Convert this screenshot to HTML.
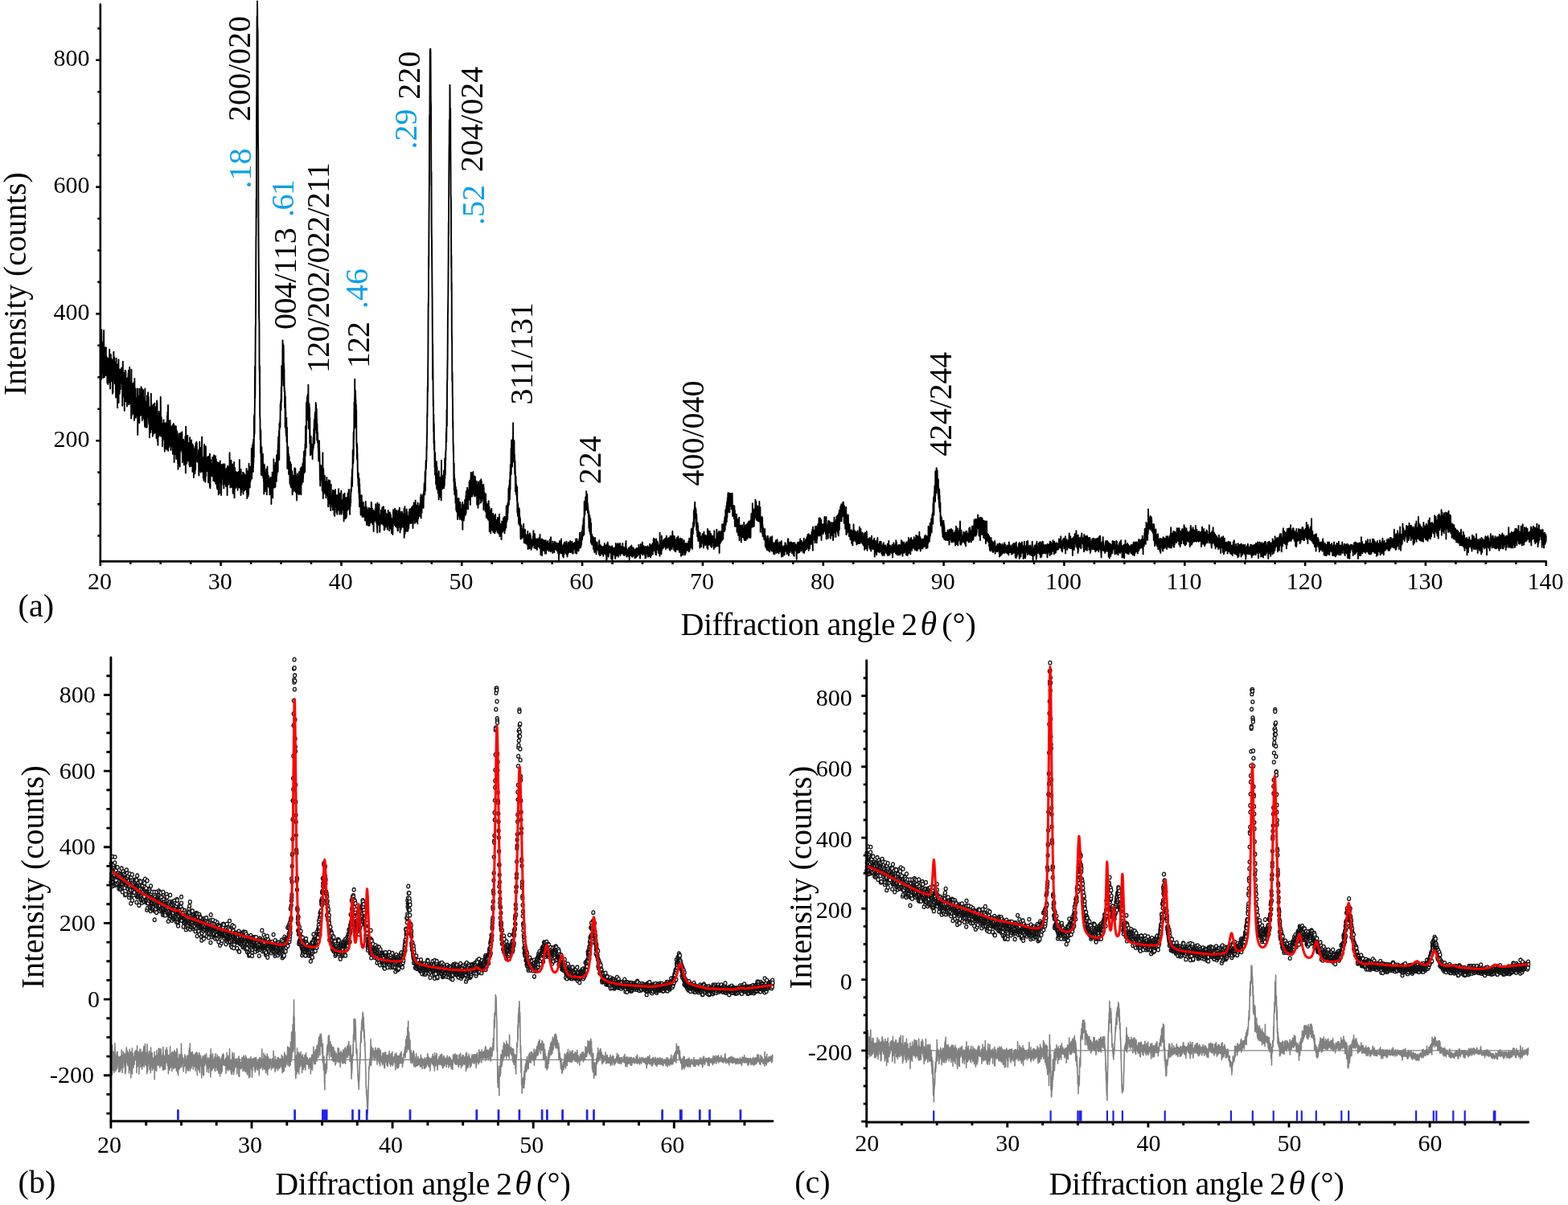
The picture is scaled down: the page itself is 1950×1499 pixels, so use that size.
<!DOCTYPE html><html><head><meta charset="utf-8"><title>XRD</title><style>html,body{margin:0;padding:0;background:#fff;overflow:hidden}svg{display:block}</style></head><body><svg xmlns="http://www.w3.org/2000/svg" width="1950" height="1499" viewBox="0 0 1950 1499" font-family="'Liberation Serif', 'Times New Roman', serif"><rect width="1950" height="1499" fill="#fff"/><defs><marker id="o" markerUnits="userSpaceOnUse" markerWidth="10" markerHeight="10" refX="5" refY="5" overflow="visible"><ellipse cx="5" cy="5" rx="1.95" ry="2.3" fill="#fff" stroke="#111" stroke-width="1.3"/></marker></defs><path transform="translate(124.80,0) scale(0.14983,0.1)" d="M0 4630l1-387 1 308 1-87 1-23 1 94 1 95 1-284 1 39 1 332 1-616 1 205 1 245 1-237 1 205 1-55 1-126 1 300 1-261 1-118 1 16 1 229 1-166 1 363 1-205 1-87 1 252 1-173 1-261 1-118 1 261 1-8 1 260 1 39 1 32 1-276 1-32 1 205 1 79 1-205 1-8 1 63 1-197 1 197 1 0 1 150 1-173 1-174 1 190 1 0 1-56 1 24 1-32 1 0 1-7 1 205 1-158 1 276 1-268 1 221 1-166 1-79 1 134 1-71 1 245 1-111 1-213 1 261 1-253 1 292 1-71 1 32 1-150 1-79 1 229 1-119 1-252 1 276 1 71 1-166 1 87 1 63 1 158 1-363 1 197 1-79 1 150 1-331 1 79 1-24 1 150 1-79 1-55 1-16 1 103 1 47 1 47 1 56 1 31 1-181 1 87 1 244 1-252 1-166 1 181 1 221 1-236 1-119 1 79 1 87 1-308 1-8 1 277 1-119 1 55 1-47 1-95 1 87 1 103 1 110 1 24 1-111 1-157 1 118 1 32 1-24 1 31 1-63 1 229 1 118 1-213 1 103 1-379 1 245 1 16 1 181 1-252 1 126 1-237 1 40 1 228 1-165 1 434 1-276 1-261 1 63 1 87 1 24 1 197 1-8 1-213 1-213 1 537 1-379 1 8 1-48 1 253 1-47 1-71 1 142 1 31 1-47 1-103 1-63 1 55 1-8 1 103 1 8 1-245 1 158 1 8 1-134 1-40 1-7 1 118 1 63 1-39 1 15 1-165 1 157 1-47 1 95 1-190 1 458 1-323 1-48 1 261 1-442 1 307 1 8 1 119 1-253 1 87 1 110 1-110 1-55 1-71 1 134 1 158 1-48 1 229 1-205 1-189 1 31 1 79 1 40 1-261 1 182 1-87 1 71 1 142 1-292 1 371 1 0 1-103 1 40 1-16 1 8 1-213 1 126 1-39 1 260 1-95 1-252 1 300 1-308 1 292 1-174 1 150 1-134 1 150 1-87 1-252 1 276 1-316 1 332 1 94 1-165 1 63 1-276 1 118 1-40 1 71 1-236 1 221 1 39 1 174 1 15 1-142 1-102 1-16 1 268 1-189 1 47 1 174 1-213 1 363 1-324 1-284 1 458 1-134 1 244 1-142 1-197 1 237 1-126 1 39 1 8 1-71 1-40 1-94 1 55 1 181 1-252 1 24 1 363 1-284 1-16 1-24 1 63 1 237 1-134 1 237 1-245 1-276 1 173 1-15 1 173 1 63 1 8 1-150 1 119 1-16 1-229 1 363 1-39 1-103 1-55 1 8 1 165 1-205 1 47 1-63 1 190 1-174 1 8 1 111 1-56 1 48 1-245 1 576 1-213 1 32 1-166 1 39 1-31 1-142 1 300 1-95 1-79 1 126 1-197 1 8 1 126 1 142 1-426 1 142 1 8 1 47 1 8 1-102 1 110 1 79 1-166 1 79 1 111 1 15 1-260 1 71 1-166 1 316 1 32 1-150 1-119 1 103 1 23 1-181 1 331 1 64 1-64 1-47 1-87 1-79 1 79 1-142 1 300 1-339 1 339 1-245 1 261 1-158 1 40 1-56 1-31 1 126 1-16 1-39 1 189 1-63 1 110 1-205 1-268 1 181 1 206 1-24 1-205 1 181 1 142 1-71 1 8 1-8 1-205 1 79 1 189 1-110 1 71 1 16 1 31 1-394 1 252 1-110 1-32 1 158 1-110 1 0 1 39 1-237 1 229 1 71 1-110 1-134 1 94 1 182 1 47 1 16 1-32 1-126 1-55 1 379 1-269 1 134 1-220 1-24 1 205 1-39 1 63 1-158 1 244 1-63 1-47 1-229 1-142 1 292 1 150 1-158 1 119 1-158 1 189 1-87 1-47 1-63 1 79 1-166 1 142 1 237 1-332 1 150 1 48 1-261 1 300 1-126 1 102 1-252 1 213 1-71 1 197 1-339 1 300 1-237 1-24 1-7 1-72 1 363 1-189 1 32 1-32 1-79 1 119 1 110 1-79 1-197 1 323 1-142 1 127 1-253 1 331 1-149 1-24 1-32 1-260 1 95 1 307 1-378 1 402 1 79 1-40 1-197 1-39 1 323 1-307 1 78 1-110 1 134 1-158 1 48 1 205 1-308 1 150 1-63 1-63 1 268 1-103 1 87 1 16 1-142 1-8 1-110 1-8 1 165 1 103 1-473 1 126 1 260 1 103 1-63 1-79 1-95 1 16 1 63 1 87 1-48 1 56 1-40 1 16 1-71 1 284 1-174 1-7 1 102 1-110 1 102 1-47 1-40 1 0 1 40 1-197 1 110 1-16 1 16 1 103 1 23 1-197 1 142 1 166 1 47 1-276 1 110 1-71 1 56 1-16 1-24 1 126 1-142 1-118 1 40 1 276 1-40 1 0 1-126 1-126 1 63 1 244 1-205 1-86 1 142 1-269 1 292 1-205 1-134 1 418 1-110 1-95 1-300 1 568 1-268 1 39 1 79 1 48 1-32 1-24 1 111 1-324 1 308 1-79 1 32 1-32 1-55 1 103 1-64 1-220 1 78 1 158 1-134 1 189 1-110 1 189 1-31 1-32 1-236 1 118 1-40 1 48 1-24 1 0 1-39 1 71 1 118 1-8 1-229 1-15 1 94 1 253 1-363 1 142 1 47 1-8 1 40 1-237 1 16 1 307 1-102 1-47 1-111 1 418 1-378 1-79 1 228 1-31 1-142 1 95 1 197 1-24 1-8 1 40 1-150 1 55 1-63 1-71 1-118 1 173 1 237 1-363 1 173 1-142 1 182 1-87 1 55 1-15 1-142 1 213 1-87 1-8 1 71 1 205 1-284 1 355 1-150 1-110 1-95 1-47 1 0 1 31 1 103 1-174 1 166 1-150 1 371 1-142 1-40 1-63 1 268 1-355 1-15 1 23 1 142 1-213 1 221 1-158 1 111 1-8 1 16 1-16 1-118 1-32 1 0 1 55 1 32 1 24 1-142 1 236 1 24 1-71 1 189 1-158 1-15 1 102 1-47 1-134 1 102 1-31 1-103 1 182 1 55 1-118 1-48 1 245 1-268 1 102 1 16 1 47 1-71 1-118 1 47 1-31 1 126 1-205 1 31 1 142 1 284 1-292 1-284 1 300 1 103 1-292 1 252 1-118 1-24 1 237 1-174 1-110 1 166 1-103 1 71 1-110 1-87 1 315 1-86 1-71 1 110 1 24 1-48 1-7 1 39 1-103 1-47 1 8 1 8 1-55 1 276 1-134 1-32 1-31 1 220 1-362 1 291 1-118 1-47 1-40 1 190 1-16 1-95 1-23 1-32 1 103 1 71 1 71 1-324 1 324 1-213 1 39 1-47 1-16 1-40 1 150 1-47 1 245 1-206 1 95 1-79 1-142 1 119 1-103 1 142 1-63 1 87 1 221 1-190 1-47 1-40 1 16 1 16 1-110 1 31 1 111 1-135 1 300 1-173 1-16 1-150 1 189 1 103 1-174 1-157 1 205 1-16 1 16 1-32 1-126 1-63 1 150 1 63 1-197 1 181 1 0 1 47 1 0 1-63 1 55 1-71 1 40 1-47 1 94 1-16 1-47 1 24 1-8 1-103 1 229 1 87 1-268 1 102 1-165 1 149 1 111 1-347 1 189 1 87 1 31 1-134 1 127 1-103 1-79 1 260 1-102 1-87 1-118 1 79 1 142 1-198 1 190 1-24 1-55 1 158 1-426 1 189 1 103 1 78 1 64 1-150 1-32 1 111 1-24 1-71 1 63 1 182 1-253 1 39 1-47 1 150 1 142 1-87 1-158 1-173 1-32 1 213 1 174 1-111 1-78 1 0 1 39 1-126 1 229 1 126 1-126 1 23 1-339 1 245 1 126 1-205 1-32 1 95 1-16 1-79 1 47 1 127 1-127 1-39 1 63 1-55 1 31 1 87 1-8 1-79 1 119 1-166 1-8 1 324 1-198 1 71 1-7 1-79 1 31 1-71 1 24 1 0 1 110 1-39 1-174 1 387 1-410 1 221 1-166 1 371 1-213 1-127 1 71 1-86 1 189 1-32 1 16 1-118 1 8 1 55 1 16 1 8 1-40 1 103 1-87 1 8 1 39 1 8 1-205 1 213 1-102 1-95 1 63 1 71 1-95 1 237 1-16 1-79 1-15 1-16 1-190 1 24 1 166 1-24 1 111 1-119 1 166 1-268 1 189 1-103 1 182 1-260 1 71 1-127 1 182 1 166 1-79 1 47 1-276 1 213 1 16 1-127 1 32 1-24 1 95 1 150 1-63 1 79 1-332 1 40 1 118 1-95 1 0 1 0 1 16 1-31 1 71 1 228 1 56 1-395 1 71 1 300 1-260 1 102 1-31 1 197 1-324 1 87 1-87 1-23 1-24 1-32 1 135 1 7 1 79 1-110 1 79 1 87 1-229 1 47 1 332 1-79 1-158 1 110 1-244 1 94 1-31 1-40 1-31 1 150 1-79 1 31 1-47 1 24 1-87 1 87 1 102 1-63 1 126 1-142 1-110 1 205 1 95 1-150 1 47 1-47 1 55 1-63 1 103 1-245 1 174 1-72 1-23 1 87 1-56 1 71 1 16 1-16 1-71 1 166 1-31 1-8 1-24 1-158 1 111 1 23 1-39 1-87 1 174 1-166 1 316 1-135 1-221 1-7 1 126 1 63 1-118 1 118 1-182 1 32 1 39 1 150 1-165 1 110 1 0 1 16 1-24 1-55 1-32 1 0 1-244 1 355 1-142 1 174 1-48 1 95 1-221 1 87 1 16 1 23 1-95 1 127 1-79 1-197 1 244 1 48 1 39 1-174 1 71 1 79 1 8 1-79 1 95 1-284 1 213 1 0 1-8 1 158 1-32 1-102 1-32 1 119 1-277 1 119 1-79 1 16 1 126 1-245 1 213 1 190 1 39 1-213 1-79 1 71 1-150 1 190 1-87 1-8 1 158 1-119 1-7 1-64 1-15 1 23 1 166 1-142 1-32 1 95 1-63 1 0 1-40 1 103 1-31 1 23 1 16 1 63 1-31 1 78 1-86 1-79 1 8 1-16 1 79 1-134 1 165 1-110 1 31 1 111 1-8 1-126 1 63 1-24 1-252 1 229 1 39 1-55 1 118 1-31 1-64 1 119 1-71 1 16 1-32 1 174 1-324 1 174 1-63 1 149 1 24 1-126 1 31 1-86 1 142 1 8 1-119 1-31 1-24 1 87 1-24 1 95 1-198 1 16 1 8 1 245 1-229 1 150 1-111 1 8 1-79 1 135 1 7 1 64 1 15 1-157 1 134 1-142 1 94 1 16 1-142 1 8 1 174 1-79 1-16 1-63 1 126 1-24 1-31 1-71 1-24 1 134 1-213 1 119 1 110 1 71 1-95 1 166 1-237 1-31 1-71 1 71 1 205 1-134 1-95 1 268 1-126 1-142 1 55 1 190 1-142 1-56 1-189 1 229 1 39 1-102 1-16 1-24 1-87 1 143 1 118 1-142 1 0 1-95 1 8 1 150 1-150 1-32 1 111 1-111 1 64 1-8 1 23 1-94 1-213 1 252 1 126 1-102 1 23 1-94 1 31 1-276 1 166 1-126 1 244 1-71 1-244 1 363 1-206 1 150 1-347 1 284 1-150 1-47 1 134 1-505 1 245 1-268 1 213 1 23 1-284 1-95 1-457 1 394 1-63 1-268 1-324 1-236 1-16 1-308 1-410 1-387 1-7 1-458 1 229 1-695 1-631 1-244 1-269 1-662 1 228 1 56 1-474 1 174 1 442 1-284 1 110 1 805 1 394 1 174 1 87 1 694 1 355 1 276 1 142 1 276 1 300 1 8 1 55 1 584 1-63 1 245 1-229 1 607 1 24 1 24 1 252 1-79 1-47 1 292 1-134 1-142 1 292 1 63 1 197 1-229 1 182 1-205 1-95 1 126 1 158 1-134 1 126 1 79 1-47 1-64 1 71 1-78 1-150 1 157 1 0 1 143 1-182 1 103 1-56 1 174 1-87 1 245 1-182 1 48 1 23 1-252 1 308 1-127 1 8 1-63 1-39 1 244 1-94 1 23 1-126 1-24 1 127 1 15 1 48 1-127 1-118 1 118 1 103 1 16 1-8 1 87 1-308 1 150 1 39 1-229 1 182 1-111 1 111 1-79 1 95 1 47 1-71 1-31 1-32 1 79 1 47 1 8 1-63 1 79 1-16 1-79 1-8 1 8 1 119 1 63 1-158 1 16 1 39 1-47 1-63 1 94 1-55 1 126 1-71 1 56 1 55 1-174 1 300 1-252 1-79 1 31 1 182 1-166 1 189 1-86 1-214 1 111 1-95 1 205 1 95 1-126 1-190 1 32 1-16 1 111 1-8 1 8 1-292 1 260 1-158 1 174 1-150 1 229 1-55 1-87 1 87 1-24 1-24 1 24 1-197 1 31 1 237 1-300 1 158 1-8 1 8 1-111 1 8 1 111 1-63 1 126 1-324 1 253 1-8 1-24 1-94 1-79 1 102 1-55 1 24 1-182 1 87 1 182 1-348 1 103 1-189 1 244 1-31 1-56 1 111 1-134 1-205 1 31 1 324 1-450 1 79 1-87 1 55 1-47 1-16 1-31 1 94 1-292 1 64 1-56 1-31 1 39 1-71 1 134 1-252 1-40 1 32 1 158 1-450 1 166 1-63 1 0 1 0 1-71 1 63 1-119 1-292 1 40 1 0 1 173 1 198 1-63 1 213 1-505 1 23 1 198 1 0 1 47 1 102 1-71 1 277 1-40 1 0 1 245 1-56 1-149 1 55 1 394 1-386 1 102 1-8 1 135 1-40 1 260 1-94 1 134 1-32 1-165 1-24 1 213 1 87 1-111 1 63 1-134 1 166 1 347 1-237 1 64 1 71 1-79 1 23 1 63 1-173 1 126 1 16 1 39 1-94 1 252 1-221 1 158 1-158 1 16 1 103 1 102 1-63 1 0 1 182 1-103 1 47 1-189 1-24 1 237 1-16 1 79 1-142 1-47 1-87 1 292 1-205 1 110 1 55 1-31 1 39 1-110 1 47 1-110 1 165 1 127 1-79 1-119 1 166 1-63 1-118 1 173 1-197 1 47 1 87 1-47 1 39 1-8 1 0 1-31 1 8 1 63 1 23 1-276 1 284 1-86 1-119 1 16 1 158 1-245 1 16 1 189 1 87 1-166 1 71 1 8 1 48 1-16 1-71 1-71 1 268 1 32 1-308 1 166 1-142 1 55 1-103 1 32 1 102 1-7 1-48 1-39 1 126 1 79 1-150 1 16 1 8 1 71 1-142 1 213 1-119 1-165 1 221 1-142 1-8 1 0 1 197 1-253 1 79 1-39 1 16 1 23 1-110 1-24 1 308 1-103 1-63 1 182 1-340 1 206 1-127 1 24 1 39 1 71 1-63 1-47 1-71 1 87 1 16 1-24 1-158 1 95 1 87 1 47 1-95 1 48 1-64 1-181 1 55 1 32 1-32 1-142 1 268 1-173 1 47 1-47 1-16 1 24 1-111 1 261 1-284 1-64 1 150 1-23 1-347 1 284 1-87 1 8 1-48 1-23 1 134 1-560 1 331 1-166 1 24 1-205 1 55 1-87 1-23 1 15 1 87 1-126 1 308 1-316 1 24 1 55 1 213 1-410 1 355 1-142 1 331 1-181 1 79 1 47 1 8 1-261 1 245 1-16 1-181 1 442 1-316 1 245 1 47 1 0 1 173 1-7 1-32 1-47 1-127 1-23 1 165 1-71 1 0 1 79 1-39 1 87 1-119 1 79 1-23 1-32 1 8 1 87 1 63 1-142 1 39 1-8 1-63 1 55 1-142 1-7 1 126 1-158 1 134 1-213 1 0 1 47 1-118 1-39 1 47 1 245 1-245 1-32 1-86 1 197 1-221 1 32 1-24 1 197 1-55 1-268 1 55 1 110 1-142 1 111 1 87 1 157 1-299 1 149 1-23 1 260 1-126 1-79 1 87 1 79 1 71 1-127 1 87 1 24 1 16 1 63 1-8 1 55 1-47 1 165 1-7 1-95 1 39 1-15 1-174 1 150 1-24 1 87 1 71 1 87 1 118 1-31 1 102 1-110 1 55 1-47 1-79 1 47 1-118 1 8 1 0 1 23 1 63 1 79 1-79 1 71 1 0 1-47 1 142 1 55 1-173 1-127 1 64 1-237 1 473 1-63 1 158 1-126 1-245 1 24 1 244 1-63 1 56 1 47 1-95 1 8 1-31 1-16 1-32 1-55 1 126 1 16 1-16 1-31 1 55 1 71 1-32 1-110 1 158 1-158 1 197 1-173 1 0 1 78 1-15 1 15 1-157 1 181 1 32 1-95 1-63 1 71 1 47 1-102 1 157 1 0 1 48 1-213 1 300 1-79 1-127 1-15 1-111 1 119 1 78 1-157 1 31 1-8 1 8 1 48 1 173 1-31 1-253 1 158 1 166 1-158 1-79 1 55 1 32 1 197 1-197 1 15 1-142 1 135 1 7 1 40 1-32 1-23 1 63 1 31 1 32 1-111 1 40 1 0 1 102 1-55 1 87 1-229 1-16 1 64 1 39 1-39 1 157 1-8 1-205 1 182 1-79 1 55 1 142 1-142 1-118 1-40 1 316 1-79 1-79 1-126 1-16 1-31 1 0 1 165 1 48 1-150 1 94 1-23 1 31 1 8 1-102 1 157 1 56 1-79 1-63 1 31 1-8 1 142 1-87 1-149 1 102 1 40 1-142 1 134 1-103 1 47 1-15 1-48 1-94 1 71 1 173 1 24 1-63 1-8 1-71 1 55 1-16 1 150 1-126 1-47 1-87 1 71 1 55 1 103 1-95 1 0 1 16 1-24 1-24 1 0 1-134 1 253 1 39 1-150 1 127 1-79 1-8 1 55 1-118 1 8 1 39 1-32 1-23 1 94 1-71 1 40 1 8 1 39 1-173 1 110 1 134 1-150 1 237 1-213 1-39 1-56 1 95 1 71 1-205 1 71 1-16 1 118 1-71 1 190 1-174 1 197 1-86 1 39 1-205 1 16 1 118 1-142 1 87 1 158 1-119 1 103 1-142 1-24 1 87 1-126 1-24 1 158 1-118 1 47 1 16 1-158 1 189 1-31 1-24 1-55 1-16 1 134 1-189 1-40 1-15 1 142 1 55 1 39 1-118 1 24 1 0 1 39 1 126 1-165 1-16 1 8 1 79 1-103 1-24 1 79 1-165 1 47 1-32 1-31 1 39 1-31 1-71 1-40 1-39 1 79 1-111 1-63 1 213 1-126 1-71 1-32 1-221 1 24 1 95 1-48 1 95 1-87 1-300 1 292 1-307 1 102 1-102 1-71 1-284 1 134 1-71 1-111 1 363 1-607 1 473 1-142 1-189 1 260 1 87 1-347 1 229 1-119 1 111 1 126 1-174 1 284 1-213 1 387 1 63 1 16 1-55 1 197 1-8 1-174 1 174 1-63 1 118 1 134 1 56 1-64 1 40 1 87 1 31 1-158 1 64 1 86 1 79 1 24 1-189 1 236 1-229 1 261 1 87 1-284 1 189 1-118 1 94 1 63 1-86 1 110 1-55 1 55 1 134 1-166 1 79 1-23 1-40 1 150 1-150 1 0 1-94 1 86 1 40 1 79 1-40 1 103 1-134 1 47 1 16 1-24 1-31 1 15 1 111 1-182 1 103 1-24 1 24 1 79 1-95 1 55 1 32 1-63 1-48 1 8 1 40 1 55 1-16 1-16 1 95 1-158 1 56 1 94 1-197 1-32 1 237 1-79 1 48 1-111 1 150 1-134 1 16 1-56 1 221 1-86 1-40 1-79 1 63 1-47 1 24 1 94 1-55 1 24 1-8 1 47 1-118 1 31 1 158 1-189 1 95 1 71 1-198 1 95 1-32 1 40 1-8 1 126 1-181 1 110 1-55 1 8 1 63 1 24 1-79 1-103 1 134 1 0 1-47 1 47 1-134 1 63 1-142 1 158 1-142 1 197 1-55 1 95 1-48 1-7 1-64 1-55 1 119 1 78 1-94 1 8 1 23 1-94 1-16 1 126 1 0 1 134 1-142 1-102 1 126 1-126 1 15 1 8 1-8 1 56 1-79 1 0 1 47 1 32 1-95 1-16 1 150 1-102 1 55 1-158 1 181 1 24 1 24 1-126 1 134 1-119 1 79 1-126 1-16 1 32 1 213 1-32 1 87 1-371 1 221 1-8 1-31 1-40 1 63 1-23 1 0 1 94 1-213 1 0 1 119 1 15 1-142 1-39 1 166 1-40 1 71 1-47 1 197 1-16 1-189 1 47 1-47 1 24 1-32 1 24 1 31 1-47 1 79 1-142 1 166 1-40 1-95 1 87 1-87 1-31 1 39 1 87 1-158 1 95 1 103 1-206 1 127 1-32 1-16 1 95 1-95 1 142 1-15 1-40 1-173 1 102 1-31 1 110 1-71 1 181 1-126 1-47 1 71 1 95 1-24 1-158 1-47 1 118 1-134 1 205 1-134 1 24 1-56 1 174 1-166 1 56 1 71 1-24 1-16 1-39 1 79 1 0 1-64 1 8 1-31 1-32 1 190 1-119 1-23 1 15 1 79 1-126 1-63 1 126 1 40 1-103 1 47 1 0 1-8 1 48 1-32 1 48 1 86 1-205 1 48 1 31 1-102 1 102 1-87 1 24 1 79 1 63 1-118 1 15 1-47 1 174 1-103 1-24 1-7 1 15 1-8 1 182 1-142 1 24 1 63 1-111 1 32 1 55 1 16 1-119 1 198 1-166 1 71 1-87 1-126 1 63 1 71 1-102 1-24 1 55 1-55 1 110 1-23 1 47 1 16 1-24 1 55 1-47 1-158 1 103 1 63 1-134 1 23 1 166 1-24 1-165 1 110 1 0 1 48 1 39 1-158 1 134 1-86 1-95 1 95 1 47 1-55 1 8 1 63 1-48 1 103 1 39 1-86 1 86 1-79 1-31 1-24 1-110 1 189 1-31 1 0 1 39 1-213 1 197 1-39 1-8 1-174 1 190 1 31 1-142 1 134 1 95 1-221 1 16 1 158 1-8 1-87 1 71 1 32 1-16 1-205 1 47 1 150 1-63 1-24 1 32 1-16 1-126 1 165 1 8 1-47 1 39 1-15 1 0 1 39 1-150 1 126 1-134 1 150 1 0 1-79 1 40 1-79 1 8 1-111 1 363 1-134 1-63 1 8 1-8 1-189 1 339 1-205 1 63 1-16 1-79 1 79 1-55 1-40 1 8 1 213 1-87 1 48 1-40 1-39 1-158 1 189 1-23 1-16 1-118 1 150 1-71 1-32 1 16 1 181 1-47 1-142 1 173 1-110 1 87 1-134 1 31 1 103 1-95 1 55 1-39 1-126 1 63 1-8 1-87 1 103 1-87 1 63 1 0 1 47 1 32 1 16 1-16 1-111 1 8 1 87 1-150 1 134 1-23 1 71 1-40 1-126 1 32 1 71 1-135 1 95 1-16 1-71 1 40 1 63 1 55 1-181 1 276 1-134 1 86 1-86 1-103 1 87 1 8 1-32 1-142 1 40 1 86 1 64 1-16 1-48 1 40 1-8 1 71 1 24 1-24 1-95 1 87 1-252 1 142 1-8 1-24 1 150 1 8 1-63 1-63 1 0 1-79 1 16 1 23 1-8 1 63 1-39 1 79 1 8 1-103 1 190 1-221 1-40 1 174 1-95 1 40 1 78 1-94 1-16 1-39 1 94 1-31 1 47 1-118 1 79 1-79 1 118 1-63 1 71 1-16 1-142 1 95 1-8 1-71 1 118 1-213 1 205 1-39 1-197 1 292 1-269 1 95 1-8 1 111 1-95 1 102 1-181 1 95 1 23 1-15 1-32 1-103 1 48 1 79 1 8 1 0 1-158 1 16 1 126 1 31 1-142 1 40 1-103 1 40 1-56 1-47 1-39 1 102 1-102 1 102 1 40 1-150 1-103 1-39 1 110 1 134 1-221 1 32 1-111 1-78 1 110 1-8 1-71 1-16 1-8 1-181 1 39 1-110 1-63 1-47 1-229 1 39 1-150 1-221 1 0 1 56 1-277 1-149 1-332 1-331 1 31 1-142 1-481 1 150 1-402 1-269 1-142 1-221 1-315 1-513 1-47 1 23 1-402 1-339 1-95 1 8 1 23 1-39 1 39 1 237 1 355 1 48 1 39 1 647 1 339 1-173 1 631 1 181 1 32 1 229 1 165 1 190 1 142 1 284 1 276 1 450 1-442 1 205 1 150 1 205 1 221 1-79 1 158 1 237 1-213 1 355 1-56 1-189 1 331 1-63 1-55 1 150 1 181 1-63 1-16 1 174 1-276 1 134 1-24 1 63 1 8 1 87 1 119 1-190 1 71 1-134 1 268 1-118 1-174 1 332 1-8 1-118 1-135 1 277 1-111 1 24 1 39 1-16 1-134 1 103 1 134 1-55 1-63 1 134 1-55 1-24 1 150 1-355 1 315 1-150 1 24 1 40 1-158 1 102 1 79 1-173 1 55 1 142 1 47 1-221 1 95 1 118 1-181 1 181 1-71 1 16 1 103 1-237 1-260 1 260 1 24 1 55 1-16 1-39 1-32 1 103 1-56 1 24 1-71 1-39 1-24 1 142 1 0 1-118 1 86 1-15 1-63 1 0 1-95 1 221 1-221 1 134 1-118 1 173 1-118 1 31 1-252 1 252 1-228 1 173 1 8 1-166 1-110 1 87 1-111 1 0 1-8 1-213 1 103 1-158 1 166 1-182 1-221 1 87 1 119 1-474 1-95 1-7 1-182 1-79 1-260 1-276 1-56 1-118 1-118 1-261 1-142 1-473 1 158 1-300 1-395 1-205 1-181 1-48 1-299 1 205 1-95 1-126 1-418 1 39 1 276 1 150 1 87 1-260 1 520 1 229 1 339 1 8 1 71 1 426 1 395 1-158 1 434 1-95 1 639 1 32 1 103 1 449 1-118 1 71 1 229 1 39 1 142 1 229 1-95 1 253 1 24 1 118 1-87 1 182 1 47 1 221 1-150 1-79 1 331 1-197 1 63 1 190 1-95 1-103 1 111 1-16 1-47 1 142 1-79 1 189 1-16 1-181 1 24 1 47 1 213 1-95 1 63 1-213 1 269 1 0 1-48 1-63 1 79 1-16 1-39 1 31 1 150 1-39 1-213 1 118 1-126 1 32 1 31 1 87 1-111 1 158 1-197 1 126 1 0 1 79 1 16 1-24 1 24 1 24 1 15 1-86 1-71 1-56 1 95 1 63 1-55 1-79 1 118 1-63 1 48 1 15 1 48 1-87 1 110 1 8 1-94 1-48 1 8 1 8 1 79 1-16 1-87 1-71 1 340 1-284 1 71 1 15 1 48 1-8 1 39 1-110 1 87 1-64 1 95 1-197 1 31 1 135 1-127 1 63 1 32 1-79 1-63 1-55 1 87 1-71 1 31 1-8 1-23 1 173 1-87 1-150 1 213 1-47 1-221 1 221 1-95 1-15 1 31 1-102 1 0 1 118 1-205 1 197 1-39 1-32 1-31 1 94 1-118 1 197 1-150 1 24 1-24 1-55 1-39 1 78 1-71 1 119 1-103 1-118 1 134 1-39 1-32 1-79 1 32 1 39 1 71 1-118 1 276 1-300 1 103 1-134 1 63 1-135 1 182 1 118 1-181 1 39 1-31 1-119 1 190 1-142 1-16 1-16 1 276 1-189 1 79 1-40 1 56 1-40 1-110 1-63 1 94 1 174 1-213 1 221 1-71 1-126 1 149 1-102 1 87 1 86 1-118 1 71 1-197 1 0 1 24 1 228 1-244 1 142 1-16 1 32 1 63 1-56 1-55 1-55 1 79 1 55 1 40 1-8 1-166 1 79 1 39 1 158 1 16 1-213 1 8 1-40 1 71 1 71 1 95 1-71 1 118 1-228 1-16 1-79 1 276 1-39 1-174 1 16 1 197 1-110 1-71 1 39 1-71 1 24 1 55 1-87 1 40 1-111 1 221 1-103 1 32 1-39 1-56 1-23 1 244 1-292 1 56 1 7 1 40 1-79 1 47 1 198 1-95 1-32 1 8 1 16 1-87 1 150 1-24 1 24 1-79 1-31 1 118 1-103 1 87 1-158 1 316 1-181 1-95 1 134 1 71 1-8 1-110 1 94 1-118 1 87 1 55 1 0 1-63 1-40 1 158 1 32 1 8 1-119 1-102 1 189 1-79 1 87 1-95 1 190 1-150 1 150 1-32 1-79 1 48 1-8 1-32 1 24 1-87 1 63 1 118 1-55 1 40 1 0 1-158 1 189 1-142 1-8 1-86 1 197 1-16 1 0 1 55 1-150 1-8 1 300 1-134 1-102 1 157 1-23 1-48 1 8 1 8 1 0 1-126 1 284 1-126 1 47 1-95 1 48 1-56 1 32 1-158 1 253 1-56 1-94 1 87 1-32 1 110 1-149 1 55 1-40 1 103 1-24 1 16 1-166 1 229 1-142 1 16 1-71 1 71 1 87 1-103 1 150 1-181 1 78 1 40 1-16 1-71 1 158 1-229 1 166 1-150 1 95 1-119 1 213 1-142 1 63 1 40 1-95 1 71 1 40 1-40 1 40 1-32 1-8 1-79 1 79 1 47 1-94 1 71 1 39 1 16 1-189 1 126 1-111 1 166 1 8 1-181 1 126 1 0 1 0 1 55 1-126 1 142 1-126 1 118 1-237 1 126 1-23 1 173 1-126 1 63 1 16 1 0 1-110 1 55 1 31 1 8 1 0 1-8 1-15 1 55 1-16 1 87 1-142 1-40 1 71 1-118 1 134 1-55 1-71 1 63 1 63 1-79 1 48 1-95 1 24 1 55 1-48 1-78 1 39 1 16 1 63 1 24 1 7 1-118 1 134 1-102 1-79 1 205 1-134 1 87 1-64 1-47 1 103 1 15 1-71 1-47 1 40 1 31 1-118 1 118 1 16 1-118 1-150 1 181 1-39 1 55 1-40 1 32 1-110 1 55 1 0 1-142 1 173 1-197 1 71 1 47 1-86 1 8 1-64 1 24 1-189 1 55 1-24 1 174 1-87 1-150 1 32 1 31 1-15 1-119 1 245 1-119 1 32 1-260 1 221 1-135 1-173 1 134 1-79 1 0 1-87 1-173 1 323 1-134 1-197 1-95 1 245 1-182 1 55 1-7 1 205 1 15 1-205 1 24 1-8 1 111 1-292 1 181 1-355 1 363 1-63 1-32 1 127 1 86 1-39 1-47 1 71 1-245 1 276 1-110 1 15 1 87 1 150 1-142 1-24 1 103 1 39 1 237 1-87 1-63 1-8 1-31 1 118 1-23 1 134 1-127 1 16 1 95 1-79 1 134 1 32 1 8 1-174 1 316 1-135 1 64 1-16 1 134 1-158 1 24 1 87 1 23 1-23 1-48 1 190 1-198 1 134 1-71 1 127 1-182 1 126 1-94 1 173 1 8 1-110 1 39 1 32 1-48 1 56 1 55 1 110 1 32 1-182 1 8 1 103 1-87 1 55 1-15 1-48 1 158 1-110 1-8 1 47 1-16 1 79 1-71 1-24 1-7 1 86 1-79 1 32 1-24 1 48 1-40 1 32 1-126 1 157 1-79 1 72 1 86 1-110 1-40 1 24 1 0 1 95 1-63 1 94 1-165 1 7 1 150 1-39 1 47 1-23 1-16 1 47 1-39 1-63 1 55 1-55 1 55 1-16 1 71 1-110 1 110 1-39 1 47 1-95 1 87 1-87 1-71 1 87 1 134 1-165 1 39 1-16 1 8 1-39 1 8 1 55 1 63 1-55 1-48 1 142 1-102 1 102 1-150 1-39 1 47 1 71 1-63 1-23 1-16 1 8 1 23 1 103 1-47 1-24 1 24 1 102 1-95 1 32 1-47 1-8 1 94 1-39 1-39 1 63 1-56 1 40 1 0 1-79 1 47 1 24 1-103 1 95 1-16 1 0 1-150 1 119 1-16 1 63 1-55 1-16 1 118 1-86 1-56 1-7 1 78 1-102 1 150 1-87 1 24 1 79 1-103 1 118 1-31 1-32 1 55 1-110 1 79 1 39 1-79 1 16 1 55 1-23 1-71 1 0 1 118 1-126 1 0 1-8 1 79 1 16 1-32 1 32 1-24 1 16 1-8 1 8 1-24 1-8 1 24 1 8 1-103 1 32 1 23 1 71 1-78 1 39 1-32 1 16 1-110 1 118 1 55 1-102 1 0 1-8 1 189 1-87 1 0 1 40 1-87 1-24 1-15 1 8 1 39 1-71 1 63 1 142 1-118 1 23 1-47 1 32 1 0 1-87 1 102 1 32 1-79 1-16 1 40 1-8 1 31 1 32 1-24 1 16 1-110 1 71 1-79 1 71 1 39 1-55 1 0 1-47 1 157 1-78 1-40 1 55 1-39 1 24 1-87 1 8 1 157 1-23 1-32 1-39 1 8 1 15 1-55 1-8 1 40 1 16 1-16 1 39 1-79 1 0 1 87 1-110 1 71 1-48 1 40 1 8 1-40 1 79 1-31 1 47 1-79 1 32 1 0 1 15 1-55 1 16 1 24 1 7 1-102 1 16 1 118 1-103 1 32 1 8 1-8 1 87 1-182 1 24 1 95 1 0 1-8 1 39 1-55 1 24 1 47 1-24 1 8 1 0 1-16 1-39 1 47 1 56 1-142 1 94 1-94 1 55 1-16 1 63 1-39 1 23 1-15 1-24 1 39 1-55 1 103 1-16 1-71 1 0 1-24 1-23 1 47 1-8 1 16 1 8 1 8 1-8 1 31 1-16 1-47 1 16 1-32 1 79 1-8 1-31 1 55 1 0 1-63 1 39 1-55 1 40 1 23 1 24 1-95 1 55 1 32 1 32 1-8 1-40 1-71 1 95 1-55 1 0 1 165 1-94 1-95 1 126 1-142 1 55 1 71 1-157 1 94 1-79 1 64 1 39 1-79 1-31 1 23 1 111 1-79 1 79 1-24 1-95 1 127 1-174 1 181 1-7 1-95 1 39 1 0 1 40 1-79 1 24 1 15 1 32 1 31 1-71 1 103 1-71 1-55 1-8 1 55 1 95 1-142 1-16 1 39 1-55 1 16 1 118 1-63 1 8 1-95 1 24 1 47 1-23 1-16 1 71 1-24 1 0 1 16 1-8 1-23 1 71 1-8 1-87 1-32 1-15 1 157 1-94 1 55 1-8 1-16 1-31 1-8 1 134 1-79 1-79 1 47 1 79 1-31 1-8 1-79 1-32 1 127 1-71 1 31 1-39 1 39 1 40 1-24 1 0 1-95 1 103 1-63 1 63 1-8 1-39 1 39 1-118 1 31 1 111 1-79 1-40 1 119 1-32 1-87 1 103 1-63 1 31 1-15 1 55 1-40 1 16 1-102 1 47 1 24 1 7 1-31 1 102 1-23 1-8 1 0 1 31 1-94 1 47 1-79 1 55 1 16 1-39 1 0 1 31 1-39 1-32 1 79 1-79 1 63 1-47 1 40 1 15 1-31 1 63 1 24 1-71 1 7 1 40 1-150 1 79 1 55 1-63 1 0 1 39 1-7 1 78 1-102 1-79 1 39 1 0 1 79 1 16 1-95 1 32 1 24 1 0 1-63 1 15 1 48 1-16 1 71 1-24 1-87 1 48 1 23 1-63 1-47 1 95 1-24 1-8 1-142 1 71 1 32 1 86 1-118 1 8 1 32 1 31 1-24 1 64 1-79 1 0 1 23 1-39 1 63 1-158 1 63 1 48 1-119 1 8 1 55 1 40 1-87 1-39 1-24 1-32 1 0 1 135 1-111 1 111 1-198 1 24 1-47 1 47 1-8 1 24 1 142 1-198 1-213 1 79 1 95 1-55 1-24 1 63 1-63 1-39 1 55 1-87 1-79 1 24 1 31 1 32 1-79 1 95 1 0 1-174 1 150 1 79 1-181 1 15 1-31 1 102 1-94 1 110 1 79 1-55 1-24 1 118 1-55 1-23 1 63 1-24 1 24 1 71 1-63 1-8 1 205 1-87 1-87 1 40 1 173 1-134 1-63 1 55 1 16 1 71 1 0 1 87 1-63 1-127 1 150 1 64 1-72 1 158 1-244 1 110 1 55 1 16 1 40 1-56 1 16 1 87 1-126 1 79 1 39 1-95 1 16 1 71 1 8 1-87 1 79 1-23 1-56 1 134 1 16 1-31 1-8 1-24 1-47 1 71 1-95 1 71 1 103 1-87 1-32 1-15 1 86 1-31 1-103 1 95 1 55 1 24 1-48 1-31 1 71 1-111 1 95 1 55 1-118 1 32 1 7 1-63 1 87 1-55 1 55 1-95 1 71 1 0 1-23 1 31 1-23 1 31 1-39 1 23 1 32 1-47 1 0 1 71 1-32 1 55 1-71 1-31 1-71 1 94 1-31 1-16 1 32 1 110 1-63 1-32 1 0 1 8 1 48 1 39 1-95 1-31 1 71 1-47 1 47 1-16 1 24 1-63 1 79 1-48 1-31 1 39 1 47 1-63 1 24 1 47 1-47 1 8 1-40 1 48 1-24 1-24 1 103 1-118 1 39 1 47 1-47 1-39 1 71 1 0 1-79 1-8 1-24 1 87 1 39 1 0 1-23 1 23 1-55 1-39 1 102 1-110 1 102 1-7 1 23 1-87 1 40 1-8 1 118 1-94 1-32 1 118 1-189 1 71 1-31 1 55 1-48 1-15 1-56 1 150 1-126 1 126 1-47 1 16 1-8 1 71 1-63 1 31 1-39 1-16 1 8 1 8 1-63 1 47 1-16 1-23 1 55 1-8 1-24 1 40 1-63 1 79 1-24 1 0 1 8 1-8 1 16 1 79 1-142 1 63 1-48 1 71 1-63 1 71 1-110 1 63 1 16 1 94 1-23 1-71 1 8 1 0 1 0 1-64 1 56 1 0 1 15 1 8 1-55 1 32 1 0 1-24 1 8 1-32 1 0 1 87 1-24 1-71 1 56 1-40 1 63 1 56 1-8 1-56 1-15 1-111 1 63 1 8 1-16 1 103 1-63 1 8 1-87 1 110 1 24 1-55 1 8 1-8 1-8 1 0 1 32 1-8 1-111 1 119 1-48 1 63 1 32 1-111 1 32 1-47 1 8 1 31 1 47 1-110 1 71 1-79 1 55 1-8 1 8 1 8 1 24 1-95 1 126 1 24 1-71 1 40 1-71 1 47 1-55 1 47 1 32 1-16 1-40 1 48 1 15 1-31 1-16 1-39 1 31 1-16 1 40 1-79 1-16 1 119 1-40 1 16 1-16 1 24 1 16 1 23 1-31 1-24 1-39 1 23 1 40 1 8 1 31 1-87 1 24 1-24 1 0 1 8 1 24 1 8 1 31 1-15 1-48 1-71 1 111 1-32 1-110 1 118 1 16 1-8 1 8 1 63 1-103 1 103 1-47 1-8 1-32 1 24 1 8 1 15 1-39 1 24 1 15 1 24 1-16 1-39 1 63 1-63 1 0 1-40 1 71 1 8 1-31 1 16 1 86 1-150 1 32 1 8 1 39 1-47 1 24 1-71 1 31 1-23 1 102 1-16 1-15 1 7 1-86 1 47 1 55 1-31 1-87 1 87 1-32 1 87 1-47 1-16 1 8 1-8 1-16 1-32 1 111 1-71 1-24 1 16 1-32 1 48 1 16 1 15 1-71 1 87 1-31 1-16 1-32 1 40 1 23 1-55 1 63 1-16 1 56 1-87 1 0 1 71 1-55 1-32 1 47 1 40 1-63 1-24 1 95 1-111 1 40 1-40 1 79 1-79 1 24 1-16 1 24 1-32 1 48 1 8 1 23 1 16 1-63 1 16 1-8 1 8 1-24 1 8 1 31 1-55 1-55 1 118 1-15 1-40 1 47 1-71 1 71 1 16 1-8 1-79 1 127 1-87 1 87 1-111 1 8 1-8 1-63 1 87 1-47 1 23 1-16 1 71 1-78 1 55 1-71 1 23 1 32 1-24 1 8 1 8 1-95 1 135 1 23 1 0 1-47 1-8 1-24 1-15 1 31 1 0 1 47 1-78 1-16 1 55 1-32 1 56 1-24 1-8 1-31 1 94 1-63 1-31 1 23 1-16 1 127 1-63 1-16 1 16 1 63 1-142 1 39 1 87 1-63 1-16 1-39 1 7 1 71 1-15 1-32 1-31 1 55 1 8 1-48 1 16 1-47 1 31 1-15 1 118 1-24 1 8 1-39 1-40 1 24 1-32 1 56 1-71 1 0 1 110 1-32 1-15 1-63 1 7 1-47 1 142 1-71 1 8 1 8 1-8 1 87 1-103 1 32 1 31 1-110 1 87 1-40 1 40 1 39 1-47 1-32 1 55 1-63 1-55 1 24 1 63 1 16 1-71 1 94 1-15 1-119 1 63 1-8 1 32 1-134 1-16 1 142 1-39 1 47 1-39 1-32 1 0 1 63 1-31 1-103 1 79 1-24 1 40 1 31 1 40 1-8 1 31 1-23 1-8 1-71 1 102 1-94 1 102 1-197 1 142 1-39 1-71 1 86 1-15 1 0 1-16 1 47 1-102 1 23 1 48 1-56 1 63 1 16 1-16 1-31 1 95 1-56 1-39 1 71 1-63 1 63 1-63 1 16 1-24 1 47 1 55 1 32 1-292 1 237 1-24 1 32 1-142 1 31 1-8 1 95 1-103 1 79 1-94 1 63 1 102 1-102 1 39 1-165 1 181 1-47 1 0 1 23 1-8 1-31 1-24 1 40 1-8 1-16 1 47 1-39 1-16 1-47 1 16 1 7 1-23 1 87 1-95 1 71 1-8 1 8 1-55 1 63 1-55 1 39 1 8 1-40 1 56 1-103 1 95 1-8 1-87 1 134 1-118 1 39 1 0 1-8 1 56 1-134 1 55 1 0 1-16 1-8 1 32 1 63 1 23 1 0 1-47 1-71 1 118 1-55 1-47 1 47 1 0 1 40 1-63 1 39 1 0 1-16 1-39 1-32 1 111 1-87 1 87 1 39 1-63 1-39 1 7 1-23 1 126 1-181 1 31 1 8 1 118 1-110 1 55 1 0 1-31 1 86 1-142 1 8 1 8 1-31 1 165 1-79 1 8 1 48 1-111 1-87 1 190 1-87 1 24 1 0 1 0 1-24 1 63 1-8 1-102 1 78 1 0 1 95 1-118 1 0 1 16 1-64 1 174 1-142 1 126 1-23 1 47 1-142 1 47 1 16 1-16 1 103 1-71 1-40 1 40 1-24 1 71 1-79 1 24 1-32 1-63 1 79 1 32 1-48 1 71 1-134 1 87 1 0 1-24 1 87 1-63 1 16 1-119 1 40 1-24 1 87 1 0 1-47 1 86 1 16 1-118 1 47 1 8 1 103 1-63 1 0 1 15 1-47 1 55 1 16 1-150 1 71 1 71 1-142 1 71 1 8 1 142 1-189 1 55 1-47 1-24 1 142 1-142 1 47 1 32 1 110 1-197 1 79 1-16 1 87 1-87 1 0 1-39 1 110 1 63 1-71 1 16 1-63 1 24 1-16 1-48 1-23 1 79 1 71 1-71 1 8 1 0 1 0 1 0 1 94 1-126 1 8 1 8 1 16 1-48 1 119 1-71 1-32 1 47 1-15 1-48 1 48 1 39 1-24 1-39 1 63 1-47 1 23 1-23 1-32 1 0 1 24 1-8 1-24 1 71 1-47 1 63 1-110 1 47 1 63 1-39 1-56 1 24 1 87 1-166 1 71 1-8 1 32 1 16 1 31 1-79 1 8 1 8 1-55 1 16 1 63 1-32 1-87 1 127 1-190 1 134 1-173 1 102 1 103 1-118 1 15 1 16 1-31 1-16 1 181 1-244 1 47 1-24 1-55 1 24 1 63 1-142 1 55 1-47 1 47 1-55 1 39 1-189 1 166 1-150 1 181 1-158 1 24 1-103 1 48 1-87 1-24 1 158 1-95 1 127 1 8 1-64 1-63 1 32 1 71 1-79 1 174 1-8 1-48 1 134 1-197 1 111 1 31 1-39 1 126 1-63 1 110 1-86 1-8 1-71 1 102 1-71 1 87 1 103 1-127 1 48 1 39 1-79 1 119 1-32 1-55 1 0 1 87 1-56 1 16 1-23 1 47 1 102 1-86 1-103 1 126 1-31 1-48 1 56 1 47 1-55 1 8 1 31 1-31 1 63 1 8 1-24 1-47 1-8 1 31 1-86 1 23 1 32 1-55 1-24 1 39 1 71 1-79 1-15 1 39 1 32 1-24 1 0 1 110 1-181 1 79 1-95 1 95 1 47 1-87 1 40 1-40 1 64 1 0 1 15 1 0 1-55 1 87 1-79 1-47 1 110 1-39 1 31 1-23 1-24 1-32 1-8 1 79 1-71 1 71 1 24 1-8 1 47 1-102 1 102 1-110 1-126 1 189 1 63 1-134 1 79 1-55 1 0 1-16 1-103 1 103 1 0 1 24 1 31 1-8 1 24 1-103 1 56 1-40 1 16 1-95 1 119 1-40 1 63 1-86 1 71 1-16 1 71 1-95 1-55 1 16 1 126 1-103 1 79 1 48 1-16 1-126 1 78 1 48 1-79 1 0 1 31 1-39 1 39 1-78 1 23 1 48 1-24 1-32 1 56 1-32 1 32 1 15 1 79 1-31 1-16 1-55 1-127 1 182 1-24 1 40 1-40 1-8 1-47 1 103 1-95 1 16 1 23 1 48 1-8 1-48 1-39 1 39 1 32 1-55 1 71 1-95 1-110 1 181 1-87 1 103 1-55 1-24 1-32 1 56 1-71 1 134 1-55 1-8 1-8 1 8 1-103 1 118 1-78 1 31 1-87 1 119 1-48 1 0 1 198 1-190 1-39 1-24 1 134 1-47 1-79 1 126 1-23 1-79 1-8 1-40 1 8 1 48 1 71 1-24 1-40 1-31 1 16 1-48 1 87 1-24 1 48 1-198 1 127 1-71 1-24 1 47 1 24 1 16 1-24 1 87 1-79 1-87 1 24 1-40 1-7 1 0 1 31 1-16 1-47 1 71 1 55 1-150 1 48 1-79 1 110 1 55 1-110 1 24 1 15 1-181 1 79 1 95 1 15 1-110 1-63 1 16 1-79 1 55 1-24 1 166 1-245 1 127 1-119 1 182 1-63 1-174 1 181 1-118 1 40 1-158 1 79 1-95 1 110 1 127 1-221 1 118 1-63 1 8 1 118 1-189 1 87 1 110 1-24 1 64 1-127 1-55 1 63 1-71 1 24 1-71 1 47 1 16 1 55 1 40 1-24 1-103 1 79 1-94 1 0 1 181 1-142 1-55 1 158 1-142 1 165 1-181 1 95 1 71 1 118 1-118 1 63 1-79 1 102 1-94 1 79 1-71 1-8 1 55 1-16 1-39 1 157 1-102 1 31 1-86 1 134 1-79 1 197 1-197 1 63 1 8 1-24 1 150 1-63 1-16 1 32 1 23 1-94 1 63 1 24 1-8 1-87 1-24 1 55 1 40 1 126 1-47 1 23 1 8 1-134 1 119 1-127 1 87 1 16 1 8 1 87 1-64 1-78 1 15 1 32 1-32 1 40 1-16 1-118 1 142 1 110 1 32 1-87 1-55 1-48 1 63 1-7 1-24 1 95 1-56 1-23 1 47 1 24 1-79 1-32 1 63 1 142 1-94 1-16 1-55 1 55 1 0 1-87 1-16 1 71 1 71 1 8 1-110 1 87 1-40 1 8 1-24 1-8 1 79 1-15 1-56 1 16 1 79 1-197 1 197 1-142 1 158 1-150 1 158 1-158 1 47 1-39 1 95 1-64 1 0 1 8 1 40 1-119 1 190 1-16 1 0 1-174 1 135 1-8 1 0 1-24 1-8 1 16 1 63 1-118 1 23 1-94 1 63 1 31 1 79 1-95 1-31 1-63 1 71 1-24 1 8 1-63 1 31 1 64 1 86 1-189 1 95 1 47 1 40 1 23 1-134 1 24 1-32 1-63 1 118 1-63 1 48 1 23 1 79 1-95 1-126 1 103 1-55 1 7 1-134 1 32 1 134 1-16 1-110 1 55 1 8 1-79 1 32 1 23 1-205 1 182 1 110 1-118 1 0 1-111 1 95 1 63 1-79 1 111 1-71 1-56 1 79 1 79 1-71 1-24 1-110 1 71 1-32 1 64 1-87 1 47 1-87 1 16 1-118 1 87 1 63 1 39 1-87 1-39 1-40 1 127 1 63 1 39 1-71 1-63 1 8 1 8 1-24 1-31 1 157 1-126 1 16 1 0 1 24 1 118 1-181 1 78 1-23 1-24 1 24 1-24 1 0 1 111 1 23 1-142 1 126 1-213 1 245 1-79 1 24 1-24 1 95 1-79 1-111 1 182 1 126 1-189 1 23 1-7 1 102 1-71 1-24 1 95 1-24 1-23 1-8 1 71 1-24 1-110 1 8 1 197 1-189 1 165 1-87 1 150 1-55 1 32 1-87 1 47 1-8 1 8 1 16 1-39 1 55 1 16 1 39 1 16 1-16 1-47 1-32 1 71 1-110 1 39 1 71 1-8 1 24 1 95 1-134 1 31 1 103 1-127 1 79 1-15 1 78 1-86 1-16 1 47 1-23 1 102 1-126 1 31 1 8 1-39 1-16 1 63 1-47 1-47 1 149 1-55 1 87 1-95 1-55 1 79 1 47 1-23 1-48 1 95 1 0 1-95 1 95 1-71 1 55 1 32 1-119 1-15 1 94 1-142 1 103 1-24 1 24 1 55 1-95 1 40 1-16 1 16 1 31 1-134 1 95 1 32 1-40 1 87 1-71 1-111 1 158 1-55 1 79 1-55 1-48 1 95 1 0 1-95 1 40 1-16 1 8 1 79 1 23 1 8 1-110 1 87 1 15 1-55 1-16 1-15 1 94 1-142 1 103 1-47 1 7 1 40 1-63 1 8 1-40 1-31 1-8 1 47 1 16 1 47 1 48 1-87 1 47 1-16 1 16 1-39 1 31 1-118 1 63 1 63 1-39 1-48 1 119 1-63 1 31 1-24 1 24 1-31 1-8 1-8 1 94 1-102 1 31 1 32 1-24 1-79 1 79 1 40 1-71 1 39 1-39 1 16 1-48 1 87 1-8 1-63 1-32 1 71 1-47 1 32 1 23 1 71 1-165 1 39 1 158 1-142 1 63 1 24 1-24 1-55 1 31 1 8 1 0 1 8 1-39 1 118 1-32 1-55 1 48 1-64 1 24 1-31 1 23 1-31 1 23 1-31 1 47 1 63 1-79 1 0 1 24 1-63 1 16 1-48 1 87 1 0 1-39 1-40 1 95 1-55 1 23 1 16 1-55 1 0 1 8 1 63 1-32 1 71 1-94 1 79 1-48 1-47 1 47 1-16 1 40 1-150 1 174 1-32 1-16 1-126 1 142 1-32 1-31 1 126 1-126 1 24 1-56 1 0 1 48 1-32 1 79 1 24 1-40 1-23 1 23 1-31 1-8 1-48 1 79 1 16 1-47 1 16 1-16 1-48 1 111 1-71 1-32 1 8 1 119 1-48 1-71 1 55 1-23 1 23 1-55 1 40 1 23 1-15 1-56 1 48 1 86 1 16 1-118 1 102 1-78 1 39 1-39 1 39 1 71 1-166 1 63 1 8 1-71 1 32 1-16 1 55 1-15 1-8 1 47 1-63 1 16 1 31 1 0 1-55 1 47 1-23 1 0 1 23 1 134 1-157 1-24 1 63 1 0 1-63 1 87 1-111 1 32 1-32 1 56 1 0 1-8 1 79 1-32 1-87 1 79 1 8 1-55 1-48 1 64 1 7 1-7 1-24 1 87 1-87 1 0 1-32 1 0 1 16 1-63 1 95 1 0 1-79 1 71 1 31 1-8 1-23 1 63 1-111 1 32 1-47 1 110 1-31 1 7 1-55 1 8 1-16 1 0 1 79 1-63 1 8 1 8 1-24 1 111 1-63 1-16 1 23 1 16 1-102 1 8 1-40 1 118 1 64 1-142 1 47 1 39 1-79 1 32 1 71 1-87 1 87 1-110 1 86 1 16 1-110 1-16 1 63 1 39 1-86 1 23 1-8 1 32 1 55 1-55 1-95 1 103 1-32 1 0 1-55 1 32 1 39 1-118 1 79 1-8 1 47 1 47 1-102 1 39 1-39 1 134 1-205 1 87 1-40 1 95 1-63 1-8 1-47 1 15 1 142 1-118 1 0 1 24 1-32 1-16 1-23 1 110 1-16 1-47 1-39 1 86 1-55 1 71 1-71 1 8 1-39 1-48 1 111 1-63 1 102 1-102 1-79 1 181 1-63 1 142 1-197 1-95 1 166 1-71 1-56 1 119 1-55 1 47 1-16 1-31 1-48 1 32 1 16 1 8 1-72 1 32 1 0 1 126 1-94 1 47 1-158 1 55 1-47 1 134 1 40 1-48 1-87 1 79 1-86 1-40 1 103 1-79 1 181 1-55 1-39 1-16 1 63 1-63 1-87 1 8 1 24 1 79 1-143 1 48 1 95 1-119 1 79 1-55 1 8 1-16 1-55 1-63 1 126 1 16 1 7 1-31 1-8 1 111 1-87 1-134 1 94 1-23 1 71 1-135 1 95 1 55 1 24 1-79 1-79 1 150 1 16 1 87 1-190 1 111 1-24 1 24 1-16 1-103 1 95 1-55 1 55 1-24 1-63 1 0 1 111 1-71 1 55 1-103 1 87 1 16 1-110 1 86 1-39 1-40 1 79 1-15 1-56 1-102 1 102 1-8 1 40 1 8 1-95 1 134 1 0 1-134 1 142 1 24 1-103 1-31 1-48 1-31 1 276 1-126 1 8 1-40 1 71 1-55 1-16 1 8 1 63 1-63 1 71 1-8 1-31 1-64 1 174 1-126 1-87 1 79 1 39 1-47 1-79 1 111 1 31 1-95 1 64 1 31 1-95 1 103 1-32 1-102 1 79 1-71 1 189 1-16 1-47 1-39 1 110 1-134 1 47 1 0 1-31 1 15 1 64 1-64 1 64 1-158 1 110 1-16 1 24 1-39 1-16 1 24 1 55 1-134 1 71 1 118 1 24 1-71 1 0 1 31 1-47 1-79 1-55 1 63 1-8 1-55 1-63 1 63 1 31 1 48 1 47 1-87 1-55 1 55 1 55 1-71 1 40 1 31 1 87 1-165 1 71 1-119 1 119 1-56 1 40 1-150 1 24 1 86 1-94 1 165 1-126 1 79 1-32 1 16 1-71 1 158 1-95 1-126 1 245 1-142 1 71 1 87 1-214 1 56 1-127 1 213 1-157 1-87 1 237 1-182 1-8 1 32 1-87 1 47 1 95 1 0 1-47 1-134 1 126 1-79 1 71 1-55 1 0 1-48 1-47 1 166 1 47 1-87 1 0 1-23 1-56 1 103 1-32 1 0 1-79 1 111 1-118 1-56 1 158 1-118 1 63 1 47 1-150 1 56 1 118 1-63 1 94 1 56 1-174 1 79 1-118 1 110 1 0 1 32 1-16 1 71 1-32 1 111 1 8 1-32 1-47 1-32 1 16 1-87 1-87 1 340 1-261 1 40 1 110 1-47 1 150 1-111 1-118 1 189 1-31 1-48 1-31 1 47 1 40 1-71 1 86 1-189 1 79 1 79 1 63 1-16 1 16 1-24 1-39 1 110 1-86 1 7 1 64 1-135 1 56 1 15 1 56 1 8 1-40 1 95 1-111 1 95 1-63 1-40 1 56 1 23 1 8 1-47 1 71 1-55 1-56 1 166 1-63 1-63 1 87 1-8 1 16 1-119 1 174 1-118 1 7 1-7 1 39 1-47 1 39 1 16 1-190 1 87 1 119 1-16 1-63 1-56 1 87 1-47 1 24 1-48 1 95 1 8 1-55 1 0 1 15 1-63 1 24 1 32 1 71 1-103 1-8 1 87 1-32 1 56 1-71 1 23 1 87 1-103 1 24 1 0 1-79 1 32 1-24 1 71 1-95 1 119 1-87 1 126 1-94 1 71 1 23 1-118 1 24 1-16 1 23 1-7 1 15 1 8 1-16 1-118 1 182 1 23 1-31 1-8 1-71 1-32 1 0 1 79 1-55 1-63 1 71 1-40 1 127 1-103 1 8 1 110 1-71 1-31 1 87 1-103 1 0 1 39 1 24 1 0 1-24 1-47 1 142 1-87 1 0 1 63 1 24 1-63 1 79 1-95 1 24 1 47 1-63 1 47 1 0 1-102 1 102 1 95 1-150 1 71 1 0 1-134 1 87 1-47 1 118 1-16 1-8 1-79 1 71 1 71 1-142 1 63 1-23 1-40 1-71 1 119 1-87 1 158 1-79 1-8 1 134 1-63 1-16 1-63 1 55 1 0 1 8 1-55 1 31 1 0 1 8 1-47 1 71 1-32 1 0 1-15 1-32 1 32 1 86 1-118 1-8 1 0 1 16 1 126 1-71 1-47 1 0 1 47 1-16 1 64 1-71 1 118 1-87 1-55 1 102 1-118 1-31 1 71 1 47 1 0 1 39 1-94 1 86 1-55 1 63 1-79 1 87 1-55 1 32 1-87 1 71 1-8 1-63 1 110 1 0 1-47 1 39 1-126 1 79 1-8 1 32 1 126 1-205 1 71 1 87 1-40 1-47 1-63 1 47 1 0 1 0 1 55 1-8 1-31 1 63 1-63 1-32 1 142 1-94 1 0 1-16 1-71 1 142 1-150 1 55 1-79 1 126 1-31 1 24 1-32 1 63 1 0 1-31 1-32 1 87 1-40 1 8 1-39 1-24 1 103 1-16 1-32 1 32 1-111 1-7 1 39 1 8 1 79 1-8 1-63 1-48 1 87 1-31 1-56 1-7 1 118 1-55 1-16 1 102 1-47 1-31 1 31 1-47 1 39 1 63 1-23 1 39 1-31 1-87 1 16 1-8 1-32 1 103 1-24 1-32 1-63 1 56 1 23 1-23 1 55 1 47 1-110 1 39 1-31 1 71 1-16 1-71 1 23 1-31 1 71 1-32 1-31 1-8 1 47 1-16 1 16 1 0 1 0 1-23 1 78 1-55 1 40 1-48 1 16 1-16 1 16 1 0 1 47 1-118 1 118 1 24 1-95 1-7 1 23 1 16 1 32 1-127 1 150 1-173 1 173 1-23 1-40 1 16 1-47 1 63 1-24 1 55 1-118 1 63 1 16 1-32 1-39 1 23 1 48 1-40 1-8 1 0 1 32 1-47 1 79 1-56 1 40 1-40 1 32 1-55 1 47 1-71 1 95 1-87 1 79 1 71 1-63 1-79 1 31 1-15 1 39 1-32 1 56 1-119 1 8 1 48 1 47 1 0 1-55 1 8 1 55 1-71 1 0 1 8 1 8 1 7 1 8 1 16 1 8 1-79 1 118 1-71 1-31 1-63 1 118 1-79 1 8 1 16 1-40 1 150 1-118 1 47 1-23 1 23 1 32 1 47 1-102 1 31 1 48 1-56 1 40 1-8 1-47 1-24 1 118 1-79 1-31 1 79 1-40 1-23 1-32 1 95 1 15 1-39 1-8 1-24 1 0 1 87 1-118 1 102 1-86 1-8 1 8 1 0 1 0 1 47 1 8 1-134 1 23 1 8 1 24 1 110 1-157 1 94 1-8 1-39 1 63 1-87 1 166 1-166 1 32 1 63 1-79 1-16 1 16 1 0 1 47 1-55 1 0 1-16 1 32 1 103 1-103 1 87 1-24 1-31 1-16 1 23 1-31 1-8 1 16 1 8 1-16 1-16 1 71 1 32 1-119 1 40 1 110 1-158 1 0 1 135 1-24 1-32 1 32 1-32 1-23 1-56 1 166 1-118 1-48 1 158 1-126 1 16 1 23 1-63 1-31 1 16 1-48 1 126 1 64 1-71 1-32 1-47 1 23 1 56 1-95 1 47 1 8 1 16 1-24 1-16 1 32 1 118 1-79 1-63 1-55 1 16 1 8 1-32 1 48 1-32 1 16 1 31 1 56 1 39 1-103 1 79 1-55 1-39 1 71 1-79 1 39 1 48 1-79 1-8 1 63 1-47 1 78 1-63 1-8 1 64 1-56 1-71 1 111 1 23 1 8 1-31 1 16 1 31 1-87 1-15 1 63 1-48 1-47 1 32 1 7 1-23 1 63 1-79 1-47 1 126 1 63 1-55 1 8 1-63 1-48 1 32 1-55 1 63 1 15 1 103 1-118 1 55 1-8 1-8 1-95 1 32 1 47 1 71 1-47 1-8 1-63 1 16 1 8 1 71 1-95 1-87 1 205 1-15 1-56 1-47 1 39 1 8 1-71 1 127 1 47 1-24 1-118 1-8 1 71 1 55 1-31 1-63 1-32 1 87 1 8 1 8 1-16 1-63 1 23 1-8 1 8 1 0 1 71 1-15 1-64 1-7 1-32 1 55 1 40 1-32 1 0 1-39 1 31 1-31 1 0 1 0 1-8 1 79 1-103 1-31 1 39 1-39 1 55 1 47 1-55 1 31 1 0 1-86 1 126 1-103 1 87 1 55 1-126 1 32 1-8 1-8 1-40 1 32 1 32 1-8 1-32 1 47 1-47 1 118 1-102 1-8 1-39 1 94 1-47 1-40 1-126 1 134 1-23 1 55 1-150 1 126 1 0 1-31 1 79 1-24 1-40 1 24 1-103 1 72 1-158 1 102 1 56 1-56 1-39 1 31 1-31 1 31 1 24 1-55 1-119 1 127 1-32 1 79 1-63 1-79 1 32 1-111 1 0 1 79 1-32 1-71 1 8 1 32 1 95 1-253 1 87 1-32 1 48 1-182 1 103 1-40 1 158 1-142 1-55 1-55 1-40 1 55 1-126 1 79 1-16 1-31 1 134 1 31 1-378 1 307 1-118 1-118 1 102 1-173 1 268 1-197 1-56 1-55 1 48 1 126 1-150 1 63 1 142 1-63 1-134 1 134 1 71 1-24 1 71 1 40 1-158 1 8 1-32 1 245 1-24 1-118 1 47 1 40 1 110 1-55 1 102 1-220 1 86 1 150 1-158 1 198 1-111 1 55 1 56 1-111 1 229 1-79 1 16 1 118 1-8 1-102 1 0 1 102 1-94 1 15 1-7 1 78 1 0 1-39 1 87 1 23 1 32 1-103 1-39 1 197 1-87 1-55 1-39 1 79 1 71 1-87 1-87 1 111 1-16 1-55 1 189 1-126 1-32 1 32 1 47 1 32 1 15 1 40 1-40 1 40 1-63 1 16 1 15 1-8 1-23 1 71 1-95 1 24 1-24 1 55 1-8 1-15 1 0 1 31 1-8 1 16 1-8 1 16 1 8 1 8 1-127 1 111 1-32 1 48 1-55 1-56 1 103 1-47 1 7 1-47 1 47 1 8 1 0 1 95 1-158 1-31 1 126 1-87 1 47 1-79 1 103 1-47 1-48 1 40 1 16 1 15 1 24 1-39 1 63 1-142 1 63 1 31 1 71 1-134 1-16 1 48 1-24 1 0 1 48 1 15 1-23 1-64 1 95 1 55 1-86 1 0 1 8 1-16 1 71 1-16 1-24 1-15 1-32 1-8 1 24 1 16 1 47 1-24 1 55 1-47 1-55 1-8 1 79 1-111 1 182 1-150 1 32 1 7 1-31 1 39 1-134 1 142 1-8 1-31 1 118 1-102 1 71 1-143 1 95 1-16 1 79 1-181 1 181 1-15 1-32 1 79 1-47 1-48 1-79 1 0 1 119 1-32 1-63 1-32 1 111 1-32 1-15 1-8 1 23 1-110 1 110 1-79 1 40 1-158 1 103 1 181 1-134 1 142 1-182 1 87 1 95 1-55 1-32 1-95 1 72 1-24 1 63 1-8 1 55 1-55 1-8 1-8 1 40 1-32 1 8 1-31 1 47 1 0 1 16 1-16 1-16 1 40 1-119 1 8 1 40 1-24 1 102 1-31 1-8 1-32 1-31 1 0 1 118 1-71 1-63 1 71 1-39 1 118 1-95 1 16 1 95 1-150 1-32 1 32 1 63 1-16 1 32 1-71 1 8 1-48 1 71 1-47 1 63 1 24 1-40 1 48 1 0 1-87 1 0 1 79 1 8 1-40 1 32 1-79 1 55 1 47 1-23 1-63 1-87 1 79 1 94 1-23 1-55 1 15 1-15 1-103 1 158 1 0 1-55 1 0 1-16 1-32 1 40 1-56 1 48 1-16 1 110 1-47 1-24 1-63 1 71 1 16 1-16 1-134 1 174 1-95 1 8 1-87 1 40 1 55 1-63 1-32 1 95 1 71 1-32 1-71 1 56 1-72 1-55 1 48 1-119 1 134 1 64 1-87 1-56 1 143 1-111 1-79 1 87 1-103 1 198 1-127 1 135 1 0 1-24 1-150 1 39 1-71 1 134 1 56 1-166 1 95 1 47 1-142 1-16 1 111 1-63 1-24 1 87 1-8 1-71 1-95 1 166 1-111 1 8 1 24 1 24 1 39 1-95 1 48 1 158 1-182 1 71 1-47 1-63 1 31 1 158 1-103 1 48 1-142 1 284 1-253 1 32 1 31 1-47 1-47 1 197 1-87 1-31 1 0 1 23 1-47 1 24 1 39 1 95 1-158 1-47 1 15 1 56 1-48 1 174 1-142 1 31 1 32 1-71 1 79 1 23 1 40 1 55 1-79 1-134 1 0 1 150 1-39 1-79 1 158 1-32 1 63 1-174 1 135 1-16 1-16 1 55 1-197 1 87 1-48 1 237 1-158 1 56 1 63 1-63 1-87 1 31 1 95 1-213 1 126 1 111 1 8 1-8 1-32 1 32 1 8 1-87 1 95 1-40 1 40 1-16 1-71 1 63 1-40 1 48 1-55 1 55 1-55 1 126 1-119 1 40 1 71 1-16 1 71 1-87 1-15 1 39 1-79 1 158 1-87 1 47 1-31 1-63 1 39 1-71 1 95 1 16 1-16 1 55 1-24 1-39 1-47 1 94 1 0 1 32 1-8 1-63 1 0 1-8 1 24 1-56 1 127 1-79 1-24 1 40 1-32 1 32 1 7 1-23 1 39 1-31 1-24 1 71 1-79 1-16 1-23 1 86 1-63 1 134 1-23 1-63 1 55 1-8 1 8 1-32 1 16 1 16 1-40 1 16 1-16 1-15 1-8 1 31 1 8 1 0 1 32 1-71 1 23 1-47 1 32 1 39 1-63 1 55 1-8 1-23 1 8 1 47 1-63 1 8 1 23 1 8 1-23 1 78 1-126 1 166 1-63 1 0 1-55 1 15 1-15 1 63 1-103 1 16 1 126 1-95 1 95 1-63 1-47 1 23 1 56 1-24 1-71 1 31 1-23 1 102 1-86 1 7 1 56 1-103 1 63 1-39 1 55 1-39 1 0 1 23 1-8 1-8 1 16 1 48 1-64 1 16 1-16 1 48 1-95 1 24 1-24 1-16 1 32 1 55 1 40 1-95 1 31 1-23 1-16 1 63 1 24 1-48 1 32 1 16 1-48 1 24 1-31 1 63 1-40 1 8 1-8 1 24 1-55 1 86 1-71 1-31 1 47 1-8 1 40 1-40 1-8 1 8 1-8 1-7 1 15 1 79 1-23 1-40 1-95 1 40 1 47 1 8 1 8 1-39 1 39 1-16 1 40 1-24 1 24 1-8 1-16 1-63 1 31 1-23 1 55 1-24 1 32 1-16 1 0 1 55 1-63 1 48 1-64 1 40 1 39 1-15 1-8 1-95 1 110 1-39 1-24 1 16 1 0 1-31 1 55 1-103 1 16 1 47 1-47 1 55 1 24 1 24 1-16 1-55 1 15 1-55 1 0 1 32 1 31 1-71 1 79 1 95 1-87 1-32 1 0 1 0 1-15 1 142 1-198 1 71 1 16 1 79 1-110 1 79 1 39 1-103 1 0 1 24 1 32 1-56 1 16 1-8 1 0 1 71 1-79 1 71 1-71 1 40 1 0 1-87 1 63 1 0 1-23 1-56 1 198 1-135 1 16 1-39 1 47 1 0 1-24 1 24 1 32 1-40 1-71 1 55 1 111 1-87 1 40 1-79 1 79 1-40 1-24 1-15 1 63 1-40 1-79 1 119 1-32 1 40 1-24 1-32 1 16 1-23 1 78 1-55 1 16 1 103 1-158 1 39 1 32 1-71 1 23 1 119 1-119 1-78 1 86 1-23 1 102 1 0 1-8 1-102 1 8 1 142 1-142 1 126 1-32 1-55 1 24 1-24 1-16 1-39 1 71 1 8 1 0 1-126 1 47 1 0 1 24 1 15 1-47 1 63 1 55 1 8 1-173 1 150 1-16 1-24 1-47 1 87 1-32 1-32 1 71 1-55 1-39 1 31 1 8 1-16 1 24 1 16 1 0 1-55 1 102 1-16 1-86 1-16 1 47 1 40 1 31 1-94 1 23 1-8 1-8 1 64 1-8 1-32 1 8 1 63 1-16 1-47 1-71 1-39 1 94 1 24 1-32 1 16 1 40 1 94 1-142 1 32 1-24 1 40 1-24 1-24 1 63 1-23 1-63 1 0 1 102 1-110 1-16 1 31 1 0 1 16 1-16 1 40 1-71 1 55 1 55 1-79 1-15 1 15 1 64 1-71 1 149 1-197 1 55 1 95 1 16 1-189 1 86 1 40 1-40 1 24 1 0 1-24 1 0 1 56 1-56 1 0 1 56 1-87 1 23 1 64 1-119 1 48 1-32 1 87 1-8 1-24 1 24 1-16 1 55 1-150 1 64 1-32 1-16 1 71 1-87 1 190 1-87 1 8 1-24 1 48 1-87 1-48 1 79 1-15 1 118 1-63 1-48 1 48 1-48 1 32 1-32 1 71 1-78 1-40 1 32 1-63 1 94 1-39 1 94 1-102 1 24 1 31 1-63 1 103 1-40 1-24 1 56 1 0 1-87 1 55 1 32 1-24 1 8 1 8 1-55 1 63 1 15 1-63 1 8 1-55 1 103 1-32 1-63 1 24 1 39 1 16 1-71 1 31 1 40 1-16 1-8 1-55 1 150 1-87 1-79 1 126 1-55 1-47 1 87 1-32 1 16 1-48 1 40 1 16 1-48 1-8 1-39 1 63 1-8 1 16 1-79 1 0 1 87 1 55 1-173 1 165 1-8 1-47 1-110 1 31 1 63 1-39 1 31 1-55 1 71 1-87 1 40 1 47 1 55 1-126 1 24 1 71 1-8 1-16 1-8 1-8 1-8 1 0 1 24 1-118 1 102 1 16 1-47 1 63 1-63 1 16 1-40 1 87 1 39 1-134 1 55 1-78 1 39 1 55 1-39 1 71 1-8 1-47 1-8 1 79 1-103 1 8 1-24 1 111 1-95 1 55 1-8 1-63 1 40 1-24 1-16 1-8 1 87 1 0 1-55 1-8 1 55 1-55 1 63 1-31 1-8 1-16 1-16 1 40 1-24 1 47 1-71 1 0 1 55 1-110 1 87 1 8 1 0 1-32 1 8 1 32 1-48 1-23 1-24 1 39 1 40 1 16 1-56 1-31 1-48 1 111 1 39 1-8 1-63 1-8 1 64 1 15 1 32 1-118 1 102 1-95 1 40 1 79 1-40 1-94 1 47 1 8 1-71 1 63 1-8 1 0 1 0 1-47 1 71 1-71 1-24 1 95 1-48 1 79 1-55 1-55 1 8 1 63 1-47 1 7 1 16 1 0 1-87 1 213 1-94 1-71 1 47 1-24 1 0 1 32 1-16 1 40 1-40 1-39 1-8 1 24 1 31 1 8 1 63 1-71 1 32 1-8 1-16 1-24 1 0 1 0 1 56 1-32 1-55 1 39 1-23 1 15 1-71 1-8 1-39 1 134 1-55 1 102 1-102 1 16 1 39 1-87 1 56 1 86 1-150 1 71 1-39 1 71 1 8 1 16 1 0 1-87 1 8 1 102 1-79 1 0 1 40 1-55 1 55 1-87 1 63 1-23 1 173 1-142 1-24 1 32 1-16 1 32 1-87 1 95 1-40 1-79 1 8 1 63 1 56 1 31 1-110 1 8 1 23 1 0 1-118 1 63 1 39 1 8 1 8 1-31 1 31 1-23 1 31 1-63 1 24 1 71 1-198 1 127 1 39 1 32 1-63 1 31 1-110 1 55 1 55 1 55 1-118 1 118 1-102 1 16 1 142 1-127 1-94 1 126 1 71 1-32 1-79 1-15 1-32 1 32 1 63 1-32 1-8 1 0 1 48 1-87 1-24 1 63 1-15 1 71 1-79 1 55 1 0 1-79 1 32 1 31 1 55 1-79 1-78 1 63 1 0 1-48 1-47 1 79 1-24 1 40 1-16 1 8 1-32 1 71 1-31 1 0 1 15 1 24 1-71 1 63 1 55 1-110 1 110 1-110 1 158 1-119 1-94 1 102 1-71 1 79 1 16 1-16 1-63 1-16 1-8 1 24 1 47 1 95 1-55 1-111 1 150 1-102 1 8 1 102 1-102 1 39 1-31 1 15 1 8 1 32 1 55 1-181 1 126 1-24 1 0 1 0 1 24 1-63 1 23 1 24 1 8 1-55 1 71 1-71 1-40 1 16 1 24 1 110 1-118 1 23 1-55 1 95 1-8 1-87 1 103 1-87 1 39 1 135 1-95 1 0 1 39 1 32 1-95 1 48 1-16 1 16 1-32 1-39 1-8 1 8 1 47 1-8 1-39 1-32 1 63 1 63 1-79 1-15 1 55 1-79 1 79 1-24 1-16 1-55 1 134 1-87 1-7 1 39 1-55 1 87 1 23 1 0 1-23 1 15 1-71 1 24 1 71 1-142 1 63 1 87 1 8 1-87 1-63 1 79 1-55 1-32 1 39 1 56 1 47 1-32 1-94 1 63 1 47 1-31 1-8 1-63 1 86 1-118 1 79 1-8 1 71 1-71 1 8 1-24 1 71 1-47 1 87 1-24 1-158 1 134 1 8 1-71 1 48 1-127 1 119 1-32 1 48 1-64 1 48 1-126 1 165 1-55 1-16 1 87 1-24 1 8 1 48 1-95 1 150 1-71 1-8 1-63 1 16 1-56 1-8 1 48 1 55 1-79 1 71 1-24 1-15 1-63 1-56 1 71 1 71 1-63 1-16 1 103 1-47 1 39 1-8 1-31 1 0 1 39 1-31 1 55 1-48 1-15 1 31 1 48 1-32 1-55 1-24 1 0 1 0 1-39 1 102 1-71 1 87 1-110 1 31 1 87 1-71 1-16 1 79 1-47 1-24 1-47 1 110 1-95 1 111 1 0 1-103 1 32 1 63 1-103 1 48 1 16 1 23 1 95 1-111 1-39 1 39 1-31 1 39 1-63 1 182 1-142 1 63 1-55 1-16 1-24 1 16 1-16 1 95 1-48 1 103 1-110 1 86 1-118 1 39 1 16 1 16 1-32 1 32 1 39 1-78 1 55 1-63 1 63 1 16 1-150 1 71 1-32 1 71 1-16 1 0 1-86 1 63 1 23 1 0 1 0 1-47 1 47 1 0 1-55 1 16 1 8 1-55 1 94 1 40 1 23 1-63 1-16 1-31 1 102 1 0 1-47 1 0 1 47 1-55 1-31 1 39 1-110 1 71 1 63 1-24 1 47 1-149 1 102 1 0 1-39 1 47 1 8 1-24 1-47 1 0 1 102 1 16 1-87 1 32 1 8 1-71 1 31 1 40 1-47 1 55 1-8 1-103 1 87 1-31 1 31 1 8 1 32 1 0 1-103 1-39 1 63 1 8 1 47 1-24 1-63 1-47 1 79 1 15 1-31 1 39 1 40 1 8 1-32 1 8 1 87 1-24 1-118 1 0 1 0 1 47 1 16 1-24 1-16 1 32 1-63 1 79 1 71 1-134 1-8 1 47 1-55 1-8 1 166 1-134 1 71 1-79 1 15 1-23 1 47 1 16 1-40 1-94 1 87 1 63 1-40 1 8 1-63 1 47 1 16 1-16 1 32 1-47 1 71 1-32 1-32 1 71 1 0 1-23 1-103 1 32 1 31 1-39 1 8 1 63 1 16 1-95 1 79 1-55 1 94 1-63 1 48 1-79 1-8 1 16 1-16 1 55 1-39 1-8 1 63 1-63 1 15 1-15 1 31 1-8 1-23 1 15 1-15 1 79 1-95 1 71 1-79 1 110 1-39 1-32 1-7 1 31 1 24 1-71 1-16 1 87 1 16 1-32 1-24 1 79 1-39 1-71 1 63 1 0 1-103 1 24 1-32 1 79 1 0 1 16 1 47 1 24 1-87 1 32 1-63 1-16 1 110 1-7 1-71 1-56 1-8 1 103 1-32 1-63 1 95 1 8 1-103 1 95 1 16 1-119 1 87 1 0 1-47 1-40 1 32 1 24 1-8 1-8 1 8 1 94 1-94 1 71 1-24 1-39 1 8 1-24 1 16 1-24 1-63 1 134 1-103 1-31 1 102 1 0 1-15 1-32 1 55 1-15 1-16 1-8 1-63 1 87 1-64 1 0 1 32 1 0 1 39 1-7 1-48 1 0 1 24 1-71 1 47 1 0 1 8 1-63 1 24 1 8 1 78 1-149 1 149 1-94 1 79 1 15 1 79 1-165 1-16 1 31 1 8 1 40 1-71 1 8 1 63 1-63 1-8 1 39 1-126 1 126 1-181 1 39 1 79 1-118 1 23 1-15 1 55 1 63 1 63 1-150 1 16 1 24 1-158 1 87 1 110 1-87 1-47 1 103 1-95 1 31 1 64 1-127 1-23 1 205 1-198 1 56 1-16 1 79 1-48 1-260 1 142 1 47 1-15 1 55 1-47 1 47 1-79 1 87 1-87 1-39 1 71 1-32 1-8 1 55 1 56 1-166 1 71 1 31 1-102 1 142 1-24 1 16 1 24 1-48 1 32 1-126 1 134 1-111 1 142 1-31 1-24 1 63 1-87 1 79 1 8 1-71 1 87 1-79 1-16 1 24 1-32 1 111 1-95 1 111 1 71 1-79 1-119 1 174 1-150 1 182 1-127 1 32 1 55 1 103 1-158 1 8 1 16 1-24 1 103 1-150 1 63 1 94 1-157 1 118 1-16 1-23 1 94 1 8 1-39 1 55 1-47 1-79 1 134 1-63 1 31 1-63 1 103 1 0 1-48 1-110 1 150 1 39 1-31 1-87 1-8 1 47 1-8 1 79 1-86 1 31 1 24 1-79 1-8 1 79 1-32 1 103 1-40 1-118 1 118 1-7 1-103 1 174 1-79 1-71 1 55 1 24 1 7 1-63 1 56 1-56 1 16 1-8 1-55 1 79 1 24 1-48 1-8 1 16 1 79 1-118 1 118 1 8 1-142 1-32 1 95 1 24 1-111 1 134 1-63 1 24 1-55 1 8 1 55 1-95 1 16 1 39 1 16 1-16 1 63 1-55 1 0 1-39 1 39 1 8 1-31 1-40 1 16 1 39 1 16 1-95 1 71 1 56 1-71 1 102 1-63 1-63 1 39 1 8 1-55 1-24 1 111 1 8 1-24 1 24 1-87 1-8 1 40 1 47 1 24 1-71 1 31 1-63 1 87 1-40 1-8 1-71 1 8 1 16 1 16 1-32 1 134 1-142 1 56 1-87 1 24 1-16 1 102 1-189 1 118 1 16 1 40 1-48 1 126 1-181 1 47 1 24 1-71 1 39 1 0 1 56 1-48 1 79 1 0 1-71 1 40 1 39 1-63 1 87 1-182 1 127 1 0 1-127 1 158 1 40 1-119 1 16 1-71 1 55 1 87 1-95 1 16 1-79 1 48 1 63 1-8 1-40 1 24 1-39 1 0 1 78 1-78 1-32 1 110 1 8 1-118 1 8 1-24 1-47 1 102 1 56 1-71 1 47 1-55 1-24 1 32 1-24 1 32 1-16 1 79 1-158 1 126 1-8 1 16 1-32 1 16 1 87 1-205 1 71 1 31 1-15 1-56 1 8 1 32 1-32 1 190 1-190 1 63 1 24 1 16 1-63 1 102 1-110 1 63 1-87 1 142 1-126 1 47 1 40 1-134 1 7 1 119 1-40 1-94 1 71 1 47 1 16 1-8 1-79 1-16 1 71 1 40 1-16 1 55 1-126 1 24 1-56 1-71 1 56 1 94 1 0 1 56 1 39 1-221 1 95 1 102 1-126 1 158 1-111 1-15 1 47 1-8 1-71 1 71 1-95 1 166 1-79 1-118 1 158 1 0 1-63 1 31 1-39 1-48 1 32 1 16 1 39 1-39 1-40 1 103 1-24 1 40 1-64 1-7 1 39 1 32 1-24 1-79 1 71 1-79 1 79 1 8 1-79 1 87 1-111 1 190 1-127 1 32 1-8 1-39 1 126 1-229 1 150 1-166 1 95 1 32 1 102 1-189 1 63 1-32 1 158 1 8 1-79 1-47 1-16 1-24 1 119 1 23 1-110 1 95 1-56 1-118 1 142 1-47 1 8 1 15 1-23 1-8 1 31 1-87 1 32 1 111 1-135 1 71 1 16 1 40 1-87 1 39 1 48 1 0 1-111 1 79 1 8 1-166 1 127 1-24 1 31 1 8 1 56 1-95 1 24 1 63 1-40 1-102 1 79 1 15 1 32 1 0 1-63 1-16 1 39 1-39 1 95 1-24 1-39 1-48 1 87 1-79 1 111 1-119 1-8 1 87 1-39 1-16 1 71 1-8 1 0 1-55 1-24 1 103 1-8 1-79 1 71 1-24 1-55 1 39 1-55 1 55 1 8 1 32 1 87 1-103 1 79 1-142 1 0 1 16 1-40 1-55 1 213 1-87 1-55 1 63 1-8 1-71 1 32 1 110 1-158 1 127 1-63 1-16 1 126 1-189 1 55 1 16 1-24 1 55 1-47 1 0 1 158 1-55 1-119 1 111 1-87 1 39 1-47 1 134 1-102 1 7 1-15 1 0 1 8 1-16 1-8 1 63 1-111 1 79 1 32 1-71 1 118 1-142 1 79 1-16 1 0 1-23 1 63 1-8 1-47 1 55 1-32 1 8 1 8 1 24 1 8 1-24 1 47 1-8 1-213 1 150 1-47 1 32 1-24 1 31 1-39 1 39 1 0 1 79 1-118 1 63 1-8 1-23 1 7 1 16 1-63 1 111 1 63 1-87 1 102 1-110 1-79 1-16 1 142 1-79 1 87 1-79 1-55 1 103 1-111 1 71 1-126 1 174 1 15 1-118 1 24 1 15 1 71 1-47 1 40 1-111 1 47 1 71 1 8 1 32 1-40 1-31 1-24 1-31 1 79 1-87 1 173 1-102 1-32 1 55 1-31 1-32 1 71 1-39 1-40 1 111 1-111 1 64 1 63 1-87 1-16 1 47 1-31 1 0 1 16 1 0 1-32 1 0 1 40 1 94 1-23 1-48 1-71 1 32 1-63 1 63 1 8 1 39 1-79 1 126 1-78 1 23 1 16 1-63 1 8 1 16 1 39 1 55 1-8 1 56 1-56 1-71 1-55 1 118 1-110 1-24 1 40 1-32 1 79 1 24 1-32 1-31 1 23 1 16 1-31 1 78 1-78 1 134 1-158 1 0 1-40 1 150 1-15 1 23 1 16 1 47 1-142 1 48 1-8 1 79 1-87 1-87 1 87 1-32 1 95 1-103 1 48 1 0 1-16 1 32 1-40 1 32 1 15 1 32 1 0 1-87 1-8 1 56 1 0 1 15 1-31 1-48 1 48 1 39 1-71 1 8 1 118 1-63 1-71 1 40 1 16 1-16 1 71 1 0 1-48 1-7 1-71 1 78 1-15 1-56 1 95 1-16 1-15 1-8 1 8 1-24 1 79 1 8 1-48 1 63 1-142 1 111 1-16 1-47 1 16 1-16 1 31 1 56 1-48 1 16 1 47 1-55 1-55 1 79 1-8 1 0 1-63 1 118 1-102 1 15 1 8 1 32 1-24 1-95 1 71 1 32 1-55 1 87 1-95 1 47 1-110 1 16 1 71 1 7 1 32 1-39 1-8 1 86 1 8 1-86 1 47 1-32 1 8 1-8 1 24 1-39 1-32 1-8 1 79 1-16 1 0 1 63 1 8 1-63 1-24 1-7 1 55 1-55 1 31 1 16 1-55 1 110 1 24 1-174 1 79 1-31 1 31 1 32 1 15 1 32 1-87 1 55 1-39 1-16 1 8 1 0 1-63 1 55 1 0 1 16 1-63 1 0 1 79 1-40 1 24 1 8 1 24 1-111 1 47 1 111 1-126 1-32 1 71 1 8 1-16 1-31 1 63 1-40 1 79 1-110 1 94 1-31 1-32 1-23 1 71 1 0 1-95 1 95 1 8 1-16 1-48 1 0 1-15 1 23 1 40 1-40 1-15 1 86 1-23 1-24 1-71 1 79 1-16 1 0 1-8 1-16 1 71 1 71 1-149 1 118 1-95 1-8 1-8 1 71 1-55 1-16 1 0 1-23 1 94 1-23 1-8 1-8 1-47 1 8 1 31 1-71 1 47 1 71 1-94 1 102 1 0 1-31 1 0 1-16 1-8 1 40 1-8 1-56 1 16 1 24 1 24 1-40 1 47 1 8 1-94 1 15 1 40 1-79 1 71 1-32 1 8 1 16 1 0 1-63 1 24 1 118 1-103 1 119 1-48 1-63 1 63 1-94 1 63 1-40 1 16 1-23 1-24 1 118 1-63 1-8 1-31 1 15 1 32 1 47 1 8 1-23 1-48 1 0 1-55 1 47 1-15 1 86 1-63 1 32 1 0 1-79 1 55 1 0 1 0 1 55 1 8 1-142 1 79 1 0 1-8 1 24 1-8 1 24 1-48 1 24 1-55 1-24 1 111 1-71 1 47 1-111 1 87 1-39 1 63 1-71 1 79 1 23 1 56 1-103 1 16 1-24 1 40 1-32 1 0 1 40 1-127 1-8 1 79 1-15 1 0 1-8 1 63 1-40 1-71 1 87 1 0 1 32 1-24 1 79 1-95 1-47 1 31 1 8 1 0 1 0 1 48 1 39 1-158 1 56 1 110 1-158 1 87 1-63 1 47 1 24 1-63 1 47 1 95 1-134 1 31 1-8 1 16 1-31 1-48 1 16 1 32 1 7 1 40 1-111 1 158 1-39 1-40 1-8 1-7 1 31 1-102 1 23 1 142 1-47 1 24 1-127 1 79 1 55 1-55 1 40 1-56 1-31 1 79 1-63 1 0 1 47 1-55 1 47 1-55 1 31 1 16 1-87 1 16 1 63 1 127 1-158 1 39 1-47 1 24 1 7 1 8 1-79 1-7 1 7 1 111 1-40 1-23 1 94 1-134 1 103 1-103 1 71 1-39 1 95 1 39 1-87 1 32 1 0 1-40 1-39 1-24 1 79 1 24 1-63 1 47 1 8 1-40 1-71 1 40 1 110 1-189 1 150 1-71 1 47 1-87 1 24 1-31 1 39 1 16 1-63 1 150 1-32 1 8 1-63 1 16 1 15 1-79 1 8 1 48 1 47 1-174 1 87 1 48 1-40 1-8 1 48 1-71 1 23 1 32 1-79 1 79 1-87 1 55 1 16 1-71 1 71 1-39 1-48 1 87 1 8 1-63 1-16 1 158 1-134 1-32 1 79 1-79 1 71 1 16 1-24 1-47 1 55 1 8 1-32 1-39 1 142 1-158 1-23 1 126 1-48 1-31 1 16 1-87 1 87 1 31 1-8 1-39 1 55 1-8 1 0 1-118 1 55 1 95 1-95 1 166 1-142 1-32 1 16 1-16 1 16 1 47 1-23 1 0 1 63 1-79 1 55 1-87 1-94 1 7 1-23 1 158 1 0 1-56 1 79 1-86 1 63 1-48 1 40 1-111 1 24 1 16 1 110 1-134 1 87 1 55 1-95 1-39 1 134 1-118 1 55 1-8 1-39 1 47 1 16 1-95 1 197 1-197 1 126 1-134 1 126 1-142 1 174 1-197 1 87 1 23 1 8 1-79 1 63 1-39 1 24 1 71 1-158 1 102 1-23 1 0 1 8 1-95 1 79 1 31 1-15 1 15 1 48 1-127 1 119 1-127 1 64 1-40 1 48 1 15 1-150 1 150 1 32 1-79 1-55 1 150 1-40 1-79 1-8 1 24 1 55 1-39 1 55 1-71 1 32 1-16 1 24 1-48 1 32 1 47 1-126 1 71 1 24 1 0 1-95 1 79 1-16 1 63 1-24 1 8 1 16 1 16 1-40 1 56 1-111 1-8 1 95 1-71 1 63 1-63 1-8 1 126 1 40 1-166 1 0 1 32 1 31 1 8 1 103 1-221 1 205 1-142 1 24 1-24 1 87 1-24 1-71 1 87 1-71 1 79 1-79 1-24 1 32 1-32 1 95 1-32 1-16 1-94 1 110 1-31 1-71 1 55 1-40 1 111 1-111 1 56 1-32 1-8 1 142 1-173 1 94 1-94 1 79 1-24 1 102 1-23 1-127 1 103 1-63 1 24 1 55 1-47 1-8 1-40 1 55 1 8 1-110 1-8 1 79 1 63 1-79 1 47 1-110 1 87 1 31 1-15 1 31 1-47 1 71 1-87 1-40 1 24 1 79 1-79 1 48 1 55 1-71 1-56 1 32 1 40 1 15 1-39 1-24 1 16 1-55 1 15 1-7 1 71 1-40 1 24 1-24 1 8 1-126 1 205 1-87 1 48 1-48 1 8 1-71 1 95 1 31 1-63 1 8 1 134 1-229 1 166 1-142 1 16 1-8 1 71 1 55 1 0 1-110 1 94 1-47 1 40 1 15 1-87 1 111 1-39 1 0 1-16 1 16 1 47 1-32 1 0 1-126 1 63 1 48 1-8 1 23 1-102 1 102 1 40 1-269 1 269 1-16 1 24 1-71 1 63 1 8 1-95 1-24 1 63 1 71 1-78 1 63 1-48 1 0 1 79 1-102 1 47 1 0 1 55 1-102 1 86 1-39 1 63 1 8 1 8 1 16 1-56 1-86 1 15 1 95 1 0 1-118 1 47 1 40 1 15 1 8 1 95 1-79 1-134 1 24 1 94 1-55 1 16 1 55 1 24 1-16 1-40 1-47 1 47 1 16 1 16 1-71 1-16 1 63 1 24 1-24 1-8 1-31 1 16 1 79 1-32 1 16 1-48 1 87 1 32 1-87 1 32 1-8 1-8 1 31 1-39 1 55 1 0 1-71 1 40 1-64 1 32 1 47 1-8 1 24 1-39 1-24 1 24 1-8 1 47 1-95 1 32 1-16 1 95 1-40 1 24 1-102 1 78 1-110 1 79 1 47 1-79 1-15 1 78 1 16 1-16 1 48 1-8 1 47 1-63 1 32 1-63 1-8 1-32 1 40 1 15 1-63 1 87 1 63 1-31 1-40 1-47 1-16 1 87 1-87 1 32 1-16 1 71 1-32 1 79 1-95 1 24 1-47 1-16 1 87 1-79 1-8 1 55 1-87 1 111 1 31 1-63 1-71 1 48 1 94 1-47 1-71 1 79 1-24 1 40 1-127 1 8 1 127 1 23 1-102 1 8 1 15 1 0 1 16 1-47 1 0 1-16 1 16 1 55 1 0 1-8 1-16 1 32 1 8 1-24 1 8 1-16 1-71 1 16 1 71 1-24 1 16 1 24 1-55 1 102 1-87 1 24 1 39 1-71 1-23 1 31 1-8 1 56 1-56 1-39 1 103 1-135 1 166 1-110 1 63 1-40 1 8 1 0 1-39 1 55 1-24 1-39 1 55 1 87 1-71 1 0 1 16 1-63 1 23 1 40 1-16 1 39 1-39 1-95 1 142 1-142 1 79 1 8 1 8 1 31 1-78 1 39 1 16 1-24 1-71 1 87 1-16 1-55 1 95 1-79 1-63 1 102 1 63 1-102 1 47 1-63 1 31 1 8 1 48 1-87 1 31 1 0 1 0 1 0 1 8 1 16 1 63 1-47 1-8 1-63 1 8 1 79 1-16 1 0 1-32 1 0 1-15 1 55 1-16 1-103 1 135 1-111 1 32 1-8 1 31 1 8 1-31 1 39 1-8 1 8 1-24 1 16 1 8 1-31 1 15 1 63 1-55 1-63 1 47 1-47 1 134 1-87 1 95 1-102 1 47 1-16 1-31 1 55 1-8 1-8 1-47 1-24 1 87 1 8 1-40 1 48 1 7 1-78 1 47 1-87 1 103 1-103 1 16 1 63 1-24 1 119 1-119 1 8 1 32 1-87 1 150 1-126 1 31 1-8 1 71 1-86 1 47 1-32 1-31 1 71 1 87 1-135 1 8 1 16 1 16 1 16 1-48 1-15 1 39 1-71 1 63 1-39 1 31 1-8 1-39 1 16 1-24 1 0 1 47 1-31 1 8 1 0 1-8 1 23 1 0 1-15 1 63 1-79 1 0 1 126 1-118 1 63 1 0 1-63 1 71 1-48 1 32 1 24 1-119 1 103 1 16 1-32 1-87 1 142 1-118 1 79 1-40 1 8 1-39 1 71 1-111 1 95 1 40 1-64 1-23 1 0 1-8 1 47 1-71 1 24 1 79 1-24 1 16 1-24 1-16 1 24 1-8 1-39 1-8 1-24 1 190 1-103 1 0 1-8 1 16 1 8 1-71 1-24 1 95 1-71 1 118 1-110 1-48 1 32 1 71 1 0 1-24 1-63 1 40 1 0 1-8 1 63 1 47 1-63 1-8 1-31 1 7 1-134 1 158 1 8 1-87 1 55 1-78 1 0 1 47 1 0 1 102 1-126 1 48 1-16 1-16 1 32 1 47 1-16 1 24 1-87 1 39 1 0 1 24 1-16 1 40 1-48 1 48 1-55 1 23 1-31 1-32 1 32 1 8 1-24 1 55 1-24 1-15 1 79 1-32 1-118 1 79 1 0 1-16 1 31 1 8 1-8 1-55 1-24 1 95 1-24 1-23 1 71 1-55 1-40 1 0 1-55 1 110 1-8 1-39 1 24 1-40 1 48 1 78 1-39 1 39 1-78 1-48 1 24 1 47 1 63 1-79 1 24 1 0 1-24 1-102 1 118 1 16 1 32 1-103 1 79 1 39 1-63 1-31 1 71 1-56 1 71 1-126 1 103 1-48 1 40 1-16 1-39 1 39 1-24 1-55 1-55 1 71 1 32 1-8 1 63 1 0 1 0 1-71 1 23 1 16 1-118 1 102 1-39 1 16 1 16 1-16 1 87 1-71 1-40 1-31 1 86 1-71 1 24 1 47 1 56 1-79 1 39 1-79 1 32 1 79 1-40 1-39 1-40 1 166 1-134 1 79 1-48 1 32 1-79 1 24 1-63 1 23 1 87 1 63 1-87 1 16 1-31 1 39 1-8 1-63 1 24 1 39 1-47 1 63 1-47 1-40 1 63 1 40 1-63 1 23 1-102 1 87 1 23 1 24 1 47 1-63 1-39 1 47 1-71 1-16 1 8 1 63 1 8 1-79 1 71 1 0 1-8 1-86 1 149 1-142 1 16 1-31 1 47 1-79 1 63 1 71 1 32 1-71 1-16 1 8 1-40 1 0 1 158 1-110 1 0 1-24 1 63 1-94 1 47 1-55 1 86 1-23 1 55 1-16 1-31 1 15 1-39 1-8 1 16 1 0 1 55 1-31 1-16 1 23 1-63 1 8 1 63 1-15 1-24 1-8 1-63 1 79 1 16 1-48 1-8 1-31 1 102 1-31 1-24 1 0 1 79 1-87 1-55 1 39 1 40 1 39 1 0 1-47 1 32 1 0 1 39 1-95 1-23 1 47 1-39 1 23 1-71 1 79 1 0 1 55 1-55 1 16 1 0 1-95 1 40 1-16 1 31 1 56 1-40 1-55 1 95 1-32 1-16 1-47 1 47 1-39 1 8 1 39 1-23 1 71 1-40 1-47 1 0 1 8 1 8 1-40 1 8 1 32 1 78 1-228 1 31 1 158 1-118 1 86 1-71 1 103 1-47 1 23 1-63 1-8 1 40 1 118 1-118 1 55 1-134 1 102 1 87 1-102 1 55 1-95 1 87 1-79 1 103 1-150 1 63 1-40 1 48 1-119 1 119 1-48 1 40 1-71 1 142 1 8 1-119 1 71 1 8 1-79 1 32 1 126 1-134 1 32 1 23 1-94 1 8 1-48 1 103 1 23 1-189 1 87 1 8 1 87 1-24 1-71 1 205 1-87 1-87 1 119 1-142 1 47 1 79 1-95 1 0 1 8 1-39 1 118 1-55 1-63 1 16 1 0 1-150 1 181 1 8 1-71 1 47 1-63 1 63 1-110 1 134 1-24 1-63 1 40 1-48 1 8 1-8 1 119 1-119 1 40 1-16 1 71 1-79 1-24 1 24 1-8 1 24 1 16 1-40 1 40 1-8 1-32 1-31 1-48 1 40 1 55 1 47 1-63 1 79 1 0 1 47 1-181 1 8 1 126 1-71 1-16 1-63 1 0 1 134 1-71 1 111 1-87 1-8 1 24 1 47 1-47 1-142 1 158 1-40 1-55 1 8 1 71 1-111 1 0 1 71 1 0 1 24 1-40 1 16 1-55 1 166 1-150 1 55 1-87 1 16 1 79 1-8 1 24 1 31 1-47 1-55 1 55 1 63 1-71 1 63 1-71 1-31 1-16 1-16 1 118 1 103 1-150 1 16 1-63 1 8 1 55 1-16 1-47 1 87 1 86 1-142 1 8 1 40 1-103 1 79 1 39 1-55 1-95 1 166 1-110 1 126 1-118 1 71 1 0 1-71 1-103 1 253 1-95 1 39 1-118 1 63 1 55 1-94 1 7 1 48 1-55 1 23 1-31 1 118 1-103 1-15 1 110 1-260 1 118 1 71 1 48 1-16 1-8 1-32 1 103 1-8 1-142 1 150 1-190 1 127 1 71 1-32 1-150 1 87 1 71 1-134 1 47 1 63 1 32 1 24 1-87 1-32 1-55 1 0 1 32 1 142 1-56 1-63 1 48 1-24 1 32 1-24 1-63 1 31 1 111 1-55 1 39 1 32 1-150 1 55 1-142 1 102 1 8 1 63 1 8 1-87 1 72 1-119 1 32 1 0 1 47 1 63 1-118 1 102 1-39 1-47 1 71 1 0 1 55 1-142 1-40 1 150 1-118 1-47 1 7 1 48 1 95 1 47 1-47 1-72 1-55 1 8 1 79 1-32 1 48 1 87 1-71 1-103 1 16 1 39 1 0 1-134 1 111 1 39 1 71 1-47 1-63 1 55 1-63 1 55 1-189 1 189 1-87 1 103 1-63 1-40 1 40 1 118 1-197 1 47 1 95 1-24 1-71 1 87 1-87 1 118 1-86 1-40 1 71 1-39 1-16 1-63 1 16 1 55 1 0 1 31 1 8 1 0 1 8 1-95 1 71 1 40 1-8 1-47 1-32 1 63 1 24 1-79 1-47 1 126 1-40 1 87 1-268 1 213 1 8 1-87 1 32 1-71 1 102 1-63 1-8 1-23 1-87 1 118 1 47 1-78 1 71 1-111 1 40 1 15 1 103 1 0 1-63 1-40 1 135 1-111 1-47 1 55 1-103 1 48 1-95 1 150 1-79 1 213 1-126 1-126 1 94 1 8 1 40 1-190 1 24 1 87 1-32 1 24 1 94 1-118 1 55 1 16 1-126 1 71 1 71 1-111 1 40 1-24 1 32 1-32 1 0 1 79 1-205 1 126 1 190 1-245 1 174 1-127 1-86 1 126 1-8 1-87 1 32 1 8 1 47 1-16 1 134 1-102 1-16 1-55 1 8 1 126 1-40 1 103 1-142 1-111 1 95 1 63 1-63 1 24 1 71 1-24 1-39 1-71 1 94 1 8 1 48 1-87 1 71 1-197 1 118 1 213 1-300 1 79 1 24 1-16 1 55 1 24 1-8 1-40 1-39 1-103 1 111 1-32 1-8 1 119 1 16 1-8 1-158 1 197 1-134 1 95 1-221 1 260 1-8 1-47 1 47 1-126 1-8 1 0 1-71 1 197 1-71 1 40 1 23 1-63 1-118 1 197 1-197 1 126 1 48 1 47 1-126 1 47 1 24 1 31 1-31 1 15 1-31 1 126 1-126 1-47 1 15 1 135 1-87 1-8 1-48 1 16 1-8 1 71 1-47 1 55 1 8 1 79 1-110 1 31 1 87 1-174 1 111 1-48 1 8 1 32 1-24 1-39 1 102 1 32 1-134 1 31 1 79 1-102 1 134 1-79 1-8 1 16 1-24 1 55 1 71 1-55 1-71 1 32 1 8 1 15 1-79 1 95 1-39 1 0 1 71 1-95 1 16 1 0 1 110 1-142 1 87 1-16 1-23 1-24 1 79 1-47 1 23 1 0 1 0 1 55 1-47 1-63 1 118 1 32 1-158 1 150 1-55 1 16 1-40 1 32 1-48 1 56 1 31 1-181 1 118 1-16 1 95 1-32 1-8 1-78 1 94 1-63 1 40 1 23 1-71 1 24 1 63 1-87 1 103 1-87 1 32 1-119 1 87 1-79 1 79 1 47 1-55 1 111 1-8 1-56 1-86 1 31 1 119 1 39 1-118 1 94 1-23 1-24 1 16 1 0 1-32 1-63 1 87 1-40 1-15 1 0 1 23 1 40 1-40 1 71 1-63 1-71 1 40 1 173 1-173 1 0 1 47 1-55 1 8 1 39 1 0 1 47 1-102 1 158 1-127 1 32 1-16 1 24 1-16 1 40 1 0 1-127 1 103 1-87 1 32 1 23 1 0 1 16 1-47 1 47 1 16 1-47 1 31 1-24 1 56 1-32 1-47 1 0 1 102 1-47 1 47 1-94 1 86 1 40 1-32 1 8 1-173 1 142 1-63 1 71 1-56 1-39 1 16 1-24 1 24 1 55 1-32 1 16 1 32 1-127 1 142 1 16 1-31 1-79 1 71 1-32 1 48 1-95 1 47 1 8 1-63 1 110 1-110 1 32 1 94 1-47 1-32 1 71 1-8 1-110 1-63 1 55 1 47 1 24 1 55 1-86 1 63 1-32 1 0 1-31 1 7 1 135 1-79 1-71 1-16 1 24 1-8 1 94 1-47 1-8 1-39 1 39 1 32 1-71 1 39 1-24 1 103 1-79 1-24 1-39 1 63 1 79 1-16 1-110 1 8 1 55 1 31 1-94 1 79 1-24 1 63 1 55 1-126 1-79 1 103 1 39 1-118 1 110 1 48 1-71 1-40 1 55 1-39 1 0 1 0 1-71 1 63 1-16 1-39 1 79 1-55 1 63 1-32 1 8 1-47 1 0 1 79 1 15 1 0 1-8 1-7 1-32 1 39 1-126 1 24 1-40 1 79 1-8 1 40 1-71 1 31 1 32 1-24 1-71 1 16 1 71 1 95 1 39 1-126 1 0 1 0 1-24 1-8 1 64 1-8 1-103 1-31 1 94 1 0 1-31 1 23 1 8 1 8 1-71 1 103 1-63 1 86 1-86 1 15 1 16 1-24 1 103 1-47 1-16 1-24 1 8 1 32 1-40 1-16 1-102 1 110 1-8 1 8 1 24 1 8 1-55 1 47 1 8 1-24 1-71 1 126 1-39 1-32 1-15 1-48 1-15 1 126 1-71 1-55 1 39 1 95 1-16 1-32 1-31 1 87 1-95 1 71 1-55 1-8 1 16 1-32 1 47 1-8 1-47 1 87 1 0 1 39 1-150 1 119 1-79 1 39 1-15 1 39 1-16 1-55 1 47 1 48 1-40 1 63 1-94 1-16 1 31 1-63 1 0 1 79 1-55 1 63 1-24 1 24 1-16 1 56 1-48 1 55 1-134 1 95 1-24 1 71 1-39 1-55 1 118 1-110 1 39 1-126 1 63 1-8 1 24 1-32 1 103 1-134 1 39 1 118 1-94 1 15 1-71 1 79 1-15 1-16 1 31 1-94 1 55 1 55 1-39 1 15 1-86 1 134 1 31 1-189 1 103 1-56 1 56 1 23 1-55 1 24 1 31 1 63 1-110 1-47 1 7 1 127 1-142 1 142 1-48 1-31 1 0 1 47 1-24 1-23 1 0 1-32 1-8 1 32 1 47 1-71 1 32 1 39 1 79 1-126 1-24 1-23 1 102 1-47 1 87 1-95 1-8 1 55 1-71 1-23 1 0 1 94 1-47 1-47 1 55 1 16 1-8 1-63 1 55 1 87 1-127 1-118 1 126 1-47 1 47 1 32 1 39 1-79 1 24 1-47 1 39 1-24 1 135 1-119 1-16 1 16 1-55 1 71 1-39 1 134 1-142 1 8 1 78 1 71 1-63 1-47 1-87 1 142 1-87 1-7 1 7 1 64 1-71 1 102 1 32 1-95 1 39 1 71 1-189 1 32 1 8 1 78 1-15 1 47 1-79 1 8 1-8 1-79 1 103 1-24 1 71 1-158 1 16 1 182 1 0 1-214 1-15 1 71 1-40 1 142 1-71 1-47 1 55 1 48 1-48 1 40 1-150 1 118 1 16 1 71 1-190 1 95 1-39 1 31 1-23 1 15 1 32 1-55 1 71 1-63 1-8 1-24 1 95 1-182 1 119 1 79 1 23 1-94 1 7 1-39 1 126 1-87 1-23 1-32 1 150 1-63 1 8 1-40 1 8 1-15 1 55 1-79 1 110 1-79 1-126 1 174 1-158 1 31 1 95 1-55 1 0 1 87 1 63 1-103 1 56 1-103 1 126 1-213 1-24 1 182 1 71 1-134 1 47 1-23 1 86 1-8 1-110 1 103 1 39 1-142 1-8 1 55 1 40 1-158 1 118 1-63 1 119 1 0 1-95 1-71 1 142 1-24 1-8 1-102 1 79 1-24 1-32 1 8 1-47 1 166 1-95 1 0 1 87 1-71 1-8 1 31 1 16 1-110 1 55 1 24 1-24 1 47 1-39 1-16 1 79 1-47 1 0 1-16 1 31 1-23 1 31 1 24 1-24 1 63 1-126 1 16 1 71 1 0 1 0 1 16 1 0 1-95 1 47 1-71 1 24 1 0 1 103 1-174 1 111 1 118 1-118 1 7 1-47 1 87 1-63 1 23 1-86 1 86 1-47 1-24 1 103 1-63 1 16 1-95 1 63 1 71 1-150 1 142 1-31 1-8 1-24 1 71 1-24 1 8 1-31 1 55 1-24 1 56 1-174 1 71 1-47 1 118 1 55 1-8 1-15 1-103 1 55 1 8 1 40 1-166 1 173 1-63 1 0 1-8 1 0 1-31 1-126 1 86 1 48 1 79 1-150 1 0 1 118 1-63 1 166 1-71 1-127 1 166 1-134 1-24 1 142 1-71 1-94 1-56 1 135 1-79 1 134 1-8 1-63 1-24 1 32 1-48 1 16 1-32 1 32 1 40 1-8 1 15 1-15 1-56 1 8 1-16 1 24 1 0 1 95 1-24 1 8 1 16 1 95 1-174 1 103 1-16 1 0 1-134 1 71 1-64 1 87 1-47 1 0 1 55 1-16 1 103 1-32 1-63 1 134 1-142 1 0 1 48 1-79 1 24 1-40 1 55 1-23 1 15 1 95 1-79 1 8 1-8 1 0 1-39 1 47 1 40 1-71" vector-effect="non-scaling-stroke" fill="none" stroke="#000" stroke-width="1.9" stroke-linejoin="round"/><path d="M124.8 5.5V698.4H1922.8" fill="none" stroke="#000" stroke-width="2.6" stroke-linecap="round" stroke-linejoin="miter"/><path d="M124.8 698.4v5.5M274.6 698.4v5.5M424.5 698.4v5.5M574.3 698.4v5.5M724.1 698.4v5.5M873.9 698.4v5.5M1023.8 698.4v5.5M1173.6 698.4v5.5M1323.4 698.4v5.5M1473.3 698.4v5.5M1623.1 698.4v5.5M1772.9 698.4v5.5M1922.8 698.4v5.5M162.3 698.4v3.5M199.7 698.4v3.5M237.2 698.4v3.5M312.1 698.4v3.5M349.5 698.4v3.5M387.0 698.4v3.5M461.9 698.4v3.5M499.4 698.4v3.5M536.8 698.4v3.5M611.7 698.4v3.5M649.2 698.4v3.5M686.7 698.4v3.5M761.6 698.4v3.5M799.0 698.4v3.5M836.5 698.4v3.5M911.4 698.4v3.5M948.9 698.4v3.5M986.3 698.4v3.5M1061.2 698.4v3.5M1098.7 698.4v3.5M1136.2 698.4v3.5M1211.1 698.4v3.5M1248.5 698.4v3.5M1286.0 698.4v3.5M1360.9 698.4v3.5M1398.4 698.4v3.5M1435.8 698.4v3.5M1510.7 698.4v3.5M1548.2 698.4v3.5M1585.6 698.4v3.5M1660.6 698.4v3.5M1698.0 698.4v3.5M1735.5 698.4v3.5M1810.4 698.4v3.5M1847.8 698.4v3.5M1885.3 698.4v3.5M124.8 548.2h-5.5M124.8 390.4h-5.5M124.8 232.6h-5.5M124.8 74.8h-5.5M124.8 666.5h-3.5M124.8 627.1h-3.5M124.8 587.6h-3.5M124.8 508.8h-3.5M124.8 469.3h-3.5M124.8 429.8h-3.5M124.8 350.9h-3.5M124.8 311.5h-3.5M124.8 272.0h-3.5M124.8 193.1h-3.5M124.8 153.7h-3.5M124.8 114.2h-3.5M124.8 35.4h-3.5" stroke="#000" stroke-width="2.6" fill="none"/><text x="124.0" y="733.3" font-size="30" text-anchor="middle">20</text><text x="273.8" y="733.3" font-size="30" text-anchor="middle">30</text><text x="423.7" y="733.3" font-size="30" text-anchor="middle">40</text><text x="573.5" y="733.3" font-size="30" text-anchor="middle">50</text><text x="723.3" y="733.3" font-size="30" text-anchor="middle">60</text><text x="873.1" y="733.3" font-size="30" text-anchor="middle">70</text><text x="1023.0" y="733.3" font-size="30" text-anchor="middle">80</text><text x="1172.8" y="733.3" font-size="30" text-anchor="middle">90</text><text x="1322.6" y="733.3" font-size="30" text-anchor="middle">100</text><text x="1472.5" y="733.3" font-size="30" text-anchor="middle">110</text><text x="1622.3" y="733.3" font-size="30" text-anchor="middle">120</text><text x="1772.1" y="733.3" font-size="30" text-anchor="middle">130</text><text x="1922.0" y="733.3" font-size="30" text-anchor="middle">140</text><text x="111.6" y="555.8" font-size="30" text-anchor="end">200</text><text x="111.6" y="398.0" font-size="30" text-anchor="end">400</text><text x="111.6" y="240.2" font-size="30" text-anchor="end">600</text><text x="111.6" y="82.4" font-size="30" text-anchor="end">800</text><text x="22.6" y="766.5" font-size="40">(a)</text><text x="846.4" y="790.4" font-size="40" letter-spacing="-0.4">Diffraction angle</text><text x="1121.0" y="790.4" font-size="40">2</text><text x="1144.4" y="790.4" font-size="42" font-style="italic">θ</text><text x="1171.2" y="790.4" font-size="40">(°)</text><text transform="translate(31.7,492) rotate(-90)" font-size="39.5">Intensity (counts)</text><text transform="translate(311.4,151.1) rotate(-90)" font-size="40" fill="#000">200/020</text><text transform="translate(312.2,234.6) rotate(-90)" font-size="40" fill="#0aa0e6">.18</text><text transform="translate(368.0,410.0) rotate(-90)" font-size="40" fill="#000" letter-spacing="-0.5">004/113</text><text transform="translate(365.4,270.0) rotate(-90)" font-size="40" fill="#0aa0e6" letter-spacing="-1.5">.61</text><text transform="translate(409.0,464.0) rotate(-90)" font-size="40" fill="#000" letter-spacing="-0.71">120/202/022/211</text><text transform="translate(457.0,384.0) rotate(-90)" font-size="40" fill="#0aa0e6">.46</text><text transform="translate(459.0,458.0) rotate(-90)" font-size="40" fill="#000" letter-spacing="-1.0">122</text><text transform="translate(522.3,123.7) rotate(-90)" font-size="40" fill="#000">220</text><text transform="translate(518.3,185.4) rotate(-90)" font-size="40" fill="#0aa0e6">.29</text><text transform="translate(599.5,213.9) rotate(-90)" font-size="40" fill="#000">204/024</text><text transform="translate(601.6,280.0) rotate(-90)" font-size="40" fill="#0aa0e6">.52</text><text transform="translate(661.8,503.6) rotate(-90)" font-size="40" fill="#000" letter-spacing="-0.4">311/131</text><text transform="translate(747.3,602.2) rotate(-90)" font-size="40" fill="#000">224</text><text transform="translate(875.4,604.6) rotate(-90)" font-size="40" fill="#000">400/040</text><text transform="translate(1182.5,567.6) rotate(-90)" font-size="40" fill="#000" letter-spacing="-0.2">424/244</text><polyline points="137.9,1097.3 138.1,1074.1 138.3,1092.6 138.4,1087.4 138.6,1086.0 138.8,1091.6 139.0,1097.3 139.1,1080.3 139.3,1082.7 139.5,1102.5 139.7,1065.6 139.8,1077.9 140.0,1092.6 140.2,1078.4 140.4,1090.7 140.5,1087.4 140.7,1079.8 140.9,1097.8 141.1,1082.2 141.2,1075.1 141.4,1076.0 141.6,1089.8 141.8,1079.8 141.9,1101.6 142.1,1089.3 142.3,1084.1 142.5,1099.2 142.6,1088.8 142.8,1073.2 143.0,1066.1 143.2,1081.7 143.3,1081.2 143.5,1096.9 143.7,1099.2 143.9,1101.1 144.0,1084.5 144.2,1082.7 144.4,1095.0 144.6,1099.7 144.7,1087.4 144.9,1086.9 145.1,1090.7 145.3,1078.9 145.4,1090.7 145.6,1090.7 145.8,1099.7 146.0,1089.3 146.1,1078.9 146.3,1090.2 146.5,1090.2 146.7,1086.9 146.8,1088.3 147.0,1086.4 147.2,1086.4 147.4,1086.0 147.5,1098.3 147.7,1088.8 147.9,1105.4 148.1,1089.3 148.2,1102.5 148.4,1092.6 148.6,1087.9 148.8,1095.9 148.9,1091.6 149.1,1106.3 149.3,1099.7 149.5,1086.9 149.6,1102.5 149.8,1087.4 150.0,1104.9 150.2,1100.6 150.3,1102.5 150.5,1093.5 150.7,1088.8 150.9,1102.5 151.0,1095.4 151.2,1080.3 151.4,1096.9 151.6,1101.1 151.7,1091.2 151.9,1096.4 152.1,1100.2 152.3,1109.6 152.4,1087.9 152.6,1099.7 152.8,1095.0 153.0,1103.9 153.1,1084.1 153.3,1088.8 153.5,1087.4 153.7,1096.4 153.8,1091.6 154.0,1088.3 154.2,1087.4 154.4,1093.5 154.5,1096.4 154.7,1099.2 154.9,1102.5 155.1,1104.4 155.2,1093.5 155.4,1098.7 155.6,1113.4 155.8,1098.3 155.9,1088.3 156.1,1099.2 156.3,1112.5 156.5,1098.3 156.6,1091.2 156.8,1095.9 157.0,1101.1 157.2,1082.7 157.3,1082.2 157.5,1098.7 157.7,1091.6 157.9,1095.0 158.0,1092.1 158.2,1086.4 158.4,1091.6 158.6,1097.8 158.7,1104.4 158.9,1105.8 159.1,1099.2 159.3,1089.8 159.4,1096.9 159.6,1098.7 159.8,1097.3 160.0,1099.2 160.1,1095.4 160.3,1109.2 160.5,1116.3 160.7,1103.5 160.8,1109.6 161.0,1086.9 161.2,1101.6 161.4,1102.5 161.5,1113.4 161.7,1098.3 161.9,1105.8 162.1,1091.6 162.2,1094.0 162.4,1107.7 162.6,1097.8 162.8,1123.8 162.9,1107.3 163.1,1091.6 163.3,1095.4 163.5,1100.6 163.6,1102.1 163.8,1113.9 164.0,1113.4 164.2,1100.6 164.3,1087.9 164.5,1120.0 164.7,1097.3 164.9,1097.8 165.0,1095.0 165.2,1110.1 165.4,1107.3 165.6,1103.0 165.7,1111.5 165.9,1113.4 166.1,1110.6 166.3,1104.4 166.4,1100.6 166.6,1103.9 166.8,1103.5 167.0,1109.6 167.1,1110.1 167.3,1095.4 167.5,1104.9 167.7,1105.4 167.8,1097.3 168.0,1095.0 168.2,1094.5 168.4,1101.6 168.5,1105.4 168.7,1103.0 168.9,1103.9 169.1,1094.0 169.2,1103.5 169.4,1100.6 169.6,1106.3 169.8,1095.0 169.9,1122.4 170.1,1103.0 170.3,1100.2 170.5,1115.8 170.6,1089.3 170.8,1107.7 171.0,1108.2 171.2,1115.3 171.3,1100.2 171.5,1105.4 171.7,1112.0 171.9,1105.4 172.0,1102.1 172.2,1097.8 172.4,1105.8 172.6,1115.3 172.7,1112.5 172.9,1126.2 173.1,1113.9 173.3,1102.5 173.4,1104.4 173.6,1109.2 173.8,1111.5 174.0,1095.9 174.1,1106.8 174.3,1101.6 174.5,1105.8 174.7,1114.4 174.8,1096.9 175.0,1119.1 175.2,1119.1 175.4,1112.9 175.5,1115.3 175.7,1114.4 175.9,1114.8 176.1,1102.1 176.2,1109.6 176.4,1107.3 176.6,1122.9 176.8,1117.2 176.9,1102.1 177.1,1120.0 177.3,1101.6 177.5,1119.1 177.6,1108.7 177.8,1117.7 178.0,1109.6 178.2,1118.6 178.3,1113.4 178.5,1098.3 178.7,1114.8 178.9,1095.9 179.0,1115.8 179.2,1121.5 179.4,1111.5 179.6,1115.3 179.7,1098.7 179.9,1105.8 180.1,1103.5 180.3,1107.7 180.4,1093.5 180.6,1106.8 180.8,1109.2 181.0,1119.6 181.1,1120.5 181.3,1112.0 181.5,1105.8 181.7,1104.9 181.9,1121.0 182.0,1109.6 182.2,1112.5 182.4,1122.9 182.6,1110.1 182.7,1131.9 182.9,1112.5 183.1,1095.4 183.3,1122.9 183.4,1114.8 183.6,1129.5 183.8,1121.0 184.0,1109.2 184.1,1123.4 184.3,1115.8 184.5,1118.1 184.7,1118.6 184.8,1114.4 185.0,1112.0 185.2,1106.3 185.4,1109.6 185.5,1120.5 185.7,1105.4 185.9,1106.8 186.1,1128.6 186.2,1111.5 186.4,1110.6 186.6,1109.2 186.8,1112.9 186.9,1127.1 187.1,1119.1 187.3,1133.3 187.5,1118.6 187.6,1102.1 187.8,1112.5 188.0,1111.5 188.2,1121.9 188.3,1125.7 188.5,1126.2 188.7,1117.2 188.9,1124.3 189.0,1123.4 189.2,1109.6 189.4,1131.4 189.6,1129.0 189.7,1122.9 189.9,1119.6 190.1,1120.0 190.3,1130.0 190.4,1117.7 190.6,1120.5 190.8,1116.7 191.0,1128.1 191.1,1117.7 191.3,1118.1 191.5,1124.8 191.7,1121.5 191.8,1124.3 192.0,1109.6 192.2,1144.2 192.4,1131.4 192.5,1133.3 192.7,1123.4 192.9,1125.7 193.1,1123.8 193.2,1115.3 193.4,1133.3 193.6,1127.6 193.8,1122.9 193.9,1130.5 194.1,1118.6 194.3,1119.1 194.5,1126.7 194.6,1135.2 194.8,1109.6 195.0,1118.1 195.2,1118.6 195.3,1121.5 195.5,1121.9 195.7,1115.8 195.9,1122.4 196.0,1127.1 196.2,1117.2 196.4,1121.9 196.6,1128.6 196.7,1129.5 196.9,1113.9 197.1,1118.1 197.3,1108.2 197.4,1127.1 197.6,1129.0 197.8,1120.0 198.0,1112.9 198.1,1119.1 198.3,1120.5 198.5,1109.6 198.7,1129.5 198.8,1133.3 199.0,1129.5 199.2,1126.7 199.4,1121.5 199.5,1116.7 199.7,1121.5 199.9,1112.9 200.1,1130.9 200.2,1110.6 200.4,1130.9 200.6,1116.3 200.8,1131.9 200.9,1122.4 201.1,1124.8 201.3,1121.5 201.5,1119.6 201.6,1127.1 201.8,1126.2 202.0,1123.8 202.2,1135.2 202.3,1131.4 202.5,1138.0 202.7,1125.7 202.9,1109.6 203.0,1120.5 203.2,1132.8 203.4,1131.4 203.6,1119.1 203.7,1130.0 203.9,1138.5 204.1,1134.2 204.3,1134.7 204.4,1134.2 204.6,1121.9 204.8,1126.7 205.0,1138.0 205.1,1131.4 205.3,1135.7 205.5,1136.6 205.7,1138.5 205.8,1114.8 206.0,1130.0 206.2,1123.4 206.4,1121.5 206.5,1130.9 206.7,1124.3 206.9,1124.3 207.1,1126.7 207.2,1112.5 207.4,1126.2 207.6,1130.5 207.8,1123.8 207.9,1115.8 208.1,1121.5 208.3,1132.3 208.5,1135.2 208.6,1136.1 208.8,1134.2 209.0,1126.7 209.2,1123.4 209.3,1146.1 209.5,1130.0 209.7,1138.0 209.9,1124.8 210.0,1123.4 210.2,1135.7 210.4,1133.3 210.6,1137.1 210.7,1127.6 210.9,1142.3 211.1,1138.5 211.3,1135.7 211.4,1121.9 211.6,1113.4 211.8,1130.9 212.0,1139.9 212.1,1130.5 212.3,1137.6 212.5,1128.1 212.7,1139.4 212.8,1134.2 213.0,1131.4 213.2,1127.6 213.4,1132.3 213.5,1122.4 213.7,1130.9 213.9,1145.1 214.1,1125.2 214.2,1134.2 214.4,1137.1 214.6,1121.5 214.8,1139.4 214.9,1131.9 215.1,1138.0 215.3,1122.9 215.5,1135.7 215.6,1131.4 215.8,1143.2 216.0,1122.9 216.2,1140.9 216.3,1126.7 216.5,1125.2 216.7,1124.8 216.9,1120.5 217.0,1142.3 217.2,1130.9 217.4,1132.8 217.6,1130.9 217.7,1126.2 217.9,1133.3 218.1,1139.9 218.3,1135.2 218.4,1123.4 218.6,1142.8 218.8,1134.2 219.0,1141.8 219.1,1126.7 219.3,1146.5 219.5,1137.6 219.7,1136.1 219.8,1134.2 220.0,1118.6 220.2,1124.3 220.4,1142.8 220.5,1120.0 220.7,1144.2 220.9,1148.9 221.1,1146.5 221.2,1134.7 221.4,1132.3 221.6,1151.8 221.8,1133.3 221.9,1138.0 222.1,1131.4 222.3,1139.4 222.5,1130.0 222.6,1132.8 222.8,1145.1 223.0,1126.7 223.2,1135.7 223.3,1131.9 223.5,1128.1 223.7,1144.2 223.9,1138.0 224.0,1143.2 224.2,1144.2 224.4,1135.7 224.6,1135.2 224.7,1128.6 224.9,1128.1 225.1,1138.0 225.3,1144.2 225.5,1115.8 225.6,1123.4 225.8,1139.0 226.0,1145.1 226.2,1141.3 226.3,1136.6 226.5,1130.9 226.7,1131.9 226.9,1135.7 227.0,1140.9 227.2,1138.0 227.4,1141.3 227.6,1139.0 227.7,1139.9 227.9,1135.7 228.1,1152.7 228.3,1142.3 228.4,1141.8 228.6,1148.0 228.8,1141.3 229.0,1147.5 229.1,1144.7 229.3,1142.3 229.5,1142.3 229.7,1144.7 229.8,1132.8 230.0,1139.4 230.2,1138.5 230.4,1139.4 230.5,1145.6 230.7,1147.0 230.9,1135.2 231.1,1143.7 231.2,1153.6 231.4,1156.5 231.6,1139.9 231.8,1146.5 231.9,1142.3 232.1,1145.6 232.3,1144.7 232.5,1143.2 232.6,1150.8 232.8,1142.3 233.0,1135.2 233.2,1137.6 233.3,1154.1 233.5,1151.8 233.7,1151.8 233.9,1144.2 234.0,1136.6 234.2,1140.4 234.4,1155.1 234.6,1142.8 234.7,1137.6 234.9,1146.1 235.1,1130.0 235.3,1147.5 235.4,1135.2 235.6,1127.1 235.8,1152.2 236.0,1145.6 236.1,1139.9 236.3,1121.9 236.5,1156.0 236.7,1139.9 236.8,1142.3 237.0,1147.0 237.2,1149.9 237.4,1148.0 237.5,1146.5 237.7,1153.2 237.9,1133.8 238.1,1152.2 238.2,1147.5 238.4,1149.4 238.6,1147.5 238.8,1144.2 238.9,1150.3 239.1,1146.5 239.3,1133.3 239.5,1138.0 239.6,1147.5 239.8,1139.4 240.0,1150.8 240.2,1144.2 240.3,1155.5 240.5,1153.6 240.7,1151.8 240.9,1137.6 241.0,1144.7 241.2,1142.3 241.4,1145.1 241.6,1143.7 241.7,1143.7 241.9,1141.3 242.1,1145.6 242.3,1152.7 242.4,1152.2 242.6,1138.5 242.8,1137.6 243.0,1143.2 243.1,1158.4 243.3,1136.6 243.5,1145.1 243.7,1148.0 243.8,1147.5 244.0,1149.9 244.2,1135.7 244.4,1136.6 244.5,1155.1 244.7,1148.9 244.9,1146.1 245.1,1139.4 245.2,1164.5 245.4,1141.8 245.6,1137.1 245.8,1150.8 245.9,1148.9 246.1,1140.4 246.3,1146.1 246.5,1157.9 246.6,1156.5 246.8,1156.0 247.0,1158.4 247.2,1149.4 247.3,1152.7 247.5,1148.9 247.7,1144.7 247.9,1137.6 248.0,1148.0 248.2,1162.2 248.4,1140.4 248.6,1150.8 248.7,1142.3 248.9,1153.2 249.1,1148.0 249.3,1151.3 249.4,1150.3 249.6,1141.8 249.8,1154.6 250.0,1149.4 250.1,1148.9 250.3,1153.2 250.5,1165.5 250.7,1148.4 250.8,1169.7 251.0,1160.7 251.2,1154.1 251.4,1148.4 251.5,1145.6 251.7,1145.6 251.9,1147.5 252.1,1153.6 252.2,1143.2 252.4,1153.2 252.6,1144.2 252.8,1166.4 252.9,1157.9 253.1,1155.5 253.3,1151.8 253.5,1167.8 253.6,1146.5 253.8,1145.6 254.0,1147.0 254.2,1155.5 254.3,1142.8 254.5,1156.0 254.7,1146.5 254.9,1153.2 255.0,1152.7 255.2,1153.6 255.4,1152.7 255.6,1145.6 255.7,1143.7 255.9,1143.7 256.1,1147.0 256.3,1148.9 256.4,1150.3 256.6,1141.8 256.8,1156.0 257.0,1157.4 257.1,1153.2 257.3,1164.5 257.5,1155.1 257.7,1154.1 257.8,1160.3 258.0,1157.4 258.2,1149.4 258.4,1155.5 258.5,1153.6 258.7,1147.5 258.9,1158.4 259.1,1161.7 259.2,1154.6 259.4,1151.8 259.6,1166.4 259.8,1150.3 259.9,1156.5 260.1,1157.4 260.3,1160.3 260.5,1156.0 260.6,1148.9 260.8,1151.8 261.0,1149.9 261.2,1157.4 261.3,1145.1 261.5,1147.0 261.7,1155.5 261.9,1172.6 262.0,1155.1 262.2,1138.0 262.4,1156.0 262.6,1162.2 262.7,1144.7 262.9,1159.8 263.1,1152.7 263.3,1151.3 263.4,1165.5 263.6,1155.1 263.8,1148.4 264.0,1158.4 264.1,1152.2 264.3,1156.5 264.5,1149.9 264.7,1144.7 264.8,1163.6 265.0,1158.4 265.2,1154.1 265.4,1160.7 265.5,1162.2 265.7,1159.3 265.9,1158.9 266.1,1161.2 266.2,1155.1 266.4,1152.2 266.6,1152.7 266.8,1153.2 266.9,1149.9 267.1,1166.4 267.3,1158.4 267.5,1156.5 267.6,1154.6 267.8,1167.8 268.0,1146.1 268.2,1163.6 268.3,1156.5 268.5,1153.6 268.7,1151.3 268.9,1162.6 269.0,1161.7 269.2,1156.0 269.4,1154.6 269.6,1152.7 269.8,1158.9 269.9,1163.1 270.1,1167.4 270.3,1148.0 270.5,1167.4 270.6,1154.6 270.8,1157.0 271.0,1154.1 271.2,1153.2 271.3,1150.8 271.5,1159.8 271.7,1157.0 271.9,1171.6 272.0,1159.3 272.2,1165.0 272.4,1160.3 272.6,1151.8 272.7,1158.9 272.9,1152.7 273.1,1161.2 273.3,1157.4 273.4,1162.6 273.6,1175.9 273.8,1164.5 274.0,1161.7 274.1,1159.3 274.3,1160.3 274.5,1161.2 274.7,1154.6 274.8,1156.5 275.0,1163.1 275.2,1155.1 275.4,1173.1 275.5,1162.6 275.7,1161.7 275.9,1152.7 276.1,1164.1 276.2,1170.2 276.4,1159.8 276.6,1150.3 276.8,1162.6 276.9,1161.7 277.1,1162.6 277.3,1160.7 277.5,1153.2 277.6,1149.4 277.8,1158.4 278.0,1162.2 278.2,1150.3 278.3,1161.2 278.5,1161.2 278.7,1164.1 278.9,1164.1 279.0,1160.3 279.2,1163.6 279.4,1159.3 279.6,1161.7 279.7,1158.9 279.9,1164.5 280.1,1163.6 280.3,1160.7 280.4,1162.2 280.6,1161.7 280.8,1155.5 281.0,1169.3 281.1,1174.5 281.3,1158.4 281.5,1164.5 281.7,1154.6 281.8,1163.6 282.0,1170.2 282.2,1149.4 282.4,1160.7 282.5,1166.0 282.7,1167.8 282.9,1159.8 283.1,1167.4 283.2,1161.2 283.4,1156.5 283.6,1172.1 283.8,1166.0 283.9,1160.7 284.1,1153.6 284.3,1158.4 284.5,1166.9 284.6,1155.1 284.8,1166.4 285.0,1165.0 285.2,1161.7 285.3,1171.2 285.5,1145.6 285.7,1157.0 285.9,1163.1 286.0,1167.8 286.2,1171.6 286.4,1162.6 286.6,1160.7 286.7,1167.4 286.9,1166.0 287.1,1161.7 287.3,1165.5 287.4,1176.4 287.6,1161.2 287.8,1163.6 288.0,1160.7 288.1,1169.7 288.3,1178.3 288.5,1173.1 288.7,1163.6 288.8,1153.2 289.0,1151.3 289.2,1164.1 289.4,1174.5 289.5,1167.8 289.7,1163.1 289.9,1163.1 290.1,1165.5 290.2,1157.9 290.4,1171.6 290.6,1179.2 290.8,1171.6 290.9,1173.1 291.1,1152.7 291.3,1167.4 291.5,1174.9 291.6,1162.6 291.8,1160.7 292.0,1166.4 292.2,1165.5 292.3,1160.7 292.5,1163.6 292.7,1171.2 292.9,1163.6 293.0,1161.2 293.2,1165.0 293.4,1161.7 293.6,1163.6 293.7,1168.8 293.9,1168.3 294.1,1163.6 294.3,1170.7 294.4,1160.7 294.6,1160.3 294.8,1179.7 295.0,1167.8 295.1,1172.1 295.3,1171.6 295.5,1166.9 295.7,1168.8 295.8,1164.5 296.0,1166.0 296.2,1166.0 296.4,1172.6 296.5,1170.2 296.7,1159.8 296.9,1183.0 297.1,1158.4 297.2,1171.6 297.4,1161.7 297.6,1183.9 297.8,1171.2 297.9,1163.6 298.1,1167.8 298.3,1162.6 298.5,1174.0 298.6,1172.1 298.8,1173.1 299.0,1166.0 299.2,1166.4 299.3,1169.7 299.5,1170.7 299.7,1171.2 299.9,1168.8 300.0,1174.9 300.2,1169.7 300.4,1170.2 300.6,1172.6 300.7,1173.1 300.9,1160.7 301.1,1173.5 301.3,1167.4 301.4,1161.7 301.6,1165.5 301.8,1169.7 302.0,1164.1 302.1,1178.3 302.3,1177.3 302.5,1172.6 302.7,1171.6 302.8,1170.7 303.0,1159.3 303.2,1160.7 303.4,1170.7 303.5,1169.3 303.7,1175.9 303.9,1168.8 304.1,1178.7 304.2,1162.6 304.4,1174.0 304.6,1167.8 304.8,1178.7 304.9,1163.1 305.1,1167.4 305.3,1159.8 305.5,1170.7 305.6,1180.6 305.8,1175.9 306.0,1178.7 306.2,1162.2 306.3,1174.9 306.5,1175.9 306.7,1168.3 306.9,1170.2 307.0,1168.8 307.2,1174.5 307.4,1183.5 307.6,1179.7 307.7,1184.4 307.9,1164.5 308.1,1166.9 308.3,1174.0 308.4,1168.3 308.6,1168.3 308.8,1168.3 309.0,1169.3 309.1,1167.4 309.3,1171.6 309.5,1185.4 309.7,1188.7 309.8,1165.0 310.0,1169.3 310.2,1187.3 310.4,1171.6 310.5,1177.8 310.7,1175.9 310.9,1187.7 311.1,1168.3 311.2,1173.5 311.4,1168.3 311.6,1166.9 311.8,1165.5 311.9,1163.6 312.1,1171.6 312.3,1172.1 312.5,1176.8 312.6,1170.2 312.8,1174.9 313.0,1180.2 313.2,1166.4 313.4,1169.3 313.5,1189.1 313.7,1184.4 313.9,1174.9 314.1,1181.6 314.2,1166.9 314.4,1172.6 314.6,1170.7 314.8,1168.3 314.9,1166.4 315.1,1175.4 315.3,1170.7 315.5,1172.6 315.6,1169.7 315.8,1171.2 316.0,1166.0 316.2,1171.2 316.3,1177.3 316.5,1173.5 316.7,1181.1 316.9,1172.6 317.0,1166.0 317.2,1178.3 317.4,1183.9 317.6,1174.9 317.7,1177.8 317.9,1174.9 318.1,1178.3 318.3,1174.5 318.4,1180.6 318.6,1166.0 318.8,1176.4 319.0,1172.1 319.1,1170.7 319.3,1175.9 319.5,1172.6 319.7,1176.8 319.8,1177.8 320.0,1176.8 320.2,1172.6 320.4,1182.5 320.5,1180.6 320.7,1180.2 320.9,1178.7 321.1,1169.3 321.2,1175.9 321.4,1177.3 321.6,1174.9 321.8,1169.7 321.9,1180.2 322.1,1170.2 322.3,1189.1 322.5,1181.1 322.6,1167.8 322.8,1167.4 323.0,1174.9 323.2,1178.7 323.3,1171.6 323.5,1178.7 323.7,1167.8 323.9,1169.7 324.0,1172.1 324.2,1181.1 324.4,1171.2 324.6,1177.8 324.7,1177.8 324.9,1178.7 325.1,1177.3 325.3,1174.0 325.4,1172.1 325.6,1172.1 325.8,1157.4 326.0,1178.7 326.1,1170.2 326.3,1180.6 326.5,1177.8 326.7,1183.5 326.8,1170.2 327.0,1175.4 327.2,1176.4 327.4,1177.8 327.5,1172.1 327.7,1179.7 327.9,1174.9 328.1,1163.1 328.2,1177.8 328.4,1180.6 328.6,1183.0 328.8,1172.6 328.9,1176.8 329.1,1181.6 329.3,1182.0 329.5,1177.3 329.6,1183.0 329.8,1166.0 330.0,1178.7 330.2,1178.7 330.3,1178.3 330.5,1187.7 330.7,1185.8 330.9,1179.7 331.0,1177.8 331.2,1184.9 331.4,1168.3 331.6,1175.4 331.7,1170.7 331.9,1171.6 332.1,1179.2 332.3,1164.5 332.4,1177.3 332.6,1188.7 332.8,1191.0 333.0,1178.3 333.1,1173.5 333.3,1177.8 333.5,1168.8 333.7,1180.2 333.8,1174.9 334.0,1174.5 334.2,1183.9 334.4,1176.8 334.5,1176.4 334.7,1172.6 334.9,1171.6 335.1,1173.1 335.2,1183.0 335.4,1174.5 335.6,1172.6 335.8,1178.3 335.9,1174.5 336.1,1174.5 336.3,1172.1 336.5,1178.3 336.6,1176.4 336.8,1177.8 337.0,1178.7 337.2,1182.5 337.3,1180.6 337.5,1185.4 337.7,1180.2 337.9,1175.4 338.0,1175.9 338.2,1174.9 338.4,1179.7 338.6,1171.6 338.7,1181.6 338.9,1174.9 339.1,1176.8 339.3,1183.5 339.4,1183.0 339.6,1175.4 339.8,1179.2 340.0,1177.8 340.1,1162.6 340.3,1176.4 340.5,1178.7 340.7,1175.4 340.8,1182.5 341.0,1180.6 341.2,1176.8 341.4,1183.9 341.5,1179.7 341.7,1180.6 341.9,1178.7 342.1,1189.1 342.2,1169.7 342.4,1180.2 342.6,1176.4 342.8,1185.4 342.9,1186.8 343.1,1179.2 343.3,1181.1 343.5,1175.9 343.6,1184.4 343.8,1184.9 344.0,1177.8 344.2,1175.9 344.3,1174.5 344.5,1179.7 344.7,1178.3 344.9,1183.9 345.0,1172.1 345.2,1173.1 345.4,1173.5 345.6,1188.2 345.7,1174.5 345.9,1183.5 346.1,1176.8 346.3,1177.3 346.4,1172.6 346.6,1180.6 346.8,1181.1 347.0,1184.9 347.1,1185.8 347.3,1176.4 347.5,1184.4 347.7,1175.9 347.8,1181.6 348.0,1182.5 348.2,1174.0 348.4,1174.5 348.5,1184.9 348.7,1180.2 348.9,1179.2 349.1,1175.4 349.2,1183.0 349.4,1181.6 349.6,1179.7 349.8,1175.4 349.9,1174.0 350.1,1182.0 350.3,1169.3 350.5,1176.4 350.6,1183.0 350.8,1187.3 351.0,1181.6 351.2,1191.5 351.3,1177.3 351.5,1175.4 351.7,1171.2 351.9,1175.4 352.0,1187.7 352.2,1179.7 352.4,1174.0 352.6,1190.1 352.7,1182.5 352.9,1174.0 353.1,1177.3 353.3,1188.7 353.4,1180.2 353.6,1176.8 353.8,1165.5 354.0,1179.2 354.1,1181.6 354.3,1175.4 354.5,1174.5 354.7,1173.1 354.8,1167.8 355.0,1176.4 355.2,1183.5 355.4,1174.9 355.5,1174.9 355.7,1169.3 355.9,1169.7 356.1,1178.7 356.2,1169.7 356.4,1167.8 356.6,1174.5 356.8,1167.8 357.0,1171.6 357.1,1171.2 357.3,1172.6 357.5,1166.9 357.7,1154.1 357.8,1169.3 358.0,1176.8 358.2,1170.7 358.4,1172.1 358.5,1166.4 358.7,1168.3 358.9,1151.8 359.1,1161.7 359.2,1154.1 359.4,1168.8 359.6,1164.5 359.8,1149.9 359.9,1171.6 360.1,1159.3 360.3,1168.3 360.5,1147.5 360.6,1164.5 360.8,1155.5 361.0,1152.7 361.2,1160.7 361.3,1130.5 361.5,1145.1 361.7,1129.0 361.9,1141.8 362.0,1143.2 362.2,1126.2 362.4,1120.5 362.6,1093.1 362.7,1116.7 362.9,1112.9 363.1,1096.9 363.3,1077.4 363.4,1063.2 363.6,1062.3 363.8,1043.8 364.0,1019.2 364.1,996.0 364.3,995.6 364.5,968.1 364.7,981.8 364.8,940.2 365.0,902.3 365.2,887.7 365.4,871.6 365.5,831.8 365.7,845.5 365.9,848.8 366.1,820.4 366.2,830.9 366.4,857.4 366.6,840.3 366.8,846.9 366.9,895.2 367.1,918.9 367.3,929.3 367.5,934.5 367.6,976.2 367.8,997.5 368.0,1014.0 368.2,1022.5 368.3,1039.1 368.5,1057.1 368.7,1057.6 368.9,1060.9 369.0,1095.9 369.2,1092.1 369.4,1106.8 369.6,1093.1 369.7,1129.5 369.9,1130.9 370.1,1132.3 370.3,1147.5 370.4,1142.8 370.6,1139.9 370.8,1157.4 371.0,1149.4 371.1,1140.9 371.3,1158.4 371.5,1162.2 371.7,1174.0 371.8,1160.3 372.0,1171.2 372.2,1158.9 372.4,1153.2 372.5,1160.7 372.7,1170.2 372.9,1162.2 373.1,1169.7 373.2,1174.5 373.4,1171.6 373.6,1167.8 373.8,1172.1 373.9,1167.4 374.1,1158.4 374.3,1167.8 374.5,1167.8 374.6,1176.4 374.8,1165.5 375.0,1171.6 375.2,1168.3 375.3,1178.7 375.5,1173.5 375.7,1188.2 375.9,1177.3 376.0,1180.2 376.2,1181.6 376.4,1166.4 376.6,1184.9 376.7,1177.3 376.9,1177.8 377.1,1174.0 377.3,1171.6 377.4,1186.3 377.6,1180.6 377.8,1182.0 378.0,1174.5 378.1,1173.1 378.3,1180.6 378.5,1181.6 378.7,1184.4 378.8,1176.8 379.0,1169.7 379.2,1176.8 379.4,1183.0 379.5,1183.9 379.7,1183.5 379.9,1188.7 380.1,1170.2 380.2,1179.2 380.4,1181.6 380.6,1167.8 380.8,1178.7 380.9,1172.1 381.1,1178.7 381.3,1174.0 381.5,1179.7 381.6,1182.5 381.8,1178.3 382.0,1176.4 382.2,1174.5 382.3,1179.2 382.5,1182.0 382.7,1182.5 382.9,1178.7 383.0,1183.5 383.2,1182.5 383.4,1177.8 383.6,1177.3 383.7,1177.8 383.9,1184.9 384.1,1188.7 384.3,1179.2 384.4,1180.2 384.6,1182.5 384.8,1179.7 385.0,1175.9 385.1,1181.6 385.3,1178.3 385.5,1185.8 385.7,1181.6 385.8,1184.9 386.0,1188.2 386.2,1177.8 386.4,1195.8 386.5,1180.6 386.7,1175.9 386.9,1177.8 387.1,1188.7 387.2,1178.7 387.4,1190.1 387.6,1184.9 387.8,1172.1 387.9,1178.7 388.1,1173.1 388.3,1185.4 388.5,1191.0 388.6,1183.5 388.8,1172.1 389.0,1174.0 389.2,1173.1 389.3,1179.7 389.5,1179.2 389.7,1179.7 389.9,1162.2 390.0,1177.8 390.2,1168.3 390.4,1178.7 390.6,1169.7 390.7,1183.5 390.9,1180.2 391.1,1174.9 391.3,1180.2 391.4,1178.7 391.6,1177.3 391.8,1178.7 392.0,1166.9 392.1,1168.8 392.3,1183.0 392.5,1165.0 392.7,1174.5 392.8,1174.0 393.0,1174.5 393.2,1167.8 393.4,1168.3 393.5,1174.9 393.7,1171.2 393.9,1178.7 394.1,1159.3 394.2,1174.5 394.4,1174.0 394.6,1172.6 394.8,1166.9 394.9,1162.2 395.1,1168.3 395.3,1165.0 395.5,1166.4 395.6,1155.5 395.8,1160.7 396.0,1171.6 396.2,1150.8 396.3,1157.0 396.5,1145.6 396.7,1160.3 396.9,1158.4 397.0,1155.1 397.2,1161.7 397.4,1153.6 397.6,1141.3 397.7,1143.2 397.9,1162.6 398.1,1135.7 398.3,1140.4 398.4,1135.2 398.6,1138.5 398.8,1135.7 399.0,1134.7 399.1,1132.8 399.3,1138.5 399.5,1121.0 399.7,1124.8 399.8,1121.5 400.0,1119.6 400.2,1121.9 400.4,1117.7 400.6,1125.7 400.7,1110.6 400.9,1108.2 401.1,1110.1 401.3,1119.6 401.4,1092.6 401.6,1102.5 401.8,1098.7 402.0,1098.7 402.1,1098.7 402.3,1094.5 402.5,1098.3 402.7,1091.2 402.8,1073.7 403.0,1076.0 403.2,1076.0 403.4,1086.4 403.5,1098.3 403.7,1094.5 403.9,1107.3 404.1,1077.0 404.2,1078.4 404.4,1090.2 404.6,1090.2 404.8,1093.1 404.9,1099.2 405.1,1095.0 405.3,1111.5 405.5,1109.2 405.6,1109.2 405.8,1123.8 406.0,1120.5 406.2,1111.5 406.3,1114.8 406.5,1138.5 406.7,1115.3 406.9,1121.5 407.0,1121.0 407.2,1129.0 407.4,1126.7 407.6,1142.3 407.7,1136.6 407.9,1144.7 408.1,1142.8 408.3,1132.8 408.4,1131.4 408.6,1144.2 408.8,1149.4 409.0,1142.8 409.1,1146.5 409.3,1138.5 409.5,1148.4 409.7,1169.3 409.8,1155.1 410.0,1158.9 410.2,1163.1 410.4,1158.4 410.5,1159.8 410.7,1163.6 410.9,1153.2 411.1,1160.7 411.2,1161.7 411.4,1164.1 411.6,1158.4 411.8,1173.5 411.9,1160.3 412.1,1169.7 412.3,1160.3 412.5,1161.2 412.6,1167.4 412.8,1173.5 413.0,1169.7 413.2,1169.7 413.3,1180.6 413.5,1174.5 413.7,1177.3 413.9,1166.0 414.0,1164.5 414.2,1178.7 414.4,1177.8 414.6,1182.5 414.7,1174.0 414.9,1171.2 415.1,1166.0 415.3,1183.5 415.4,1171.2 415.6,1177.8 415.8,1181.1 416.0,1179.2 416.1,1181.6 416.3,1174.9 416.5,1177.8 416.7,1171.2 416.8,1181.1 417.0,1188.7 417.2,1183.9 417.4,1176.8 417.5,1186.8 417.7,1183.0 417.9,1175.9 418.1,1186.3 418.2,1174.5 418.4,1177.3 418.6,1182.5 418.8,1179.7 418.9,1182.0 419.1,1181.6 419.3,1181.6 419.5,1179.7 419.6,1180.2 419.8,1183.9 420.0,1185.4 420.2,1168.8 420.3,1185.8 420.5,1180.6 420.7,1173.5 420.9,1174.5 421.0,1183.9 421.2,1169.3 421.4,1170.2 421.6,1181.6 421.7,1186.8 421.9,1176.8 422.1,1181.1 422.3,1181.6 422.4,1184.4 422.6,1183.5 422.8,1179.2 423.0,1174.9 423.1,1191.0 423.3,1192.9 423.5,1174.5 423.7,1184.4 423.8,1175.9 424.0,1179.2 424.2,1173.1 424.4,1174.9 424.5,1181.1 424.7,1180.6 424.9,1177.8 425.1,1175.4 425.2,1183.0 425.4,1187.7 425.6,1178.7 425.8,1179.7 425.9,1180.2 426.1,1184.4 426.3,1175.9 426.5,1188.7 426.6,1181.6 426.8,1171.6 427.0,1184.9 427.2,1176.4 427.3,1175.9 427.5,1175.9 427.7,1187.7 427.9,1172.6 428.0,1177.3 428.2,1174.9 428.4,1175.9 428.6,1177.3 428.7,1170.7 428.9,1169.3 429.1,1187.7 429.3,1181.6 429.4,1177.8 429.6,1188.7 429.8,1168.3 430.0,1180.6 430.1,1173.1 430.3,1174.5 430.5,1176.8 430.7,1181.1 430.8,1177.3 431.0,1174.5 431.2,1170.2 431.4,1175.4 431.5,1176.4 431.7,1174.9 431.9,1165.5 432.1,1171.2 432.2,1176.4 432.4,1179.2 432.6,1173.5 432.8,1176.4 432.9,1172.6 433.1,1161.7 433.3,1165.0 433.5,1166.9 433.6,1165.0 433.8,1156.5 434.0,1172.6 434.2,1162.2 434.3,1165.0 434.5,1162.2 434.7,1161.2 434.9,1162.6 435.0,1156.0 435.2,1171.6 435.4,1154.6 435.6,1150.8 435.7,1159.8 435.9,1158.4 436.1,1137.6 436.3,1154.6 436.4,1149.4 436.6,1149.9 436.8,1147.0 437.0,1145.6 437.1,1153.6 437.3,1120.0 437.5,1139.9 437.7,1130.0 437.8,1131.4 438.0,1119.1 438.2,1122.4 438.4,1117.2 438.5,1115.8 438.7,1116.7 438.9,1121.9 439.1,1114.4 439.2,1132.8 439.4,1113.9 439.6,1115.3 439.8,1118.6 439.9,1131.4 440.1,1106.8 440.3,1128.1 440.5,1119.6 440.6,1139.4 440.8,1128.6 441.0,1133.3 441.2,1136.1 441.3,1136.6 441.5,1121.0 441.7,1135.7 441.9,1134.7 442.0,1123.8 442.2,1150.3 442.4,1131.4 442.6,1146.1 442.7,1148.9 442.9,1148.9 443.1,1159.3 443.3,1158.9 443.4,1157.0 443.6,1154.1 443.8,1146.5 444.0,1145.1 444.1,1155.1 444.3,1150.8 444.5,1150.8 444.7,1155.5 444.9,1153.2 445.0,1158.4 445.2,1151.3 445.4,1156.0 445.6,1154.6 445.7,1152.7 445.9,1153.2 446.1,1158.4 446.3,1162.2 446.4,1153.6 446.6,1156.0 446.8,1155.5 447.0,1151.8 447.1,1155.1 447.3,1146.5 447.5,1146.1 447.7,1153.6 447.8,1144.2 448.0,1152.2 448.2,1139.4 448.4,1139.4 448.5,1142.3 448.7,1135.2 448.9,1132.8 449.1,1135.7 449.2,1150.3 449.4,1135.7 449.6,1133.8 449.8,1128.6 449.9,1140.4 450.1,1127.1 450.3,1129.0 450.5,1127.6 450.6,1139.4 450.8,1136.1 451.0,1120.0 451.2,1123.4 451.3,1130.0 451.5,1121.5 451.7,1128.1 451.9,1133.3 452.0,1142.8 452.2,1124.8 452.4,1133.8 452.6,1132.3 452.7,1148.0 452.9,1140.4 453.1,1135.7 453.3,1140.9 453.4,1145.6 453.6,1149.9 453.8,1142.3 454.0,1147.5 454.1,1148.9 454.3,1149.9 454.5,1153.6 454.7,1153.2 454.8,1156.5 455.0,1153.6 455.2,1163.6 455.4,1163.1 455.5,1157.4 455.7,1159.8 455.9,1158.9 456.1,1148.4 456.2,1157.4 456.4,1156.0 456.6,1161.2 456.8,1165.5 456.9,1170.7 457.1,1177.8 457.3,1175.9 457.5,1182.0 457.6,1175.4 457.8,1178.7 458.0,1175.9 458.2,1171.2 458.3,1174.0 458.5,1166.9 458.7,1167.4 458.9,1167.4 459.0,1168.8 459.2,1172.6 459.4,1177.3 459.6,1172.6 459.7,1176.8 459.9,1176.8 460.1,1174.0 460.3,1182.5 460.4,1185.8 460.6,1175.4 460.8,1167.8 461.0,1171.6 461.1,1157.4 461.3,1185.8 461.5,1182.0 461.7,1191.5 461.8,1183.9 462.0,1169.3 462.2,1170.7 462.4,1185.4 462.5,1181.6 462.7,1184.9 462.9,1187.7 463.1,1182.0 463.2,1182.5 463.4,1180.6 463.6,1179.7 463.8,1177.8 463.9,1174.5 464.1,1182.0 464.3,1183.0 464.5,1182.0 464.6,1180.2 464.8,1183.5 465.0,1187.7 465.2,1185.8 465.3,1179.2 465.5,1188.7 465.7,1179.2 465.9,1191.0 466.0,1180.6 466.2,1180.6 466.4,1185.4 466.6,1184.4 466.7,1185.4 466.9,1175.9 467.1,1186.8 467.3,1188.7 467.4,1183.0 467.6,1179.2 467.8,1183.5 468.0,1186.3 468.1,1180.2 468.3,1189.6 468.5,1189.6 468.7,1192.5 468.8,1179.7 469.0,1197.7 469.2,1192.9 469.4,1185.4 469.5,1184.4 469.7,1177.8 469.9,1184.9 470.1,1189.6 470.2,1180.2 470.4,1182.0 470.6,1181.6 470.8,1182.0 470.9,1184.9 471.1,1195.3 471.3,1193.4 471.5,1178.3 471.6,1187.7 471.8,1197.7 472.0,1188.2 472.2,1183.5 472.3,1186.8 472.5,1188.7 472.7,1200.5 472.9,1188.7 473.0,1189.6 473.2,1181.1 473.4,1189.1 473.6,1189.6 473.7,1192.0 473.9,1190.1 474.1,1188.7 474.3,1192.5 474.4,1194.4 474.6,1196.2 474.8,1189.6 475.0,1192.0 475.1,1192.0 475.3,1198.1 475.5,1194.8 475.7,1200.0 475.8,1186.3 476.0,1185.4 476.2,1189.1 476.4,1191.5 476.5,1189.1 476.7,1198.6 476.9,1198.1 477.1,1185.8 477.2,1196.7 477.4,1192.0 477.6,1195.3 477.8,1203.8 477.9,1195.3 478.1,1188.2 478.3,1185.8 478.5,1204.8 478.6,1200.0 478.8,1195.3 479.0,1187.7 479.2,1186.8 479.3,1184.9 479.5,1184.9 479.7,1194.8 479.9,1197.7 480.0,1188.7 480.2,1194.4 480.4,1192.9 480.6,1194.8 480.7,1195.3 480.9,1189.1 481.1,1198.6 481.3,1201.9 481.4,1197.2 481.6,1193.4 481.8,1195.3 482.0,1194.8 482.1,1203.3 482.3,1198.1 482.5,1189.1 482.7,1195.3 482.8,1197.7 483.0,1189.1 483.2,1197.2 483.4,1191.0 483.5,1193.9 483.7,1192.9 483.9,1190.1 484.1,1184.4 484.2,1188.7 484.4,1199.1 484.6,1200.5 484.8,1196.7 484.9,1196.2 485.1,1192.0 485.3,1195.3 485.5,1194.4 485.6,1203.3 485.8,1195.8 486.0,1192.9 486.2,1187.7 486.3,1192.0 486.5,1195.3 486.7,1201.4 486.9,1195.8 487.0,1195.8 487.2,1196.7 487.4,1195.3 487.6,1193.9 487.7,1193.9 487.9,1185.8 488.1,1201.0 488.3,1203.3 488.5,1194.4 488.6,1201.9 488.8,1197.2 489.0,1196.7 489.2,1200.0 489.3,1192.9 489.5,1193.4 489.7,1195.8 489.9,1193.9 490.0,1192.5 490.2,1198.1 490.4,1193.9 490.6,1196.2 490.7,1196.7 490.9,1199.1 491.1,1188.7 491.3,1195.3 491.4,1203.3 491.6,1194.4 491.8,1208.5 492.0,1195.8 492.1,1193.4 492.3,1190.1 492.5,1195.8 492.7,1200.0 492.8,1187.7 493.0,1192.0 493.2,1191.0 493.4,1198.1 493.5,1193.9 493.7,1205.2 493.9,1194.8 494.1,1206.7 494.2,1201.4 494.4,1203.8 494.6,1191.5 494.8,1192.5 494.9,1199.6 495.1,1191.0 495.3,1196.2 495.5,1205.7 495.6,1198.6 495.8,1204.8 496.0,1196.2 496.2,1194.8 496.3,1200.0 496.5,1192.5 496.7,1191.0 496.9,1200.5 497.0,1193.4 497.2,1196.2 497.4,1197.2 497.6,1187.7 497.7,1199.1 497.9,1197.2 498.1,1195.8 498.3,1192.5 498.4,1191.5 498.6,1199.6 498.8,1188.2 499.0,1185.8 499.1,1184.9 499.3,1193.4 499.5,1196.7 499.7,1199.1 499.8,1192.0 500.0,1193.4 500.2,1193.4 500.4,1195.8 500.5,1203.3 500.7,1193.4 500.9,1192.5 501.1,1192.9 501.2,1197.7 501.4,1191.5 501.6,1190.1 501.8,1194.8 501.9,1184.9 502.1,1187.7 502.3,1185.8 502.5,1183.9 502.6,1186.3 502.8,1184.4 503.0,1180.2 503.2,1177.8 503.3,1175.4 503.5,1180.2 503.7,1173.5 503.9,1169.7 504.0,1182.5 504.2,1174.9 504.4,1170.7 504.6,1168.8 504.7,1155.5 504.9,1157.0 505.1,1162.6 505.3,1159.8 505.4,1165.5 505.6,1160.3 505.8,1142.3 506.0,1159.8 506.1,1141.3 506.3,1147.5 506.5,1141.3 506.7,1137.1 506.8,1120.0 507.0,1128.1 507.2,1123.8 507.4,1117.2 507.5,1139.0 507.7,1102.5 507.9,1130.9 508.1,1122.4 508.2,1111.0 508.4,1126.7 508.6,1131.9 508.8,1111.0 508.9,1124.8 509.1,1117.7 509.3,1124.3 509.5,1131.9 509.6,1121.5 509.8,1138.5 510.0,1125.7 510.2,1148.9 510.3,1152.7 510.5,1153.6 510.7,1150.3 510.9,1162.2 511.0,1161.7 511.2,1151.3 511.4,1161.7 511.6,1157.9 511.7,1165.0 511.9,1173.1 512.1,1176.4 512.3,1172.6 512.4,1174.9 512.6,1180.2 512.8,1182.0 513.0,1172.6 513.1,1176.4 513.3,1181.6 513.5,1186.3 513.7,1187.7 513.8,1176.4 514.0,1190.6 514.2,1176.8 514.4,1192.5 514.5,1197.7 514.7,1180.6 514.9,1192.0 515.1,1184.9 515.2,1190.6 515.4,1194.4 515.6,1189.1 515.8,1195.8 515.9,1192.5 516.1,1195.8 516.3,1203.8 516.5,1193.9 516.6,1198.6 516.8,1197.2 517.0,1194.8 517.2,1203.8 517.3,1194.8 517.5,1194.8 517.7,1189.1 517.9,1194.4 518.0,1196.7 518.2,1201.4 518.4,1199.1 518.6,1205.2 518.7,1197.2 518.9,1200.0 519.1,1201.0 519.3,1199.6 519.4,1197.7 519.6,1198.6 519.8,1205.2 520.0,1194.4 520.1,1200.5 520.3,1199.1 520.5,1200.5 520.7,1205.2 520.8,1199.6 521.0,1202.9 521.2,1204.8 521.4,1201.0 521.5,1198.1 521.7,1198.6 521.9,1201.0 522.1,1204.3 522.2,1203.3 522.4,1202.4 522.6,1208.1 522.8,1198.6 522.9,1201.9 523.1,1207.6 523.3,1195.8 523.5,1193.9 523.6,1208.1 523.8,1203.3 524.0,1206.2 524.2,1199.6 524.3,1208.5 524.5,1200.5 524.7,1201.4 524.9,1198.1 525.0,1211.4 525.2,1206.2 525.4,1203.8 525.6,1199.1 525.7,1202.9 525.9,1200.0 526.1,1201.4 526.3,1207.1 526.4,1203.8 526.6,1205.2 526.8,1204.8 527.0,1207.6 527.1,1200.5 527.3,1202.4 527.5,1211.9 527.7,1200.5 527.8,1206.2 528.0,1210.4 528.2,1198.6 528.4,1204.3 528.5,1202.4 528.7,1204.8 528.9,1204.3 529.1,1211.9 529.2,1201.0 529.4,1207.6 529.6,1204.3 529.8,1204.8 529.9,1208.5 530.1,1210.0 530.3,1205.2 530.5,1199.1 530.6,1207.1 530.8,1207.1 531.0,1204.3 531.2,1207.1 531.3,1199.1 531.5,1202.9 531.7,1194.4 531.9,1203.8 532.1,1195.3 532.2,1207.1 532.4,1203.8 532.6,1209.5 532.8,1206.7 532.9,1206.2 533.1,1202.4 533.3,1199.1 533.5,1206.2 533.6,1210.9 533.8,1205.2 534.0,1205.7 534.2,1207.1 534.3,1201.4 534.5,1200.5 534.7,1208.1 534.9,1208.1 535.0,1216.1 535.2,1207.6 535.4,1201.4 535.6,1209.0 535.7,1201.4 535.9,1202.4 536.1,1202.9 536.3,1202.4 536.4,1205.7 536.6,1201.0 536.8,1201.0 537.0,1203.8 537.1,1205.7 537.3,1200.0 537.5,1199.1 537.7,1208.1 537.8,1201.9 538.0,1205.2 538.2,1195.8 538.4,1206.7 538.5,1208.1 538.7,1209.5 538.9,1201.9 539.1,1210.0 539.2,1202.9 539.4,1207.6 539.6,1200.0 539.8,1199.1 539.9,1201.0 540.1,1213.8 540.3,1211.9 540.5,1217.1 540.6,1194.8 540.8,1208.1 541.0,1207.6 541.2,1205.7 541.3,1203.3 541.5,1207.1 541.7,1205.7 541.9,1205.7 542.0,1211.4 542.2,1198.6 542.4,1198.6 542.6,1205.7 542.7,1206.7 542.9,1198.1 543.1,1195.8 543.3,1205.7 543.4,1203.3 543.6,1207.6 543.8,1204.8 544.0,1216.6 544.1,1215.6 544.3,1204.3 544.5,1207.1 544.7,1204.3 544.8,1205.7 545.0,1203.8 545.2,1205.2 545.4,1207.1 545.5,1204.3 545.7,1209.0 545.9,1200.5 546.1,1210.4 546.2,1208.1 546.4,1202.4 546.6,1207.6 546.8,1202.4 546.9,1200.5 547.1,1202.9 547.3,1208.1 547.5,1198.6 547.6,1204.3 547.8,1210.4 548.0,1198.1 548.2,1205.7 548.3,1203.8 548.5,1202.9 548.7,1208.5 548.9,1202.9 549.0,1211.4 549.2,1210.4 549.4,1208.1 549.6,1197.7 549.7,1203.8 549.9,1201.9 550.1,1208.5 550.3,1204.3 550.4,1215.2 550.6,1207.6 550.8,1204.8 551.0,1209.0 551.1,1214.7 551.3,1213.3 551.5,1203.8 551.7,1201.0 551.8,1208.1 552.0,1200.0 552.2,1212.3 552.4,1204.3 552.5,1205.7 552.7,1202.4 552.9,1212.8 553.1,1202.9 553.2,1206.2 553.4,1210.4 553.6,1209.0 553.8,1208.1 553.9,1205.7 554.1,1210.4 554.3,1210.4 554.5,1206.7 554.6,1207.1 554.8,1205.2 555.0,1203.3 555.2,1214.7 555.3,1207.6 555.5,1206.2 555.7,1207.1 555.9,1211.9 556.0,1204.3 556.2,1200.5 556.4,1208.1 556.6,1210.4 556.7,1204.3 556.9,1207.1 557.1,1207.1 557.3,1206.7 557.4,1209.5 557.6,1207.6 557.8,1210.4 558.0,1215.6 558.1,1203.3 558.3,1206.2 558.5,1208.1 558.7,1201.9 558.8,1208.1 559.0,1202.9 559.2,1204.3 559.4,1209.0 559.5,1212.8 559.7,1205.7 559.9,1206.7 560.1,1203.8 560.2,1214.2 560.4,1208.1 560.6,1206.7 560.8,1206.2 560.9,1207.1 561.1,1206.7 561.3,1217.5 561.5,1209.0 561.6,1210.4 561.8,1214.2 562.0,1207.6 562.2,1209.5 562.3,1212.8 562.5,1213.8 562.7,1206.7 562.9,1218.5 563.0,1208.5 563.2,1212.8 563.4,1207.6 563.6,1200.0 563.7,1203.8 563.9,1208.1 564.1,1201.9 564.3,1200.5 564.4,1203.8 564.6,1200.5 564.8,1207.1 565.0,1205.7 565.1,1208.5 565.3,1209.5 565.5,1208.1 565.7,1211.4 565.8,1208.5 566.0,1199.1 566.2,1205.2 566.4,1209.0 566.5,1201.0 566.7,1202.4 566.9,1212.3 567.1,1210.9 567.2,1201.0 567.4,1207.6 567.6,1207.6 567.8,1210.4 567.9,1212.8 568.1,1203.3 568.3,1211.4 568.5,1206.2 568.6,1200.5 568.8,1206.2 569.0,1209.0 569.2,1205.7 569.3,1206.2 569.5,1210.0 569.7,1207.1 569.9,1213.3 570.0,1215.6 570.2,1210.4 570.4,1215.6 570.6,1210.9 570.7,1209.0 570.9,1207.6 571.1,1201.0 571.3,1212.3 571.4,1210.4 571.6,1210.4 571.8,1212.8 572.0,1200.0 572.1,1211.9 572.3,1209.5 572.5,1209.0 572.7,1198.6 572.8,1210.0 573.0,1211.9 573.2,1203.3 573.4,1211.4 573.5,1217.1 573.7,1203.8 573.9,1204.8 574.1,1214.2 574.2,1213.8 574.4,1208.5 574.6,1212.8 574.8,1214.7 574.9,1213.8 575.1,1201.4 575.3,1204.3 575.5,1213.3 575.7,1209.5 575.8,1208.1 576.0,1210.0 576.2,1209.0 576.4,1201.4 576.5,1211.4 576.7,1211.9 576.9,1209.0 577.1,1211.4 577.2,1210.4 577.4,1210.4 577.6,1212.8 577.8,1203.8 577.9,1211.4 578.1,1203.3 578.3,1212.3 578.5,1212.3 578.6,1207.6 578.8,1210.0 579.0,1205.2 579.2,1205.7 579.3,1199.1 579.5,1220.9 579.7,1212.8 579.9,1209.0 580.0,1209.5 580.2,1209.0 580.4,1197.7 580.6,1218.0 580.7,1205.7 580.9,1209.5 581.1,1208.5 581.3,1203.8 581.4,1208.5 581.6,1205.2 581.8,1202.9 582.0,1203.3 582.1,1216.1 582.3,1210.9 582.5,1213.8 582.7,1211.4 582.8,1209.0 583.0,1199.6 583.2,1210.9 583.4,1209.5 583.5,1208.5 583.7,1201.4 583.9,1210.4 584.1,1206.2 584.2,1204.3 584.4,1205.2 584.6,1216.1 584.8,1213.3 584.9,1204.8 585.1,1215.2 585.3,1208.5 585.5,1213.8 585.6,1205.7 585.8,1207.6 586.0,1213.8 586.2,1208.1 586.3,1211.4 586.5,1209.0 586.7,1201.4 586.9,1205.2 587.0,1204.8 587.2,1199.6 587.4,1205.7 587.6,1200.5 587.7,1204.3 587.9,1204.3 588.1,1207.1 588.3,1209.0 588.4,1210.0 588.6,1209.0 588.8,1202.4 589.0,1202.9 589.1,1208.1 589.3,1199.1 589.5,1207.1 589.7,1205.7 589.8,1210.0 590.0,1207.6 590.2,1200.0 590.4,1201.9 590.5,1206.2 590.7,1198.1 590.9,1203.8 591.1,1202.9 591.2,1198.6 591.4,1201.0 591.6,1204.8 591.8,1208.1 591.9,1197.2 592.1,1213.8 592.3,1205.7 592.5,1210.9 592.6,1205.7 592.8,1199.6 593.0,1204.8 593.2,1205.2 593.3,1203.3 593.5,1194.8 593.7,1197.2 593.9,1202.4 594.0,1206.2 594.2,1205.2 594.4,1202.4 594.6,1204.8 594.7,1204.3 594.9,1208.5 595.1,1210.0 595.3,1208.5 595.4,1202.9 595.6,1208.1 595.8,1192.9 596.0,1201.4 596.1,1201.0 596.3,1199.6 596.5,1208.5 596.7,1209.0 596.8,1205.2 597.0,1201.4 597.2,1201.4 597.4,1196.7 597.5,1197.7 597.7,1199.1 597.9,1198.6 598.1,1202.4 598.2,1200.0 598.4,1204.8 598.6,1205.2 598.8,1199.1 598.9,1210.4 599.1,1197.2 599.3,1194.8 599.5,1205.2 599.6,1199.6 599.8,1201.9 600.0,1206.7 600.2,1201.0 600.3,1200.0 600.5,1197.7 600.7,1203.3 600.9,1201.4 601.0,1204.3 601.2,1197.2 601.4,1201.9 601.6,1197.2 601.7,1204.3 601.9,1200.5 602.1,1204.8 602.3,1203.8 602.4,1195.3 602.6,1201.0 602.8,1200.5 603.0,1196.2 603.1,1203.3 603.3,1190.6 603.5,1202.9 603.7,1200.5 603.8,1188.7 604.0,1206.2 604.2,1190.1 604.4,1195.8 604.5,1195.3 604.7,1201.9 604.9,1196.2 605.1,1202.4 605.2,1191.5 605.4,1197.2 605.6,1198.6 605.8,1197.7 605.9,1195.8 606.1,1189.6 606.3,1192.5 606.5,1197.2 606.6,1197.7 606.8,1197.7 607.0,1188.2 607.2,1189.1 607.3,1196.7 607.5,1198.6 607.7,1190.1 607.9,1192.5 608.0,1186.3 608.2,1188.7 608.4,1185.4 608.6,1182.5 608.7,1180.2 608.9,1186.3 609.1,1180.2 609.3,1186.3 609.4,1188.7 609.6,1179.7 609.8,1173.5 610.0,1171.2 610.1,1177.8 610.3,1185.8 610.5,1172.6 610.7,1174.5 610.8,1167.8 611.0,1163.1 611.2,1169.7 611.4,1169.3 611.5,1165.0 611.7,1164.1 611.9,1163.6 612.1,1152.7 612.2,1155.1 612.4,1148.4 612.6,1144.7 612.8,1141.8 612.9,1128.1 613.1,1130.5 613.3,1121.5 613.5,1108.2 613.6,1108.2 613.8,1111.5 614.0,1095.0 614.2,1086.0 614.3,1066.1 614.5,1046.2 614.7,1048.1 614.9,1039.6 615.0,1010.7 615.2,1019.7 615.4,995.6 615.6,979.5 615.7,971.0 615.9,957.7 616.1,938.8 616.3,908.0 616.4,905.2 616.6,906.6 616.8,882.4 617.0,862.1 617.1,856.4 617.3,856.9 617.5,858.3 617.7,855.9 617.8,858.3 618.0,872.5 618.2,893.8 618.4,896.6 618.5,899.0 618.7,937.8 618.9,958.2 619.1,947.8 619.2,985.6 619.4,996.5 619.6,998.4 619.8,1012.1 620.0,1022.1 620.1,1033.4 620.3,1041.9 620.5,1059.0 620.7,1075.6 620.8,1102.5 621.0,1076.0 621.2,1088.3 621.4,1097.3 621.5,1109.6 621.7,1122.9 621.9,1118.1 622.1,1127.6 622.2,1141.8 622.4,1129.0 622.6,1150.3 622.8,1147.0 622.9,1135.7 623.1,1155.5 623.3,1151.8 623.5,1148.4 623.6,1157.4 623.8,1168.3 624.0,1164.5 624.2,1163.6 624.3,1174.0 624.5,1157.4 624.7,1165.5 624.9,1164.1 625.0,1167.8 625.2,1168.3 625.4,1173.5 625.6,1180.6 625.7,1169.3 625.9,1173.5 626.1,1165.5 626.3,1181.6 626.4,1174.5 626.6,1164.1 626.8,1183.9 627.0,1183.5 627.1,1176.4 627.3,1168.3 627.5,1184.9 627.7,1178.3 627.8,1179.7 628.0,1182.0 628.2,1181.1 628.4,1173.1 628.5,1179.2 628.7,1187.3 628.9,1183.9 629.1,1180.2 629.2,1188.2 629.4,1184.9 629.6,1183.5 629.8,1192.5 629.9,1171.2 630.1,1190.1 630.3,1181.1 630.5,1182.5 630.6,1184.9 630.8,1175.4 631.0,1181.6 631.2,1186.3 631.3,1175.9 631.5,1179.2 631.7,1187.7 631.9,1190.6 632.0,1177.3 632.2,1183.0 632.4,1190.1 632.6,1179.2 632.7,1190.1 632.9,1185.8 633.1,1186.8 633.3,1192.9 633.4,1178.7 633.6,1163.1 633.8,1178.7 634.0,1180.2 634.1,1183.5 634.3,1182.5 634.5,1180.2 634.7,1178.3 634.8,1184.4 635.0,1181.1 635.2,1182.5 635.4,1178.3 635.5,1175.9 635.7,1174.5 635.9,1183.0 636.1,1183.0 636.2,1175.9 636.4,1181.1 636.6,1180.2 636.8,1176.4 636.9,1176.4 637.1,1170.7 637.3,1183.9 637.5,1170.7 637.6,1178.7 637.8,1171.6 638.0,1182.0 638.2,1174.9 638.3,1176.8 638.5,1161.7 638.7,1176.8 638.9,1163.1 639.0,1173.5 639.2,1174.0 639.4,1164.1 639.6,1157.4 639.7,1162.6 639.9,1156.0 640.1,1156.0 640.3,1155.5 640.4,1142.8 640.6,1148.9 640.8,1139.4 641.0,1149.4 641.1,1138.5 641.3,1125.2 641.5,1130.5 641.7,1137.6 641.8,1109.2 642.0,1103.5 642.2,1103.0 642.4,1092.1 642.5,1087.4 642.7,1071.8 642.9,1055.2 643.1,1051.9 643.2,1044.8 643.4,1037.7 643.6,1022.1 643.8,1013.5 643.9,985.2 644.1,994.6 644.3,976.6 644.5,953.0 644.6,940.7 644.8,929.8 645.0,926.9 645.2,909.0 645.3,921.3 645.5,915.6 645.7,908.0 645.9,882.9 646.0,885.3 646.2,901.9 646.4,910.8 646.6,916.0 646.7,900.4 646.9,931.7 647.1,945.4 647.3,965.7 647.4,966.2 647.6,970.5 647.8,996.0 648.0,1019.7 648.1,1010.2 648.3,1036.3 648.5,1030.6 648.7,1068.9 648.8,1070.8 649.0,1077.0 649.2,1103.9 649.4,1096.9 649.5,1101.1 649.7,1114.8 649.9,1117.2 650.1,1125.7 650.2,1139.4 650.4,1133.8 650.6,1148.9 650.8,1150.3 650.9,1157.4 651.1,1152.2 651.3,1163.1 651.5,1166.0 651.6,1179.2 651.8,1170.2 652.0,1165.5 652.2,1185.4 652.3,1173.5 652.5,1177.3 652.7,1188.7 652.9,1183.0 653.0,1176.8 653.2,1183.5 653.4,1182.5 653.6,1179.7 653.7,1188.2 653.9,1183.5 654.1,1194.8 654.3,1193.9 654.4,1183.0 654.6,1184.4 654.8,1187.3 655.0,1200.0 655.1,1194.4 655.3,1198.1 655.5,1185.4 655.7,1201.4 655.8,1201.4 656.0,1198.6 656.2,1194.8 656.4,1199.6 656.5,1198.6 656.7,1196.2 656.9,1198.1 657.1,1207.1 657.2,1204.8 657.4,1192.0 657.6,1199.1 657.8,1191.5 657.9,1193.4 658.1,1195.3 658.3,1200.5 658.5,1193.9 658.6,1203.3 658.8,1191.5 659.0,1199.1 659.2,1199.1 659.3,1203.8 659.5,1204.8 659.7,1203.3 659.9,1204.8 660.0,1206.2 660.2,1207.1 660.4,1201.9 660.6,1197.7 660.7,1194.4 660.9,1200.0 661.1,1203.8 661.3,1200.5 661.4,1195.8 661.6,1202.9 661.8,1199.1 662.0,1201.9 662.1,1202.9 662.3,1205.7 662.5,1200.5 662.7,1207.1 662.8,1207.6 663.0,1201.9 663.2,1199.1 663.4,1199.6 663.6,1200.0 663.7,1204.8 663.9,1203.8 664.1,1198.6 664.3,1194.4 664.4,1214.7 664.6,1197.7 664.8,1201.9 665.0,1202.9 665.1,1205.7 665.3,1205.2 665.5,1207.6 665.7,1201.0 665.8,1206.2 666.0,1202.4 666.2,1208.1 666.4,1196.2 666.5,1198.1 666.7,1206.2 666.9,1198.6 667.1,1202.4 667.2,1204.3 667.4,1199.6 667.6,1195.8 667.8,1192.5 667.9,1197.7 668.1,1193.4 668.3,1195.3 668.5,1194.8 668.6,1193.4 668.8,1203.8 669.0,1198.6 669.2,1189.6 669.3,1202.4 669.5,1199.6 669.7,1186.3 669.9,1199.6 670.0,1193.9 670.2,1192.9 670.4,1194.8 670.6,1188.7 670.7,1188.7 670.9,1195.8 671.1,1183.5 671.3,1195.3 671.4,1192.9 671.6,1191.0 671.8,1189.1 672.0,1194.8 672.1,1187.7 672.3,1199.6 672.5,1190.6 672.7,1192.0 672.8,1190.6 673.0,1187.3 673.2,1184.9 673.4,1189.6 673.5,1185.4 673.7,1192.5 673.9,1186.3 674.1,1179.2 674.2,1187.3 674.4,1184.9 674.6,1183.0 674.8,1178.3 674.9,1180.2 675.1,1182.5 675.3,1186.8 675.5,1179.7 675.6,1196.2 675.8,1178.3 676.0,1184.4 676.2,1176.4 676.3,1180.2 676.5,1172.1 676.7,1183.0 676.9,1190.1 677.0,1179.2 677.2,1181.6 677.4,1179.7 677.6,1172.6 677.7,1183.9 677.9,1175.4 678.1,1174.5 678.3,1173.5 678.4,1190.1 678.6,1178.7 678.8,1183.5 679.0,1181.1 679.1,1184.4 679.3,1182.0 679.5,1175.4 679.7,1171.6 679.8,1177.3 680.0,1187.7 680.2,1174.9 680.4,1188.2 680.5,1183.9 680.7,1176.4 680.9,1185.4 681.1,1179.2 681.2,1184.4 681.4,1189.6 681.6,1182.5 681.8,1186.8 681.9,1174.9 682.1,1174.9 682.3,1176.4 682.5,1190.1 682.6,1175.4 682.8,1183.9 683.0,1183.0 683.2,1184.9 683.3,1188.7 683.5,1185.4 683.7,1182.0 683.9,1178.7 684.0,1183.5 684.2,1186.8 684.4,1189.1 684.6,1188.7 684.7,1178.7 684.9,1183.5 685.1,1185.8 685.3,1195.3 685.4,1196.2 685.6,1183.5 685.8,1183.9 686.0,1181.6 686.1,1185.8 686.3,1190.1 686.5,1195.8 686.7,1191.5 686.8,1198.6 687.0,1184.9 687.2,1183.9 687.4,1179.2 687.5,1195.8 687.7,1193.4 687.9,1183.0 688.1,1183.9 688.2,1195.8 688.4,1189.1 688.6,1184.9 688.8,1187.3 688.9,1183.0 689.1,1184.4 689.3,1187.7 689.5,1182.5 689.6,1184.9 689.8,1178.3 690.0,1191.5 690.2,1185.4 690.3,1187.3 690.5,1184.9 690.7,1181.6 690.9,1180.2 691.0,1194.8 691.2,1177.3 691.4,1180.6 691.6,1181.1 691.7,1183.5 691.9,1178.7 692.1,1181.6 692.3,1193.4 692.4,1187.7 692.6,1185.8 692.8,1186.3 693.0,1187.3 693.1,1182.0 693.3,1191.0 693.5,1189.6 693.7,1191.0 693.8,1186.3 694.0,1184.4 694.2,1191.5 694.4,1185.4 694.5,1190.6 694.7,1181.1 694.9,1200.0 695.1,1189.1 695.2,1183.5 695.4,1191.5 695.6,1195.8 695.8,1195.3 695.9,1188.7 696.1,1194.4 696.3,1187.3 696.5,1192.5 696.6,1195.8 696.8,1195.8 697.0,1192.0 697.2,1189.6 697.3,1199.1 697.5,1201.0 697.7,1201.4 697.9,1194.4 698.0,1188.2 698.2,1199.6 698.4,1194.8 698.6,1200.0 698.7,1194.4 698.9,1205.7 699.1,1196.7 699.3,1205.7 699.4,1203.8 699.6,1199.1 699.8,1201.9 700.0,1201.4 700.1,1199.6 700.3,1201.0 700.5,1195.8 700.7,1199.6 700.8,1206.7 701.0,1203.3 701.2,1205.7 701.4,1205.7 701.5,1196.2 701.7,1207.6 701.9,1199.1 702.1,1198.6 702.2,1193.4 702.4,1205.2 702.6,1204.3 702.8,1204.3 702.9,1207.6 703.1,1198.6 703.3,1198.1 703.5,1216.1 703.6,1208.1 703.8,1201.9 704.0,1211.4 704.2,1210.0 704.3,1207.1 704.5,1207.6 704.7,1208.1 704.9,1208.1 705.0,1200.5 705.2,1217.5 705.4,1210.0 705.6,1212.8 705.7,1207.1 705.9,1210.0 706.1,1206.7 706.3,1208.5 706.4,1199.1 706.6,1214.2 706.8,1210.9 707.0,1205.2 707.2,1210.4 707.3,1208.5 707.5,1215.2 707.7,1206.2 707.9,1209.5 708.0,1207.1 708.2,1213.3 708.4,1211.9 708.6,1212.8 708.7,1202.9 708.9,1216.6 709.1,1208.1 709.3,1209.0 709.4,1204.8 709.6,1209.0 709.8,1214.2 710.0,1208.1 710.1,1217.1 710.3,1206.2 710.5,1210.9 710.7,1213.3 710.8,1212.3 711.0,1208.1 711.2,1217.5 711.4,1203.8 711.5,1213.8 711.7,1204.8 711.9,1210.4 712.1,1203.3 712.2,1216.1 712.4,1207.6 712.6,1211.4 712.8,1213.8 712.9,1208.1 713.1,1212.3 713.3,1214.7 713.5,1212.3 713.6,1214.7 713.8,1212.8 714.0,1212.3 714.2,1207.6 714.3,1212.3 714.5,1215.2 714.7,1209.5 714.9,1213.8 715.0,1216.1 715.2,1217.1 715.4,1205.7 715.6,1213.3 715.7,1206.7 715.9,1216.6 716.1,1217.1 716.3,1206.2 716.4,1213.8 716.6,1213.8 716.8,1213.8 717.0,1217.1 717.1,1209.5 717.3,1218.0 717.5,1210.4 717.7,1217.5 717.8,1203.3 718.0,1210.9 718.2,1209.5 718.4,1219.9 718.5,1212.3 718.7,1216.1 718.9,1217.1 719.1,1217.1 719.2,1210.4 719.4,1213.8 719.6,1215.6 719.8,1216.1 719.9,1216.1 720.1,1215.6 720.3,1214.7 720.5,1218.0 720.6,1217.1 720.8,1222.3 721.0,1213.8 721.2,1211.4 721.3,1215.6 721.5,1208.5 721.7,1216.6 721.9,1213.3 722.0,1209.0 722.2,1212.8 722.4,1216.6 722.6,1211.9 722.7,1214.7 722.9,1209.0 723.1,1210.4 723.3,1213.8 723.4,1210.9 723.6,1206.2 723.8,1208.5 724.0,1209.5 724.1,1213.3 724.3,1214.7 724.5,1215.2 724.7,1208.1 724.8,1216.1 725.0,1210.0 725.2,1205.2 725.4,1217.5 725.5,1209.5 725.7,1214.7 725.9,1210.9 726.1,1208.1 726.2,1214.2 726.4,1215.2 726.6,1210.9 726.8,1208.1 726.9,1210.4 727.1,1212.3 727.3,1205.2 727.5,1212.3 727.6,1213.3 727.8,1206.2 728.0,1197.2 728.2,1208.1 728.3,1205.7 728.5,1209.0 728.7,1206.7 728.9,1208.5 729.0,1201.9 729.2,1205.2 729.4,1205.2 729.6,1196.7 729.7,1207.1 729.9,1195.3 730.1,1199.6 730.3,1202.4 730.4,1197.2 730.6,1197.7 730.8,1193.9 731.0,1195.3 731.1,1183.9 731.3,1187.3 731.5,1185.8 731.7,1196.2 731.8,1191.0 732.0,1182.0 732.2,1183.9 732.4,1185.8 732.5,1184.9 732.7,1177.8 732.9,1192.5 733.1,1185.4 733.2,1187.3 733.4,1171.6 733.6,1184.9 733.8,1176.8 733.9,1166.4 734.1,1174.5 734.3,1169.7 734.5,1169.7 734.6,1164.5 734.8,1154.1 735.0,1173.5 735.2,1165.5 735.3,1153.6 735.5,1148.0 735.7,1162.6 735.9,1151.8 736.0,1155.1 736.2,1154.6 736.4,1166.9 736.6,1167.8 736.7,1155.5 736.9,1157.0 737.1,1156.5 737.3,1163.1 737.4,1145.6 737.6,1156.5 737.8,1135.2 738.0,1157.0 738.1,1153.2 738.3,1151.3 738.5,1158.9 738.7,1164.1 738.8,1161.7 739.0,1158.9 739.2,1163.1 739.4,1148.4 739.5,1165.0 739.7,1158.4 739.9,1159.3 740.1,1164.5 740.2,1173.5 740.4,1165.0 740.6,1163.6 740.8,1169.7 740.9,1172.1 741.1,1186.3 741.3,1181.1 741.5,1177.3 741.6,1176.8 741.8,1174.9 742.0,1182.0 742.2,1180.6 742.3,1188.7 742.5,1181.1 742.7,1182.0 742.9,1187.7 743.0,1183.0 743.2,1191.0 743.4,1192.9 743.6,1193.4 743.7,1183.0 743.9,1201.9 744.1,1193.9 744.3,1197.7 744.4,1196.7 744.6,1204.8 744.8,1195.3 745.0,1196.7 745.1,1201.9 745.3,1203.3 745.5,1201.9 745.7,1199.1 745.8,1210.4 746.0,1198.6 746.2,1206.7 746.4,1202.4 746.5,1210.0 746.7,1199.1 746.9,1206.7 747.1,1201.0 747.2,1211.4 747.4,1211.9 747.6,1205.2 747.8,1207.6 747.9,1209.5 748.1,1206.7 748.3,1210.0 748.5,1213.3 748.6,1219.9 748.8,1221.8 749.0,1210.9 749.2,1211.4 749.3,1217.5 749.5,1212.3 749.7,1215.6 749.9,1214.7 750.0,1211.9 750.2,1221.3 750.4,1214.7 750.6,1214.2 750.8,1217.1 750.9,1216.1 751.1,1220.9 751.3,1216.6 751.5,1215.2 751.6,1214.7 751.8,1219.9 752.0,1215.2 752.2,1217.1 752.3,1215.6 752.5,1218.5 752.7,1216.1 752.9,1218.0 753.0,1210.4 753.2,1219.9 753.4,1215.2 753.6,1219.4 753.7,1224.6 753.9,1218.0 754.1,1215.6 754.3,1217.1 754.4,1217.1 754.6,1222.7 754.8,1219.0 755.0,1224.6 755.1,1214.7 755.3,1215.2 755.5,1224.2 755.7,1221.8 755.8,1224.6 756.0,1223.2 756.2,1222.3 756.4,1225.1 756.5,1222.7 756.7,1219.0 756.9,1222.3 757.1,1219.0 757.2,1222.3 757.4,1221.3 757.6,1225.6 757.8,1219.0 757.9,1225.6 758.1,1223.2 758.3,1226.1 758.5,1220.4 758.6,1225.6 758.8,1220.4 759.0,1216.1 759.2,1221.3 759.3,1229.4 759.5,1219.4 759.7,1221.8 759.9,1220.9 760.0,1221.3 760.2,1219.0 760.4,1219.4 760.6,1222.7 760.7,1226.5 760.9,1223.2 761.1,1220.4 761.3,1228.9 761.4,1222.7 761.6,1228.9 761.8,1219.9 762.0,1217.5 762.1,1220.4 762.3,1224.6 762.5,1220.9 762.7,1219.4 762.8,1218.5 763.0,1219.0 763.2,1220.4 763.4,1226.5 763.5,1223.7 763.7,1222.3 763.9,1223.7 764.1,1229.8 764.2,1224.2 764.4,1226.1 764.6,1223.2 764.8,1222.7 764.9,1228.4 765.1,1226.1 765.3,1223.7 765.5,1227.5 765.6,1224.2 765.8,1226.5 766.0,1226.5 766.2,1221.8 766.3,1224.6 766.5,1226.1 766.7,1219.9 766.9,1225.6 767.0,1224.6 767.2,1224.6 767.4,1215.6 767.6,1222.7 767.7,1221.8 767.9,1225.6 768.1,1222.3 768.3,1221.3 768.4,1228.4 768.6,1223.2 768.8,1219.9 769.0,1219.4 769.1,1224.2 769.3,1218.0 769.5,1227.0 769.7,1221.8 769.8,1223.2 770.0,1228.0 770.2,1221.8 770.4,1228.9 770.5,1227.0 770.7,1225.1 770.9,1228.4 771.1,1221.8 771.2,1226.5 771.4,1228.9 771.6,1224.2 771.8,1225.1 771.9,1228.4 772.1,1227.0 772.3,1222.7 772.5,1222.7 772.6,1229.8 772.8,1222.3 773.0,1222.3 773.2,1221.8 773.3,1226.5 773.5,1227.5 773.7,1225.6 773.9,1227.5 774.0,1226.1 774.2,1227.0 774.4,1226.5 774.6,1227.0 774.7,1225.6 774.9,1225.1 775.1,1226.5 775.3,1227.0 775.4,1220.9 775.6,1222.7 775.8,1224.2 776.0,1228.4 776.1,1223.7 776.3,1226.1 776.5,1224.2 776.7,1225.1 776.8,1218.5 777.0,1225.6 777.2,1228.9 777.4,1222.7 777.5,1222.7 777.7,1222.3 777.9,1233.6 778.1,1228.4 778.2,1228.4 778.4,1230.8 778.6,1225.6 778.8,1224.2 778.9,1223.2 779.1,1223.7 779.3,1226.1 779.5,1221.8 779.6,1225.6 779.8,1234.1 780.0,1227.0 780.2,1228.4 780.3,1225.6 780.5,1227.5 780.7,1227.5 780.9,1222.3 781.0,1228.4 781.2,1230.3 781.4,1225.6 781.6,1224.6 781.7,1227.0 781.9,1226.5 782.1,1228.4 782.3,1230.3 782.4,1228.9 782.6,1229.8 782.8,1223.2 783.0,1227.5 783.1,1222.7 783.3,1227.0 783.5,1229.4 783.7,1226.1 783.8,1226.1 784.0,1223.2 784.2,1232.7 784.4,1228.0 784.5,1225.6 784.7,1228.9 784.9,1226.5 785.1,1228.0 785.2,1222.7 785.4,1223.2 785.6,1232.7 785.8,1231.3 785.9,1229.4 786.1,1227.0 786.3,1227.5 786.5,1228.4 786.6,1225.1 786.8,1224.6 787.0,1227.0 787.2,1228.0 787.3,1227.0 787.5,1229.4 787.7,1224.6 787.9,1224.6 788.0,1229.8 788.2,1223.2 788.4,1227.5 788.6,1224.6 788.7,1227.0 788.9,1227.5 789.1,1225.1 789.3,1229.8 789.4,1228.0 789.6,1230.8 789.8,1226.1 790.0,1228.0 790.1,1228.0 790.3,1228.9 790.5,1225.6 790.7,1226.5 790.8,1228.0 791.0,1228.4 791.2,1222.3 791.4,1223.2 791.5,1230.3 791.7,1224.2 791.9,1226.1 792.1,1226.5 792.2,1226.1 792.4,1231.3 792.6,1220.4 792.8,1221.8 792.9,1227.5 793.1,1227.5 793.3,1227.0 793.5,1229.4 793.6,1226.1 793.8,1227.5 794.0,1230.3 794.2,1228.9 794.3,1229.4 794.5,1229.4 794.7,1228.4 794.9,1226.1 795.1,1228.9 795.2,1232.2 795.4,1223.7 795.6,1229.4 795.8,1223.7 795.9,1227.0 796.1,1226.1 796.3,1229.8 796.5,1227.5 796.6,1228.9 796.8,1228.0 797.0,1226.5 797.2,1228.9 797.3,1225.6 797.5,1231.7 797.7,1230.8 797.9,1226.5 798.0,1226.5 798.2,1225.1 798.4,1223.7 798.6,1226.5 798.7,1226.1 798.9,1227.0 799.1,1227.5 799.3,1228.0 799.4,1227.5 799.6,1229.4 799.8,1228.4 800.0,1225.6 800.1,1226.5 800.3,1224.6 800.5,1229.4 800.7,1228.9 800.8,1227.0 801.0,1230.3 801.2,1230.3 801.4,1226.5 801.5,1228.9 801.7,1225.6 801.9,1228.0 802.1,1229.4 802.2,1230.8 802.4,1225.1 802.6,1228.4 802.8,1230.3 802.9,1232.2 803.1,1231.7 803.3,1229.4 803.5,1225.1 803.6,1230.8 803.8,1227.5 804.0,1227.5 804.2,1237.4 804.3,1231.7 804.5,1226.1 804.7,1233.6 804.9,1225.1 805.0,1228.4 805.2,1232.7 805.4,1223.2 805.6,1228.9 805.7,1224.2 805.9,1228.0 806.1,1230.3 806.3,1225.6 806.4,1223.7 806.6,1225.1 806.8,1231.7 807.0,1227.0 807.1,1231.7 807.3,1230.3 807.5,1224.6 807.7,1232.2 807.8,1221.8 808.0,1232.7 808.2,1232.2 808.4,1226.5 808.5,1228.9 808.7,1228.9 808.9,1231.3 809.1,1226.5 809.2,1228.0 809.4,1228.9 809.6,1230.8 809.8,1232.7 809.9,1228.4 810.1,1234.6 810.3,1230.3 810.5,1227.0 810.6,1226.5 810.8,1229.8 811.0,1235.5 811.2,1227.0 811.3,1226.1 811.5,1228.4 811.7,1225.1 811.9,1226.1 812.0,1233.2 812.2,1229.4 812.4,1229.8 812.6,1224.2 812.7,1225.6 812.9,1228.4 813.1,1227.0 813.3,1226.1 813.4,1230.3 813.6,1228.9 813.8,1228.9 814.0,1229.8 814.1,1229.4 814.3,1228.0 814.5,1232.2 814.7,1231.7 814.8,1226.5 815.0,1224.6 815.2,1223.7 815.4,1233.2 815.5,1227.5 815.7,1230.8 815.9,1230.3 816.1,1229.4 816.2,1227.5 816.4,1227.0 816.6,1235.1 816.8,1230.3 816.9,1225.6 817.1,1228.4 817.3,1233.2 817.5,1231.3 817.6,1230.8 817.8,1226.1 818.0,1224.2 818.2,1231.7 818.3,1227.5 818.5,1229.4 818.7,1227.0 818.9,1229.4 819.0,1231.7 819.2,1230.3 819.4,1230.3 819.6,1224.6 819.7,1230.8 819.9,1227.0 820.1,1230.8 820.3,1230.3 820.4,1228.0 820.6,1230.3 820.8,1223.2 821.0,1225.1 821.1,1231.7 821.3,1227.0 821.5,1224.6 821.7,1231.7 821.8,1229.8 822.0,1224.6 822.2,1230.8 822.4,1227.0 822.5,1228.9 822.7,1228.0 822.9,1231.3 823.1,1228.9 823.2,1229.8 823.4,1223.7 823.6,1226.5 823.8,1228.0 823.9,1228.4 824.1,1226.5 824.3,1232.7 824.5,1231.3 824.6,1230.8 824.8,1230.8 825.0,1232.7 825.2,1227.0 825.3,1229.8 825.5,1225.1 825.7,1228.4 825.9,1229.4 826.0,1227.0 826.2,1227.0 826.4,1228.9 826.6,1226.5 826.7,1224.6 826.9,1229.4 827.1,1224.6 827.3,1228.4 827.4,1225.6 827.6,1228.0 827.8,1228.9 828.0,1227.0 828.1,1230.8 828.3,1232.2 828.5,1228.0 828.7,1228.4 828.8,1230.8 829.0,1221.8 829.2,1226.5 829.4,1229.8 829.5,1226.1 829.7,1226.1 829.9,1228.4 830.1,1228.0 830.2,1232.7 830.4,1226.5 830.6,1221.8 830.8,1224.2 830.9,1224.2 831.1,1228.9 831.3,1229.8 831.5,1224.2 831.6,1226.1 831.8,1227.5 832.0,1227.5 832.2,1223.7 832.3,1224.6 832.5,1227.5 832.7,1226.5 832.9,1230.8 833.0,1229.4 833.2,1224.2 833.4,1227.0 833.6,1228.4 833.7,1224.6 833.9,1221.8 834.1,1227.5 834.3,1226.1 834.4,1225.6 834.6,1217.1 834.8,1221.3 835.0,1223.2 835.1,1228.4 835.3,1221.3 835.5,1221.8 835.7,1223.7 835.8,1225.6 836.0,1224.2 836.2,1228.0 836.4,1223.2 836.5,1223.2 836.7,1224.6 836.9,1222.3 837.1,1226.1 837.2,1216.6 837.4,1220.4 837.6,1223.2 837.8,1216.1 837.9,1216.6 838.1,1219.9 838.3,1222.3 838.5,1217.1 838.7,1214.7 838.8,1213.3 839.0,1211.4 839.2,1211.4 839.4,1219.4 839.5,1212.8 839.7,1219.4 839.9,1207.6 840.1,1209.0 840.2,1206.2 840.4,1209.0 840.6,1208.5 840.8,1210.0 840.9,1218.5 841.1,1206.7 841.3,1193.9 841.5,1198.6 841.6,1204.3 841.8,1201.0 842.0,1199.6 842.2,1203.3 842.3,1199.6 842.5,1197.2 842.7,1200.5 842.9,1195.3 843.0,1190.6 843.2,1192.0 843.4,1193.9 843.6,1195.8 843.7,1191.0 843.9,1196.7 844.1,1196.7 844.3,1186.3 844.4,1195.3 844.6,1200.0 844.8,1189.1 845.0,1190.1 845.1,1188.2 845.3,1194.4 845.5,1188.7 845.7,1195.3 845.8,1200.0 846.0,1196.7 846.2,1195.3 846.4,1202.4 846.5,1199.1 846.7,1197.7 846.9,1201.4 847.1,1200.0 847.2,1201.4 847.4,1205.7 847.6,1201.9 847.8,1201.4 847.9,1213.8 848.1,1208.5 848.3,1203.3 848.5,1205.7 848.6,1216.1 848.8,1208.1 849.0,1204.3 849.2,1207.6 849.3,1208.5 849.5,1212.8 849.7,1212.8 849.9,1218.0 850.0,1214.2 850.2,1206.7 850.4,1215.6 850.6,1219.4 850.7,1215.2 850.9,1224.6 851.1,1210.0 851.3,1216.6 851.4,1219.9 851.6,1220.9 851.8,1223.2 852.0,1219.9 852.1,1220.9 852.3,1226.1 852.5,1218.5 852.7,1223.2 852.8,1225.6 853.0,1219.9 853.2,1220.9 853.4,1225.1 853.5,1225.6 853.7,1220.4 853.9,1225.1 854.1,1223.7 854.2,1220.4 854.4,1228.4 854.6,1229.4 854.8,1227.5 854.9,1227.0 855.1,1225.6 855.3,1222.7 855.5,1227.0 855.6,1221.3 855.8,1225.6 856.0,1231.7 856.2,1226.5 856.3,1224.6 856.5,1223.7 856.7,1228.9 856.9,1227.0 857.0,1220.9 857.2,1226.5 857.4,1229.8 857.6,1231.3 857.7,1228.4 857.9,1226.5 858.1,1230.8 858.3,1224.2 858.4,1229.8 858.6,1233.2 858.8,1226.1 859.0,1228.0 859.1,1228.4 859.3,1224.6 859.5,1229.8 859.7,1226.5 859.8,1229.8 860.0,1224.2 860.2,1228.4 860.4,1228.4 860.5,1227.0 860.7,1228.9 860.9,1227.5 861.1,1229.4 861.2,1227.0 861.4,1228.4 861.6,1230.3 861.8,1227.5 861.9,1227.5 862.1,1231.7 862.3,1229.8 862.5,1233.2 862.6,1228.9 862.8,1227.0 863.0,1222.7 863.2,1228.4 863.3,1226.5 863.5,1225.6 863.7,1227.5 863.9,1234.1 864.0,1230.3 864.2,1228.4 864.4,1228.4 864.6,1228.9 864.7,1231.7 864.9,1234.1 865.1,1228.4 865.3,1226.5 865.4,1230.8 865.6,1228.0 865.8,1230.8 866.0,1229.8 866.1,1231.3 866.3,1227.5 866.5,1232.2 866.7,1229.4 866.8,1227.5 867.0,1229.8 867.2,1232.7 867.4,1228.9 867.5,1230.3 867.7,1233.2 867.9,1230.3 868.1,1230.8 868.2,1228.4 868.4,1231.3 868.6,1229.8 868.8,1228.4 868.9,1234.6 869.1,1227.5 869.3,1229.8 869.5,1232.7 869.6,1229.8 869.8,1227.5 870.0,1231.7 870.2,1231.7 870.3,1227.0 870.5,1226.5 870.7,1225.1 870.9,1230.3 871.0,1232.7 871.2,1232.7 871.4,1231.3 871.6,1232.7 871.7,1229.4 871.9,1227.0 872.1,1233.2 872.3,1226.5 872.4,1232.7 872.6,1232.2 872.8,1233.6 873.0,1228.4 873.1,1230.8 873.3,1230.3 873.5,1237.4 873.7,1231.7 873.8,1229.8 874.0,1236.9 874.2,1225.6 874.4,1229.8 874.5,1228.0 874.7,1231.3 874.9,1228.4 875.1,1227.5 875.2,1224.2 875.4,1233.2 875.6,1225.6 875.8,1233.2 875.9,1230.3 876.1,1231.3 876.3,1230.8 876.5,1235.1 876.6,1231.3 876.8,1233.2 877.0,1230.8 877.2,1229.8 877.3,1230.3 877.5,1230.8 877.7,1227.0 877.9,1229.8 878.0,1228.9 878.2,1227.5 878.4,1230.8 878.6,1230.3 878.7,1228.9 878.9,1231.3 879.1,1227.5 879.3,1232.2 879.4,1230.8 879.6,1230.8 879.8,1231.3 880.0,1230.8 880.1,1231.7 880.3,1236.5 880.5,1228.0 880.7,1231.7 880.8,1228.9 881.0,1233.2 881.2,1229.4 881.4,1233.6 881.5,1227.0 881.7,1230.8 881.9,1231.7 882.1,1237.4 882.3,1236.0 882.4,1231.7 882.6,1232.2 882.8,1232.2 883.0,1232.2 883.1,1228.4 883.3,1231.7 883.5,1231.7 883.7,1232.7 883.8,1233.2 884.0,1229.8 884.2,1231.7 884.4,1231.7 884.5,1230.3 884.7,1230.8 884.9,1228.9 885.1,1228.9 885.2,1234.1 885.4,1232.7 885.6,1228.4 885.8,1231.7 885.9,1229.4 886.1,1233.2 886.3,1236.5 886.5,1236.0 886.6,1232.7 886.8,1231.7 887.0,1225.1 887.2,1228.9 887.3,1229.4 887.5,1228.4 887.7,1234.6 887.9,1230.8 888.0,1231.3 888.2,1226.1 888.4,1232.7 888.6,1234.1 888.7,1230.8 888.9,1231.3 889.1,1230.8 889.3,1230.3 889.4,1230.3 889.6,1232.2 889.8,1231.7 890.0,1225.1 890.1,1232.2 890.3,1229.4 890.5,1233.2 890.7,1235.1 890.8,1228.4 891.0,1230.3 891.2,1227.5 891.4,1228.0 891.5,1229.8 891.7,1232.7 891.9,1226.1 892.1,1230.3 892.2,1225.6 892.4,1228.9 892.6,1228.4 892.8,1228.9 892.9,1229.4 893.1,1230.8 893.3,1225.1 893.5,1232.7 893.6,1234.1 893.8,1229.8 894.0,1232.2 894.2,1228.0 894.3,1230.8 894.5,1227.5 894.7,1230.3 894.9,1232.2 895.0,1231.3 895.2,1228.9 895.4,1231.7 895.6,1232.7 895.7,1230.8 895.9,1229.8 896.1,1227.5 896.3,1229.4 896.4,1228.4 896.6,1230.8 896.8,1226.1 897.0,1225.1 897.1,1232.2 897.3,1229.8 897.5,1230.8 897.7,1229.8 897.8,1231.3 898.0,1232.2 898.2,1233.6 898.4,1231.7 898.5,1230.3 898.7,1228.0 898.9,1229.4 899.1,1231.7 899.2,1232.2 899.4,1234.1 899.6,1228.9 899.8,1230.3 899.9,1228.9 900.1,1228.9 900.3,1229.4 900.5,1230.8 900.6,1231.3 900.8,1233.2 901.0,1232.2 901.2,1229.4 901.3,1225.1 901.5,1231.7 901.7,1229.8 901.9,1223.2 902.0,1230.3 902.2,1231.3 902.4,1230.8 902.6,1231.3 902.7,1235.1 902.9,1228.9 903.1,1235.1 903.3,1232.2 903.4,1231.7 903.6,1229.8 903.8,1231.3 904.0,1231.7 904.1,1232.7 904.3,1230.3 904.5,1231.7 904.7,1232.7 904.8,1234.1 905.0,1233.2 905.2,1230.8 905.4,1234.6 905.5,1230.8 905.7,1230.8 905.9,1228.4 906.1,1232.7 906.2,1233.2 906.4,1231.3 906.6,1232.2 906.8,1237.4 906.9,1228.4 907.1,1230.3 907.3,1230.8 907.5,1233.2 907.6,1230.3 907.8,1231.7 908.0,1227.5 908.2,1229.4 908.3,1228.0 908.5,1234.1 908.7,1233.2 908.9,1232.2 909.0,1232.7 909.2,1227.5 909.4,1230.3 909.6,1233.6 909.7,1231.7 909.9,1226.5 910.1,1231.7 910.3,1229.8 910.4,1235.1 910.6,1232.2 910.8,1231.3 911.0,1231.7 911.1,1231.3 911.3,1230.3 911.5,1228.4 911.7,1235.1 911.8,1230.8 912.0,1229.4 912.2,1230.3 912.4,1228.4 912.5,1231.3 912.7,1232.2 912.9,1233.2 913.1,1228.9 913.2,1234.1 913.4,1232.2 913.6,1231.3 913.8,1229.4 913.9,1231.7 914.1,1233.2 914.3,1229.8 914.5,1233.6 914.6,1232.7 914.8,1236.0 915.0,1230.8 915.2,1230.8 915.3,1235.1 915.5,1231.7 915.7,1229.8 915.9,1232.7 916.0,1235.1 916.2,1231.3 916.4,1229.8 916.6,1235.5 916.7,1228.9 916.9,1231.3 917.1,1228.9 917.3,1233.6 917.4,1228.9 917.6,1230.3 917.8,1229.4 918.0,1230.8 918.1,1228.9 918.3,1231.7 918.5,1232.2 918.7,1233.6 918.8,1234.6 919.0,1230.8 919.2,1231.7 919.4,1231.3 919.5,1231.7 919.7,1230.3 919.9,1230.8 920.1,1232.7 920.2,1229.4 920.4,1226.1 920.6,1233.2 920.8,1232.2 920.9,1229.8 921.1,1232.7 921.3,1228.4 921.5,1232.7 921.6,1233.6 921.8,1233.2 922.0,1228.4 922.2,1236.0 922.3,1230.8 922.5,1236.0 922.7,1229.4 922.9,1229.8 923.0,1229.4 923.2,1225.6 923.4,1230.8 923.6,1228.0 923.7,1229.4 923.9,1228.4 924.1,1232.7 924.3,1228.0 924.4,1231.3 924.6,1227.0 924.8,1228.4 925.0,1230.3 925.1,1228.9 925.3,1229.4 925.5,1229.8 925.7,1224.2 925.9,1232.2 926.0,1233.6 926.2,1233.6 926.4,1230.8 926.6,1230.3 926.7,1228.9 926.9,1228.0 927.1,1229.8 927.3,1229.8 927.4,1232.7 927.6,1228.0 927.8,1227.0 928.0,1230.3 928.1,1228.4 928.3,1231.7 928.5,1230.3 928.7,1229.8 928.8,1228.0 929.0,1233.6 929.2,1229.8 929.4,1228.0 929.5,1229.4 929.7,1228.4 929.9,1236.0 930.1,1232.2 930.2,1231.3 930.4,1232.2 930.6,1236.0 930.8,1227.5 930.9,1229.8 931.1,1235.1 931.3,1231.3 931.5,1230.3 931.6,1228.0 931.8,1228.4 932.0,1232.7 932.2,1231.7 932.3,1229.8 932.5,1228.0 932.7,1231.3 932.9,1231.7 933.0,1228.9 933.2,1229.8 933.4,1227.0 933.6,1228.9 933.7,1228.0 933.9,1235.1 934.1,1233.6 934.3,1234.1 934.4,1231.7 934.6,1229.4 934.8,1230.8 935.0,1228.9 935.1,1232.2 935.3,1228.0 935.5,1228.0 935.7,1234.6 935.8,1232.7 936.0,1231.7 936.2,1228.0 936.4,1228.4 936.5,1225.6 936.7,1234.1 936.9,1229.8 937.1,1230.3 937.2,1230.8 937.4,1230.3 937.6,1235.5 937.8,1229.4 937.9,1231.3 938.1,1233.2 938.3,1226.5 938.5,1231.7 938.6,1229.4 938.8,1231.7 939.0,1234.1 939.2,1231.3 939.3,1229.4 939.5,1232.7 939.7,1228.9 939.9,1225.6 940.0,1227.0 940.2,1230.8 940.4,1231.7 940.6,1227.5 940.7,1233.2 940.9,1232.2 941.1,1225.1 941.3,1228.9 941.4,1228.4 941.6,1230.3 941.8,1222.3 942.0,1221.3 942.1,1229.8 942.3,1227.5 942.5,1230.3 942.7,1228.0 942.8,1226.1 943.0,1226.1 943.2,1229.8 943.4,1228.0 943.5,1221.8 943.7,1226.5 943.9,1225.1 944.1,1227.5 944.2,1229.4 944.4,1231.7 944.6,1231.3 944.8,1233.2 944.9,1231.7 945.1,1231.3 945.3,1227.0 945.5,1233.2 945.6,1227.5 945.8,1233.6 946.0,1221.8 946.2,1230.3 946.3,1228.0 946.5,1223.7 946.7,1228.9 946.9,1228.0 947.0,1228.0 947.2,1227.0 947.4,1229.8 947.6,1223.7 947.7,1225.1 947.9,1228.0 948.1,1224.6 948.3,1228.4 948.4,1229.4 948.6,1228.4 948.8,1226.5 949.0,1232.2 949.1,1228.9 949.3,1226.5 949.5,1230.8 949.7,1227.0 949.8,1230.8 950.0,1227.0 950.2,1228.0 950.4,1226.5 950.5,1229.4 950.7,1232.7 950.9,1234.6 951.1,1217.1 951.2,1231.3 951.4,1229.8 951.6,1231.7 951.8,1223.2 951.9,1225.1 952.1,1224.6 952.3,1230.3 952.5,1224.2 952.6,1228.9 952.8,1223.2 953.0,1227.0 953.2,1233.2 953.3,1227.0 953.5,1229.4 953.7,1219.4 953.9,1230.3 954.0,1227.5 954.2,1227.5 954.4,1228.9 954.6,1228.4 954.7,1226.5 954.9,1225.1 955.1,1227.5 955.3,1227.0 955.4,1226.1 955.6,1228.9 955.8,1226.5 956.0,1225.6 956.1,1222.7 956.3,1223.7 956.5,1224.2 956.7,1222.7 956.8,1228.0 957.0,1222.3 957.2,1226.5 957.4,1226.1 957.5,1226.5 957.7,1223.2 957.9,1227.0 958.1,1223.7 958.2,1226.1 958.4,1226.5 958.6,1224.2 958.8,1227.5 958.9,1221.3 959.1,1227.0 959.3,1226.5 959.5,1221.3 959.6,1229.4 959.8,1222.3 960.0,1224.6 960.2,1224.6 960.3,1224.2 960.5,1227.5 960.7,1219.4 960.9,1222.7" fill="none" stroke="none" marker-start="url(#o)" marker-mid="url(#o)" marker-end="url(#o)"/><path d="M137.9 1318.4H960.9" stroke="#808080" stroke-width="1.2"/><path transform="translate(137.90,0) scale(0.17510,0.1)" d="M0 13330l1-233 1 183 1-53 1-16 1 56 1 55 1-171 1 22 1 197 1-370 1 122 1 145 1-143 1 121 1-34 1-77 1 178 1-157 1-73 1 9 1 136 1-101 1 216 1-124 1-54 1 151 1-106 1-157 1-73 1 155 1-6 1 155 1 22 1 18 1-167 1-20 1 121 1 46 1-124 1-6 1 36 1-119 1 117 1-2 1 89 1-106 1-105 1 112 1-1 1-35 1 13 1-20 1-1 1-6 1 121 1-96 1 165 1-163 1 132 1-101 1-49 1 79 1-44 1 146 1-68 1-129 1 155 1-153 1 174 1-44 1 18 1-92 1-48 1 136 1-73 1-152 1 164 1 41 1-101 1 51 1 37 1 93 1-219 1 117 1-49 1 89 1-200 1 46 1-16 1 89 1-49 1-34 1-11 1 60 1 27 1 27 1 32 1 18 1-111 1 51 1 146 1-153 1-101 1 108 1 131 1-144 1-72 1 46 1 51 1-186 1-6 1 164 1-72 1 32 1-30 1-58 1 51 1 60 1 65 1 13 1-68 1-95 1 69 1 18 1-15 1 17 1-39 1 136 1 70 1-129 1 60 1-228 1 145 1 9 1 107 1-152 1 74 1-143 1 22 1 136 1-100 1 259 1-167 1-158 1 37 1 51 1 13 1 117 1-6 1-129 1-129 1 321 1-229 1 4 1-30 1 150 1-29 1-44 1 84 1 18 1-30 1-63 1-39 1 32 1-6 1 60 1 4 1-148 1 93 1 4 1-82 1-25 1-6 1 70 1 37 1-25 1 8 1-101 1 94 1-30 1 56 1-115 1 273 1-195 1-30 1 155 1-266 1 183 1 4 1 70 1-153 1 51 1 65 1-68 1-34 1-44 1 79 1 94 1-30 1 136 1-124 1-115 1 18 1 46 1 22 1-157 1 108 1-54 1 42 1 84 1-177 1 221 1-1 1-63 1 23 1-11 1 4 1-129 1 74 1-25 1 155 1-58 1-152 1 178 1-186 1 174 1-105 1 89 1-82 1 89 1-53 1-153 1 165 1-190 1 198 1 56 1-101 1 37 1-167 1 71 1-25 1 42 1-143 1 131 1 23 1 103 1 9 1-87 1-62 1-11 1 160 1-114 1 27 1 104 1-129 1 217 1-195 1-172 1 274 1-82 1 146 1-86 1-119 1 141 1-77 1 23 1 3 1-43 1-25 1-57 1 32 1 108 1-153 1 13 1 217 1-171 1-11 1-15 1 37 1 141 1-81 1 141 1-148 1-166 1 103 1-11 1 104 1 36 1 4 1-91 1 70 1-10 1-138 1 216 1-24 1-63 1-34 1 4 1 99 1-124 1 27 1-39 1 113 1-105 1 3 1 66 1-34 1 27 1-148 1 345 1-129 1 18 1-100 1 23 1-20 1-86 1 178 1-57 1-49 1 75 1-119 1 4 1 74 1 85 1-257 1 84 1 4 1 28 1 3 1-62 1 65 1 47 1-101 1 47 1 65 1 8 1-157 1 42 1-100 1 188 1 18 1-91 1-72 1 61 1 13 1-110 1 198 1 37 1-39 1-29 1-53 1-48 1 46 1-86 1 179 1-204 1 202 1-147 1 155 1-96 1 23 1-34 1-20 1 75 1-10 1-25 1 113 1-39 1 65 1-124 1-161 1 107 1 123 1-15 1-124 1 108 1 84 1-44 1 4 1-6 1-123 1 46 1 113 1-68 1 42 1 9 1 18 1-238 1 151 1-67 1-20 1 93 1-67 1-1 1 23 1-143 1 137 1 41 1-67 1-81 1 56 1 108 1 27 1 9 1-20 1-77 1-34 1 227 1-162 1 79 1-133 1-15 1 122 1-25 1 37 1-95 1 146 1-39 1-29 1-139 1-86 1 175 1 89 1-96 1 70 1-95 1 112 1-53 1-29 1-39 1 47 1-100 1 84 1 141 1-199 1 89 1 27 1-157 1 179 1-76 1 60 1-152 1 127 1-43 1 117 1-204 1 179 1-142 1-15 1-6 1-43 1 217 1-114 1 19 1-20 1-47 1 70 1 66 1-48 1-118 1 194 1-85 1 75 1-151 1 199 1-90 1-14 1-19 1-156 1 57 1 185 1-227 1 242 1 48 1-24 1-118 1-23 1 194 1-185 1 47 1-67 1 80 1-96 1 27 1 122 1-186 1 88 1-40 1-39 1 158 1-63 1 50 1 7 1-87 1-7 1-68 1-7 1 97 1 60 1-286 1 74 1 155 1 60 1-40 1-49 1-58 1 8 1 37 1 50 1-29 1 31 1-24 1 8 1-44 1 169 1-105 1-6 1 61 1-67 1 60 1-29 1-25 1-1 1 23 1-120 1 66 1-11 1 9 1 60 1 14 1-120 1 85 1 98 1 28 1-167 1 65 1-43 1 32 1-10 1-15 1 74 1-86 1-72 1 23 1 165 1-25 1-1 1-76 1-77 1 37 1 146 1-124 1-52 1 84 1-161 1 174 1-124 1-81 1 251 1-67 1-58 1-180 1 340 1-162 1 23 1 47 1 28 1-20 1-15 1 66 1-195 1 184 1-48 1 19 1-20 1-34 1 61 1-38 1-134 1 47 1 94 1-81 1 113 1-67 1 113 1-19 1-20 1-143 1 71 1-25 1 28 1-15 1 0 1-25 1 42 1 71 1-6 1-138 1-10 1 57 1 150 1-218 1 85 1 27 1-5 1 23 1-143 1 9 1 184 1-62 1-29 1-67 1 250 1-227 1-48 1 136 1-19 1-86 1 56 1 118 1-15 1-6 1 23 1-90 1 32 1-38 1-43 1-72 1 104 1 141 1-218 1 103 1-86 1 108 1-52 1 32 1-10 1-86 1 128 1-53 1-6 1 42 1 123 1-171 1 212 1-90 1-67 1-58 1-29 1 0 1 18 1 61 1-105 1 99 1-91 1 222 1-86 1-24 1-38 1 160 1-214 1-10 1 14 1 84 1-128 1 132 1-96 1 66 1-5 1 9 1-11 1-71 1-20 1 0 1 32 1 18 1 14 1-86 1 142 1 13 1-43 1 113 1-95 1-10 1 60 1-29 1-81 1 61 1-19 1-63 1 109 1 32 1-71 1-29 1 146 1-162 1 61 1 9 1 28 1-44 1-71 1 28 1-20 1 75 1-124 1 19 1 84 1 170 1-176 1-171 1 179 1 61 1-175 1 150 1-71 1-15 1 141 1-104 1-67 1 99 1-63 1 42 1-67 1-52 1 188 1-52 1-43 1 65 1 14 1-29 1-6 1 23 1-62 1-29 1 4 1 4 1-33 1 165 1-81 1-20 1-20 1 132 1-218 1 175 1-72 1-29 1-24 1 113 1-11 1-57 1-15 1-19 1 61 1 42 1 42 1-195 1 193 1-128 1 23 1-29 1-10 1-24 1 89 1-29 1 147 1-124 1 56 1-48 1-85 1 70 1-62 1 85 1-39 1 52 1 132 1-115 1-28 1-25 1 9 1 9 1-67 1 19 1 65 1-81 1 180 1-105 1-10 1-90 1 113 1 61 1-105 1-95 1 122 1-10 1 9 1-19 1-77 1-38 1 89 1 38 1-119 1 108 1-1 1 28 1 0 1-39 1 33 1-43 1 23 1-29 1 56 1-10 1-29 1 14 1-6 1-62 1 137 1 52 1-162 1 61 1-100 1 89 1 66 1-209 1 113 1 52 1 18 1-81 1 75 1-62 1-47 1 155 1-62 1-53 1-71 1 47 1 84 1-119 1 113 1-14 1-34 1 94 1-256 1 113 1 61 1 47 1 37 1-90 1-20 1 66 1-15 1-43 1 37 1 109 1-152 1 23 1-29 1 89 1 85 1-53 1-95 1-105 1-19 1 127 1 104 1-67 1-48 1-1 1 23 1-76 1 137 1 75 1-76 1 13 1-204 1 146 1 76 1-124 1-19 1 56 1-10 1-48 1 28 1 75 1-76 1-25 1 38 1-34 1 18 1 52 1-5 1-48 1 70 1-100 1-5 1 194 1-119 1 42 1-6 1-47 1 18 1-43 1 13 1 0 1 66 1-25 1-104 1 231 1-247 1 132 1-99 1 222 1-129 1-76 1 42 1-52 1 113 1-20 1 9 1-71 1 4 1 33 1 9 1 4 1-24 1 61 1-53 1 4 1 23 1 5 1-124 1 127 1-62 1-57 1 37 1 43 1-58 1 142 1-10 1-48 1-10 1-10 1-114 1 14 1 99 1-15 1 66 1-72 1 99 1-161 1 113 1-62 1 108 1-157 1 42 1-76 1 109 1 98 1-47 1 28 1-167 1 128 1 9 1-77 1 19 1-15 1 56 1 90 1-38 1 46 1-199 1 23 1 71 1-58 1 0 1-1 1 9 1-19 1 42 1 137 1 33 1-238 1 42 1 180 1-157 1 61 1-19 1 118 1-195 1 52 1-53 1-15 1-14 1-20 1 80 1 4 1 47 1-66 1 46 1 52 1-138 1 28 1 198 1-47 1-96 1 66 1-147 1 56 1-19 1-24 1-20 1 90 1-48 1 18 1-29 1 14 1-52 1 51 1 61 1-38 1 75 1-86 1-66 1 122 1 57 1-91 1 28 1-29 1 33 1-38 1 61 1-148 1 104 1-43 1-15 1 52 1-34 1 42 1 9 1-10 1-43 1 99 1-19 1-5 1-15 1-95 1 66 1 13 1-24 1-52 1 103 1-100 1 189 1-81 1-133 1-5 1 75 1 38 1-72 1 71 1-110 1 19 1 23 1 90 1-100 1 66 1 0 1 9 1-15 1-33 1-20 1 0 1-147 1 212 1-85 1 104 1-29 1 56 1-133 1 52 1 9 1 14 1-57 1 75 1-48 1-118 1 146 1 28 1 23 1-104 1 42 1 47 1 4 1-47 1 56 1-171 1 128 1-1 1-5 1 95 1-20 1-61 1-20 1 71 1-166 1 70 1-47 1 9 1 75 1-147 1 128 1 113 1 23 1-128 1-48 1 43 1-91 1 114 1-53 1-5 1 94 1-71 1-5 1-38 1-10 1 14 1 99 1-86 1-19 1 57 1-38 1-1 1-24 1 61 1-19 1 14 1 9 1 38 1-19 1 47 1-53 1-47 1 4 1-10 1 47 1-81 1 100 1-67 1 19 1 66 1-5 1-77 1 38 1-15 1-152 1 137 1 23 1-33 1 70 1-19 1-39 1 71 1-43 1 9 1-19 1 103 1-194 1 103 1-38 1 90 1 13 1-76 1 19 1-53 1 85 1 5 1-72 1-19 1-15 1 52 1-15 1 57 1-119 1 9 1 5 1 146 1-137 1 89 1-66 1 4 1-48 1 81 1 4 1 38 1 9 1-95 1 80 1-85 1 56 1 10 1-86 1 5 1 104 1-48 1-9 1-38 1 75 1-14 1-19 1-43 1-14 1 81 1-128 1 71 1 66 1 43 1-57 1 100 1-142 1-19 1-42 1 42 1 124 1-81 1-56 1 161 1-75 1-85 1 34 1 114 1-85 1-32 1-113 1 138 1 24 1-61 1-8 1-13 1-52 1 87 1 72 1-84 1 2 1-55 1 7 1 92 1-88 1-16 1 69 1-64 1 41 1-2 1 17 1-53 1-124 1 155 1 80 1-58 1 19 1-52 1 24 1-160 1 105 1-70 1 154 1-36 1-139 1 226 1-113 1 100 1-198 1 183 1-76 1-13 1 98 1-283 1 169 1-135 1 157 1 48 1-132 1-12 1-223 1 295 1 29 1-85 1-108 1-46 1 98 1-67 1-117 1-91 1 146 1-113 1 305 1-242 1-201 1 28 1 9 1-241 1 274 1 145 1-206 1 145 1 265 1-211 1-12 1 371 1 99 1-52 1-117 1 241 1 36 1-9 1-84 1 5 1 29 1-136 1-96 1 232 1-145 1 51 1-223 1 288 1-52 1-45 1 100 1-92 1-67 1 141 1-110 1-111 1 153 1 18 1 101 1-153 1 95 1-135 1-68 1 65 1 86 1-89 1 68 1 40 1-35 1-44 1 36 1-52 1-95 1 90 1-5 1 81 1-113 1 58 1-37 1 101 1-55 1 144 1-112 1 26 1 11 1-154 1 183 1-78 1 2 1-40 1-25 1 145 1-59 1 13 1-78 1-15 1 74 1 8 1 27 1-77 1-72 1 70 1 60 1 9 1-6 1 51 1-185 1 89 1 22 1-138 1 108 1-67 1 66 1-48 1 56 1 28 1-43 1-20 1-19 1 46 1 28 1 5 1-39 1 47 1-10 1-48 1-5 1 4 1 71 1 37 1-95 1 9 1 23 1-29 1-38 1 56 1-33 1 75 1-43 1 33 1 33 1-104 1 179 1-152 1-47 1 19 1 108 1-99 1 113 1-52 1-128 1 66 1-57 1 123 1 57 1-76 1-113 1 19 1-10 1 67 1-5 1 5 1-175 1 156 1-94 1 104 1-90 1 138 1-33 1-52 1 52 1-13 1-14 1 14 1-117 1 19 1 143 1-180 1 96 1-4 1 5 1-65 1 5 1 67 1-36 1 76 1-192 1 152 1-3 1-13 1-55 1-46 1 64 1-32 1 17 1-107 1 55 1 112 1-205 1 65 1-110 1 152 1-14 1-28 1 72 1-73 1-115 1 27 1 204 1-259 1 60 1-39 1 49 1-12 1 9 1 1 1 79 1-151 1 65 1-5 1 12 1 56 1-7 1 118 1-112 1 17 1 62 1 139 1-224 1 145 1 9 1 46 1 46 1 2 1 79 1-32 1-140 1 53 1 25 1 122 1 129 1-35 1 124 1-314 1-4 1 93 1-30 1-7 1 22 1-85 1 121 1-69 1-47 1 99 1-80 1-136 1-11 1 193 1-274 1 22 1-42 1 44 1-57 1 125 1-86 1 54 1-44 1-122 1-35 1 109 1 35 1-82 1 24 1-93 1 88 1 197 1-151 1 30 1 35 1-54 1 8 1 32 1-109 1 72 1 5 1 20 1-60 1 148 1-136 1 92 1-97 1 7 1 60 1 59 1-40 1-2 1 107 1-63 1 27 1-115 1-16 1 141 1-11 1 46 1-86 1-30 1-53 1 174 1-124 1 65 1 32 1-20 1 23 1-67 1 27 1-67 1 99 1 75 1-48 1-72 1 99 1-39 1-72 1 104 1-119 1 28 1 51 1-29 1 23 1-5 1-1 1-19 1 4 1 38 1 13 1-166 1 170 1-52 1-72 1 9 1 95 1-148 1 10 1 113 1 51 1-99 1 42 1 4 1 29 1-10 1-43 1-43 1 161 1 18 1-184 1 99 1-86 1 33 1-61 1 18 1 62 1-5 1-29 1-24 1 76 1 47 1-90 1 10 1 4 1 43 1-85 1 127 1-71 1-99 1 133 1-85 1-5 1 0 1 118 1-151 1 48 1-24 1 10 1 14 1-66 1-14 1 185 1-61 1-38 1 110 1-203 1 123 1-75 1 15 1 24 1 43 1-37 1-27 1-42 1 53 1 11 1-13 1-93 1 58 1 54 1 30 1-54 1 31 1-36 1-105 1 36 1 23 1-14 1-80 1 168 1-97 1 37 1-18 1 3 1 29 1-50 1 175 1-148 1-12 1 118 1 17 1-173 1 209 1-11 1 47 1 17 1 30 1 124 1-295 1 234 1-72 1 32 1-117 1 28 1-68 1-41 1-25 1 13 1-118 1 141 1-232 1-28 1-6 1 91 1-279 1 183 1-111 1 176 1-128 1 31 1 15 1-5 1-164 1 142 1-12 1-109 1 267 1-185 1 153 1 37 1 11 1 118 1 12 1 0 1-7 1-51 1 12 1 129 1-11 1 33 1 82 1 12 1 87 1-38 1 77 1 12 1 1 1 17 1 56 1 33 1-99 1 3 1-32 1-69 1-1 1-122 1-41 1 40 1-129 1 47 1-158 1-29 1 3 1-95 1-44 1 9 1 131 1-161 1-31 1-62 1 109 1-139 1 13 1-19 1 115 1-36 1-162 1 32 1 67 1-84 1 68 1 55 1 99 1-175 1 97 1-6 1 166 1-64 1-34 1 69 1 66 1 65 1-51 1 80 1 46 1 44 1 76 1 37 1 78 1 18 1 148 1 44 1-9 1 70 1 33 1-69 1 117 1 3 1 57 1 36 1 34 1 42 1-56 1 18 1-114 1-17 1-79 1-97 1-20 1-117 1-38 1-40 1-23 1 5 1 17 1-74 1 19 1-21 1-47 1 69 1 19 1-117 1-86 1 29 1-150 1 277 1-44 1 89 1-81 1-151 1 10 1 143 1-41 1 30 1 26 1-59 1 2 1-21 1-12 1-21 1-35 1 74 1 8 1-11 1-21 1 32 1 41 1-20 1-68 1 94 1-96 1 117 1-105 1-1 1 46 1-10 1 8 1-96 1 108 1 18 1-57 1-39 1 42 1 28 1-63 1 94 1-1 1 28 1-128 1 179 1-48 1-76 1-11 1-66 1 70 1 47 1-96 1 19 1-6 1 5 1 28 1 103 1-19 1-152 1 94 1 99 1-95 1-48 1 32 1 19 1 118 1-119 1 9 1-86 1 80 1 5 1 23 1-20 1-14 1 37 1 19 1 18 1-66 1 23 1 0 1 61 1-34 1 52 1-138 1-10 1 38 1 23 1-24 1 94 1-5 1-123 1 108 1-47 1 32 1 85 1-85 1-72 1-24 1 189 1-47 1-48 1-76 1-10 1-19 1-1 1 100 1 28 1-91 1 57 1-15 1 19 1 4 1-61 1 94 1 33 1-48 1-38 1 19 1-5 1 84 1-52 1-90 1 61 1 23 1-85 1 80 1-62 1 28 1-9 1-29 1-57 1 42 1 104 1 14 1-38 1-5 1-43 1 33 1-10 1 90 1-76 1-29 1-52 1 42 1 33 1 62 1-57 1-1 1 10 1-15 1-14 1 0 1-81 1 151 1 24 1-91 1 76 1-48 1-4 1 32 1-71 1 5 1 23 1-19 1-14 1 57 1-43 1 24 1 4 1 24 1-104 1 66 1 80 1-90 1 142 1-128 1-23 1-33 1 56 1 43 1-123 1 43 1-10 1 71 1-42 1 113 1-104 1 119 1-52 1 23 1-123 1 10 1 71 1-85 1 52 1 95 1-71 1 62 1-85 1-14 1 52 1-75 1-14 1 95 1-71 1 29 1 10 1-94 1 114 1-19 1-13 1-33 1-9 1 81 1-112 1-23 1-9 1 86 1 34 1 25 1-70 1 15 1 1 1 26 1 77 1-98 1-8 1 7 1 50 1-60 1-11 1 50 1-96 1 32 1-15 1-15 1 28 1-14 1-37 1-17 1-17 1 54 1-58 1-29 1 137 1-66 1-32 1-7 1-120 1 27 1 71 1-14 1 73 1-36 1-163 1 193 1-166 1 81 1-42 1-23 1-151 1 100 1-23 1-47 1 236 1-347 1 300 1-71 1-102 1 166 1 59 1-204 1 138 1-72 1 61 1 69 1-115 1 158 1-142 1 216 1 20 1-9 1-53 1 98 1-25 1-124 1 84 1-58 1 51 1 62 1 15 1-56 1 7 1 36 1 4 1-109 1 24 1 39 1 35 1 3 1-124 1 133 1-147 1 148 1 45 1-178 1 107 1-77 1 51 1 33 1-57 1 62 1-37 1 30 1 77 1-103 1 45 1-17 1-26 1 88 1-92 1-2 1-59 1 50 1 22 1 46 1-25 1 60 1-82 1 27 1 9 1-16 1-20 1 9 1 65 1-110 1 61 1-15 1 13 1 46 1-57 1 32 1 18 1-38 1-30 1 4 1 23 1 33 1-10 1-10 1 56 1-96 1 33 1 56 1-119 1-19 1 141 1-48 1 28 1-67 1 90 1-81 1 9 1-34 1 132 1-52 1-24 1-48 1 37 1-29 1 14 1 57 1-34 1 14 1-5 1 28 1-72 1 19 1 94 1-114 1 56 1 43 1-119 1 56 1-19 1 23 1-5 1 76 1-109 1 65 1-33 1 4 1 38 1 14 1-48 1-62 1 80 1 0 1-29 1 28 1-81 1 38 1-86 1 95 1-86 1 118 1-33 1 56 1-29 1-5 1-38 1-33 1 70 1 47 1-57 1 4 1 14 1-57 1-10 1 76 1 0 1 80 1-86 1-62 1 76 1-76 1 9 1 4 1-5 1 33 1-48 1 0 1 28 1 19 1-57 1-10 1 90 1-62 1 33 1-95 1 108 1 14 1 14 1-76 1 80 1-71 1 47 1-76 1-10 1 19 1 127 1-19 1 52 1-223 1 132 1-5 1-19 1-24 1 38 1-15 1 0 1 56 1-128 1 0 1 71 1 9 1-85 1-24 1 99 1-24 1 42 1-29 1 118 1-9 1-114 1 28 1-29 1 14 1-19 1 14 1 19 1-29 1 47 1-85 1 99 1-24 1-57 1 51 1-52 1-19 1 23 1 52 1-95 1 57 1 61 1-123 1 75 1-19 1-10 1 57 1-57 1 85 1-10 1-24 1-104 1 61 1-19 1 66 1-43 1 109 1-76 1-29 1 42 1 57 1-15 1-95 1-28 1 70 1-80 1 123 1-81 1 14 1-34 1 104 1-99 1 33 1 42 1-15 1-9 1-24 1 47 1 0 1-38 1 4 1-19 1-19 1 113 1-71 1-15 1 10 1 47 1-76 1-38 1 75 1 24 1-62 1 28 1 0 1-5 1 28 1-19 1 28 1 52 1-124 1 29 1 18 1-61 1 61 1-52 1 14 1 47 1 37 1-71 1 9 1-28 1 104 1-62 1-14 1-5 1 9 1-4 1 108 1-85 1 14 1 38 1-67 1 19 1 33 1 10 1-71 1 118 1-100 1 43 1-52 1-76 1 38 1 42 1-62 1-14 1 33 1-33 1 66 1-14 1 28 1 9 1-14 1 33 1-28 1-95 1 61 1 38 1-80 1 14 1 99 1-14 1-100 1 66 1 0 1 29 1 23 1-94 1 80 1-52 1-57 1 57 1 28 1-33 1 4 1 38 1-28 1 61 1 24 1-52 1 52 1-48 1-19 1-14 1-66 1 113 1-19 1 0 1 24 1-128 1 118 1-24 1-4 1-104 1 113 1 19 1-85 1 80 1 57 1-133 1 10 1 94 1-4 1-52 1 42 1 19 1-10 1-123 1 29 1 90 1-38 1-14 1 18 1-9 1-76 1 100 1 4 1-28 1 24 1-10 1 0 1 24 1-90 1 76 1-81 1 90 1 0 1-47 1 24 1-48 1 5 1-66 1 218 1-81 1-38 1 5 1-5 1-113 1 203 1-123 1 38 1-9 1-47 1 47 1-33 1-23 1 4 1 128 1-52 1 29 1-24 1-23 1-95 1 114 1-14 1-9 1-71 1 90 1-42 1-19 1 10 1 109 1-28 1-85 1 104 1-66 1 53 1-81 1 20 1 62 1-57 1 34 1-24 1-76 1 38 1-5 1-51 1 61 1-51 1 38 1 0 1 29 1 19 1 10 1-8 1-66 1 5 1 53 1-89 1 82 1-14 1 44 1-23 1-74 1 20 1 44 1-80 1 58 1-8 1-41 1 25 1 39 1 34 1-108 1 167 1-80 1 53 1-52 1-61 1 52 1 5 1-20 1-85 1 23 1 51 1 37 1-11 1-30 1 23 1-7 1 42 1 12 1-16 1-58 1 50 1-153 1 84 1-6 1-16 1 89 1 3 1-39 1-39 1-1 1-48 1 8 1 13 1-5 1 37 1-24 1 46 1 5 1-62 1 113 1-133 1-24 1 104 1-57 1 24 1 48 1-57 1-9 1-24 1 58 1-19 1 29 1-71 1 48 1-46 1 71 1-37 1 44 1-9 1-84 1 58 1-4 1-41 1 72 1-126 1 125 1-23 1-116 1 177 1-160 1 59 1-3 1 69 1-55 1 64 1-106 1 59 1 18 1-6 1-15 1-58 1 32 1 52 1 9 1 5 1-90 1 14 1 81 1 24 1-79 1 30 1-56 1 31 1-27 1-21 1-16 1 70 1-53 1 70 1 33 1-80 1-50 1-13 1 78 1 94 1-119 1 33 1-51 1-30 1 84 1 14 1-22 1 13 1 19 1-82 1 51 1-35 1-5 1 7 1-98 1 65 1-44 1-83 1 53 1 91 1-104 1-22 1-127 1-121 1 102 1 3 1-194 1 190 1-135 1-50 1 31 1-12 1-65 1-182 1 98 1 139 1-121 1-90 1 47 1 96 1 89 1 32 1 58 1 154 1 202 1-6 1-31 1 314 1 114 1-207 1 265 1-11 1-105 1 12 1-26 1-9 1-35 1 55 1 55 1 165 1-364 1 29 1 2 1 41 1 55 1-118 1 28 1 81 1-185 1 161 1-82 1-158 1 158 1-76 1-68 1 58 1 79 1-65 1-34 1 81 1-187 1 60 1-32 1 21 1-11 1 38 1 58 1-126 1 31 1-92 1 151 1-80 1-113 1 191 1-13 1-78 1-87 1 159 1-72 1 9 1 18 1-14 1-85 1 58 1 76 1-36 1-41 1 77 1-36 1-17 1 88 1-215 1 187 1-91 1 13 1 22 1-96 1 61 1 47 1-105 1 33 1 85 1 29 1-133 1 58 1 71 1-108 1 110 1-41 1 10 1 64 1-141 1-154 1 159 1 16 1 36 1-7 1-20 1-16 1 65 1-29 1 18 1-38 1-19 1-9 1 91 1 5 1-64 1 58 1-2 1-30 1 8 1-49 1 142 1-122 1 91 1-60 1 116 1-58 1 33 1-137 1 168 1-120 1 122 1 25 1-78 1-44 1 77 1-40 1 28 1 26 1-96 1 96 1-58 1 139 1-67 1-88 1 99 1 121 1-230 1-1 1 54 1-46 1 18 1-88 1-94 1 41 1 6 1 8 1-75 1-2 1-200 1 179 1-95 1-154 1-43 1-32 1 44 1-114 1 182 1-7 1-35 1-221 1 41 1 172 1 83 1 34 1-186 1 271 1 87 1 144 1-62 1-30 1 178 1 155 1-178 1 176 1-142 1 299 1-65 1-20 1 190 1-149 1-32 1 65 1-45 1 19 1 74 1-117 1 95 1-40 1 21 1-100 1 63 1-14 1 93 1-128 1-82 1 165 1-149 1 9 1 87 1-82 1-86 1 45 1-31 1-47 1 67 1-64 1 97 1-24 1-123 1 1 1 17 1 116 1-68 1 28 1-138 1 152 1-9 1-36 1-46 1 40 1-16 1-31 1 13 1 84 1-30 1-133 1 66 1-81 1 14 1 14 1 48 1-70 1 90 1-122 1 72 1-4 1 44 1 6 1-17 1 11 1 11 1 7 1-55 1-46 1-35 1 54 1 35 1-35 1-50 1 69 1-40 1 27 1 7 1 27 1-54 1 65 1 3 1-59 1-30 1 4 1 3 1 46 1-11 1-53 1-44 1 202 1-171 1 41 1 9 1 27 1-5 1 22 1-67 1 51 1-38 1 56 1-119 1 18 1 80 1-76 1 37 1 19 1-48 1-38 1-34 1 52 1-43 1 19 1-5 1-14 1 104 1-52 1-90 1 128 1-28 1-132 1 133 1-56 1-9 1 20 1-61 1 1 1 72 1-122 1 120 1-22 1-17 1-17 1 58 1-68 1 120 1-87 1 17 1-11 1-29 1-20 1 51 1-38 1 76 1-57 1-66 1 86 1-17 1-13 1-40 1 26 1 31 1 51 1-63 1 174 1-171 1 71 1-70 1 48 1-71 1 120 1 82 1-98 1 34 1-7 1-60 1 124 1-74 1 1 1 1 1 175 1-104 1 55 1-16 1 40 1-18 1-62 1-35 1 59 1 105 1-129 1 130 1-46 1-80 1 84 1-68 1 44 1 43 1-80 1 33 1-129 1-11 1 3 1 126 1-158 1 74 1-21 1 8 1 27 1-44 1-44 1-43 1 37 1 23 1 15 1-14 1-108 1 39 1 16 1 88 1 2 1-134 1-2 1-29 1 37 1 37 1 52 1-47 1 67 1-141 1-13 1-51 1 163 1-27 1-106 1 7 1 116 1-68 1-44 1 22 1-44 1 14 1 32 1-53 1 24 1-67 1 133 1-62 1 19 1-23 1-32 1-14 1 148 1-174 1 35 1 6 1 26 1-45 1 30 1 121 1-54 1-16 1 8 1 13 1-48 1 94 1-10 1 19 1-42 1-14 1 77 1-56 1 58 1-89 1 196 1-102 1-50 1 88 1 49 1 3 1-59 1 64 1-63 1 59 1 41 1 7 1-31 1-17 1 101 1 24 1 10 1-67 1-57 1 116 1-45 1 53 1-57 1 113 1-91 1 87 1-22 1-52 1 24 1-10 1-25 1 7 1-59 1 31 1 63 1-41 1 16 1-8 1-103 1 106 1-93 1-12 1-60 1 111 1-17 1-7 1 27 1-97 1-11 1 174 1-86 1-68 1 90 1-19 1-33 1 0 1 0 1-4 1-79 1 166 1-79 1 26 1-60 1 25 1-35 1 16 1-97 1 150 1-35 1-59 1 50 1-20 1 65 1-92 1 32 1-25 1 61 1-15 1 8 1-100 1 136 1-86 1 9 1-43 1 41 1 52 1-62 1 89 1-109 1 47 1 23 1-10 1-43 1 94 1-137 1 99 1-91 1 57 1-71 1 127 1-85 1 37 1 24 1-57 1 42 1 23 1-23 1 23 1-19 1-5 1-47 1 47 1 28 1-57 1 43 1 23 1 10 1-114 1 76 1-67 1 99 1 5 1-109 1 75 1 0 1 0 1 33 1-76 1 85 1-76 1 71 1-142 1 75 1-14 1 104 1-76 1 38 1 9 1 0 1-66 1 33 1 19 1 4 1 0 1-5 1-9 1 33 1-9 1 52 1-85 1-24 1 43 1-71 1 80 1-33 1-42 1 38 1 38 1-48 1 29 1-57 1 15 1 33 1-28 1-47 1 24 1 10 1 38 1 15 1 5 1-71 1 81 1-61 1-47 1 124 1-80 1 53 1-38 1-27 1 62 1 10 1-42 1-27 1 24 1 20 1-70 1 73 1 10 1-69 1-89 1 110 1-22 1 35 1-21 1 20 1-64 1 36 1 2 1-82 1 107 1-115 1 46 1 33 1-48 1 9 1-33 1 19 1-107 1 39 1-8 1 112 1-44 1-82 1 28 1 29 1 1 1-60 1 159 1-58 1 32 1-141 1 148 1-65 1-87 1 99 1-29 1 20 1-32 1-83 1 216 1-57 1-95 1-33 1 170 1-84 1 58 1 20 1 147 1 33 1-100 1 37 1 16 1 85 1-157 1 124 1-200 1 228 1-30 1-15 1 77 1 51 1-29 1-36 1 31 1-160 1 150 1-85 1-10 1 31 1 67 1-109 1-39 1 37 1-1 1 117 1-78 1-62 1-29 1-43 1 48 1-37 1 59 1-97 1-11 1 38 1-66 1 63 1 2 1-11 1-119 1 175 1-94 1 25 1-21 1 70 1-105 1 4 1 43 1 6 1-22 1-36 1 107 1-125 1 75 1-48 1 71 1-114 1 72 1-61 1 100 1 1 1-69 1 20 1 16 1-31 1 31 1 30 1 64 1 17 1-111 1 3 1 59 1-53 1 31 1-11 1-30 1 93 1-68 1-6 1 27 1-10 1 46 1-44 1-15 1-6 1 51 1-49 1 18 1-15 1 27 1-24 1 18 1-77 1 94 1-48 1 41 1 52 1-67 1-25 1 14 1-1 1 56 1-39 1 56 1-100 1 4 1 90 1-25 1 28 1-15 1-10 1 28 1-24 1-39 1 33 1-34 1 33 1-10 1 42 1-67 1 66 1-24 1 27 1-57 1 52 1-53 1-43 1 52 1 80 1-100 1 23 1-10 1 4 1-24 1 5 1 32 1 38 1-34 1-29 1 85 1-62 1 61 1-90 1-24 1 28 1 42 1-38 1-15 1-10 1 5 1 14 1 61 1-29 1-15 1 14 1 61 1-57 1 19 1-29 1-5 1 56 1-24 1-24 1 38 1-34 1 24 1-1 1-47 1 28 1 14 1-62 1 56 1-9 1-1 1-90 1 71 1-10 1 37 1-33 1-10 1 71 1-52 1-34 1-5 1 47 1-62 1 90 1-53 1 14 1 47 1-61 1 70 1-19 1-19 1 33 1-67 1 47 1 24 1-48 1 9 1 33 1-15 1-42 1-1 1 71 1-76 1 0 1-5 1 47 1 9 1-19 1 18 1-14 1 9 1-5 1 5 1-15 1-5 1 14 1 4 1-61 1 19 1 14 1 42 1-47 1 23 1-19 1 9 1-66 1 71 1 33 1-62 1 0 1-5 1 114 1-53 1 0 1 24 1-53 1-14 1-9 1 4 1 24 1-43 1 38 1 85 1-71 1 14 1-29 1 19 1 0 1-52 1 61 1 19 1-48 1-9 1 23 1-5 1 19 1 19 1-14 1 9 1-66 1 42 1-47 1 42 1 24 1-34 1 0 1-28 1 94 1-47 1-24 1 33 1-24 1 14 1-52 1 5 1 94 1-14 1-19 1-24 1 5 1 9 1-33 1-5 1 23 1 10 1-10 1 24 1-48 1 0 1 52 1-66 1 42 1-28 1 23 1 5 1-24 1 47 1-19 1 28 1-47 1 19 1 0 1 9 1-33 1 9 1 14 1 5 1-62 1 9 1 71 1-61 1 19 1 4 1-5 1 52 1-109 1 14 1 57 1 0 1-5 1 24 1-34 1 14 1 29 1-15 1 5 1 0 1-10 1-23 1 28 1 33 1-85 1 56 1-57 1 33 1-9 1 38 1-24 1 14 1-10 1-14 1 24 1-34 1 62 1-10 1-43 1 0 1-14 1-14 1 28 1-5 1 10 1 4 1 5 1-5 1 19 1-10 1-28 1 9 1-19 1 47 1-5 1-19 1 33 1 0 1-38 1 24 1-33 1 23 1 14 1 14 1-56 1 33 1 18 1 19 1-5 1-23 1-43 1 57 1-34 1 0 1 100 1-57 1-57 1 75 1-85 1 33 1 43 1-95 1 57 1-48 1 38 1 23 1-47 1-19 1 14 1 66 1-47 1 47 1-14 1-57 1 76 1-105 1 109 1-5 1-57 1 24 1 0 1 23 1-47 1 14 1 9 1 19 1 19 1-43 1 62 1-43 1-33 1-5 1 33 1 57 1-85 1-9 1 24 1-33 1 10 1 71 1-38 1 5 1-56 1 14 1 29 1-14 1-9 1 43 1-14 1 0 1 10 1-5 1-14 1 43 1-5 1-51 1-19 1-9 1 95 1-57 1 34 1-5 1-9 1-19 1-4 1 80 1-47 1-47 1 29 1 47 1-18 1-5 1-47 1-18 1 76 1-43 1 19 1-23 1 24 1 24 1-14 1 0 1-56 1 62 1-38 1 38 1-4 1-24 1 24 1-71 1 20 1 66 1-47 1-23 1 71 1-19 1-51 1 61 1-37 1 19 1-9 1 33 1-23 1 10 1-61 1 28 1 15 1 5 1-19 1 62 1-14 1-4 1 0 1 19 1-56 1 29 1-47 1 33 1 10 1-24 1 1 1 19 1-23 1-19 1 48 1-47 1 38 1-28 1 24 1 10 1-19 1 39 1 14 1-42 1 5 1 24 1-89 1 47 1 34 1-37 1 0 1 24 1-4 1 48 1-62 1-46 1 24 1 0 1 48 1 10 1-56 1 19 1 15 1 0 1-37 1 10 1 28 1-9 1 43 1-14 1-51 1 28 1 15 1-37 1-28 1 57 1-14 1-4 1-84 1 43 1 20 1 52 1-70 1 6 1 19 1 20 1-13 1 39 1-46 1 1 1 15 1-22 1 40 1-94 1 40 1 30 1-69 1 7 1 35 1 26 1-49 1-22 1-11 1-16 1 3 1 84 1-63 1 70 1-114 1 18 1-24 1 33 1 0 1 19 1 90 1-113 1-122 1 53 1 62 1-27 1-8 1 44 1-31 1-17 1 40 1-45 1-41 1 22 1 26 1 25 1-40 1 64 1 6 1-98 1 96 1 53 1-103 1 14 1-14 1 65 1-54 1 69 1 49 1-32 1-14 1 71 1-34 1-16 1 35 1-18 1 11 1 38 1-43 1-10 1 117 1-58 1-59 1 17 1 98 1-88 1-45 1 27 1 2 1 36 1-7 1 45 1-45 1-82 1 83 1 32 1-49 1 89 1-153 1 61 1 28 1 4 1 19 1-38 1 5 1 48 1-80 1 43 1 20 1-60 1 6 1 39 1 2 1-55 1 45 1-17 1-36 1 79 1 7 1-21 1-7 1-16 1-30 1 41 1-58 1 41 1 61 1-54 1-20 1-10 1 51 1-20 1-62 1 56 1 32 1 13 1-29 1-19 1 42 1-68 1 56 1 33 1-72 1 18 1 4 1-39 1 52 1-34 1 32 1-57 1 42 1-1 1-15 1 18 1-15 1 19 1-24 1 13 1 18 1-29 1 0 1 42 1-20 1 33 1-43 1-20 1-43 1 57 1-20 1-10 1 19 1 65 1-38 1-20 1 0 1 4 1 28 1 23 1-57 1-19 1 42 1-29 1 28 1-10 1 14 1-39 1 47 1-29 1-19 1 23 1 28 1-38 1 14 1 28 1-29 1 4 1-24 1 28 1-15 1-14 1 61 1-72 1 24 1 28 1-29 1-24 1 42 1 0 1-48 1-5 1-15 1 52 1 23 1 0 1-15 1 14 1-34 1-24 1 61 1-66 1 61 1-5 1 14 1-53 1 24 1-6 1 71 1-57 1-19 1 70 1-114 1 42 1-19 1 33 1-29 1-10 1-33 1 89 1-76 1 76 1-29 1 9 1-5 1 42 1-38 1 18 1-24 1-10 1 5 1 4 1-38 1 28 1-10 1-14 1 32 1-5 1-14 1 23 1-38 1 47 1-15 1 0 1 4 1-5 1 9 1 47 1-85 1 37 1-29 1 43 1-38 1 42 1-67 1 38 1 9 1 57 1-14 1-43 1 5 1 0 1 0 1-38 1 33 1 0 1 9 1 5 1-34 1 19 1 0 1-14 1 5 1-19 1-1 1 52 1-14 1-42 1 33 1-24 1 38 1 33 1-5 1-33 1-10 1-66 1 38 1 4 1-9 1 61 1-38 1 5 1-52 1 66 1 14 1-33 1 4 1-4 1-5 1 0 1 19 1-5 1-66 1 70 1-28 1 38 1 19 1-67 1 19 1-28 1 4 1 19 1 29 1-67 1 43 1-48 1 33 1-4 1 4 1 5 1 14 1-57 1 76 1 14 1-43 1 24 1-43 1 29 1-34 1 29 1 19 1-10 1-24 1 29 1 9 1-19 1-9 1-24 1 19 1-10 1 24 1-48 1-9 1 71 1-24 1 9 1-9 1 14 1 9 1 15 1-19 1-15 1-23 1 14 1 23 1 5 1 19 1-52 1 14 1-14 1-1 1 5 1 14 1 5 1 19 1-10 1-28 1-43 1 66 1-19 1-66 1 71 1 9 1-4 1 4 1 38 1-61 1 61 1-28 1-5 1-19 1 14 1 5 1 9 1-24 1 14 1 10 1 14 1-10 1-23 1 38 1-38 1 0 1-24 1 42 1 5 1-19 1 10 1 52 1-90 1 18 1 5 1 24 1-29 1 14 1-42 1 19 1-15 1 62 1-10 1-9 1 5 1-52 1 28 1 33 1-19 1-52 1 52 1-19 1 52 1-28 1-10 1 5 1-5 1-9 1-19 1 66 1-43 1-14 1 10 1-19 1 28 1 10 1 9 1-42 1 52 1-19 1-9 1-19 1 24 1 14 1-33 1 38 1-9 1 33 1-52 1 0 1 43 1-33 1-18 1 28 1 24 1-37 1-14 1 57 1-66 1 25 1-24 1 48 1-46 1 15 1-9 1 15 1-18 1 29 1 6 1 15 1 10 1-37 1 11 1-4 1 5 1-14 1 6 1 19 1-33 1-32 1 71 1-9 1-24 1 28 1-42 1 42 1 10 1-5 1-48 1 75 1-52 1 52 1-67 1 4 1-5 1-38 1 52 1-29 1 14 1-10 1 42 1-47 1 32 1-42 1 14 1 18 1-14 1 4 1 5 1-57 1 80 1 14 1 0 1-28 1-5 1-14 1-9 1 18 1 1 1 28 1-47 1-10 1 34 1-19 1 33 1-14 1-5 1-19 1 57 1-37 1-19 1 14 1-9 1 76 1-38 1-9 1 9 1 39 1-85 1 23 1 53 1-38 1-9 1-24 1 5 1 43 1-9 1-19 1-19 1 34 1 4 1-28 1 10 1-28 1 19 1-9 1 71 1-14 1 5 1-24 1-23 1 14 1-18 1 33 1-42 1 0 1 66 1-18 1-10 1-37 1 5 1-29 1 86 1-43 1 5 1 5 1-4 1 52 1-61 1 19 1 19 1-66 1 52 1-23 1 24 1 24 1-29 1-18 1 33 1-38 1-32 1 14 1 38 1 10 1-43 1 57 1-9 1-71 1 38 1-4 1 19 1-80 1-9 1 85 1-23 1 28 1-23 1-19 1 0 1 38 1-18 1-62 1 48 1-14 1 24 1 19 1 24 1-5 1 19 1-13 1-5 1-42 1 61 1-56 1 62 1-119 1 86 1-24 1-42 1 52 1-9 1 0 1-9 1 29 1-62 1 15 1 28 1-32 1 38 1 9 1-9 1-19 1 57 1-32 1-24 1 43 1-38 1 38 1-37 1 9 1-14 1 29 1 33 1 20 1-175 1 142 1-14 1 19 1-85 1 19 1-4 1 57 1-62 1 48 1-57 1 39 1 61 1-61 1 24 1-99 1 109 1-28 1 0 1 14 1-4 1-19 1-14 1 24 1-5 1-9 1 29 1-24 1-9 1-28 1 10 1 5 1-14 1 52 1-57 1 43 1-4 1 5 1-33 1 38 1-33 1 24 1 5 1-24 1 34 1-62 1 57 1-4 1-52 1 81 1-71 1 24 1 0 1-4 1 33 1-80 1 33" vector-effect="non-scaling-stroke" fill="none" stroke="#808080" stroke-width="1.6" stroke-linejoin="round"/><path transform="translate(137.90,0) scale(0.17510,0.1)" d="M0 10827l2 2 2 3 2 3 2 2 2 3 2 3 2 2 2 3 2 3 2 2 2 3 2 3 2 2 2 3 2 3 2 2 2 3 2 3 2 2 2 3 2 3 2 2 2 3 2 3 2 2 2 3 2 3 2 2 2 3 2 3 2 2 2 3 2 3 2 2 2 3 2 3 2 2 2 3 2 3 2 2 2 3 2 3 2 2 2 3 2 3 2 2 2 3 2 3 2 2 2 3 2 3 2 2 2 3 2 3 2 2 2 3 2 3 2 2 2 3 2 2 2 2 2 3 2 2 2 3 2 2 2 3 2 2 2 3 2 2 2 3 2 2 2 3 2 2 2 2 2 3 2 2 2 3 2 2 2 3 2 2 2 3 2 2 2 3 2 2 2 2 2 3 2 2 2 3 2 2 2 3 2 2 2 3 2 2 2 3 2 2 2 2 2 3 2 2 2 3 2 2 2 3 2 2 2 3 2 2 2 3 2 2 2 3 2 2 2 2 2 3 2 2 2 3 2 2 2 3 2 2 2 2 2 2 2 2 2 2 2 1 2 2 2 2 2 2 2 2 2 2 2 2 2 2 2 2 2 2 2 2 2 1 2 2 2 2 2 2 2 2 2 2 2 2 2 2 2 2 2 2 2 2 2 2 2 1 2 2 2 2 2 2 2 2 2 2 2 2 2 2 2 2 2 2 2 2 2 1 2 2 2 2 2 2 2 2 2 2 2 2 2 2 2 2 2 2 2 2 2 1 2 2 2 2 2 2 2 2 2 2 2 2 2 2 2 2 2 1 2 2 2 2 2 2 2 2 2 1 2 2 2 2 2 2 2 2 2 2 2 1 2 2 2 2 2 2 2 2 2 1 2 2 2 2 2 2 2 2 2 2 2 1 2 2 2 2 2 2 2 2 2 1 2 2 2 2 2 2 2 2 2 1 2 2 2 2 2 2 2 1 2 2 2 2 2 2 2 1 2 2 2 2 2 2 2 1 2 2 2 2 2 1 2 2 2 1 2 2 2 1 2 1 2 1 2 1 2 1 2 0 2 0 2 0 2 0 2 0 2-1 2 0 2-1 2-1 2 0 2 1 2 1 2 2 2 3 2 4 2 4 2 4 2 4 2 4 2 4 2 4 2 4 2 3 2 3 2 3 2 2 2 3 2 2 2 2 2 2 2 2 2 2 2 2 2 2 2 2 2 2 2 2 2 2 2 2 2 2 2 1 2 2 2 2 2 2 2 2 2 1 2 2 2 1 2 1 2 2 2 1 2 1 2 1 2 2 2 1 2 1 2 2 2 1 2 1 2 1 2 2 2 1 2 1 2 1 2 2 2 1 2 1 2 2 2 1 2 1 2 1 2 2 2 1 2 1 2 1 2 2 2 1 2 1 2 1 2 2 2 1 2 1 2 1 2 2 2 1 2 1 2 2 2 1 2 1 2 1 2 2 2 1 2 1 2 1 2 2 2 1 2 1 2 1 2 2 2 1 2 1 2 1 2 2 2 1 2 1 2 1 2 2 2 1 2 1 2 1 2 2 2 1 2 1 2 1 2 2 2 1 2 1 2 2 2 1 2 1 2 1 2 2 2 1 2 1 2 1 2 2 2 1 2 1 2 1 2 2 2 1 2 1 2 1 2 2 2 1 2 1 2 1 2 2 2 1 2 1 2 1 2 2 2 1 2 1 2 1 2 2 2 1 2 1 2 1 2 1 2 1 2 2 2 1 2 1 2 1 2 1 2 1 2 1 2 1 2 1 2 2 2 1 2 1 2 1 2 1 2 1 2 1 2 1 2 1 2 2 2 1 2 1 2 1 2 1 2 1 2 1 2 1 2 1 2 2 2 1 2 1 2 1 2 1 2 1 2 1 2 1 2 1 2 2 2 1 2 1 2 1 2 1 2 1 2 1 2 1 2 1 2 2 2 1 2 1 2 1 2 1 2 1 2 1 2 1 2 1 2 1 2 2 2 1 2 1 2 1 2 1 2 1 2 1 2 1 2 1 2 2 2 1 2 1 2 1 2 1 2 1 2 1 2 1 2 1 2 1 2 1 2 1 2 1 2 1 2 1 2 1 2 1 2 1 2 1 2 1 2 1 2 1 2 1 2 1 2 1 2 1 2 1 2 1 2 1 2 1 2 1 2 1 2 1 2 1 2 1 2 1 2 1 2 1 2 1 2 1 2 1 2 1 2 1 2 1 2 1 2 1 2 1 2 1 2 1 2 1 2 1 2 1 2 1 2 1 2 1 2 1 2 1 2 1 2 1 2 1 2 1 2 1 2 1 2 1 2 1 2 1 2 1 2 1 2 1 2 1 2 1 2 1 2 1 2 1 2 1 2 1 2 1 2 0 2 1 2 1 2 1 2 1 2 1 2 1 2 1 2 1 2 1 2 1 2 0 2 1 2 1 2 1 2 0 2 1 2 1 2 1 2 0 2 1 2 1 2 1 2 0 2 1 2 1 2 1 2 0 2 1 2 1 2 1 2 0 2 1 2 1 2 0 2 1 2 1 2 0 2 1 2 1 2 0 2 1 2 1 2 0 2 1 2 1 2 0 2 1 2 1 2 0 2 1 2 0 2 1 2 1 2 0 2 1 2 1 2 1 2 1 2 1 2 1 2 1 2 1 2 0 2 1 2 1 2 1 2 1 2 0 2 1 2 1 2 0 2 1 2 1 2 0 2 1 2 0 2 1 2 0 2 0 2 1 2 0 2 0 2 0 2 0 2 0 2 0 2 0 2 0 2-1 2 0 2-1 2-1 2-1 2-1 2-1 2-2 2-1 2-3 2-2 2-4 2-4 2-5 2-5 2-6 2-6 2-8 2-8 2-9 2-11 2-12 2-13 2-17 2-19 2-23 2-29 2-38 2-48 2-63 2-84 2-110 2-142 2-182 2-225 2-270 2-312 2-343 2-352 2-326 2-249 2-119 2 41 2 190 2 294 2 345 2 351 2 329 2 292 2 248 2 203 2 161 2 126 2 96 2 73 2 55 2 42 2 33 2 26 2 22 2 17 2 15 2 13 2 12 2 9 2 9 2 8 2 7 2 6 2 6 2 5 2 4 2 4 2 4 2 3 2 3 2 3 2 3 2 2 2 2 2 2 2 2 2 2 2 1 2 2 2 1 2 1 2 1 2 1 2 1 2 1 2 1 2 1 2 1 2 1 2 1 2 1 2 0 2 1 2 0 2 1 2 0 2 0 2 1 2 0 2 0 2 0 2 0 2 0 2-1 2 0 2 0 2-1 2-1 2-1 2-1 2-1 2-1 2-2 2-1 2-3 2-2 2-3 2-3 2-4 2-4 2-6 2-7 2-8 2-11 2-13 2-16 2-21 2-26 2-32 2-38 2-47 2-55 2-64 2-72 2-80 2-88 2-91 2-93 2-90 2-81 2-65 2-42 2-14 2 15 2 43 2 66 2 82 2 91 2 94 2 92 2 89 2 81 2 74 2 64 2 56 2 48 2 39 2 33 2 27 2 22 2 17 2 14 2 12 2 9 2 8 2 7 2 6 2 4 2 5 2 4 2 3 2 3 2 3 2 3 2 2 2 2 2 2 2 2 2 2 2 2 2 2 2 1 2 1 2 2 2 1 2 1 2 1 2 1 2 1 2 1 2 1 2 1 2 1 2 0 2 1 2 1 2 0 2 1 2 0 2 1 2 0 2 1 2 0 2 0 2 1 2 0 2 0 2 0 2 0 2 0 2 0 2-1 2 0 2-1 2 0 2-1 2 0 2-1 2-2 2-1 2-2 2-2 2-2 2-3 2-4 2-4 2-6 2-8 2-10 2-14 2-19 2-27 2-36 2-47 2-60 2-73 2-84 2-90 2-84 2-63 2-24 2 22 2 60 2 82 2 87 2 81 2 69 2 56 2 42 2 29 2 18 2 8 2-2 2-11 2-20 2-30 2-40 2-51 2-61 2-68 2-70 2-64 2-45 2-16 2 18 2 48 2 66 2 72 2 71 2 63 2 55 2 44 2 35 2 26 2 19 2 13 2 8 2 4 2 0 2-3 2-7 2-12 2-17 2-26 2-36 2-46 2-60 2-73 2-86 2-95 2-98 2-88 2-62 2-23 2 26 2 65 2 92 2 100 2 98 2 89 2 77 2 64 2 50 2 40 2 30 2 23 2 17 2 13 2 11 2 8 2 7 2 6 2 5 2 4 2 4 2 4 2 3 2 3 2 2 2 3 2 2 2 2 2 2 2 2 2 2 2 1 2 2 2 1 2 2 2 1 2 1 2 1 2 2 2 1 2 1 2 1 2 1 2 1 2 1 2 1 2 1 2 1 2 1 2 0 2 1 2 1 2 1 2 1 2 0 2 1 2 1 2 1 2 0 2 1 2 1 2 1 2 0 2 1 2 1 2 0 2 1 2 1 2 0 2 1 2 0 2 1 2 1 2 0 2 1 2 0 2 1 2 0 2 1 2 0 2 1 2 0 2 1 2 0 2 1 2 0 2 1 2 0 2 1 2 0 2 1 2 0 2 0 2 1 2 0 2 0 2 0 2 1 2 0 2 0 2 0 2 0 2 0 2 0 2 0 2 0 2 0 2-1 2 0 2 0 2 0 2-1 2 0 2-1 2 0 2-1 2-1 2-1 2-1 2-1 2-2 2-1 2-2 2-3 2-2 2-3 2-4 2-5 2-5 2-7 2-8 2-10 2-11 2-14 2-17 2-19 2-22 2-26 2-29 2-32 2-35 2-37 2-39 2-40 2-39 2-35 2-30 2-22 2-11 2 1 2 12 2 22 2 31 2 36 2 40 2 41 2 40 2 38 2 36 2 33 2 30 2 26 2 23 2 21 2 17 2 15 2 12 2 11 2 9 2 7 2 7 2 5 2 5 2 4 2 4 2 3 2 3 2 2 2 3 2 2 2 2 2 2 2 2 2 1 2 2 2 1 2 2 2 1 2 1 2 1 2 2 2 1 2 1 2 1 2 1 2 1 2 1 2 0 2 1 2 1 2 1 2 1 2 1 2 0 2 1 2 1 2 0 2 1 2 1 2 0 2 1 2 1 2 1 2 0 2 1 2 1 2 0 2 1 2 1 2 1 2 0 2 1 2 0 2 1 2 1 2 0 2 1 2 1 2 0 2 1 2 0 2 1 2 1 2 0 2 1 2 0 2 1 2 1 2 0 2 1 2 0 2 1 2 0 2 1 2 1 2 0 2 1 2 0 2 1 2 0 2 1 2 0 2 1 2 0 2 1 2 1 2 0 2 1 2 0 2 1 2 0 2 1 2 0 2 1 2 0 2 1 2 0 2 1 2 0 2 1 2 0 2 1 2 0 2 1 2 0 2 1 2 0 2 1 2 0 2 1 2 0 2 1 2 0 2 1 2 0 2 1 2 0 2 1 2 0 2 1 2 0 2 0 2 1 2 0 2 1 2 0 2 0 2 0 2 1 2 0 2 0 2 0 2 1 2 0 2 0 2 0 2 0 2 1 2 0 2 0 2 0 2 0 2 0 2 1 2 0 2 0 2 0 2 0 2 0 2 1 2 0 2 0 2 0 2 0 2 0 2 0 2 1 2 0 2 0 2 0 2 0 2 0 2 0 2 0 2 0 2 0 2 1 2 0 2 0 2 0 2 0 2 0 2 0 2 0 2 0 2 0 2 0 2 0 2 0 2 0 2 0 2-1 2 0 2 0 2 0 2 0 2 0 2 0 2-1 2 0 2 0 2 0 2-1 2 0 2-1 2 0 2-1 2 0 2-1 2-1 2 0 2 0 2 0 2-1 2-1 2-1 2-1 2-1 2-2 2-2 2-2 2-2 2-3 2-2 2-2 2-3 2-2 2-1 2-1 2 0 2 1 2 2 2 2 2 3 2 3 2 3 2 3 2 3 2 3 2 3 2 2 2 2 2 2 2 2 2 1 2 1 2 0 2 1 2 0 2-1 2 0 2-1 2-1 2-1 2-2 2-2 2-2 2-2 2-3 2-3 2-3 2-4 2-4 2-5 2-5 2-7 2-7 2-8 2-9 2-10 2-11 2-11 2-13 2-15 2-15 2-18 2-19 2-22 2-25 2-28 2-32 2-37 2-43 2-50 2-59 2-68 2-81 2-95 2-111 2-129 2-150 2-172 2-195 2-217 2-237 2-249 2-251 2-235 2-195 2-130 2-46 2 45 2 128 2 194 2 232 2 250 2 248 2 235 2 216 2 193 2 170 2 148 2 128 2 109 2 93 2 79 2 67 2 57 2 48 2 41 2 35 2 30 2 26 2 22 2 19 2 17 2 15 2 13 2 11 2 10 2 9 2 7 2 6 2 6 2 4 2 4 2 2 2 2 2 1 2 1 2-1 2-1 2-2 2-2 2-3 2-5 2-5 2-6 2-7 2-8 2-9 2-10 2-12 2-14 2-15 2-18 2-21 2-23 2-27 2-31 2-36 2-41 2-47 2-54 2-63 2-71 2-81 2-92 2-103 2-116 2-128 2-139 2-152 2-160 2-167 2-169 2-163 2-149 2-125 2-90 2-48 2 1 2 48 2 92 2 126 2 150 2 165 2 169 2 169 2 161 2 153 2 141 2 129 2 117 2 104 2 93 2 83 2 73 2 64 2 56 2 49 2 42 2 38 2 32 2 29 2 25 2 23 2 20 2 18 2 16 2 14 2 13 2 12 2 11 2 9 2 10 2 8 2 8 2 7 2 6 2 6 2 6 2 5 2 5 2 5 2 4 2 4 2 4 2 3 2 3 2 3 2 3 2 2 2 2 2 2 2 2 2 2 2 2 2 1 2 1 2 1 2 1 2 1 2 0 2 1 2 0 2-1 2 0 2-1 2-1 2-2 2-2 2-2 2-4 2-4 2-4 2-6 2-7 2-7 2-9 2-11 2-11 2-14 2-14 2-17 2-17 2-19 2-21 2-21 2-22 2-22 2-22 2-21 2-19 2-16 2-12 2-7 2-3 2 3 2 8 2 13 2 16 2 20 2 21 2 22 2 23 2 23 2 21 2 21 2 20 2 18 2 17 2 15 2 13 2 13 2 10 2 10 2 8 2 6 2 6 2 5 2 4 2 3 2 2 2 1 2 1 2 0 2-1 2-1 2-3 2-3 2-4 2-5 2-5 2-7 2-8 2-9 2-10 2-12 2-12 2-13 2-14 2-15 2-14 2-15 2-15 2-13 2-12 2-9 2-7 2-3 2 0 2 4 2 8 2 10 2 13 2 14 2 16 2 16 2 15 2 16 2 15 2 14 2 14 2 12 2 11 2 11 2 9 2 8 2 8 2 6 2 6 2 5 2 4 2 4 2 3 2 3 2 2 2 3 2 2 2 1 2 2 2 1 2 1 2 1 2 1 2 1 2 0 2 1 2 1 2 0 2 1 2 0 2 0 2 1 2 0 2 0 2 0 2 1 2 0 2 0 2 1 2 0 2 1 2 0 2 0 2 1 2 0 2 0 2 0 2 0 2 1 2 0 2 0 2 0 2-1 2 0 2 0 2 0 2 0 2-1 2 0 2-1 2-1 2 0 2-1 2-1 2-1 2-2 2-1 2-2 2-1 2-3 2-2 2-3 2-3 2-3 2-5 2-5 2-5 2-7 2-8 2-10 2-11 2-13 2-15 2-17 2-21 2-23 2-26 2-30 2-34 2-36 2-40 2-44 2-46 2-47 2-50 2-48 2-47 2-43 2-37 2-29 2-18 2-5 2 6 2 19 2 30 2 38 2 44 2 48 2 50 2 50 2 49 2 47 2 44 2 42 2 37 2 35 2 31 2 27 2 25 2 21 2 19 2 16 2 14 2 12 2 10 2 10 2 7 2 7 2 6 2 6 2 4 2 5 2 4 2 3 2 3 2 3 2 3 2 2 2 3 2 2 2 2 2 2 2 2 2 2 2 1 2 2 2 2 2 1 2 2 2 1 2 1 2 1 2 2 2 1 2 1 2 1 2 1 2 1 2 1 2 1 2 1 2 1 2 1 2 1 2 1 2 1 2 0 2 1 2 1 2 1 2 1 2 0 2 1 2 1 2 1 2 0 2 1 2 1 2 0 2 1 2 1 2 0 2 1 2 1 2 0 2 1 2 1 2 0 2 1 2 0 2 1 2 1 2 0 2 1 2 0 2 1 2 1 2 0 2 1 2 0 2 1 2 0 2 1 2 1 2 0 2 1 2 0 2 0 2 1 2 0 2 0 2 1 2 0 2 0 2 1 2 0 2 0 2 0 2 1 2 0 2 0 2 0 2 1 2 0 2 0 2 1 2 0 2 0 2 0 2 1 2 0 2 0 2 0 2 1 2 0 2 0 2 0 2 1 2 0 2 0 2 0 2 1 2 0 2 0 2 0 2 1 2 0 2 0 2 0 2 1 2 0 2 0 2 0 2 0 2 1 2 0 2 0 2 0 2 1 2 0 2 0 2 0 2 1 2 0 2 0 2 0 2 0 2 1 2 0 2 0 2 0 2 1 2 0 2 0 2 0 2 0 2 1 2 0 2 0 2 0 2 0 2 1 2 0 2 0 2 0 2 0 2 1 2 0 2 0 2 0 2 1 2 0 2 0 2 0 2 0 2 0 2 1 2 0 2 0 2 0 2 0 2 1 2 0 2 0 2 0 2 0 2 1 2 0 2 0 2-1 2 0 2-1 2 0 2-1 2 0 2-1 2 0 2-1 2 0 2-1 2 0 2-1 2 0 2-1 2 0 2-1 2 0 2-1 2 0 2-1 2 0 2-1 2 0 2-1 2-1 2 0 2-1 2 0 2-1 2 0 2-1 2-1 2 0 2-1 2 0 2-1 2-1 2 0 2-1 2 0 2-1 2-1 2-1 2 0 2-1 2-1 2 0 2-1 2-1 2-1 2-1 2 0 2-1 2-1 2-1 2-1 2-1 2-1 2-1 2-1 2 0 2-1 2-1 2-1 2-1 2-1 2-1 2-1 2-2 2-2 2-2 2-2 2-3 2-3 2-3 2-4 2-5 2-5 2-6 2-6 2-7 2-8 2-9 2-9 2-11 2-11 2-12 2-12 2-14 2-13 2-14 2-14 2-14 2-13 2-12 2-10 2-8 2-6 2-3 2 1 2 3 2 5 2 9 2 10 2 12 2 13 2 14 2 14 2 14 2 14 2 13 2 13 2 12 2 12 2 10 2 10 2 9 2 8 2 7 2 7 2 5 2 6 2 4 2 4 2 4 2 3 2 3 2 2 2 3 2 2 2 1 2 2 2 1 2 2 2 2 2 1 2 2 2 1 2 2 2 1 2 1 2 2 2 1 2 1 2 1 2 1 2 1 2 1 2 1 2 1 2 1 2 1 2 1 2 1 2 1 2 1 2 1 2 1 2 1 2 1 2 1 2 0 2 1 2 1 2 1 2 1 2 1 2 0 2 1 2 1 2 1 2 0 2 1 2 1 2 1 2 1 2 0 2 1 2 1 2 1 2 0 2 1 2 1 2 1 2 0 2 1 2 1 2 1 2 0 2 1 2 1 2 0 2 1 2 1 2 1 2 0 2 1 2 1 2 0 2 1 2 1 2 0 2 0 2 0 2 0 2 0 2 1 2 0 2 0 2 0 2 0 2 0 2 0 2 1 2 0 2 0 2 0 2 0 2 0 2 1 2 0 2 0 2 0 2 0 2 0 2 0 2 1 2 0 2 0 2 0 2 0 2 0 2 0 2 1 2 0 2 0 2 0 2 0 2 0 2 0 2 0 2 1 2 0 2 0 2 0 2 0 2 0 2 0 2 0 2 1 2 0 2 0 2 0 2 0 2 0 2 0 2 0 2 1 2 0 2 0 2 0 2 0 2 0 2 0 2 0 2 1 2 0 2 0 2 0 2 0 2 0 2 0 2 0 2 0 2 0 2 1 2 0 2 0 2 0 2 0 2 0 2 0 2 0 2 0 2 0 2 0 2 0 2 0 2 0 2 0 2 0 2 0 2-1 2 0 2 0 2-1 2 0 2-1 2 0 2-1 2-1 2-1 2-1 2-2 2-2 2-1 2-2 2-2 2-1 2-1 2-1 2-1 2 0 2 0 2 0 2 1 2 0 2 1 2 1 2 1 2 1 2 0 2 1 2 0 2 1 2 0 2 0 2 0 2 1 2 0 2 0 2-1 2 0 2 0 2 0 2 0 2-1 2 0 2 0 2-1 2 0 2-1 2 0 2 0 2-1 2 0 2-1 2 0 2 0 2-1 2 0 2-1 2 0 2 0 2-1 2 0 2-1 2 0 2-1 2 0 2 0 2-1 2 0 2-1 2 0 2-1 2 0 2-1 2 0 2 0 2-1 2 0 2-1 2 0 2-1 2 0 2-1 2 0 2 0 2-1 2 0 2-1 2 0 2-1 2 0 2-1 2 0 2 0 2-1 2 0 2-1 2 0 2-1 2 0 2-1 2 0 2-1 2 0 2 0 2-1 2 0 2-1 2 0 2-1 2 0 2-1 2 0 2-1 2 0 2 0 2-1 2 0 2-1 2 0 2-1 2 0 2-1 2 0 2 0 2-1 2 0 2-1 2 0 2-1 2 0 2-1 2 0" vector-effect="non-scaling-stroke" fill="none" stroke="#ff0000" stroke-width="3" stroke-linejoin="round"/><path d="M221.4 1393.3V1380.3M366.6 1393.3V1380.3M401.4 1393.3V1380.3M403.7 1393.3V1380.3M406.2 1393.3V1380.3M438.5 1393.3V1380.3M446.6 1393.3V1380.3M456.2 1393.3V1380.3M510.0 1393.3V1380.3M592.8 1393.3V1380.3M620.0 1393.3V1380.3M645.9 1393.3V1380.3M674.1 1393.3V1380.3M680.4 1393.3V1380.3M699.6 1393.3V1380.3M730.1 1393.3V1380.3M738.5 1393.3V1380.3M823.6 1393.3V1380.3M846.2 1393.3V1380.3M847.4 1393.3V1380.3M870.3 1393.3V1380.3M882.6 1393.3V1380.3M920.9 1393.3V1380.3" stroke="#2020f4" stroke-width="2.7"/><path d="M137.9 818.0V1394.8H960.9" fill="none" stroke="#000" stroke-width="2.9" stroke-linecap="round" stroke-linejoin="miter"/><path d="M137.9 1394.8v9.0M313.0 1394.8v9.0M488.1 1394.8v9.0M663.2 1394.8v9.0M838.3 1394.8v9.0M181.7 1394.8v5.5M225.5 1394.8v5.5M269.2 1394.8v5.5M356.8 1394.8v5.5M400.6 1394.8v5.5M444.3 1394.8v5.5M531.9 1394.8v5.5M575.7 1394.8v5.5M619.4 1394.8v5.5M707.0 1394.8v5.5M750.8 1394.8v5.5M794.5 1394.8v5.5M882.1 1394.8v5.5M925.9 1394.8v5.5M137.9 1337.8h-9.0M137.9 1243.1h-9.0M137.9 1148.4h-9.0M137.9 1053.8h-9.0M137.9 959.1h-9.0M137.9 864.5h-9.0M137.9 1385.1h-5.5M137.9 1361.4h-5.5M137.9 1314.1h-5.5M137.9 1290.4h-5.5M137.9 1266.8h-5.5M137.9 1219.4h-5.5M137.9 1195.8h-5.5M137.9 1172.1h-5.5M137.9 1124.8h-5.5M137.9 1101.1h-5.5M137.9 1077.4h-5.5M137.9 1030.1h-5.5M137.9 1006.4h-5.5M137.9 982.8h-5.5M137.9 935.5h-5.5M137.9 911.8h-5.5M137.9 888.1h-5.5M137.9 840.8h-5.5" stroke="#000" stroke-width="2.9" fill="none"/><text x="135.9" y="1434.2" font-size="30" text-anchor="middle">20</text><text x="311.0" y="1434.2" font-size="30" text-anchor="middle">30</text><text x="486.1" y="1434.2" font-size="30" text-anchor="middle">40</text><text x="661.2" y="1434.2" font-size="30" text-anchor="middle">50</text><text x="836.3" y="1434.2" font-size="30" text-anchor="middle">60</text><text x="118.8" y="874.0" font-size="30" text-anchor="end">800</text><text x="118.8" y="968.6" font-size="30" text-anchor="end">600</text><text x="118.8" y="1063.3" font-size="30" text-anchor="end">400</text><text x="118.8" y="1157.9" font-size="30" text-anchor="end">200</text><text x="124.0" y="1252.6" font-size="30" text-anchor="end">0</text><text x="116.9" y="1347.3" font-size="30" text-anchor="end">-200</text><text x="22.6" y="1484" font-size="40">(b)</text><text x="342.3" y="1486.4" font-size="40" letter-spacing="-0.4">Diffraction angle</text><text x="616.9" y="1486.4" font-size="40">2</text><text x="640.3" y="1486.4" font-size="42" font-style="italic">θ</text><text x="667.1" y="1486.4" font-size="40">(°)</text><text transform="translate(53.5,1230) rotate(-90)" font-size="39.5">Intensity (counts)</text><polyline points="1077.7,1082.7 1077.9,1061.1 1078.1,1078.3 1078.2,1073.4 1078.4,1072.1 1078.6,1077.4 1078.8,1082.7 1078.9,1066.8 1079.1,1069.0 1079.3,1087.5 1079.5,1053.1 1079.6,1064.6 1079.8,1078.3 1080.0,1065.0 1080.2,1076.5 1080.3,1073.4 1080.5,1066.4 1080.7,1083.1 1080.9,1068.6 1081.0,1061.9 1081.2,1062.8 1081.4,1075.6 1081.6,1066.4 1081.7,1086.7 1081.9,1075.2 1082.1,1070.3 1082.3,1084.4 1082.4,1074.7 1082.6,1060.2 1082.8,1053.6 1083.0,1068.1 1083.1,1067.7 1083.3,1082.2 1083.5,1084.4 1083.7,1086.2 1083.8,1070.8 1084.0,1069.0 1084.2,1080.5 1084.4,1084.9 1084.5,1073.4 1084.7,1073.0 1084.9,1076.5 1085.1,1065.5 1085.2,1076.5 1085.4,1076.5 1085.6,1084.9 1085.8,1075.2 1085.9,1065.5 1086.1,1076.1 1086.3,1076.1 1086.5,1073.0 1086.6,1074.3 1086.8,1072.5 1087.0,1072.5 1087.2,1072.1 1087.3,1083.6 1087.5,1074.7 1087.7,1090.2 1087.9,1075.2 1088.0,1087.5 1088.2,1078.3 1088.4,1073.9 1088.6,1081.4 1088.7,1077.4 1088.9,1091.1 1089.1,1084.9 1089.3,1073.0 1089.4,1087.5 1089.6,1073.4 1089.8,1089.7 1090.0,1085.8 1090.1,1087.5 1090.3,1079.1 1090.5,1074.7 1090.7,1087.5 1090.8,1080.9 1091.0,1066.8 1091.2,1082.2 1091.4,1086.2 1091.5,1076.9 1091.7,1081.8 1091.9,1085.3 1092.1,1094.2 1092.2,1073.9 1092.4,1084.9 1092.6,1080.5 1092.8,1088.9 1092.9,1070.3 1093.1,1074.7 1093.3,1073.4 1093.5,1081.8 1093.6,1077.4 1093.8,1074.3 1094.0,1073.4 1094.2,1079.1 1094.3,1081.8 1094.5,1084.4 1094.7,1087.5 1094.9,1089.3 1095.0,1079.1 1095.2,1084.0 1095.4,1097.7 1095.6,1083.6 1095.7,1074.3 1095.9,1084.4 1096.1,1096.8 1096.3,1083.6 1096.4,1076.9 1096.6,1081.4 1096.8,1086.2 1097.0,1069.0 1097.1,1068.6 1097.3,1084.0 1097.5,1077.4 1097.7,1080.5 1097.8,1077.8 1098.0,1072.5 1098.2,1077.4 1098.4,1083.1 1098.5,1089.3 1098.7,1090.6 1098.9,1084.4 1099.1,1075.6 1099.2,1082.2 1099.4,1084.0 1099.6,1082.7 1099.8,1084.4 1099.9,1080.9 1100.1,1093.7 1100.3,1100.3 1100.5,1088.4 1100.6,1094.2 1100.8,1073.0 1101.0,1086.7 1101.2,1087.5 1101.3,1097.7 1101.5,1083.6 1101.7,1090.6 1101.9,1077.4 1102.0,1079.6 1102.2,1092.4 1102.4,1083.1 1102.6,1107.4 1102.7,1091.9 1102.9,1077.4 1103.1,1080.9 1103.3,1085.8 1103.4,1087.1 1103.6,1098.1 1103.8,1097.7 1104.0,1085.8 1104.1,1073.9 1104.3,1103.9 1104.5,1082.7 1104.7,1083.1 1104.8,1080.5 1105.0,1094.6 1105.2,1091.9 1105.4,1088.0 1105.5,1095.9 1105.7,1097.7 1105.9,1095.0 1106.1,1089.3 1106.2,1085.8 1106.4,1088.9 1106.6,1088.4 1106.8,1094.2 1106.9,1094.6 1107.1,1080.9 1107.3,1089.7 1107.5,1090.2 1107.6,1082.7 1107.8,1080.5 1108.0,1080.0 1108.2,1086.7 1108.3,1090.2 1108.5,1088.0 1108.7,1088.9 1108.9,1079.6 1109.0,1088.4 1109.2,1085.8 1109.4,1091.1 1109.6,1080.5 1109.7,1106.1 1109.9,1088.0 1110.1,1085.3 1110.3,1099.9 1110.4,1075.2 1110.6,1092.4 1110.8,1092.8 1111.0,1099.4 1111.1,1085.3 1111.3,1090.2 1111.5,1096.4 1111.7,1090.2 1111.8,1087.1 1112.0,1083.1 1112.2,1090.6 1112.4,1099.4 1112.5,1096.8 1112.7,1109.6 1112.9,1098.1 1113.1,1087.5 1113.2,1089.3 1113.4,1093.7 1113.6,1095.9 1113.8,1081.4 1113.9,1091.5 1114.1,1086.7 1114.3,1090.6 1114.5,1098.6 1114.6,1082.2 1114.8,1103.0 1115.0,1103.0 1115.2,1097.2 1115.3,1099.4 1115.5,1098.6 1115.7,1099.0 1115.9,1087.1 1116.0,1094.2 1116.2,1091.9 1116.4,1106.5 1116.6,1101.2 1116.7,1087.1 1116.9,1103.9 1117.1,1086.7 1117.3,1103.0 1117.4,1093.3 1117.6,1101.7 1117.8,1094.2 1118.0,1102.5 1118.1,1097.7 1118.3,1083.6 1118.5,1099.0 1118.7,1081.4 1118.8,1099.9 1119.0,1105.2 1119.2,1095.9 1119.4,1099.4 1119.5,1084.0 1119.7,1090.6 1119.9,1088.4 1120.1,1092.4 1120.2,1079.1 1120.4,1091.5 1120.6,1093.7 1120.8,1103.4 1120.9,1104.3 1121.1,1096.4 1121.3,1090.6 1121.5,1089.7 1121.7,1104.7 1121.8,1094.2 1122.0,1096.8 1122.2,1106.5 1122.4,1094.6 1122.5,1114.9 1122.7,1096.8 1122.9,1080.9 1123.1,1106.5 1123.2,1099.0 1123.4,1112.7 1123.6,1104.7 1123.8,1093.7 1123.9,1107.0 1124.1,1099.9 1124.3,1102.1 1124.5,1102.5 1124.6,1098.6 1124.8,1096.4 1125.0,1091.1 1125.2,1094.2 1125.3,1104.3 1125.5,1090.2 1125.7,1091.5 1125.9,1111.8 1126.0,1095.9 1126.2,1095.0 1126.4,1093.7 1126.6,1097.2 1126.7,1110.5 1126.9,1103.0 1127.1,1116.2 1127.3,1102.5 1127.4,1087.1 1127.6,1096.8 1127.8,1095.9 1128.0,1105.6 1128.1,1109.2 1128.3,1109.6 1128.5,1101.2 1128.7,1107.8 1128.8,1107.0 1129.0,1094.2 1129.2,1114.5 1129.4,1112.2 1129.5,1106.5 1129.7,1103.4 1129.9,1103.9 1130.1,1113.1 1130.2,1101.7 1130.4,1104.3 1130.6,1100.8 1130.8,1111.4 1130.9,1101.7 1131.1,1102.1 1131.3,1108.3 1131.5,1105.2 1131.6,1107.8 1131.8,1094.2 1132.0,1126.4 1132.2,1114.5 1132.3,1116.2 1132.5,1107.0 1132.7,1109.2 1132.9,1107.4 1133.0,1099.4 1133.2,1116.2 1133.4,1110.9 1133.6,1106.5 1133.7,1113.6 1133.9,1102.5 1134.1,1103.0 1134.3,1110.0 1134.4,1118.0 1134.6,1094.2 1134.8,1102.1 1135.0,1102.5 1135.1,1105.2 1135.3,1105.6 1135.5,1099.9 1135.7,1106.1 1135.8,1110.5 1136.0,1101.2 1136.2,1105.6 1136.4,1111.8 1136.5,1112.7 1136.7,1098.1 1136.9,1102.1 1137.1,1092.8 1137.2,1110.5 1137.4,1112.2 1137.6,1103.9 1137.8,1097.2 1137.9,1103.0 1138.1,1104.3 1138.3,1094.2 1138.5,1112.7 1138.6,1116.2 1138.8,1112.7 1139.0,1110.0 1139.2,1105.2 1139.3,1100.8 1139.5,1105.2 1139.7,1097.2 1139.9,1114.0 1140.0,1095.0 1140.2,1114.0 1140.4,1100.3 1140.6,1114.9 1140.7,1106.1 1140.9,1108.3 1141.1,1105.2 1141.3,1103.4 1141.4,1110.5 1141.6,1109.6 1141.8,1107.4 1142.0,1118.0 1142.1,1114.5 1142.3,1120.6 1142.5,1109.2 1142.7,1094.2 1142.8,1104.3 1143.0,1115.8 1143.2,1114.5 1143.4,1103.0 1143.5,1113.1 1143.7,1121.1 1143.9,1117.1 1144.1,1117.5 1144.2,1117.1 1144.4,1105.6 1144.6,1110.0 1144.8,1120.6 1144.9,1114.5 1145.1,1118.4 1145.3,1119.3 1145.5,1121.1 1145.6,1099.0 1145.8,1113.1 1146.0,1107.0 1146.2,1105.2 1146.3,1114.0 1146.5,1107.8 1146.7,1107.8 1146.9,1110.0 1147.0,1096.8 1147.2,1109.6 1147.4,1113.6 1147.6,1107.4 1147.7,1099.9 1147.9,1105.2 1148.1,1115.3 1148.3,1118.0 1148.4,1118.9 1148.6,1117.1 1148.8,1110.0 1149.0,1107.0 1149.1,1128.1 1149.3,1113.1 1149.5,1120.6 1149.7,1108.3 1149.8,1107.0 1150.0,1118.4 1150.2,1116.2 1150.4,1119.7 1150.5,1110.9 1150.7,1124.6 1150.9,1121.1 1151.1,1118.4 1151.2,1105.6 1151.4,1097.7 1151.6,1114.0 1151.8,1122.4 1151.9,1113.6 1152.1,1120.2 1152.3,1111.4 1152.5,1122.0 1152.6,1117.1 1152.8,1114.5 1153.0,1110.9 1153.2,1115.3 1153.3,1106.1 1153.5,1114.0 1153.7,1127.3 1153.9,1108.7 1154.0,1117.1 1154.2,1119.7 1154.4,1105.2 1154.6,1122.0 1154.7,1114.9 1154.9,1120.6 1155.1,1106.5 1155.3,1118.4 1155.4,1114.5 1155.6,1125.5 1155.8,1106.5 1156.0,1123.3 1156.1,1110.0 1156.3,1108.7 1156.5,1108.3 1156.7,1104.3 1156.8,1124.6 1157.0,1114.0 1157.2,1115.8 1157.4,1114.0 1157.5,1109.6 1157.7,1116.2 1157.9,1122.4 1158.1,1118.0 1158.2,1107.0 1158.4,1125.0 1158.6,1117.1 1158.8,1124.2 1158.9,1110.0 1159.1,1128.6 1159.3,1120.2 1159.5,1118.9 1159.6,1117.1 1159.8,1102.5 1160.0,1107.8 1160.2,1125.0 1160.3,1103.9 1160.5,1126.4 1160.7,1130.8 1160.9,1128.6 1161.0,1117.5 1161.2,1115.3 1161.4,1133.4 1161.6,1116.2 1161.7,1120.6 1161.9,1114.5 1162.1,1122.0 1162.3,1113.1 1162.4,1115.8 1162.6,1127.3 1162.8,1110.0 1163.0,1118.4 1163.1,1114.9 1163.3,1111.4 1163.5,1126.4 1163.7,1120.6 1163.8,1125.5 1164.0,1126.4 1164.2,1118.4 1164.4,1118.0 1164.5,1111.8 1164.7,1111.4 1164.9,1120.6 1165.1,1126.4 1165.2,1099.9 1165.4,1107.0 1165.6,1121.5 1165.8,1127.3 1166.0,1123.7 1166.1,1119.3 1166.3,1114.0 1166.5,1114.9 1166.7,1118.4 1166.8,1123.3 1167.0,1120.6 1167.2,1123.7 1167.4,1121.5 1167.5,1122.4 1167.7,1118.4 1167.9,1134.3 1168.1,1124.6 1168.2,1124.2 1168.4,1129.9 1168.6,1123.7 1168.8,1129.5 1168.9,1126.8 1169.1,1124.6 1169.3,1124.6 1169.5,1126.8 1169.6,1115.8 1169.8,1122.0 1170.0,1121.1 1170.2,1122.0 1170.3,1127.7 1170.5,1129.0 1170.7,1118.0 1170.9,1125.9 1171.0,1135.2 1171.2,1137.8 1171.4,1122.4 1171.6,1128.6 1171.7,1124.6 1171.9,1127.7 1172.1,1126.8 1172.3,1125.5 1172.4,1132.5 1172.6,1124.6 1172.8,1118.0 1173.0,1120.2 1173.1,1135.6 1173.3,1133.4 1173.5,1133.4 1173.7,1126.4 1173.8,1119.3 1174.0,1122.8 1174.2,1136.5 1174.4,1125.0 1174.5,1120.2 1174.7,1128.1 1174.9,1113.1 1175.1,1129.5 1175.2,1118.0 1175.4,1110.5 1175.6,1133.9 1175.8,1127.7 1175.9,1122.4 1176.1,1105.6 1176.3,1137.4 1176.5,1122.4 1176.6,1124.6 1176.8,1129.0 1177.0,1131.7 1177.2,1129.9 1177.3,1128.6 1177.5,1134.8 1177.7,1116.7 1177.9,1133.9 1178.0,1129.5 1178.2,1131.2 1178.4,1129.5 1178.6,1126.4 1178.7,1132.1 1178.9,1128.6 1179.1,1116.2 1179.3,1120.6 1179.4,1129.5 1179.6,1122.0 1179.8,1132.5 1180.0,1126.4 1180.1,1137.0 1180.3,1135.2 1180.5,1133.4 1180.7,1120.2 1180.8,1126.8 1181.0,1124.6 1181.2,1127.3 1181.4,1125.9 1181.5,1125.9 1181.7,1123.7 1181.9,1127.7 1182.1,1134.3 1182.2,1133.9 1182.4,1121.1 1182.6,1120.2 1182.8,1125.5 1182.9,1139.6 1183.1,1119.3 1183.3,1127.3 1183.5,1129.9 1183.6,1129.5 1183.8,1131.7 1184.0,1118.4 1184.2,1119.3 1184.3,1136.5 1184.5,1130.8 1184.7,1128.1 1184.9,1122.0 1185.0,1145.3 1185.2,1124.2 1185.4,1119.7 1185.6,1132.5 1185.7,1130.8 1185.9,1122.8 1186.1,1128.1 1186.3,1139.2 1186.4,1137.8 1186.6,1137.4 1186.8,1139.6 1187.0,1131.2 1187.1,1134.3 1187.3,1130.8 1187.5,1126.8 1187.7,1120.2 1187.8,1129.9 1188.0,1143.1 1188.2,1122.8 1188.4,1132.5 1188.5,1124.6 1188.7,1134.8 1188.9,1129.9 1189.1,1133.0 1189.2,1132.1 1189.4,1124.2 1189.6,1136.1 1189.8,1131.2 1189.9,1130.8 1190.1,1134.8 1190.3,1146.2 1190.5,1130.3 1190.6,1150.2 1190.8,1141.8 1191.0,1135.6 1191.2,1130.3 1191.3,1127.7 1191.5,1127.7 1191.7,1129.5 1191.9,1135.2 1192.0,1125.5 1192.2,1134.8 1192.4,1126.4 1192.6,1147.1 1192.7,1139.2 1192.9,1137.0 1193.1,1133.4 1193.3,1148.4 1193.4,1128.6 1193.6,1127.7 1193.8,1129.0 1194.0,1137.0 1194.1,1125.0 1194.3,1137.4 1194.5,1128.6 1194.7,1134.8 1194.8,1134.3 1195.0,1135.2 1195.2,1134.3 1195.4,1127.7 1195.5,1125.9 1195.7,1125.9 1195.9,1129.0 1196.1,1130.8 1196.2,1132.1 1196.4,1124.2 1196.6,1137.4 1196.8,1138.7 1196.9,1134.8 1197.1,1145.3 1197.3,1136.5 1197.5,1135.6 1197.6,1141.4 1197.8,1138.7 1198.0,1131.2 1198.2,1137.0 1198.3,1135.2 1198.5,1129.5 1198.7,1139.6 1198.9,1142.7 1199.0,1136.1 1199.2,1133.4 1199.4,1147.1 1199.6,1132.1 1199.7,1137.8 1199.9,1138.7 1200.1,1141.4 1200.3,1137.4 1200.4,1130.8 1200.6,1133.4 1200.8,1131.7 1201.0,1138.7 1201.1,1127.3 1201.3,1129.0 1201.5,1137.0 1201.7,1152.8 1201.8,1136.5 1202.0,1120.6 1202.2,1137.4 1202.4,1143.1 1202.5,1126.8 1202.7,1140.9 1202.9,1134.3 1203.1,1133.0 1203.2,1146.2 1203.4,1136.5 1203.6,1130.3 1203.8,1139.6 1203.9,1133.9 1204.1,1137.8 1204.3,1131.7 1204.5,1126.8 1204.6,1144.5 1204.8,1139.6 1205.0,1135.6 1205.2,1141.8 1205.3,1143.1 1205.5,1140.5 1205.7,1140.0 1205.9,1142.3 1206.0,1136.5 1206.2,1133.9 1206.4,1134.3 1206.6,1134.8 1206.7,1131.7 1206.9,1147.1 1207.1,1139.6 1207.3,1137.8 1207.4,1136.1 1207.6,1148.4 1207.8,1128.1 1208.0,1144.5 1208.1,1137.8 1208.3,1135.2 1208.5,1133.0 1208.7,1143.6 1208.8,1142.7 1209.0,1137.4 1209.2,1136.1 1209.4,1134.3 1209.6,1140.0 1209.7,1144.0 1209.9,1148.0 1210.1,1129.9 1210.3,1148.0 1210.4,1136.1 1210.6,1138.3 1210.8,1135.6 1211.0,1134.8 1211.1,1132.5 1211.3,1140.9 1211.5,1138.3 1211.7,1152.0 1211.8,1140.5 1212.0,1145.8 1212.2,1141.4 1212.4,1133.4 1212.5,1140.0 1212.7,1134.3 1212.9,1142.3 1213.1,1138.7 1213.2,1143.6 1213.4,1155.9 1213.6,1145.3 1213.8,1142.7 1213.9,1140.5 1214.1,1141.4 1214.3,1142.3 1214.5,1136.1 1214.6,1137.8 1214.8,1144.0 1215.0,1136.5 1215.2,1153.3 1215.3,1143.6 1215.5,1142.7 1215.7,1134.3 1215.9,1144.9 1216.0,1150.6 1216.2,1140.9 1216.4,1132.1 1216.6,1143.6 1216.7,1142.7 1216.9,1143.6 1217.1,1141.8 1217.3,1134.8 1217.4,1131.2 1217.6,1139.6 1217.8,1143.1 1218.0,1132.1 1218.1,1142.3 1218.3,1142.3 1218.5,1144.9 1218.7,1144.9 1218.8,1141.4 1219.0,1144.5 1219.2,1140.5 1219.4,1142.7 1219.5,1140.0 1219.7,1145.3 1219.9,1144.5 1220.1,1141.8 1220.2,1143.1 1220.4,1142.7 1220.6,1137.0 1220.8,1149.8 1220.9,1154.6 1221.1,1139.6 1221.3,1145.3 1221.5,1136.1 1221.6,1144.5 1221.8,1150.6 1222.0,1131.2 1222.2,1141.8 1222.3,1146.7 1222.5,1148.4 1222.7,1140.9 1222.9,1148.0 1223.0,1142.3 1223.2,1137.8 1223.4,1152.4 1223.6,1146.7 1223.7,1141.8 1223.9,1135.2 1224.1,1139.6 1224.3,1147.6 1224.4,1136.5 1224.6,1147.1 1224.8,1145.8 1225.0,1142.7 1225.1,1151.5 1225.3,1127.7 1225.5,1138.3 1225.7,1144.0 1225.8,1148.4 1226.0,1152.0 1226.2,1143.6 1226.4,1141.8 1226.5,1148.0 1226.7,1146.7 1226.9,1142.7 1227.1,1146.2 1227.2,1156.4 1227.4,1142.3 1227.6,1144.5 1227.8,1141.8 1227.9,1150.2 1228.1,1158.1 1228.3,1153.3 1228.5,1144.5 1228.6,1134.8 1228.8,1133.0 1229.0,1144.9 1229.2,1154.6 1229.3,1148.4 1229.5,1144.0 1229.7,1144.0 1229.9,1146.2 1230.0,1139.2 1230.2,1152.0 1230.4,1159.0 1230.6,1152.0 1230.7,1153.3 1230.9,1134.3 1231.1,1148.0 1231.3,1155.1 1231.4,1143.6 1231.6,1141.8 1231.8,1147.1 1232.0,1146.2 1232.1,1141.8 1232.3,1144.5 1232.5,1151.5 1232.7,1144.5 1232.8,1142.3 1233.0,1145.8 1233.2,1142.7 1233.4,1144.5 1233.5,1149.3 1233.7,1148.9 1233.9,1144.5 1234.1,1151.1 1234.2,1141.8 1234.4,1141.4 1234.6,1159.5 1234.8,1148.4 1234.9,1152.4 1235.1,1152.0 1235.3,1147.6 1235.5,1149.3 1235.6,1145.3 1235.8,1146.7 1236.0,1146.7 1236.2,1152.8 1236.3,1150.6 1236.5,1140.9 1236.7,1162.6 1236.9,1139.6 1237.0,1152.0 1237.2,1142.7 1237.4,1163.4 1237.6,1151.5 1237.7,1144.5 1237.9,1148.4 1238.1,1143.6 1238.3,1154.2 1238.4,1152.4 1238.6,1153.3 1238.8,1146.7 1239.0,1147.1 1239.1,1150.2 1239.3,1151.1 1239.5,1151.5 1239.7,1149.3 1239.8,1155.1 1240.0,1150.2 1240.2,1150.6 1240.4,1152.8 1240.5,1153.3 1240.7,1141.8 1240.9,1153.7 1241.1,1148.0 1241.2,1142.7 1241.4,1146.2 1241.6,1150.2 1241.8,1144.9 1241.9,1158.1 1242.1,1157.3 1242.3,1152.8 1242.5,1152.0 1242.6,1151.1 1242.8,1140.5 1243.0,1141.8 1243.2,1151.1 1243.3,1149.8 1243.5,1155.9 1243.7,1149.3 1243.9,1158.6 1244.0,1143.6 1244.2,1154.2 1244.4,1148.4 1244.6,1158.6 1244.7,1144.0 1244.9,1148.0 1245.1,1140.9 1245.3,1151.1 1245.4,1160.3 1245.6,1155.9 1245.8,1158.6 1246.0,1143.1 1246.1,1155.1 1246.3,1155.9 1246.5,1148.9 1246.7,1150.6 1246.8,1149.3 1247.0,1154.6 1247.2,1163.0 1247.4,1159.5 1247.5,1163.9 1247.7,1145.3 1247.9,1147.6 1248.1,1154.2 1248.2,1148.9 1248.4,1148.9 1248.6,1148.9 1248.8,1149.8 1248.9,1148.0 1249.1,1152.0 1249.3,1164.8 1249.5,1167.9 1249.6,1145.8 1249.8,1149.8 1250.0,1166.5 1250.2,1152.0 1250.3,1157.7 1250.5,1155.9 1250.7,1167.0 1250.9,1148.9 1251.0,1153.7 1251.2,1148.9 1251.4,1147.6 1251.6,1146.2 1251.7,1144.5 1251.9,1152.0 1252.1,1152.4 1252.3,1156.8 1252.4,1150.6 1252.6,1155.1 1252.8,1159.9 1253.0,1147.1 1253.2,1149.8 1253.3,1168.3 1253.5,1163.9 1253.7,1155.1 1253.9,1161.2 1254.0,1147.6 1254.2,1152.8 1254.4,1151.1 1254.6,1148.9 1254.7,1147.1 1254.9,1155.5 1255.1,1151.1 1255.3,1152.8 1255.4,1150.2 1255.6,1151.5 1255.8,1146.7 1256.0,1151.5 1256.1,1157.3 1256.3,1153.7 1256.5,1160.8 1256.7,1152.8 1256.8,1146.7 1257.0,1158.1 1257.2,1163.4 1257.4,1155.1 1257.5,1157.7 1257.7,1155.1 1257.9,1158.1 1258.1,1154.6 1258.2,1160.3 1258.4,1146.7 1258.6,1156.4 1258.8,1152.4 1258.9,1151.1 1259.1,1155.9 1259.3,1152.8 1259.5,1156.8 1259.6,1157.7 1259.8,1156.8 1260.0,1152.8 1260.2,1162.1 1260.3,1160.3 1260.5,1159.9 1260.7,1158.6 1260.9,1149.8 1261.0,1155.9 1261.2,1157.3 1261.4,1155.1 1261.6,1150.2 1261.7,1159.9 1261.9,1150.6 1262.1,1168.3 1262.3,1160.8 1262.4,1148.4 1262.6,1148.0 1262.8,1155.1 1263.0,1158.6 1263.1,1152.0 1263.3,1158.6 1263.5,1148.4 1263.7,1150.2 1263.8,1152.4 1264.0,1160.8 1264.2,1151.5 1264.4,1157.7 1264.5,1157.7 1264.7,1158.6 1264.9,1157.3 1265.1,1154.2 1265.2,1152.4 1265.4,1152.4 1265.6,1138.7 1265.8,1158.6 1265.9,1150.6 1266.1,1160.3 1266.3,1157.7 1266.5,1163.0 1266.6,1150.6 1266.8,1155.5 1267.0,1156.4 1267.2,1157.7 1267.3,1152.4 1267.5,1159.5 1267.7,1155.1 1267.9,1144.0 1268.0,1157.7 1268.2,1160.3 1268.4,1162.6 1268.6,1152.8 1268.7,1156.8 1268.9,1161.2 1269.1,1161.7 1269.3,1157.3 1269.4,1162.6 1269.6,1146.7 1269.8,1158.6 1270.0,1158.6 1270.1,1158.1 1270.3,1167.0 1270.5,1165.2 1270.7,1159.5 1270.8,1157.7 1271.0,1164.3 1271.2,1148.9 1271.4,1155.5 1271.5,1151.1 1271.7,1152.0 1271.9,1159.0 1272.1,1145.3 1272.2,1157.3 1272.4,1167.9 1272.6,1170.1 1272.8,1158.1 1272.9,1153.7 1273.1,1157.7 1273.3,1149.3 1273.5,1159.9 1273.6,1155.1 1273.8,1154.6 1274.0,1163.4 1274.2,1156.8 1274.3,1156.4 1274.5,1152.8 1274.7,1152.0 1274.9,1153.3 1275.0,1162.6 1275.2,1154.6 1275.4,1152.8 1275.6,1158.1 1275.7,1154.6 1275.9,1154.6 1276.1,1152.4 1276.3,1158.1 1276.4,1156.4 1276.6,1157.7 1276.8,1158.6 1277.0,1162.1 1277.1,1160.3 1277.3,1164.8 1277.5,1159.9 1277.7,1155.5 1277.8,1155.9 1278.0,1155.1 1278.2,1159.5 1278.4,1152.0 1278.5,1161.2 1278.7,1155.1 1278.9,1156.8 1279.1,1163.0 1279.2,1162.6 1279.4,1155.5 1279.6,1159.0 1279.8,1157.7 1279.9,1143.6 1280.1,1156.4 1280.3,1158.6 1280.5,1155.5 1280.6,1162.1 1280.8,1160.3 1281.0,1156.8 1281.2,1163.4 1281.3,1159.5 1281.5,1160.3 1281.7,1158.6 1281.9,1168.3 1282.0,1150.2 1282.2,1159.9 1282.4,1156.4 1282.6,1164.8 1282.7,1166.1 1282.9,1159.0 1283.1,1160.8 1283.3,1155.9 1283.4,1163.9 1283.6,1164.3 1283.8,1157.7 1284.0,1155.9 1284.1,1154.6 1284.3,1159.5 1284.5,1158.1 1284.7,1163.4 1284.8,1152.4 1285.0,1153.3 1285.2,1153.7 1285.4,1167.4 1285.5,1154.6 1285.7,1163.0 1285.9,1156.8 1286.1,1157.3 1286.2,1152.8 1286.4,1160.3 1286.6,1160.8 1286.8,1164.3 1286.9,1165.2 1287.1,1156.4 1287.3,1163.9 1287.5,1155.9 1287.6,1161.2 1287.8,1162.1 1288.0,1154.2 1288.2,1154.6 1288.3,1164.3 1288.5,1159.9 1288.7,1159.0 1288.9,1155.5 1289.0,1162.6 1289.2,1161.2 1289.4,1159.5 1289.6,1155.5 1289.7,1154.2 1289.9,1161.7 1290.1,1149.8 1290.3,1156.4 1290.4,1162.6 1290.6,1166.5 1290.8,1161.2 1291.0,1170.5 1291.1,1157.3 1291.3,1155.5 1291.5,1151.5 1291.7,1155.5 1291.8,1167.0 1292.0,1159.5 1292.2,1154.2 1292.4,1169.2 1292.5,1162.1 1292.7,1154.2 1292.9,1157.3 1293.1,1167.9 1293.2,1159.9 1293.4,1156.8 1293.6,1146.2 1293.8,1159.0 1293.9,1161.2 1294.1,1155.5 1294.3,1154.6 1294.5,1153.3 1294.6,1148.4 1294.8,1156.4 1295.0,1163.0 1295.2,1155.1 1295.3,1155.1 1295.5,1149.8 1295.7,1150.2 1295.9,1158.6 1296.0,1150.2 1296.2,1148.4 1296.4,1154.6 1296.6,1148.4 1296.8,1152.0 1296.9,1151.5 1297.1,1152.8 1297.3,1147.6 1297.5,1135.6 1297.6,1149.8 1297.8,1156.8 1298.0,1151.1 1298.2,1152.4 1298.3,1147.1 1298.5,1148.9 1298.7,1133.4 1298.9,1142.7 1299.0,1135.6 1299.2,1149.3 1299.4,1145.3 1299.6,1131.7 1299.7,1152.0 1299.9,1140.5 1300.1,1148.9 1300.3,1129.5 1300.4,1145.3 1300.6,1137.0 1300.8,1134.3 1301.0,1141.8 1301.1,1113.6 1301.3,1127.3 1301.5,1112.2 1301.7,1124.2 1301.8,1125.5 1302.0,1109.6 1302.2,1104.3 1302.4,1078.7 1302.5,1100.8 1302.7,1097.2 1302.9,1082.2 1303.1,1064.1 1303.2,1050.9 1303.4,1050.0 1303.6,1032.8 1303.8,1009.9 1303.9,988.2 1304.1,987.8 1304.3,962.2 1304.5,975.0 1304.6,936.2 1304.8,900.9 1305.0,887.2 1305.2,872.2 1305.3,835.1 1305.5,847.9 1305.7,851.0 1305.9,824.5 1306.0,834.2 1306.2,858.9 1306.4,843.1 1306.6,849.2 1306.7,894.2 1306.9,916.3 1307.1,926.0 1307.3,930.9 1307.4,969.7 1307.6,989.6 1307.8,1005.0 1308.0,1013.0 1308.1,1028.4 1308.3,1045.2 1308.5,1045.6 1308.7,1048.7 1308.8,1081.4 1309.0,1077.8 1309.2,1091.5 1309.4,1078.7 1309.5,1112.7 1309.7,1114.0 1309.9,1115.3 1310.1,1129.5 1310.2,1125.0 1310.4,1122.4 1310.6,1138.7 1310.8,1131.2 1310.9,1123.3 1311.1,1139.6 1311.3,1143.1 1311.5,1154.2 1311.6,1141.4 1311.8,1151.5 1312.0,1140.0 1312.2,1134.8 1312.3,1141.8 1312.5,1150.6 1312.7,1143.1 1312.9,1150.2 1313.0,1154.6 1313.2,1152.0 1313.4,1148.4 1313.6,1152.4 1313.7,1148.0 1313.9,1139.6 1314.1,1148.4 1314.3,1148.4 1314.4,1156.4 1314.6,1146.2 1314.8,1152.0 1315.0,1148.9 1315.1,1158.6 1315.3,1153.7 1315.5,1167.4 1315.7,1157.3 1315.8,1159.9 1316.0,1161.2 1316.2,1147.1 1316.4,1164.3 1316.5,1157.3 1316.7,1157.7 1316.9,1154.2 1317.1,1152.0 1317.2,1165.6 1317.4,1160.3 1317.6,1161.7 1317.8,1154.6 1317.9,1153.3 1318.1,1160.3 1318.3,1161.2 1318.5,1163.9 1318.6,1156.8 1318.8,1150.2 1319.0,1156.8 1319.2,1162.6 1319.3,1163.4 1319.5,1163.0 1319.7,1167.9 1319.9,1150.6 1320.0,1159.0 1320.2,1161.2 1320.4,1148.4 1320.6,1158.6 1320.7,1152.4 1320.9,1158.6 1321.1,1154.2 1321.3,1159.5 1321.4,1162.1 1321.6,1158.1 1321.8,1156.4 1322.0,1154.6 1322.1,1159.0 1322.3,1161.7 1322.5,1162.1 1322.7,1158.6 1322.8,1163.0 1323.0,1162.1 1323.2,1157.7 1323.4,1157.3 1323.5,1157.7 1323.7,1164.3 1323.9,1167.9 1324.1,1159.0 1324.2,1159.9 1324.4,1162.1 1324.6,1159.5 1324.8,1155.9 1324.9,1161.2 1325.1,1158.1 1325.3,1165.2 1325.5,1161.2 1325.6,1164.3 1325.8,1167.4 1326.0,1157.7 1326.2,1174.5 1326.3,1160.3 1326.5,1155.9 1326.7,1157.7 1326.9,1167.9 1327.0,1158.6 1327.2,1169.2 1327.4,1164.3 1327.6,1152.4 1327.7,1158.6 1327.9,1153.3 1328.1,1164.8 1328.3,1170.1 1328.4,1163.0 1328.6,1152.4 1328.8,1154.2 1329.0,1153.3 1329.1,1159.5 1329.3,1159.0 1329.5,1159.5 1329.7,1143.1 1329.8,1157.7 1330.0,1148.9 1330.2,1158.6 1330.4,1150.2 1330.5,1163.0 1330.7,1159.9 1330.9,1155.1 1331.1,1159.9 1331.2,1158.6 1331.4,1157.3 1331.6,1158.6 1331.8,1147.6 1331.9,1149.3 1332.1,1162.6 1332.3,1145.8 1332.5,1154.6 1332.6,1154.2 1332.8,1154.6 1333.0,1148.4 1333.2,1148.9 1333.3,1155.1 1333.5,1151.5 1333.7,1158.6 1333.9,1140.5 1334.0,1154.6 1334.2,1154.2 1334.4,1152.8 1334.6,1147.6 1334.7,1143.1 1334.9,1148.9 1335.1,1145.8 1335.3,1147.1 1335.4,1137.0 1335.6,1141.8 1335.8,1152.0 1336.0,1132.5 1336.1,1138.3 1336.3,1127.7 1336.5,1141.4 1336.7,1139.6 1336.8,1136.5 1337.0,1142.7 1337.2,1135.2 1337.4,1123.7 1337.5,1125.5 1337.7,1143.6 1337.9,1118.4 1338.1,1122.8 1338.2,1118.0 1338.4,1121.1 1338.6,1118.4 1338.8,1117.5 1338.9,1115.8 1339.1,1121.1 1339.3,1104.7 1339.5,1108.3 1339.6,1105.2 1339.8,1103.4 1340.0,1105.6 1340.2,1101.7 1340.4,1109.2 1340.5,1095.0 1340.7,1092.8 1340.9,1094.6 1341.1,1103.4 1341.2,1078.3 1341.4,1087.5 1341.6,1084.0 1341.8,1084.0 1341.9,1084.0 1342.1,1080.0 1342.3,1083.6 1342.5,1076.9 1342.6,1060.6 1342.8,1062.8 1343.0,1062.8 1343.2,1072.5 1343.3,1083.6 1343.5,1080.0 1343.7,1091.9 1343.9,1063.7 1344.0,1065.0 1344.2,1076.1 1344.4,1076.1 1344.6,1078.7 1344.7,1084.4 1344.9,1080.5 1345.1,1095.9 1345.3,1093.7 1345.4,1093.7 1345.6,1107.4 1345.8,1104.3 1346.0,1095.9 1346.1,1099.0 1346.3,1121.1 1346.5,1099.4 1346.7,1105.2 1346.8,1104.7 1347.0,1112.2 1347.2,1110.0 1347.4,1124.6 1347.5,1119.3 1347.7,1126.8 1347.9,1125.0 1348.1,1115.8 1348.2,1114.5 1348.4,1126.4 1348.6,1131.2 1348.8,1125.0 1348.9,1128.6 1349.1,1121.1 1349.3,1130.3 1349.5,1149.8 1349.6,1136.5 1349.8,1140.0 1350.0,1144.0 1350.2,1139.6 1350.3,1140.9 1350.5,1144.5 1350.7,1134.8 1350.9,1141.8 1351.0,1142.7 1351.2,1144.9 1351.4,1139.6 1351.6,1153.7 1351.7,1141.4 1351.9,1150.2 1352.1,1141.4 1352.3,1142.3 1352.4,1148.0 1352.6,1153.7 1352.8,1150.2 1353.0,1150.2 1353.1,1160.3 1353.3,1154.6 1353.5,1157.3 1353.7,1146.7 1353.8,1145.3 1354.0,1158.6 1354.2,1157.7 1354.4,1162.1 1354.5,1154.2 1354.7,1151.5 1354.9,1146.7 1355.1,1163.0 1355.2,1151.5 1355.4,1157.7 1355.6,1160.8 1355.8,1159.0 1355.9,1161.2 1356.1,1155.1 1356.3,1157.7 1356.5,1151.5 1356.6,1160.8 1356.8,1167.9 1357.0,1163.4 1357.2,1156.8 1357.3,1166.1 1357.5,1162.6 1357.7,1155.9 1357.9,1165.6 1358.0,1154.6 1358.2,1157.3 1358.4,1162.1 1358.6,1159.5 1358.7,1161.7 1358.9,1161.2 1359.1,1161.2 1359.3,1159.5 1359.4,1159.9 1359.6,1163.4 1359.8,1164.8 1360.0,1149.3 1360.1,1165.2 1360.3,1160.3 1360.5,1153.7 1360.7,1154.6 1360.8,1163.4 1361.0,1149.8 1361.2,1150.6 1361.4,1161.2 1361.5,1166.1 1361.7,1156.8 1361.9,1160.8 1362.1,1161.2 1362.2,1163.9 1362.4,1163.0 1362.6,1159.0 1362.8,1155.1 1362.9,1170.1 1363.1,1171.8 1363.3,1154.6 1363.5,1163.9 1363.6,1155.9 1363.8,1159.0 1364.0,1153.3 1364.2,1155.1 1364.3,1160.8 1364.5,1160.3 1364.7,1157.7 1364.9,1155.5 1365.0,1162.6 1365.2,1167.0 1365.4,1158.6 1365.6,1159.5 1365.7,1159.9 1365.9,1163.9 1366.1,1155.9 1366.3,1167.9 1366.4,1161.2 1366.6,1152.0 1366.8,1164.3 1367.0,1156.4 1367.1,1155.9 1367.3,1155.9 1367.5,1167.0 1367.7,1152.8 1367.8,1157.3 1368.0,1155.1 1368.2,1155.9 1368.4,1157.3 1368.5,1151.1 1368.7,1149.8 1368.9,1167.0 1369.1,1161.2 1369.2,1157.7 1369.4,1167.9 1369.6,1148.9 1369.8,1160.3 1369.9,1153.3 1370.1,1154.6 1370.3,1156.8 1370.5,1160.8 1370.6,1157.3 1370.8,1154.6 1371.0,1150.6 1371.2,1155.5 1371.3,1156.4 1371.5,1155.1 1371.7,1146.2 1371.9,1151.5 1372.0,1156.4 1372.2,1159.0 1372.4,1153.7 1372.6,1156.4 1372.7,1152.8 1372.9,1142.7 1373.1,1145.8 1373.3,1147.6 1373.4,1145.8 1373.6,1137.8 1373.8,1152.8 1374.0,1143.1 1374.1,1145.8 1374.3,1143.1 1374.5,1142.3 1374.7,1143.6 1374.8,1137.4 1375.0,1152.0 1375.2,1136.1 1375.4,1132.5 1375.5,1140.9 1375.7,1139.6 1375.9,1120.2 1376.1,1136.1 1376.2,1131.2 1376.4,1131.7 1376.6,1129.0 1376.8,1127.7 1376.9,1135.2 1377.1,1103.9 1377.3,1122.4 1377.5,1113.1 1377.6,1114.5 1377.8,1103.0 1378.0,1106.1 1378.2,1101.2 1378.3,1099.9 1378.5,1100.8 1378.7,1105.6 1378.9,1098.6 1379.0,1115.8 1379.2,1098.1 1379.4,1099.4 1379.6,1102.5 1379.7,1114.5 1379.9,1091.5 1380.1,1111.4 1380.3,1103.4 1380.4,1122.0 1380.6,1111.8 1380.8,1116.2 1381.0,1118.9 1381.1,1119.3 1381.3,1104.7 1381.5,1118.4 1381.7,1117.5 1381.8,1107.4 1382.0,1132.1 1382.2,1114.5 1382.4,1128.1 1382.5,1130.8 1382.7,1130.8 1382.9,1140.5 1383.1,1140.0 1383.2,1138.3 1383.4,1135.6 1383.6,1128.6 1383.8,1127.3 1383.9,1136.5 1384.1,1132.5 1384.3,1132.5 1384.5,1137.0 1384.7,1134.8 1384.8,1139.6 1385.0,1133.0 1385.2,1137.4 1385.4,1136.1 1385.5,1134.3 1385.7,1134.8 1385.9,1139.6 1386.1,1143.1 1386.2,1135.2 1386.4,1137.4 1386.6,1137.0 1386.8,1133.4 1386.9,1136.5 1387.1,1128.6 1387.3,1128.1 1387.5,1135.2 1387.6,1126.4 1387.8,1133.9 1388.0,1122.0 1388.2,1122.0 1388.3,1124.6 1388.5,1118.0 1388.7,1115.8 1388.9,1118.4 1389.0,1132.1 1389.2,1118.4 1389.4,1116.7 1389.6,1111.8 1389.7,1122.8 1389.9,1110.5 1390.1,1112.2 1390.3,1110.9 1390.4,1122.0 1390.6,1118.9 1390.8,1103.9 1391.0,1107.0 1391.1,1113.1 1391.3,1105.2 1391.5,1111.4 1391.7,1116.2 1391.8,1125.0 1392.0,1108.3 1392.2,1116.7 1392.4,1115.3 1392.5,1129.9 1392.7,1122.8 1392.9,1118.4 1393.1,1123.3 1393.2,1127.7 1393.4,1131.7 1393.6,1124.6 1393.8,1129.5 1393.9,1130.8 1394.1,1131.7 1394.3,1135.2 1394.5,1134.8 1394.6,1137.8 1394.8,1135.2 1395.0,1144.5 1395.2,1144.0 1395.3,1138.7 1395.5,1140.9 1395.7,1140.0 1395.9,1130.3 1396.0,1138.7 1396.2,1137.4 1396.4,1142.3 1396.6,1146.2 1396.7,1151.1 1396.9,1157.7 1397.1,1155.9 1397.3,1161.7 1397.4,1155.5 1397.6,1158.6 1397.8,1155.9 1398.0,1151.5 1398.1,1154.2 1398.3,1147.6 1398.5,1148.0 1398.7,1148.0 1398.8,1149.3 1399.0,1152.8 1399.2,1157.3 1399.4,1152.8 1399.5,1156.8 1399.7,1156.8 1399.9,1154.2 1400.1,1162.1 1400.2,1165.2 1400.4,1155.5 1400.6,1148.4 1400.8,1152.0 1400.9,1138.7 1401.1,1165.2 1401.3,1161.7 1401.5,1170.5 1401.6,1163.4 1401.8,1149.8 1402.0,1151.1 1402.2,1164.8 1402.3,1161.2 1402.5,1164.3 1402.7,1167.0 1402.9,1161.7 1403.0,1162.1 1403.2,1160.3 1403.4,1159.5 1403.6,1157.7 1403.7,1154.6 1403.9,1161.7 1404.1,1162.6 1404.3,1161.7 1404.4,1159.9 1404.6,1163.0 1404.8,1167.0 1405.0,1165.2 1405.1,1159.0 1405.3,1167.9 1405.5,1159.0 1405.7,1170.1 1405.8,1160.3 1406.0,1160.3 1406.2,1164.8 1406.4,1163.9 1406.5,1164.8 1406.7,1155.9 1406.9,1166.1 1407.1,1167.9 1407.2,1162.6 1407.4,1159.0 1407.6,1163.0 1407.8,1165.6 1407.9,1159.9 1408.1,1168.7 1408.3,1168.7 1408.5,1171.4 1408.6,1159.5 1408.8,1176.2 1409.0,1171.8 1409.2,1164.8 1409.3,1163.9 1409.5,1157.7 1409.7,1164.3 1409.9,1168.7 1410.0,1159.9 1410.2,1161.7 1410.4,1161.2 1410.6,1161.7 1410.7,1164.3 1410.9,1174.0 1411.1,1172.3 1411.3,1158.1 1411.4,1167.0 1411.6,1176.2 1411.8,1167.4 1412.0,1163.0 1412.1,1166.1 1412.3,1167.9 1412.5,1178.9 1412.7,1167.9 1412.8,1168.7 1413.0,1160.8 1413.2,1168.3 1413.4,1168.7 1413.5,1170.9 1413.7,1169.2 1413.9,1167.9 1414.1,1171.4 1414.2,1173.1 1414.4,1174.9 1414.6,1168.7 1414.8,1170.9 1414.9,1170.9 1415.1,1176.7 1415.3,1173.6 1415.5,1178.4 1415.6,1165.6 1415.8,1164.8 1416.0,1168.3 1416.2,1170.5 1416.3,1168.3 1416.5,1177.1 1416.7,1176.7 1416.9,1165.2 1417.0,1175.4 1417.2,1170.9 1417.4,1174.0 1417.6,1182.0 1417.7,1174.0 1417.9,1167.4 1418.1,1165.2 1418.3,1182.9 1418.4,1178.4 1418.6,1174.0 1418.8,1167.0 1419.0,1166.1 1419.1,1164.3 1419.3,1164.3 1419.5,1173.6 1419.7,1176.2 1419.8,1167.9 1420.0,1173.1 1420.2,1171.8 1420.4,1173.6 1420.5,1174.0 1420.7,1168.3 1420.9,1177.1 1421.1,1180.2 1421.2,1175.8 1421.4,1172.3 1421.6,1174.0 1421.8,1173.6 1421.9,1181.5 1422.1,1176.7 1422.3,1168.3 1422.5,1174.0 1422.6,1176.2 1422.8,1168.3 1423.0,1175.8 1423.2,1170.1 1423.3,1172.7 1423.5,1171.8 1423.7,1169.2 1423.9,1163.9 1424.0,1167.9 1424.2,1177.6 1424.4,1178.9 1424.6,1175.4 1424.7,1174.9 1424.9,1170.9 1425.1,1174.0 1425.3,1173.1 1425.4,1181.5 1425.6,1174.5 1425.8,1171.8 1426.0,1167.0 1426.1,1170.9 1426.3,1174.0 1426.5,1179.8 1426.7,1174.5 1426.8,1174.5 1427.0,1175.4 1427.2,1174.0 1427.4,1172.7 1427.5,1172.7 1427.7,1165.2 1427.9,1179.3 1428.1,1181.5 1428.3,1173.1 1428.4,1180.2 1428.6,1175.8 1428.8,1175.4 1429.0,1178.4 1429.1,1171.8 1429.3,1172.3 1429.5,1174.5 1429.7,1172.7 1429.8,1171.4 1430.0,1176.7 1430.2,1172.7 1430.4,1174.9 1430.5,1175.4 1430.7,1177.6 1430.9,1167.9 1431.1,1174.0 1431.2,1181.5 1431.4,1173.1 1431.6,1186.4 1431.8,1174.5 1431.9,1172.3 1432.1,1169.2 1432.3,1174.5 1432.5,1178.4 1432.6,1167.0 1432.8,1170.9 1433.0,1170.1 1433.2,1176.7 1433.3,1172.7 1433.5,1183.3 1433.7,1173.6 1433.9,1184.6 1434.0,1179.8 1434.2,1182.0 1434.4,1170.5 1434.6,1171.4 1434.7,1178.0 1434.9,1170.1 1435.1,1174.9 1435.3,1183.7 1435.4,1177.1 1435.6,1182.9 1435.8,1174.9 1436.0,1173.6 1436.1,1178.4 1436.3,1171.4 1436.5,1170.1 1436.7,1178.9 1436.8,1172.3 1437.0,1174.9 1437.2,1175.8 1437.4,1167.0 1437.5,1177.6 1437.7,1175.8 1437.9,1174.5 1438.1,1171.4 1438.2,1170.5 1438.4,1178.0 1438.6,1167.4 1438.8,1165.2 1438.9,1164.3 1439.1,1172.3 1439.3,1175.4 1439.5,1177.6 1439.6,1170.9 1439.8,1172.3 1440.0,1172.3 1440.2,1174.5 1440.3,1181.5 1440.5,1172.3 1440.7,1171.4 1440.9,1171.8 1441.0,1176.2 1441.2,1170.5 1441.4,1169.2 1441.6,1173.6 1441.7,1164.3 1441.9,1167.0 1442.1,1165.2 1442.3,1163.4 1442.4,1165.6 1442.6,1163.9 1442.8,1159.9 1443.0,1157.7 1443.1,1155.5 1443.3,1159.9 1443.5,1153.7 1443.7,1150.2 1443.8,1162.1 1444.0,1155.1 1444.2,1151.1 1444.4,1149.3 1444.5,1137.0 1444.7,1138.3 1444.9,1143.6 1445.1,1140.9 1445.2,1146.2 1445.4,1141.4 1445.6,1124.6 1445.8,1140.9 1445.9,1123.7 1446.1,1129.5 1446.3,1123.7 1446.5,1119.7 1446.6,1103.9 1446.8,1111.4 1447.0,1107.4 1447.2,1101.2 1447.3,1121.5 1447.5,1087.5 1447.7,1114.0 1447.9,1106.1 1448.0,1095.5 1448.2,1110.0 1448.4,1114.9 1448.6,1095.5 1448.7,1108.3 1448.9,1101.7 1449.1,1107.8 1449.3,1114.9 1449.4,1105.2 1449.6,1121.1 1449.8,1109.2 1450.0,1130.8 1450.1,1134.3 1450.3,1135.2 1450.5,1132.1 1450.7,1143.1 1450.8,1142.7 1451.0,1133.0 1451.2,1142.7 1451.4,1139.2 1451.5,1145.8 1451.7,1153.3 1451.9,1156.4 1452.1,1152.8 1452.2,1155.1 1452.4,1159.9 1452.6,1161.7 1452.8,1152.8 1452.9,1156.4 1453.1,1161.2 1453.3,1165.6 1453.5,1167.0 1453.6,1156.4 1453.8,1169.6 1454.0,1156.8 1454.2,1171.4 1454.3,1176.2 1454.5,1160.3 1454.7,1170.9 1454.9,1164.3 1455.0,1169.6 1455.2,1173.1 1455.4,1168.3 1455.6,1174.5 1455.7,1171.4 1455.9,1174.5 1456.1,1182.0 1456.3,1172.7 1456.4,1177.1 1456.6,1175.8 1456.8,1173.6 1457.0,1182.0 1457.1,1173.6 1457.3,1173.6 1457.5,1168.3 1457.7,1173.1 1457.8,1175.4 1458.0,1179.8 1458.2,1177.6 1458.4,1183.3 1458.5,1175.8 1458.7,1178.4 1458.9,1179.3 1459.1,1178.0 1459.2,1176.2 1459.4,1177.1 1459.6,1183.3 1459.8,1173.1 1459.9,1178.9 1460.1,1177.6 1460.3,1178.9 1460.5,1183.3 1460.6,1178.0 1460.8,1181.1 1461.0,1182.9 1461.2,1179.3 1461.3,1176.7 1461.5,1177.1 1461.7,1179.3 1461.9,1182.4 1462.0,1181.5 1462.2,1180.6 1462.4,1185.9 1462.6,1177.1 1462.7,1180.2 1462.9,1185.5 1463.1,1174.5 1463.3,1172.7 1463.4,1185.9 1463.6,1181.5 1463.8,1184.2 1464.0,1178.0 1464.1,1186.4 1464.3,1178.9 1464.5,1179.8 1464.7,1176.7 1464.8,1189.0 1465.0,1184.2 1465.2,1182.0 1465.4,1177.6 1465.5,1181.1 1465.7,1178.4 1465.9,1179.8 1466.1,1185.1 1466.2,1182.0 1466.4,1183.3 1466.6,1182.9 1466.8,1185.5 1466.9,1178.9 1467.1,1180.6 1467.3,1189.5 1467.5,1178.9 1467.6,1184.2 1467.8,1188.2 1468.0,1177.1 1468.2,1182.4 1468.3,1180.6 1468.5,1182.9 1468.7,1182.4 1468.9,1189.5 1469.0,1179.3 1469.2,1185.5 1469.4,1182.4 1469.6,1182.9 1469.7,1186.4 1469.9,1187.7 1470.1,1183.3 1470.3,1177.6 1470.4,1185.1 1470.6,1185.1 1470.8,1182.4 1471.0,1185.1 1471.1,1177.6 1471.3,1181.1 1471.5,1173.1 1471.7,1182.0 1471.9,1174.0 1472.0,1185.1 1472.2,1182.0 1472.4,1187.3 1472.6,1184.6 1472.7,1184.2 1472.9,1180.6 1473.1,1177.6 1473.3,1184.2 1473.4,1188.6 1473.6,1183.3 1473.8,1183.7 1474.0,1185.1 1474.1,1179.8 1474.3,1178.9 1474.5,1185.9 1474.7,1185.9 1474.8,1193.4 1475.0,1185.5 1475.2,1179.8 1475.4,1186.8 1475.5,1179.8 1475.7,1180.6 1475.9,1181.1 1476.1,1180.6 1476.2,1183.7 1476.4,1179.3 1476.6,1179.3 1476.8,1182.0 1476.9,1183.7 1477.1,1178.4 1477.3,1177.6 1477.5,1185.9 1477.6,1180.2 1477.8,1183.3 1478.0,1174.5 1478.2,1184.6 1478.3,1185.9 1478.5,1187.3 1478.7,1180.2 1478.9,1187.7 1479.0,1181.1 1479.2,1185.5 1479.4,1178.4 1479.6,1177.6 1479.7,1179.3 1479.9,1191.2 1480.1,1189.5 1480.3,1194.3 1480.4,1173.6 1480.6,1185.9 1480.8,1185.5 1481.0,1183.7 1481.1,1181.5 1481.3,1185.1 1481.5,1183.7 1481.7,1183.7 1481.8,1189.0 1482.0,1177.1 1482.2,1177.1 1482.4,1183.7 1482.5,1184.6 1482.7,1176.7 1482.9,1174.5 1483.1,1183.7 1483.2,1181.5 1483.4,1185.5 1483.6,1182.9 1483.8,1193.9 1483.9,1193.0 1484.1,1182.4 1484.3,1185.1 1484.5,1182.4 1484.6,1183.7 1484.8,1182.0 1485.0,1183.3 1485.2,1185.1 1485.3,1182.4 1485.5,1186.8 1485.7,1178.9 1485.9,1188.2 1486.0,1185.9 1486.2,1180.6 1486.4,1185.5 1486.6,1180.6 1486.7,1178.9 1486.9,1181.1 1487.1,1185.9 1487.3,1177.1 1487.4,1182.4 1487.6,1188.2 1487.8,1176.7 1488.0,1183.7 1488.1,1182.0 1488.3,1181.1 1488.5,1186.4 1488.7,1181.1 1488.8,1189.0 1489.0,1188.2 1489.2,1185.9 1489.4,1176.2 1489.5,1182.0 1489.7,1180.2 1489.9,1186.4 1490.1,1182.4 1490.2,1192.6 1490.4,1185.5 1490.6,1182.9 1490.8,1186.8 1490.9,1192.1 1491.1,1190.8 1491.3,1182.0 1491.5,1179.3 1491.6,1185.9 1491.8,1178.4 1492.0,1189.9 1492.2,1182.4 1492.3,1183.7 1492.5,1180.6 1492.7,1190.4 1492.9,1181.1 1493.0,1184.2 1493.2,1188.2 1493.4,1186.8 1493.6,1185.9 1493.7,1183.7 1493.9,1188.2 1494.1,1188.2 1494.3,1184.6 1494.4,1185.1 1494.6,1183.3 1494.8,1181.5 1495.0,1192.1 1495.1,1185.5 1495.3,1184.2 1495.5,1185.1 1495.7,1189.5 1495.8,1182.4 1496.0,1178.9 1496.2,1185.9 1496.4,1188.2 1496.5,1182.4 1496.7,1185.1 1496.9,1185.1 1497.1,1184.6 1497.2,1187.3 1497.4,1185.5 1497.6,1188.2 1497.8,1193.0 1497.9,1181.5 1498.1,1184.2 1498.3,1185.9 1498.5,1180.2 1498.6,1185.9 1498.8,1181.1 1499.0,1182.4 1499.2,1186.8 1499.3,1190.4 1499.5,1183.7 1499.7,1184.6 1499.9,1182.0 1500.0,1191.7 1500.2,1185.9 1500.4,1184.6 1500.6,1184.2 1500.7,1185.1 1500.9,1184.6 1501.1,1194.8 1501.3,1186.8 1501.4,1188.2 1501.6,1191.7 1501.8,1185.5 1502.0,1187.3 1502.1,1190.4 1502.3,1191.2 1502.5,1184.6 1502.7,1195.7 1502.8,1186.4 1503.0,1190.4 1503.2,1185.5 1503.4,1178.4 1503.5,1182.0 1503.7,1185.9 1503.9,1180.2 1504.1,1178.9 1504.2,1182.0 1504.4,1178.9 1504.6,1185.1 1504.8,1183.7 1504.9,1186.4 1505.1,1187.3 1505.3,1185.9 1505.5,1189.0 1505.6,1186.4 1505.8,1177.6 1506.0,1183.3 1506.2,1186.8 1506.3,1179.3 1506.5,1180.6 1506.7,1189.9 1506.9,1188.6 1507.0,1179.3 1507.2,1185.5 1507.4,1185.5 1507.6,1188.2 1507.7,1190.4 1507.9,1181.5 1508.1,1189.0 1508.3,1184.2 1508.4,1178.9 1508.6,1184.2 1508.8,1186.8 1509.0,1183.7 1509.1,1184.2 1509.3,1187.7 1509.5,1185.1 1509.7,1190.8 1509.8,1193.0 1510.0,1188.2 1510.2,1193.0 1510.4,1188.6 1510.5,1186.8 1510.7,1185.5 1510.9,1179.3 1511.1,1189.9 1511.2,1188.2 1511.4,1188.2 1511.6,1190.4 1511.8,1178.4 1511.9,1189.5 1512.1,1187.3 1512.3,1186.8 1512.5,1177.1 1512.6,1187.7 1512.8,1189.5 1513.0,1181.5 1513.2,1189.0 1513.3,1194.3 1513.5,1182.0 1513.7,1182.9 1513.9,1191.7 1514.0,1191.2 1514.2,1186.4 1514.4,1190.4 1514.6,1192.1 1514.7,1191.2 1514.9,1179.8 1515.1,1182.4 1515.3,1190.8 1515.5,1187.3 1515.6,1185.9 1515.8,1187.7 1516.0,1186.8 1516.2,1179.8 1516.3,1189.0 1516.5,1189.5 1516.7,1186.8 1516.9,1189.0 1517.0,1188.2 1517.2,1188.2 1517.4,1190.4 1517.6,1182.0 1517.7,1189.0 1517.9,1181.5 1518.1,1189.9 1518.3,1189.9 1518.4,1185.5 1518.6,1187.7 1518.8,1183.3 1519.0,1183.7 1519.1,1177.6 1519.3,1197.9 1519.5,1190.4 1519.7,1186.8 1519.8,1187.3 1520.0,1186.8 1520.2,1176.2 1520.4,1195.2 1520.5,1183.7 1520.7,1187.3 1520.9,1186.4 1521.1,1182.0 1521.2,1186.4 1521.4,1183.3 1521.6,1181.1 1521.8,1181.5 1521.9,1193.4 1522.1,1188.6 1522.3,1191.2 1522.5,1189.0 1522.6,1186.8 1522.8,1178.0 1523.0,1188.6 1523.2,1187.3 1523.3,1186.4 1523.5,1179.8 1523.7,1188.2 1523.9,1184.2 1524.0,1182.4 1524.2,1183.3 1524.4,1193.4 1524.6,1190.8 1524.7,1182.9 1524.9,1192.6 1525.1,1186.4 1525.3,1191.2 1525.4,1183.7 1525.6,1185.5 1525.8,1191.2 1526.0,1185.9 1526.1,1189.0 1526.3,1186.8 1526.5,1179.8 1526.7,1183.3 1526.8,1182.9 1527.0,1178.0 1527.2,1183.7 1527.4,1178.9 1527.5,1182.4 1527.7,1182.4 1527.9,1185.1 1528.1,1186.8 1528.2,1187.7 1528.4,1186.8 1528.6,1180.6 1528.8,1181.1 1528.9,1185.9 1529.1,1177.6 1529.3,1185.1 1529.5,1183.7 1529.6,1187.7 1529.8,1185.5 1530.0,1178.4 1530.2,1180.2 1530.3,1184.2 1530.5,1176.7 1530.7,1182.0 1530.9,1181.1 1531.0,1177.1 1531.2,1179.3 1531.4,1182.9 1531.6,1185.9 1531.7,1175.8 1531.9,1191.2 1532.1,1183.7 1532.3,1188.6 1532.4,1183.7 1532.6,1178.0 1532.8,1182.9 1533.0,1183.3 1533.1,1181.5 1533.3,1173.6 1533.5,1175.8 1533.7,1180.6 1533.8,1184.2 1534.0,1183.3 1534.2,1180.6 1534.4,1182.9 1534.5,1182.4 1534.7,1186.4 1534.9,1187.7 1535.1,1186.4 1535.2,1181.1 1535.4,1185.9 1535.6,1171.8 1535.8,1179.8 1535.9,1179.3 1536.1,1178.0 1536.3,1186.4 1536.5,1186.8 1536.6,1183.3 1536.8,1179.8 1537.0,1179.8 1537.2,1175.4 1537.3,1176.2 1537.5,1177.6 1537.7,1177.1 1537.9,1180.6 1538.0,1178.4 1538.2,1182.9 1538.4,1183.3 1538.6,1177.6 1538.7,1188.2 1538.9,1175.8 1539.1,1173.6 1539.3,1183.3 1539.4,1178.0 1539.6,1180.2 1539.8,1184.6 1540.0,1179.3 1540.1,1178.4 1540.3,1176.2 1540.5,1181.5 1540.7,1179.8 1540.8,1182.4 1541.0,1175.8 1541.2,1180.2 1541.4,1175.8 1541.5,1182.4 1541.7,1178.9 1541.9,1182.9 1542.1,1182.0 1542.2,1174.0 1542.4,1179.3 1542.6,1178.9 1542.8,1174.9 1542.9,1181.5 1543.1,1169.6 1543.3,1181.1 1543.5,1178.9 1543.6,1167.9 1543.8,1184.2 1544.0,1169.2 1544.2,1174.5 1544.3,1174.0 1544.5,1180.2 1544.7,1174.9 1544.9,1180.6 1545.0,1170.5 1545.2,1175.8 1545.4,1177.1 1545.6,1176.2 1545.7,1174.5 1545.9,1168.7 1546.1,1171.4 1546.3,1175.8 1546.4,1176.2 1546.6,1176.2 1546.8,1167.4 1547.0,1168.3 1547.1,1175.4 1547.3,1177.1 1547.5,1169.2 1547.7,1171.4 1547.8,1165.6 1548.0,1167.9 1548.2,1164.8 1548.4,1162.1 1548.5,1159.9 1548.7,1165.6 1548.9,1159.9 1549.1,1165.6 1549.2,1167.9 1549.4,1159.5 1549.6,1153.7 1549.8,1151.5 1549.9,1157.7 1550.1,1165.2 1550.3,1152.8 1550.5,1154.6 1550.6,1148.4 1550.8,1144.0 1551.0,1150.2 1551.2,1149.8 1551.3,1145.8 1551.5,1144.9 1551.7,1144.5 1551.9,1134.3 1552.0,1136.5 1552.2,1130.3 1552.4,1126.8 1552.6,1124.2 1552.7,1111.4 1552.9,1113.6 1553.1,1105.2 1553.3,1092.8 1553.4,1092.8 1553.6,1095.9 1553.8,1080.5 1554.0,1072.1 1554.1,1053.6 1554.3,1035.0 1554.5,1036.8 1554.7,1028.8 1554.8,1001.9 1555.0,1010.3 1555.2,987.8 1555.4,972.8 1555.5,964.9 1555.7,952.5 1555.9,934.8 1556.1,906.2 1556.2,903.5 1556.4,904.8 1556.6,882.3 1556.8,863.4 1556.9,858.1 1557.1,858.5 1557.3,859.8 1557.5,857.6 1557.6,859.8 1557.8,873.1 1558.0,892.9 1558.2,895.6 1558.3,897.8 1558.5,934.0 1558.7,952.9 1558.9,943.2 1559.0,978.5 1559.2,988.7 1559.4,990.4 1559.6,1003.2 1559.8,1012.5 1559.9,1023.1 1560.1,1031.0 1560.3,1046.9 1560.5,1062.4 1560.6,1087.5 1560.8,1062.8 1561.0,1074.3 1561.2,1082.7 1561.3,1094.2 1561.5,1106.5 1561.7,1102.1 1561.9,1110.9 1562.0,1124.2 1562.2,1112.2 1562.4,1132.1 1562.6,1129.0 1562.7,1118.4 1562.9,1137.0 1563.1,1133.4 1563.3,1130.3 1563.4,1138.7 1563.6,1148.9 1563.8,1145.3 1564.0,1144.5 1564.1,1154.2 1564.3,1138.7 1564.5,1146.2 1564.7,1144.9 1564.8,1148.4 1565.0,1148.9 1565.2,1153.7 1565.4,1160.3 1565.5,1149.8 1565.7,1153.7 1565.9,1146.2 1566.1,1161.2 1566.2,1154.6 1566.4,1144.9 1566.6,1163.4 1566.8,1163.0 1566.9,1156.4 1567.1,1148.9 1567.3,1164.3 1567.5,1158.1 1567.6,1159.5 1567.8,1161.7 1568.0,1160.8 1568.2,1153.3 1568.3,1159.0 1568.5,1166.5 1568.7,1163.4 1568.9,1159.9 1569.0,1167.4 1569.2,1164.3 1569.4,1163.0 1569.6,1171.4 1569.7,1151.5 1569.9,1169.2 1570.1,1160.8 1570.3,1162.1 1570.4,1164.3 1570.6,1155.5 1570.8,1161.2 1571.0,1165.6 1571.1,1155.9 1571.3,1159.0 1571.5,1167.0 1571.7,1169.6 1571.8,1157.3 1572.0,1162.6 1572.2,1169.2 1572.4,1159.0 1572.5,1169.2 1572.7,1165.2 1572.9,1166.1 1573.1,1171.8 1573.2,1158.6 1573.4,1144.0 1573.6,1158.6 1573.8,1159.9 1573.9,1163.0 1574.1,1162.1 1574.3,1159.9 1574.5,1158.1 1574.6,1163.9 1574.8,1160.8 1575.0,1162.1 1575.2,1158.1 1575.3,1155.9 1575.5,1154.6 1575.7,1162.6 1575.9,1162.6 1576.0,1155.9 1576.2,1160.8 1576.4,1159.9 1576.6,1156.4 1576.7,1156.4 1576.9,1151.1 1577.1,1163.4 1577.3,1151.1 1577.4,1158.6 1577.6,1152.0 1577.8,1161.7 1578.0,1155.1 1578.1,1156.8 1578.3,1142.7 1578.5,1156.8 1578.7,1144.0 1578.8,1153.7 1579.0,1154.2 1579.2,1144.9 1579.4,1138.7 1579.5,1143.6 1579.7,1137.4 1579.9,1137.4 1580.1,1137.0 1580.2,1125.0 1580.4,1130.8 1580.6,1122.0 1580.8,1131.2 1580.9,1121.1 1581.1,1108.7 1581.3,1113.6 1581.5,1120.2 1581.6,1093.7 1581.8,1088.4 1582.0,1088.0 1582.2,1077.8 1582.3,1073.4 1582.5,1058.8 1582.7,1043.4 1582.9,1040.3 1583.0,1033.7 1583.2,1027.1 1583.4,1012.5 1583.6,1004.6 1583.7,978.1 1583.9,986.9 1584.1,970.1 1584.3,948.1 1584.4,936.6 1584.6,926.5 1584.8,923.8 1585.0,907.0 1585.1,918.5 1585.3,913.2 1585.5,906.2 1585.7,882.8 1585.8,885.0 1586.0,900.4 1586.2,908.8 1586.4,913.7 1586.5,899.1 1586.7,928.2 1586.9,941.0 1587.1,960.0 1587.2,960.4 1587.4,964.4 1587.6,988.2 1587.8,1010.3 1587.9,1001.5 1588.1,1025.8 1588.3,1020.5 1588.5,1056.2 1588.6,1058.0 1588.8,1063.7 1589.0,1088.9 1589.2,1082.2 1589.3,1086.2 1589.5,1099.0 1589.7,1101.2 1589.9,1109.2 1590.0,1122.0 1590.2,1116.7 1590.4,1130.8 1590.6,1132.1 1590.7,1138.7 1590.9,1133.9 1591.1,1144.0 1591.3,1146.7 1591.4,1159.0 1591.6,1150.6 1591.8,1146.2 1592.0,1164.8 1592.1,1153.7 1592.3,1157.3 1592.5,1167.9 1592.7,1162.6 1592.8,1156.8 1593.0,1163.0 1593.2,1162.1 1593.4,1159.5 1593.5,1167.4 1593.7,1163.0 1593.9,1173.6 1594.1,1172.7 1594.2,1162.6 1594.4,1163.9 1594.6,1166.5 1594.8,1178.4 1594.9,1173.1 1595.1,1176.7 1595.3,1164.8 1595.5,1179.8 1595.6,1179.8 1595.8,1177.1 1596.0,1173.6 1596.2,1178.0 1596.3,1177.1 1596.5,1174.9 1596.7,1176.7 1596.9,1185.1 1597.0,1182.9 1597.2,1170.9 1597.4,1177.6 1597.6,1170.5 1597.7,1172.3 1597.9,1174.0 1598.1,1178.9 1598.3,1172.7 1598.4,1181.5 1598.6,1170.5 1598.8,1177.6 1599.0,1177.6 1599.1,1182.0 1599.3,1182.9 1599.5,1181.5 1599.7,1182.9 1599.8,1184.2 1600.0,1185.1 1600.2,1180.2 1600.4,1176.2 1600.5,1173.1 1600.7,1178.4 1600.9,1182.0 1601.1,1178.9 1601.2,1174.5 1601.4,1181.1 1601.6,1177.6 1601.8,1180.2 1601.9,1181.1 1602.1,1183.7 1602.3,1178.9 1602.5,1185.1 1602.6,1185.5 1602.8,1180.2 1603.0,1177.6 1603.2,1178.0 1603.4,1178.4 1603.5,1182.9 1603.7,1182.0 1603.9,1177.1 1604.1,1173.1 1604.2,1192.1 1604.4,1176.2 1604.6,1180.2 1604.8,1181.1 1604.9,1183.7 1605.1,1183.3 1605.3,1185.5 1605.5,1179.3 1605.6,1184.2 1605.8,1180.6 1606.0,1185.9 1606.2,1174.9 1606.3,1176.7 1606.5,1184.2 1606.7,1177.1 1606.9,1180.6 1607.0,1182.4 1607.2,1178.0 1607.4,1174.5 1607.6,1171.4 1607.7,1176.2 1607.9,1172.3 1608.1,1174.0 1608.3,1173.6 1608.4,1172.3 1608.6,1182.0 1608.8,1177.1 1609.0,1168.7 1609.1,1180.6 1609.3,1178.0 1609.5,1165.6 1609.7,1178.0 1609.8,1172.7 1610.0,1171.8 1610.2,1173.6 1610.4,1167.9 1610.5,1167.9 1610.7,1174.5 1610.9,1163.0 1611.1,1174.0 1611.2,1171.8 1611.4,1170.1 1611.6,1168.3 1611.8,1173.6 1611.9,1167.0 1612.1,1178.0 1612.3,1169.6 1612.5,1170.9 1612.6,1169.6 1612.8,1166.5 1613.0,1164.3 1613.2,1168.7 1613.3,1164.8 1613.5,1171.4 1613.7,1165.6 1613.9,1159.0 1614.0,1166.5 1614.2,1164.3 1614.4,1162.6 1614.6,1158.1 1614.7,1159.9 1614.9,1162.1 1615.1,1166.1 1615.3,1159.5 1615.4,1174.9 1615.6,1158.1 1615.8,1163.9 1616.0,1156.4 1616.1,1159.9 1616.3,1152.4 1616.5,1162.6 1616.7,1169.2 1616.8,1159.0 1617.0,1161.2 1617.2,1159.5 1617.4,1152.8 1617.5,1163.4 1617.7,1155.5 1617.9,1154.6 1618.1,1153.7 1618.2,1169.2 1618.4,1158.6 1618.6,1163.0 1618.8,1160.8 1618.9,1163.9 1619.1,1161.7 1619.3,1155.5 1619.5,1152.0 1619.6,1157.3 1619.8,1167.0 1620.0,1155.1 1620.2,1167.4 1620.3,1163.4 1620.5,1156.4 1620.7,1164.8 1620.9,1159.0 1621.0,1163.9 1621.2,1168.7 1621.4,1162.1 1621.6,1166.1 1621.7,1155.1 1621.9,1155.1 1622.1,1156.4 1622.3,1169.2 1622.4,1155.5 1622.6,1163.4 1622.8,1162.6 1623.0,1164.3 1623.1,1167.9 1623.3,1164.8 1623.5,1161.7 1623.7,1158.6 1623.8,1163.0 1624.0,1166.1 1624.2,1168.3 1624.4,1167.9 1624.5,1158.6 1624.7,1163.0 1624.9,1165.2 1625.1,1174.0 1625.2,1174.9 1625.4,1163.0 1625.6,1163.4 1625.8,1161.2 1625.9,1165.2 1626.1,1169.2 1626.3,1174.5 1626.5,1170.5 1626.6,1177.1 1626.8,1164.3 1627.0,1163.4 1627.2,1159.0 1627.3,1174.5 1627.5,1172.3 1627.7,1162.6 1627.9,1163.4 1628.0,1174.5 1628.2,1168.3 1628.4,1164.3 1628.6,1166.5 1628.7,1162.6 1628.9,1163.9 1629.1,1167.0 1629.3,1162.1 1629.4,1164.3 1629.6,1158.1 1629.8,1170.5 1630.0,1164.8 1630.1,1166.5 1630.3,1164.3 1630.5,1161.2 1630.7,1159.9 1630.8,1173.6 1631.0,1157.3 1631.2,1160.3 1631.4,1160.8 1631.5,1163.0 1631.7,1158.6 1631.9,1161.2 1632.1,1172.3 1632.2,1167.0 1632.4,1165.2 1632.6,1165.6 1632.8,1166.5 1632.9,1161.7 1633.1,1170.1 1633.3,1168.7 1633.5,1170.1 1633.6,1165.6 1633.8,1163.9 1634.0,1170.5 1634.2,1164.8 1634.3,1169.6 1634.5,1160.8 1634.7,1178.4 1634.9,1168.3 1635.0,1163.0 1635.2,1170.5 1635.4,1174.5 1635.6,1174.0 1635.7,1167.9 1635.9,1173.1 1636.1,1166.5 1636.3,1171.4 1636.4,1174.5 1636.6,1174.5 1636.8,1170.9 1637.0,1168.7 1637.1,1177.6 1637.3,1179.3 1637.5,1179.8 1637.7,1173.1 1637.8,1167.4 1638.0,1178.0 1638.2,1173.6 1638.4,1178.4 1638.5,1173.1 1638.7,1183.7 1638.9,1175.4 1639.1,1183.7 1639.2,1182.0 1639.4,1177.6 1639.6,1180.2 1639.8,1179.8 1639.9,1178.0 1640.1,1179.3 1640.3,1174.5 1640.5,1178.0 1640.6,1184.6 1640.8,1181.5 1641.0,1183.7 1641.2,1183.7 1641.3,1174.9 1641.5,1185.5 1641.7,1177.6 1641.9,1177.1 1642.0,1172.3 1642.2,1183.3 1642.4,1182.4 1642.6,1182.4 1642.7,1185.5 1642.9,1177.1 1643.1,1176.7 1643.3,1193.4 1643.4,1185.9 1643.6,1180.2 1643.8,1189.0 1644.0,1187.7 1644.1,1185.1 1644.3,1185.5 1644.5,1185.9 1644.7,1185.9 1644.8,1178.9 1645.0,1194.8 1645.2,1187.7 1645.4,1190.4 1645.5,1185.1 1645.7,1187.7 1645.9,1184.6 1646.1,1186.4 1646.2,1177.6 1646.4,1191.7 1646.6,1188.6 1646.8,1183.3 1647.0,1188.2 1647.1,1186.4 1647.3,1192.6 1647.5,1184.2 1647.7,1187.3 1647.8,1185.1 1648.0,1190.8 1648.2,1189.5 1648.4,1190.4 1648.5,1181.1 1648.7,1193.9 1648.9,1185.9 1649.1,1186.8 1649.2,1182.9 1649.4,1186.8 1649.6,1191.7 1649.8,1185.9 1649.9,1194.3 1650.1,1184.2 1650.3,1188.6 1650.5,1190.8 1650.6,1189.9 1650.8,1185.9 1651.0,1194.8 1651.2,1182.0 1651.3,1191.2 1651.5,1182.9 1651.7,1188.2 1651.9,1181.5 1652.0,1193.4 1652.2,1185.5 1652.4,1189.0 1652.6,1191.2 1652.7,1185.9 1652.9,1189.9 1653.1,1192.1 1653.3,1189.9 1653.4,1192.1 1653.6,1190.4 1653.8,1189.9 1654.0,1185.5 1654.1,1189.9 1654.3,1192.6 1654.5,1187.3 1654.7,1191.2 1654.8,1193.4 1655.0,1194.3 1655.2,1183.7 1655.4,1190.8 1655.5,1184.6 1655.7,1193.9 1655.9,1194.3 1656.1,1184.2 1656.2,1191.2 1656.4,1191.2 1656.6,1191.2 1656.8,1194.3 1656.9,1187.3 1657.1,1195.2 1657.3,1188.2 1657.5,1194.8 1657.6,1181.5 1657.8,1188.6 1658.0,1187.3 1658.2,1197.0 1658.3,1189.9 1658.5,1193.4 1658.7,1194.3 1658.9,1194.3 1659.0,1188.2 1659.2,1191.2 1659.4,1193.0 1659.6,1193.4 1659.7,1193.4 1659.9,1193.0 1660.1,1192.1 1660.3,1195.2 1660.4,1194.3 1660.6,1199.2 1660.8,1191.2 1661.0,1189.0 1661.1,1193.0 1661.3,1186.4 1661.5,1193.9 1661.7,1190.8 1661.8,1186.8 1662.0,1190.4 1662.2,1193.9 1662.4,1189.5 1662.5,1192.1 1662.7,1186.8 1662.9,1188.2 1663.1,1191.2 1663.2,1188.6 1663.4,1184.2 1663.6,1186.4 1663.8,1187.3 1663.9,1190.8 1664.1,1192.1 1664.3,1192.6 1664.5,1185.9 1664.6,1193.4 1664.8,1187.7 1665.0,1183.3 1665.2,1194.8 1665.3,1187.3 1665.5,1192.1 1665.7,1188.6 1665.9,1185.9 1666.0,1191.7 1666.2,1192.6 1666.4,1188.6 1666.6,1185.9 1666.7,1188.2 1666.9,1189.9 1667.1,1183.3 1667.3,1189.9 1667.4,1190.8 1667.6,1184.2 1667.8,1175.8 1668.0,1185.9 1668.1,1183.7 1668.3,1186.8 1668.5,1184.6 1668.7,1186.4 1668.8,1180.2 1669.0,1183.3 1669.2,1183.3 1669.4,1175.4 1669.5,1185.1 1669.7,1174.0 1669.9,1178.0 1670.1,1180.6 1670.2,1175.8 1670.4,1176.2 1670.6,1172.7 1670.8,1174.0 1670.9,1163.4 1671.1,1166.5 1671.3,1165.2 1671.5,1174.9 1671.6,1170.1 1671.8,1161.7 1672.0,1163.4 1672.2,1165.2 1672.3,1164.3 1672.5,1157.7 1672.7,1171.4 1672.9,1164.8 1673.0,1166.5 1673.2,1152.0 1673.4,1164.3 1673.6,1156.8 1673.7,1147.1 1673.9,1154.6 1674.1,1150.2 1674.3,1150.2 1674.4,1145.3 1674.6,1135.6 1674.8,1153.7 1675.0,1146.2 1675.1,1135.2 1675.3,1129.9 1675.5,1143.6 1675.7,1133.4 1675.8,1136.5 1676.0,1136.1 1676.2,1147.6 1676.4,1148.4 1676.5,1137.0 1676.7,1138.3 1676.9,1137.8 1677.1,1144.0 1677.2,1127.7 1677.4,1137.8 1677.6,1118.0 1677.8,1138.3 1677.9,1134.8 1678.1,1133.0 1678.3,1140.0 1678.5,1144.9 1678.6,1142.7 1678.8,1140.0 1679.0,1144.0 1679.2,1130.3 1679.3,1145.8 1679.5,1139.6 1679.7,1140.5 1679.9,1145.3 1680.0,1153.7 1680.2,1145.8 1680.4,1144.5 1680.6,1150.2 1680.7,1152.4 1680.9,1165.6 1681.1,1160.8 1681.3,1157.3 1681.4,1156.8 1681.6,1155.1 1681.8,1161.7 1682.0,1160.3 1682.1,1167.9 1682.3,1160.8 1682.5,1161.7 1682.7,1167.0 1682.8,1162.6 1683.0,1170.1 1683.2,1171.8 1683.4,1172.3 1683.5,1162.6 1683.7,1180.2 1683.9,1172.7 1684.1,1176.2 1684.2,1175.4 1684.4,1182.9 1684.6,1174.0 1684.8,1175.4 1684.9,1180.2 1685.1,1181.5 1685.3,1180.2 1685.5,1177.6 1685.6,1188.2 1685.8,1177.1 1686.0,1184.6 1686.2,1180.6 1686.3,1187.7 1686.5,1177.6 1686.7,1184.6 1686.9,1179.3 1687.0,1189.0 1687.2,1189.5 1687.4,1183.3 1687.6,1185.5 1687.7,1187.3 1687.9,1184.6 1688.1,1187.7 1688.3,1190.8 1688.4,1197.0 1688.6,1198.7 1688.8,1188.6 1689.0,1189.0 1689.1,1194.8 1689.3,1189.9 1689.5,1193.0 1689.7,1192.1 1689.8,1189.5 1690.0,1198.3 1690.2,1192.1 1690.4,1191.7 1690.6,1194.3 1690.7,1193.4 1690.9,1197.9 1691.1,1193.9 1691.3,1192.6 1691.4,1192.1 1691.6,1197.0 1691.8,1192.6 1692.0,1194.3 1692.1,1193.0 1692.3,1195.7 1692.5,1193.4 1692.7,1195.2 1692.8,1188.2 1693.0,1197.0 1693.2,1192.6 1693.4,1196.5 1693.5,1201.4 1693.7,1195.2 1693.9,1193.0 1694.1,1194.3 1694.2,1194.3 1694.4,1199.6 1694.6,1196.1 1694.8,1201.4 1694.9,1192.1 1695.1,1192.6 1695.3,1200.9 1695.5,1198.7 1695.6,1201.4 1695.8,1200.1 1696.0,1199.2 1696.2,1201.8 1696.3,1199.6 1696.5,1196.1 1696.7,1199.2 1696.9,1196.1 1697.0,1199.2 1697.2,1198.3 1697.4,1202.3 1697.6,1196.1 1697.7,1202.3 1697.9,1200.1 1698.1,1202.7 1698.3,1197.4 1698.4,1202.3 1698.6,1197.4 1698.8,1193.4 1699.0,1198.3 1699.1,1205.8 1699.3,1196.5 1699.5,1198.7 1699.7,1197.9 1699.8,1198.3 1700.0,1196.1 1700.2,1196.5 1700.4,1199.6 1700.5,1203.2 1700.7,1200.1 1700.9,1197.4 1701.1,1205.4 1701.2,1199.6 1701.4,1205.4 1701.6,1197.0 1701.8,1194.8 1701.9,1197.4 1702.1,1201.4 1702.3,1197.9 1702.5,1196.5 1702.6,1195.7 1702.8,1196.1 1703.0,1197.4 1703.2,1203.2 1703.3,1200.5 1703.5,1199.2 1703.7,1200.5 1703.9,1206.2 1704.0,1200.9 1704.2,1202.7 1704.4,1200.1 1704.6,1199.6 1704.7,1204.9 1704.9,1202.7 1705.1,1200.5 1705.3,1204.0 1705.4,1200.9 1705.6,1203.2 1705.8,1203.2 1706.0,1198.7 1706.1,1201.4 1706.3,1202.7 1706.5,1197.0 1706.7,1202.3 1706.8,1201.4 1707.0,1201.4 1707.2,1193.0 1707.4,1199.6 1707.5,1198.7 1707.7,1202.3 1707.9,1199.2 1708.1,1198.3 1708.2,1204.9 1708.4,1200.1 1708.6,1197.0 1708.8,1196.5 1708.9,1200.9 1709.1,1195.2 1709.3,1203.6 1709.5,1198.7 1709.6,1200.1 1709.8,1204.5 1710.0,1198.7 1710.2,1205.4 1710.3,1203.6 1710.5,1201.8 1710.7,1204.9 1710.9,1198.7 1711.0,1203.2 1711.2,1205.4 1711.4,1200.9 1711.6,1201.8 1711.7,1204.9 1711.9,1203.6 1712.1,1199.6 1712.3,1199.6 1712.4,1206.2 1712.6,1199.2 1712.8,1199.2 1713.0,1198.7 1713.1,1203.2 1713.3,1204.0 1713.5,1202.3 1713.7,1204.0 1713.8,1202.7 1714.0,1203.6 1714.2,1203.2 1714.4,1203.6 1714.5,1202.3 1714.7,1201.8 1714.9,1203.2 1715.1,1203.6 1715.2,1197.9 1715.4,1199.6 1715.6,1200.9 1715.8,1204.9 1715.9,1200.5 1716.1,1202.7 1716.3,1200.9 1716.5,1201.8 1716.6,1195.7 1716.8,1202.3 1717.0,1205.4 1717.2,1199.6 1717.3,1199.6 1717.5,1199.2 1717.7,1209.8 1717.9,1204.9 1718.0,1204.9 1718.2,1207.1 1718.4,1202.3 1718.6,1200.9 1718.7,1200.1 1718.9,1200.5 1719.1,1202.7 1719.3,1198.7 1719.4,1202.3 1719.6,1210.2 1719.8,1203.6 1720.0,1204.9 1720.1,1202.3 1720.3,1204.0 1720.5,1204.0 1720.7,1199.2 1720.8,1204.9 1721.0,1206.7 1721.2,1202.3 1721.4,1201.4 1721.5,1203.6 1721.7,1203.2 1721.9,1204.9 1722.1,1206.7 1722.2,1205.4 1722.4,1206.2 1722.6,1200.1 1722.8,1204.0 1722.9,1199.6 1723.1,1203.6 1723.3,1205.8 1723.5,1202.7 1723.6,1202.7 1723.8,1200.1 1724.0,1208.9 1724.2,1204.5 1724.3,1202.3 1724.5,1205.4 1724.7,1203.2 1724.9,1204.5 1725.0,1199.6 1725.2,1200.1 1725.4,1208.9 1725.6,1207.6 1725.7,1205.8 1725.9,1203.6 1726.1,1204.0 1726.3,1204.9 1726.4,1201.8 1726.6,1201.4 1726.8,1203.6 1727.0,1204.5 1727.1,1203.6 1727.3,1205.8 1727.5,1201.4 1727.7,1201.4 1727.8,1206.2 1728.0,1200.1 1728.2,1204.0 1728.4,1201.4 1728.5,1203.6 1728.7,1204.0 1728.9,1201.8 1729.1,1206.2 1729.2,1204.5 1729.4,1207.1 1729.6,1202.7 1729.8,1204.5 1729.9,1204.5 1730.1,1205.4 1730.3,1202.3 1730.5,1203.2 1730.6,1204.5 1730.8,1204.9 1731.0,1199.2 1731.2,1200.1 1731.3,1206.7 1731.5,1200.9 1731.7,1202.7 1731.9,1203.2 1732.0,1202.7 1732.2,1207.6 1732.4,1197.4 1732.6,1198.7 1732.7,1204.0 1732.9,1204.0 1733.1,1203.6 1733.3,1205.8 1733.4,1202.7 1733.6,1204.0 1733.8,1206.7 1734.0,1205.4 1734.1,1205.8 1734.3,1205.8 1734.5,1204.9 1734.7,1202.7 1734.9,1205.4 1735.0,1208.5 1735.2,1200.5 1735.4,1205.8 1735.6,1200.5 1735.7,1203.6 1735.9,1202.7 1736.1,1206.2 1736.3,1204.0 1736.4,1205.4 1736.6,1204.5 1736.8,1203.2 1737.0,1205.4 1737.1,1202.3 1737.3,1208.0 1737.5,1207.1 1737.7,1203.2 1737.8,1203.2 1738.0,1201.8 1738.2,1200.5 1738.4,1203.2 1738.5,1202.7 1738.7,1203.6 1738.9,1204.0 1739.1,1204.5 1739.2,1204.0 1739.4,1205.8 1739.6,1204.9 1739.8,1202.3 1739.9,1203.2 1740.1,1201.4 1740.3,1205.8 1740.5,1205.4 1740.6,1203.6 1740.8,1206.7 1741.0,1206.7 1741.2,1203.2 1741.3,1205.4 1741.5,1202.3 1741.7,1204.5 1741.9,1205.8 1742.0,1207.1 1742.2,1201.8 1742.4,1204.9 1742.6,1206.7 1742.7,1208.5 1742.9,1208.0 1743.1,1205.8 1743.3,1201.8 1743.4,1207.1 1743.6,1204.0 1743.8,1204.0 1744.0,1213.3 1744.1,1208.0 1744.3,1202.7 1744.5,1209.8 1744.7,1201.8 1744.8,1204.9 1745.0,1208.9 1745.2,1200.1 1745.4,1205.4 1745.5,1200.9 1745.7,1204.5 1745.9,1206.7 1746.1,1202.3 1746.2,1200.5 1746.4,1201.8 1746.6,1208.0 1746.8,1203.6 1746.9,1208.0 1747.1,1206.7 1747.3,1201.4 1747.5,1208.5 1747.6,1198.7 1747.8,1208.9 1748.0,1208.5 1748.2,1203.2 1748.3,1205.4 1748.5,1205.4 1748.7,1207.6 1748.9,1203.2 1749.0,1204.5 1749.2,1205.4 1749.4,1207.1 1749.6,1208.9 1749.7,1204.9 1749.9,1210.7 1750.1,1206.7 1750.3,1203.6 1750.4,1203.2 1750.6,1206.2 1750.8,1211.5 1751.0,1203.6 1751.1,1202.7 1751.3,1204.9 1751.5,1201.8 1751.7,1202.7 1751.8,1209.3 1752.0,1205.8 1752.2,1206.2 1752.4,1200.9 1752.5,1202.3 1752.7,1204.9 1752.9,1203.6 1753.1,1202.7 1753.2,1206.7 1753.4,1205.4 1753.6,1205.4 1753.8,1206.2 1753.9,1205.8 1754.1,1204.5 1754.3,1208.5 1754.5,1208.0 1754.6,1203.2 1754.8,1201.4 1755.0,1200.5 1755.2,1209.3 1755.3,1204.0 1755.5,1207.1 1755.7,1206.7 1755.9,1205.8 1756.0,1204.0 1756.2,1203.6 1756.4,1211.1 1756.6,1206.7 1756.7,1202.3 1756.9,1204.9 1757.1,1209.3 1757.3,1207.6 1757.4,1207.1 1757.6,1202.7 1757.8,1200.9 1758.0,1208.0 1758.1,1204.0 1758.3,1205.8 1758.5,1203.6 1758.7,1205.8 1758.8,1208.0 1759.0,1206.7 1759.2,1206.7 1759.4,1201.4 1759.5,1207.1 1759.7,1203.6 1759.9,1207.1 1760.1,1206.7 1760.2,1204.5 1760.4,1206.7 1760.6,1200.1 1760.8,1201.8 1760.9,1208.0 1761.1,1203.6 1761.3,1201.4 1761.5,1208.0 1761.6,1206.2 1761.8,1201.4 1762.0,1207.1 1762.2,1203.6 1762.3,1205.4 1762.5,1204.5 1762.7,1207.6 1762.9,1205.4 1763.0,1206.2 1763.2,1200.5 1763.4,1203.2 1763.6,1204.5 1763.7,1204.9 1763.9,1203.2 1764.1,1208.9 1764.3,1207.6 1764.4,1207.1 1764.6,1207.1 1764.8,1208.9 1765.0,1203.6 1765.1,1206.2 1765.3,1201.8 1765.5,1204.9 1765.7,1205.8 1765.8,1203.6 1766.0,1203.6 1766.2,1205.4 1766.4,1203.2 1766.5,1201.4 1766.7,1205.8 1766.9,1201.4 1767.1,1204.9 1767.2,1202.3 1767.4,1204.5 1767.6,1205.4 1767.8,1203.6 1767.9,1207.1 1768.1,1208.5 1768.3,1204.5 1768.5,1204.9 1768.6,1207.1 1768.8,1198.7 1769.0,1203.2 1769.2,1206.2 1769.3,1202.7 1769.5,1202.7 1769.7,1204.9 1769.9,1204.5 1770.0,1208.9 1770.2,1203.2 1770.4,1198.7 1770.6,1200.9 1770.7,1200.9 1770.9,1205.4 1771.1,1206.2 1771.3,1200.9 1771.4,1202.7 1771.6,1204.0 1771.8,1204.0 1772.0,1200.5 1772.1,1201.4 1772.3,1204.0 1772.5,1203.2 1772.7,1207.1 1772.8,1205.8 1773.0,1200.9 1773.2,1203.6 1773.4,1204.9 1773.5,1201.4 1773.7,1198.7 1773.9,1204.0 1774.1,1202.7 1774.2,1202.3 1774.4,1194.3 1774.6,1198.3 1774.8,1200.1 1774.9,1204.9 1775.1,1198.3 1775.3,1198.7 1775.5,1200.5 1775.6,1202.3 1775.8,1200.9 1776.0,1204.5 1776.2,1200.1 1776.3,1200.1 1776.5,1201.4 1776.7,1199.2 1776.9,1202.7 1777.0,1193.9 1777.2,1197.4 1777.4,1200.1 1777.6,1193.4 1777.7,1193.9 1777.9,1197.0 1778.1,1199.2 1778.3,1194.3 1778.5,1192.1 1778.6,1190.8 1778.8,1189.0 1779.0,1189.0 1779.2,1196.5 1779.3,1190.4 1779.5,1196.5 1779.7,1185.5 1779.9,1186.8 1780.0,1184.2 1780.2,1186.8 1780.4,1186.4 1780.6,1187.7 1780.7,1195.7 1780.9,1184.6 1781.1,1172.7 1781.3,1177.1 1781.4,1182.4 1781.6,1179.3 1781.8,1178.0 1782.0,1181.5 1782.1,1178.0 1782.3,1175.8 1782.5,1178.9 1782.7,1174.0 1782.8,1169.6 1783.0,1170.9 1783.2,1172.7 1783.4,1174.5 1783.5,1170.1 1783.7,1175.4 1783.9,1175.4 1784.1,1165.6 1784.2,1174.0 1784.4,1178.4 1784.6,1168.3 1784.8,1169.2 1784.9,1167.4 1785.1,1173.1 1785.3,1167.9 1785.5,1174.0 1785.6,1178.4 1785.8,1175.4 1786.0,1174.0 1786.2,1180.6 1786.3,1177.6 1786.5,1176.2 1786.7,1179.8 1786.9,1178.4 1787.0,1179.8 1787.2,1183.7 1787.4,1180.2 1787.6,1179.8 1787.7,1191.2 1787.9,1186.4 1788.1,1181.5 1788.3,1183.7 1788.4,1193.4 1788.6,1185.9 1788.8,1182.4 1789.0,1185.5 1789.1,1186.4 1789.3,1190.4 1789.5,1190.4 1789.7,1195.2 1789.8,1191.7 1790.0,1184.6 1790.2,1193.0 1790.4,1196.5 1790.5,1192.6 1790.7,1201.4 1790.9,1187.7 1791.1,1193.9 1791.2,1197.0 1791.4,1197.9 1791.6,1200.1 1791.8,1197.0 1791.9,1197.9 1792.1,1202.7 1792.3,1195.7 1792.5,1200.1 1792.6,1202.3 1792.8,1197.0 1793.0,1197.9 1793.2,1201.8 1793.3,1202.3 1793.5,1197.4 1793.7,1201.8 1793.9,1200.5 1794.0,1197.4 1794.2,1204.9 1794.4,1205.8 1794.6,1204.0 1794.7,1203.6 1794.9,1202.3 1795.1,1199.6 1795.3,1203.6 1795.4,1198.3 1795.6,1202.3 1795.8,1208.0 1796.0,1203.2 1796.1,1201.4 1796.3,1200.5 1796.5,1205.4 1796.7,1203.6 1796.8,1197.9 1797.0,1203.2 1797.2,1206.2 1797.4,1207.6 1797.5,1204.9 1797.7,1203.2 1797.9,1207.1 1798.1,1200.9 1798.2,1206.2 1798.4,1209.3 1798.6,1202.7 1798.8,1204.5 1798.9,1204.9 1799.1,1201.4 1799.3,1206.2 1799.5,1203.2 1799.6,1206.2 1799.8,1200.9 1800.0,1204.9 1800.2,1204.9 1800.3,1203.6 1800.5,1205.4 1800.7,1204.0 1800.9,1205.8 1801.0,1203.6 1801.2,1204.9 1801.4,1206.7 1801.6,1204.0 1801.7,1204.0 1801.9,1208.0 1802.1,1206.2 1802.3,1209.3 1802.4,1205.4 1802.6,1203.6 1802.8,1199.6 1803.0,1204.9 1803.1,1203.2 1803.3,1202.3 1803.5,1204.0 1803.7,1210.2 1803.8,1206.7 1804.0,1204.9 1804.2,1204.9 1804.4,1205.4 1804.5,1208.0 1804.7,1210.2 1804.9,1204.9 1805.1,1203.2 1805.2,1207.1 1805.4,1204.5 1805.6,1207.1 1805.8,1206.2 1805.9,1207.6 1806.1,1204.0 1806.3,1208.5 1806.5,1205.8 1806.6,1204.0 1806.8,1206.2 1807.0,1208.9 1807.2,1205.4 1807.3,1206.7 1807.5,1209.3 1807.7,1206.7 1807.9,1207.1 1808.0,1204.9 1808.2,1207.6 1808.4,1206.2 1808.6,1204.9 1808.7,1210.7 1808.9,1204.0 1809.1,1206.2 1809.3,1208.9 1809.4,1206.2 1809.6,1204.0 1809.8,1208.0 1810.0,1208.0 1810.1,1203.6 1810.3,1203.2 1810.5,1201.8 1810.7,1206.7 1810.8,1208.9 1811.0,1208.9 1811.2,1207.6 1811.4,1208.9 1811.5,1205.8 1811.7,1203.6 1811.9,1209.3 1812.1,1203.2 1812.2,1208.9 1812.4,1208.5 1812.6,1209.8 1812.8,1204.9 1812.9,1207.1 1813.1,1206.7 1813.3,1213.3 1813.5,1208.0 1813.6,1206.2 1813.8,1212.9 1814.0,1202.3 1814.2,1206.2 1814.3,1204.5 1814.5,1207.6 1814.7,1204.9 1814.9,1204.0 1815.0,1200.9 1815.2,1209.3 1815.4,1202.3 1815.6,1209.3 1815.7,1206.7 1815.9,1207.6 1816.1,1207.1 1816.3,1211.1 1816.4,1207.6 1816.6,1209.3 1816.8,1207.1 1817.0,1206.2 1817.1,1206.7 1817.3,1207.1 1817.5,1203.6 1817.7,1206.2 1817.8,1205.4 1818.0,1204.0 1818.2,1207.1 1818.4,1206.7 1818.5,1205.4 1818.7,1207.6 1818.9,1204.0 1819.1,1208.5 1819.2,1207.1 1819.4,1207.1 1819.6,1207.6 1819.8,1207.1 1819.9,1208.0 1820.1,1212.4 1820.3,1204.5 1820.5,1208.0 1820.6,1205.4 1820.8,1209.3 1821.0,1205.8 1821.2,1209.8 1821.3,1203.6 1821.5,1207.1 1821.7,1208.0 1821.9,1213.3 1822.1,1212.0 1822.2,1208.0 1822.4,1208.5 1822.6,1208.5 1822.8,1208.5 1822.9,1204.9 1823.1,1208.0 1823.3,1208.0 1823.5,1208.9 1823.6,1209.3 1823.8,1206.2 1824.0,1208.0 1824.2,1208.0 1824.3,1206.7 1824.5,1207.1 1824.7,1205.4 1824.9,1205.4 1825.0,1210.2 1825.2,1208.9 1825.4,1204.9 1825.6,1208.0 1825.7,1205.8 1825.9,1209.3 1826.1,1212.4 1826.3,1212.0 1826.4,1208.9 1826.6,1208.0 1826.8,1201.8 1827.0,1205.4 1827.1,1205.8 1827.3,1204.9 1827.5,1210.7 1827.7,1207.1 1827.8,1207.6 1828.0,1202.7 1828.2,1208.9 1828.4,1210.2 1828.5,1207.1 1828.7,1207.6 1828.9,1207.1 1829.1,1206.7 1829.2,1206.7 1829.4,1208.5 1829.6,1208.0 1829.8,1201.8 1829.9,1208.5 1830.1,1205.8 1830.3,1209.3 1830.5,1211.1 1830.6,1204.9 1830.8,1206.7 1831.0,1204.0 1831.2,1204.5 1831.3,1206.2 1831.5,1208.9 1831.7,1202.7 1831.9,1206.7 1832.0,1202.3 1832.2,1205.4 1832.4,1204.9 1832.6,1205.4 1832.7,1205.8 1832.9,1207.1 1833.1,1201.8 1833.3,1208.9 1833.4,1210.2 1833.6,1206.2 1833.8,1208.5 1834.0,1204.5 1834.1,1207.1 1834.3,1204.0 1834.5,1206.7 1834.7,1208.5 1834.8,1207.6 1835.0,1205.4 1835.2,1208.0 1835.4,1208.9 1835.5,1207.1 1835.7,1206.2 1835.9,1204.0 1836.1,1205.8 1836.2,1204.9 1836.4,1207.1 1836.6,1202.7 1836.8,1201.8 1836.9,1208.5 1837.1,1206.2 1837.3,1207.1 1837.5,1206.2 1837.6,1207.6 1837.8,1208.5 1838.0,1209.8 1838.2,1208.0 1838.3,1206.7 1838.5,1204.5 1838.7,1205.8 1838.9,1208.0 1839.0,1208.5 1839.2,1210.2 1839.4,1205.4 1839.6,1206.7 1839.7,1205.4 1839.9,1205.4 1840.1,1205.8 1840.3,1207.1 1840.4,1207.6 1840.6,1209.3 1840.8,1208.5 1841.0,1205.8 1841.1,1201.8 1841.3,1208.0 1841.5,1206.2 1841.7,1200.1 1841.8,1206.7 1842.0,1207.6 1842.2,1207.1 1842.4,1207.6 1842.5,1211.1 1842.7,1205.4 1842.9,1211.1 1843.1,1208.5 1843.2,1208.0 1843.4,1206.2 1843.6,1207.6 1843.8,1208.0 1843.9,1208.9 1844.1,1206.7 1844.3,1208.0 1844.5,1208.9 1844.6,1210.2 1844.8,1209.3 1845.0,1207.1 1845.2,1210.7 1845.3,1207.1 1845.5,1207.1 1845.7,1204.9 1845.9,1208.9 1846.0,1209.3 1846.2,1207.6 1846.4,1208.5 1846.6,1213.3 1846.7,1204.9 1846.9,1206.7 1847.1,1207.1 1847.3,1209.3 1847.4,1206.7 1847.6,1208.0 1847.8,1204.0 1848.0,1205.8 1848.1,1204.5 1848.3,1210.2 1848.5,1209.3 1848.7,1208.5 1848.8,1208.9 1849.0,1204.0 1849.2,1206.7 1849.4,1209.8 1849.5,1208.0 1849.7,1203.2 1849.9,1208.0 1850.1,1206.2 1850.2,1211.1 1850.4,1208.5 1850.6,1207.6 1850.8,1208.0 1850.9,1207.6 1851.1,1206.7 1851.3,1204.9 1851.5,1211.1 1851.6,1207.1 1851.8,1205.8 1852.0,1206.7 1852.2,1204.9 1852.3,1207.6 1852.5,1208.5 1852.7,1209.3 1852.9,1205.4 1853.0,1210.2 1853.2,1208.5 1853.4,1207.6 1853.6,1205.8 1853.7,1208.0 1853.9,1209.3 1854.1,1206.2 1854.3,1209.8 1854.4,1208.9 1854.6,1212.0 1854.8,1207.1 1855.0,1207.1 1855.1,1211.1 1855.3,1208.0 1855.5,1206.2 1855.7,1208.9 1855.8,1211.1 1856.0,1207.6 1856.2,1206.2 1856.4,1211.5 1856.5,1205.4 1856.7,1207.6 1856.9,1205.4 1857.1,1209.8 1857.2,1205.4 1857.4,1206.7 1857.6,1205.8 1857.8,1207.1 1857.9,1205.4 1858.1,1208.0 1858.3,1208.5 1858.5,1209.8 1858.6,1210.7 1858.8,1207.1 1859.0,1208.0 1859.2,1207.6 1859.3,1208.0 1859.5,1206.7 1859.7,1207.1 1859.9,1208.9 1860.0,1205.8 1860.2,1202.7 1860.4,1209.3 1860.6,1208.5 1860.7,1206.2 1860.9,1208.9 1861.1,1204.9 1861.3,1208.9 1861.4,1209.8 1861.6,1209.3 1861.8,1204.9 1862.0,1212.0 1862.1,1207.1 1862.3,1212.0 1862.5,1205.8 1862.7,1206.2 1862.8,1205.8 1863.0,1202.3 1863.2,1207.1 1863.4,1204.5 1863.5,1205.8 1863.7,1204.9 1863.9,1208.9 1864.1,1204.5 1864.2,1207.6 1864.4,1203.6 1864.6,1204.9 1864.8,1206.7 1864.9,1205.4 1865.1,1205.8 1865.3,1206.2 1865.5,1200.9 1865.7,1208.5 1865.8,1209.8 1866.0,1209.8 1866.2,1207.1 1866.4,1206.7 1866.5,1205.4 1866.7,1204.5 1866.9,1206.2 1867.1,1206.2 1867.2,1208.9 1867.4,1204.5 1867.6,1203.6 1867.8,1206.7 1867.9,1204.9 1868.1,1208.0 1868.3,1206.7 1868.5,1206.2 1868.6,1204.5 1868.8,1209.8 1869.0,1206.2 1869.2,1204.5 1869.3,1205.8 1869.5,1204.9 1869.7,1212.0 1869.9,1208.5 1870.0,1207.6 1870.2,1208.5 1870.4,1212.0 1870.6,1204.0 1870.7,1206.2 1870.9,1211.1 1871.1,1207.6 1871.3,1206.7 1871.4,1204.5 1871.6,1204.9 1871.8,1208.9 1872.0,1208.0 1872.1,1206.2 1872.3,1204.5 1872.5,1207.6 1872.7,1208.0 1872.8,1205.4 1873.0,1206.2 1873.2,1203.6 1873.4,1205.4 1873.5,1204.5 1873.7,1211.1 1873.9,1209.8 1874.1,1210.2 1874.2,1208.0 1874.4,1205.8 1874.6,1207.1 1874.8,1205.4 1874.9,1208.5 1875.1,1204.5 1875.3,1204.5 1875.5,1210.7 1875.6,1208.9 1875.8,1208.0 1876.0,1204.5 1876.2,1204.9 1876.3,1202.3 1876.5,1210.2 1876.7,1206.2 1876.9,1206.7 1877.0,1207.1 1877.2,1206.7 1877.4,1211.5 1877.6,1205.8 1877.7,1207.6 1877.9,1209.3 1878.1,1203.2 1878.3,1208.0 1878.4,1205.8 1878.6,1208.0 1878.8,1210.2 1879.0,1207.6 1879.1,1205.8 1879.3,1208.9 1879.5,1205.4 1879.7,1202.3 1879.8,1203.6 1880.0,1207.1 1880.2,1208.0 1880.4,1204.0 1880.5,1209.3 1880.7,1208.5 1880.9,1201.8 1881.1,1205.4 1881.2,1204.9 1881.4,1206.7 1881.6,1199.2 1881.8,1198.3 1881.9,1206.2 1882.1,1204.0 1882.3,1206.7 1882.5,1204.5 1882.6,1202.7 1882.8,1202.7 1883.0,1206.2 1883.2,1204.5 1883.3,1198.7 1883.5,1203.2 1883.7,1201.8 1883.9,1204.0 1884.0,1205.8 1884.2,1208.0 1884.4,1207.6 1884.6,1209.3 1884.7,1208.0 1884.9,1207.6 1885.1,1203.6 1885.3,1209.3 1885.4,1204.0 1885.6,1209.8 1885.8,1198.7 1886.0,1206.7 1886.1,1204.5 1886.3,1200.5 1886.5,1205.4 1886.7,1204.5 1886.8,1204.5 1887.0,1203.6 1887.2,1206.2 1887.4,1200.5 1887.5,1201.8 1887.7,1204.5 1887.9,1201.4 1888.1,1204.9 1888.2,1205.8 1888.4,1204.9 1888.6,1203.2 1888.8,1208.5 1888.9,1205.4 1889.1,1203.2 1889.3,1207.1 1889.5,1203.6 1889.6,1207.1 1889.8,1203.6 1890.0,1204.5 1890.2,1203.2 1890.3,1205.8 1890.5,1208.9 1890.7,1210.7 1890.9,1194.3 1891.0,1207.6 1891.2,1206.2 1891.4,1208.0 1891.6,1200.1 1891.7,1201.8 1891.9,1201.4 1892.1,1206.7 1892.3,1200.9 1892.4,1205.4 1892.6,1200.1 1892.8,1203.6 1893.0,1209.3 1893.1,1203.6 1893.3,1205.8 1893.5,1196.5 1893.7,1206.7 1893.8,1204.0 1894.0,1204.0 1894.2,1205.4 1894.4,1204.9 1894.5,1203.2 1894.7,1201.8 1894.9,1204.0 1895.1,1203.6 1895.2,1202.7 1895.4,1205.4 1895.6,1203.2 1895.8,1202.3 1895.9,1199.6 1896.1,1200.5 1896.3,1200.9 1896.5,1199.6 1896.6,1204.5 1896.8,1199.2 1897.0,1203.2 1897.2,1202.7 1897.3,1203.2 1897.5,1200.1 1897.7,1203.6 1897.9,1200.5 1898.0,1202.7 1898.2,1203.2 1898.4,1200.9 1898.6,1204.0 1898.7,1198.3 1898.9,1203.6 1899.1,1203.2 1899.3,1198.3 1899.4,1205.8 1899.6,1199.2 1899.8,1201.4 1900.0,1201.4 1900.1,1200.9 1900.3,1204.0 1900.5,1196.5 1900.7,1199.6" fill="none" stroke="none" marker-start="url(#o)" marker-mid="url(#o)" marker-end="url(#o)"/><path d="M1077.7 1306.9H1900.7" stroke="#808080" stroke-width="1.2"/><path transform="translate(1077.70,0) scale(0.17510,0.1)" d="M0 13122l1-217 1 172 1-49 1-14 1 52 1 53 1-160 1 21 1 185 1-345 1 114 1 136 1-133 1 114 1-32 1-71 1 167 1-147 1-67 1 8 1 128 1-94 1 202 1-115 1-49 1 140 1-98 1-146 1-67 1 145 1-5 1 144 1 22 1 17 1-156 1-18 1 114 1 43 1-115 1-5 1 34 1-111 1 110 1-1 1 83 1-98 1-98 1 106 1-1 1-32 1 13 1-19 1 0 1-6 1 114 1-89 1 154 1-151 1 123 1-93 1-45 1 74 1-40 1 136 1-63 1-120 1 145 1-142 1 163 1-41 1 17 1-85 1-44 1 127 1-67 1-142 1 154 1 38 1-93 1 48 1 34 1 88 1-204 1 110 1-45 1 83 1-186 1 43 1-14 1 83 1-45 1-31 1-10 1 57 1 26 1 25 1 30 1 17 1-102 1 48 1 136 1-142 1-94 1 101 1 123 1-133 1-67 1 43 1 48 1-173 1-5 1 154 1-67 1 30 1-27 1-54 1 48 1 56 1 61 1 12 1-63 1-89 1 65 1 17 1-14 1 17 1-37 1 127 1 66 1-120 1 56 1-213 1 136 1 8 1 101 1-143 1 70 1-133 1 21 1 127 1-94 1 242 1-155 1-147 1 34 1 48 1 12 1 110 1-6 1-120 1-120 1 299 1-213 1 4 1-28 1 141 1-28 1-40 1 78 1 17 1-28 1-58 1-36 1 30 1-6 1 57 1 3 1-138 1 88 1 3 1-76 1-23 1-5 1 65 1 35 1-23 1 7 1-93 1 87 1-27 1 52 1-107 1 255 1-182 1-27 1 144 1-248 1 171 1 4 1 65 1-142 1 47 1 61 1-62 1-32 1-41 1 74 1 87 1-27 1 127 1-116 1-107 1 17 1 43 1 21 1-146 1 100 1-49 1 39 1 78 1-164 1 206 1-1 1-58 1 21 1-9 1 3 1-120 1 70 1-23 1 144 1-54 1-142 1 167 1-173 1 162 1-98 1 83 1-76 1 83 1-49 1-143 1 154 1-177 1 184 1 52 1-93 1 34 1-155 1 65 1-23 1 39 1-133 1 122 1 22 1 96 1 8 1-81 1-58 1-9 1 149 1-107 1 26 1 96 1-120 1 202 1-182 1-160 1 255 1-76 1 136 1-80 1-111 1 131 1-71 1 21 1 4 1-41 1-23 1-54 1 30 1 101 1-142 1 12 1 202 1-159 1-10 1-14 1 34 1 132 1-76 1 131 1-137 1-156 1 97 1-10 1 96 1 35 1 3 1-85 1 66 1-10 1-129 1 202 1-23 1-58 1-32 1 4 1 92 1-116 1 26 1-36 1 105 1-98 1 3 1 61 1-32 1 26 1-138 1 322 1-120 1 16 1-93 1 21 1-18 1-81 1 167 1-54 1-45 1 70 1-111 1 3 1 70 1 79 1-239 1 78 1 4 1 25 1 4 1-58 1 61 1 43 1-94 1 44 1 60 1 8 1-146 1 39 1-94 1 176 1 17 1-85 1-67 1 57 1 12 1-102 1 184 1 35 1-36 1-28 1-49 1-45 1 44 1-81 1 167 1-190 1 189 1-138 1 145 1-89 1 21 1-31 1-19 1 70 1-9 1-23 1 105 1-36 1 61 1-116 1-150 1 100 1 114 1-14 1-115 1 101 1 78 1-40 1 3 1-5 1-115 1 43 1 105 1-62 1 39 1 8 1 17 1-222 1 141 1-63 1-18 1 88 1-63 1-1 1 22 1-133 1 127 1 39 1-63 1-75 1 52 1 101 1 26 1 8 1-18 1-72 1-31 1 211 1-151 1 75 1-125 1-13 1 114 1-23 1 35 1-89 1 136 1-36 1-27 1-128 1-80 1 163 1 83 1-89 1 66 1-89 1 106 1-49 1-27 1-36 1 44 1-93 1 79 1 133 1-186 1 84 1 26 1-146 1 168 1-70 1 57 1-141 1 120 1-39 1 111 1-189 1 168 1-131 1-12 1-3 1-38 1 206 1-104 1 21 1-14 1-39 1 71 1 69 1-36 1-101 1 191 1-66 1 85 1-124 1 204 1-62 1 10 1 8 1-117 1 82 1 202 1-181 1 255 1 71 1 2 1-92 1-11 1 184 1-176 1 31 1-82 1 50 1-117 1-4 1 83 1-204 1 53 1-64 1-63 1 125 1-80 1 28 1-10 1-95 1-19 1-74 1-15 1 83 1 50 1-272 1 65 1 140 1 53 1-39 1-48 1-56 1 6 1 32 1 46 1-28 1 28 1-24 1 7 1-41 1 157 1-99 1-6 1 56 1-63 1 56 1-28 1-24 1-1 1 21 1-112 1 61 1-10 1 8 1 56 1 12 1-111 1 78 1 92 1 25 1-155 1 61 1-41 1 30 1-10 1-14 1 70 1-81 1-67 1 21 1 154 1-23 1-1 1-71 1-72 1 35 1 136 1-116 1-49 1 78 1-150 1 162 1-115 1-76 1 233 1-62 1-54 1-168 1 317 1-151 1 21 1 44 1 26 1-19 1-13 1 61 1-182 1 172 1-45 1 17 1-19 1-31 1 57 1-36 1-125 1 44 1 88 1-76 1 105 1-62 1 105 1-18 1-19 1-133 1 66 1-23 1 26 1-14 1 0 1-23 1 39 1 66 1-5 1-129 1-9 1 52 1 141 1-204 1 79 1 26 1-5 1 21 1-133 1 8 1 172 1-58 1-27 1-63 1 234 1-213 1-45 1 128 1-19 1-80 1 53 1 109 1-13 1-5 1 21 1-84 1 30 1-36 1-40 1-67 1 96 1 132 1-203 1 96 1-80 1 101 1-49 1 30 1-9 1-80 1 118 1-49 1-5 1 39 1 114 1-159 1 198 1-85 1-62 1-54 1-27 1 0 1 17 1 57 1-98 1 92 1-85 1 207 1-80 1-22 1-36 1 149 1-199 1-9 1 12 1 79 1-120 1 123 1-89 1 62 1-5 1 8 1-10 1-66 1-19 1 0 1 30 1 17 1 13 1-80 1 132 1 12 1-40 1 105 1-89 1-9 1 57 1-27 1-76 1 57 1-18 1-58 1 100 1 31 1-67 1-27 1 136 1-151 1 57 1 8 1 26 1-40 1-67 1 26 1-18 1 70 1-115 1 17 1 79 1 158 1-164 1-160 1 168 1 56 1-164 1 141 1-67 1-14 1 132 1-97 1-63 1 92 1-58 1 39 1-62 1-49 1 176 1-50 1-40 1 61 1 13 1-27 1-5 1 21 1-58 1-27 1 4 1 3 1-31 1 154 1-76 1-18 1-18 1 122 1-203 1 162 1-66 1-27 1-23 1 105 1-9 1-54 1-14 1-18 1 57 1 39 1 39 1-182 1 181 1-120 1 21 1-27 1-9 1-23 1 83 1-27 1 136 1-115 1 52 1-45 1-80 1 66 1-58 1 79 1-36 1 48 1 123 1-107 1-27 1-23 1 8 1 9 1-63 1 17 1 61 1-75 1 167 1-98 1-9 1-85 1 105 1 57 1-98 1-89 1 115 1-10 1 8 1-18 1-71 1-36 1 83 1 35 1-111 1 101 1-1 1 26 1-1 1-36 1 31 1-41 1 22 1-27 1 52 1-10 1-27 1 13 1-5 1-58 1 127 1 48 1-151 1 57 1-93 1 83 1 61 1-195 1 106 1 48 1 17 1-76 1 70 1-58 1-45 1 145 1-58 1-49 1-67 1 44 1 79 1-111 1 105 1-14 1-32 1 88 1-239 1 105 1 57 1 44 1 34 1-84 1-18 1 61 1-14 1-40 1 34 1 101 1-142 1 22 1-27 1 83 1 79 1-50 1-89 1-97 1-19 1 119 1 96 1-62 1-45 1 0 1 21 1-71 1 127 1 70 1-71 1 13 1-191 1 136 1 70 1-115 1-18 1 52 1-9 1-45 1 26 1 70 1-72 1-22 1 34 1-31 1 17 1 48 1-5 1-45 1 66 1-94 1-5 1 181 1-111 1 39 1-5 1-45 1 17 1-40 1 12 1 0 1 61 1-23 1-98 1 216 1-230 1 123 1-93 1 207 1-119 1-71 1 39 1-49 1 106 1-18 1 8 1-66 1 4 1 30 1 9 1 4 1-23 1 57 1-49 1 4 1 22 1 4 1-115 1 119 1-58 1-53 1 35 1 39 1-53 1 132 1-9 1-45 1-9 1-9 1-107 1 13 1 93 1-14 1 61 1-66 1 92 1-150 1 105 1-58 1 102 1-146 1 39 1-71 1 101 1 92 1-44 1 26 1-155 1 119 1 8 1-71 1 18 1-14 1 53 1 83 1-35 1 43 1-185 1 21 1 66 1-53 1-1 1 0 1 9 1-18 1 39 1 128 1 30 1-221 1 39 1 168 1-146 1 57 1-18 1 110 1-182 1 49 1-49 1-14 1-13 1-19 1 75 1 4 1 44 1-62 1 44 1 48 1-129 1 27 1 185 1-45 1-89 1 62 1-137 1 52 1-18 1-22 1-18 1 83 1-44 1 17 1-27 1 13 1-49 1 49 1 57 1-36 1 70 1-80 1-62 1 115 1 52 1-84 1 26 1-27 1 31 1-36 1 57 1-137 1 97 1-40 1-14 1 48 1-31 1 40 1 8 1-9 1-40 1 92 1-18 1-5 1-13 1-89 1 62 1 13 1-23 1-49 1 97 1-93 1 176 1-75 1-124 1-5 1 70 1 35 1-66 1 66 1-102 1 17 1 22 1 83 1-93 1 62 1 0 1 8 1-13 1-32 1-18 1 0 1-137 1 198 1-80 1 97 1-27 1 53 1-124 1 48 1 9 1 13 1-54 1 71 1-45 1-110 1 136 1 26 1 22 1-97 1 39 1 44 1 4 1-44 1 52 1-159 1 119 1 0 1-5 1 87 1-18 1-58 1-18 1 65 1-155 1 66 1-45 1 9 1 70 1-138 1 119 1 105 1 22 1-120 1-45 1 39 1-84 1 105 1-49 1-5 1 88 1-67 1-5 1-36 1-9 1 13 1 92 1-80 1-18 1 52 1-36 1 0 1-23 1 57 1-18 1 13 1 8 1 35 1-18 1 43 1-49 1-45 1 4 1-9 1 44 1-76 1 92 1-62 1 17 1 62 1-5 1-71 1 34 1-13 1-142 1 128 1 21 1-31 1 66 1-19 1-35 1 66 1-41 1 9 1-18 1 96 1-181 1 97 1-36 1 83 1 13 1-71 1 18 1-49 1 79 1 4 1-67 1-18 1-13 1 48 1-13 1 52 1-110 1 8 1 4 1 137 1-128 1 83 1-62 1 4 1-44 1 75 1 4 1 35 1 9 1-89 1 75 1-79 1 53 1 8 1-79 1 4 1 97 1-44 1-9 1-35 1 71 1-13 1-18 1-40 1-13 1 76 1-119 1 66 1 62 1 40 1-53 1 93 1-132 1-17 1-39 1 40 1 115 1-74 1-52 1 150 1-70 1-78 1 31 1 107 1-78 1-30 1-105 1 130 1 24 1-56 1-7 1-11 1-46 1 81 1 69 1-77 1 2 1-50 1 7 1 87 1-81 1-15 1 66 1-59 1 39 1 0 1 17 1-48 1-115 1 147 1 76 1-52 1 19 1-46 1 24 1-147 1 101 1-62 1 146 1-29 1-125 1 215 1-101 1 99 1-177 1 178 1-62 1-3 1 103 1-252 1 172 1-111 1 164 1 64 1-102 1 11 1-185 1 300 1 53 1-53 1-74 1-17 1 116 1-37 1-87 1-65 1 154 1-93 1 294 1-221 1-189 1 20 1-4 1-241 1 236 1 111 1-214 1 114 1 230 1-210 1-19 1 342 1 91 1-49 1-109 1 224 1 31 1-12 1-84 1-4 1 17 1-139 1-104 1 201 1-151 1 30 1-225 1 251 1-66 1-59 1 77 1-101 1-77 1 118 1-115 1-115 1 133 1 7 1 86 1-149 1 82 1-132 1-69 1 57 1 75 1-86 1 60 1 34 1-35 1-44 1 32 1-51 1-91 1 82 1-6 1 74 1-107 1 53 1-36 1 93 1-53 1 133 1-105 1 22 1 10 1-144 1 169 1-74 1 2 1-38 1-25 1 134 1-55 1 11 1-73 1-15 1 69 1 7 1 24 1-72 1-68 1 65 1 55 1 8 1-6 1 47 1-173 1 82 1 21 1-129 1 100 1-62 1 60 1-45 1 52 1 26 1-41 1-18 1-19 1 44 1 25 1 4 1-36 1 43 1-9 1-45 1-5 1 4 1 66 1 35 1-89 1 8 1 22 1-27 1-36 1 53 1-31 1 70 1-40 1 31 1 30 1-97 1 167 1-141 1-44 1 17 1 102 1-93 1 106 1-48 1-120 1 62 1-53 1 115 1 53 1-70 1-106 1 18 1-8 1 62 1-4 1 5 1-163 1 146 1-87 1 97 1-83 1 129 1-30 1-48 1 50 1-13 1-12 1 15 1-109 1 19 1 133 1-166 1 90 1-3 1 7 1-60 1 7 1 64 1-33 1 73 1-177 1 144 1-1 1-9 1-49 1-39 1 63 1-25 1 19 1-94 1 56 1 111 1-185 1 68 1-94 1 150 1-3 1-14 1 79 1-55 1-93 1 41 1 207 1-224 1 74 1-16 1 66 1 10 1 31 1 24 1 97 1-118 1 83 1 19 1 32 1 73 1 11 1 126 1-93 1 25 1 61 1 128 1-218 1 120 1-14 1 12 1 4 1-44 1 22 1-87 1-192 1-12 1-40 1 53 1 63 1-85 1 68 1-334 1-38 1 60 1-50 1-22 1 11 1-84 1 112 1-62 1-38 1 102 1-64 1-115 1 3 1 194 1-240 1 35 1-25 1 57 1-39 1 130 1-66 1 62 1-29 1-103 1-23 1 111 1 41 1-69 1 29 1-81 1 87 1 189 1-137 1 32 1 35 1-48 1 10 1 32 1-100 1 68 1 6 1 20 1-56 1 139 1-125 1 86 1-91 1 7 1 56 1 56 1-37 1-2 1 100 1-59 1 25 1-107 1-15 1 131 1-10 1 43 1-80 1-28 1-50 1 163 1-116 1 61 1 30 1-19 1 21 1-62 1 25 1-62 1 91 1 70 1-45 1-67 1 92 1-36 1-66 1 96 1-111 1 26 1 48 1-27 1 21 1-5 1 0 1-18 1 4 1 34 1 13 1-155 1 159 1-49 1-67 1 8 1 88 1-137 1 9 1 105 1 48 1-93 1 40 1 4 1 26 1-9 1-40 1-40 1 150 1 17 1-172 1 92 1-79 1 30 1-57 1 17 1 57 1-4 1-27 1-22 1 71 1 44 1-84 1 9 1 4 1 40 1-79 1 119 1-66 1-93 1 124 1-79 1-4 1 0 1 111 1-141 1 44 1-21 1 9 1 14 1-62 1-12 1 173 1-57 1-35 1 103 1-189 1 116 1-70 1 15 1 23 1 42 1-34 1-25 1-37 1 50 1 12 1-11 1-85 1 56 1 52 1 31 1-48 1 33 1-29 1-93 1 40 1 29 1-4 1-64 1 170 1-74 1 53 1 6 1 28 1 56 1-14 1 200 1-100 1 29 1 152 1 56 1-124 1 225 1 10 1 51 1 3 1-2 1 65 1-343 1 139 1-150 1-53 1-183 1-39 1-116 1-76 1-50 1-4 1-118 1 131 1-213 1-17 1 5 1 98 1-247 1 185 1-91 1 177 1-107 1 40 1 25 1 5 1-144 1 140 1-3 1-94 1 257 1-165 1 151 1 42 1 18 1 117 1 18 1 5 1-2 1-46 1 10 1 115 1-21 1 15 1 53 1-19 1 44 1-77 1 28 1-34 1-42 1-21 1 22 1 10 1-105 1-2 1-26 1-56 1 13 1-96 1-19 1 58 1-99 1 65 1-127 1-6 1 21 1-71 1-26 1 24 1 135 1-139 1-19 1-49 1 110 1-124 1 18 1-12 1 112 1-30 1-148 1 34 1 65 1-75 1 66 1 55 1 95 1-159 1 94 1-1 1 160 1-54 1-24 1 72 1 70 1 71 1-36 1 87 1 56 1 56 1 85 1 49 1 85 1 29 1 146 1 45 1-10 1 55 1 13 1-91 1 76 1-35 1 15 1-5 1-2 1 12 1-73 1 1 1-115 1-21 1-74 1-88 1-13 1-102 1-27 1-28 1-11 1 14 1 26 1-60 1 27 1-12 1-36 1 71 1 24 1-104 1-76 1 31 1-137 1 261 1-39 1 85 1-73 1-140 1 11 1 135 1-38 1 29 1 25 1-55 1 3 1-19 1-11 1-19 1-32 1 69 1 8 1-10 1-19 1 30 1 39 1-19 1-63 1 88 1-89 1 109 1-98 1 0 1 43 1-10 1 9 1-89 1 100 1 18 1-54 1-36 1 39 1 26 1-58 1 88 1-1 1 26 1-119 1 167 1-45 1-71 1-9 1-62 1 65 1 44 1-89 1 18 1-5 1 4 1 26 1 97 1-18 1-142 1 88 1 92 1-88 1-45 1 31 1 17 1 110 1-111 1 9 1-80 1 75 1 4 1 22 1-18 1-14 1 35 1 17 1 18 1-62 1 21 1 0 1 57 1-31 1 48 1-128 1-9 1 35 1 22 1-22 1 88 1-5 1-115 1 101 1-44 1 30 1 80 1-80 1-67 1-22 1 176 1-44 1-44 1-71 1-9 1-18 1 0 1 92 1 26 1-84 1 53 1-14 1 18 1 4 1-57 1 88 1 30 1-44 1-36 1 18 1-5 1 79 1-48 1-84 1 57 1 22 1-80 1 75 1-58 1 27 1-9 1-27 1-53 1 39 1 97 1 13 1-35 1-5 1-40 1 31 1-9 1 84 1-71 1-27 1-48 1 39 1 31 1 57 1-53 1 0 1 9 1-14 1-13 1 0 1-75 1 141 1 22 1-84 1 70 1-44 1-4 1 30 1-66 1 4 1 22 1-17 1-14 1 53 1-40 1 22 1 5 1 22 1-98 1 62 1 75 1-84 1 132 1-119 1-22 1-31 1 53 1 39 1-114 1 39 1-9 1 67 1-40 1 106 1-97 1 110 1-49 1 23 1-115 1 9 1 66 1-79 1 48 1 89 1-66 1 57 1-79 1-13 1 49 1-71 1-13 1 89 1-66 1 26 1 10 1-88 1 106 1-17 1-13 1-30 1-9 1 76 1-106 1-21 1-8 1 80 1 32 1 23 1-66 1 14 1 1 1 24 1 71 1-91 1-7 1 5 1 46 1-56 1-11 1 46 1-90 1 29 1-15 1-15 1 25 1-14 1-35 1-18 1-17 1 50 1-56 1-28 1 127 1-62 1-30 1-7 1-112 1 27 1 67 1-10 1 71 1-30 1-146 1 186 1-147 1 84 1-29 1-10 1-127 1 109 1-5 1-26 1 240 1-303 1 302 1-43 1-71 1 178 1 78 1-168 1 149 1-50 1 71 1 74 1-101 1 149 1-136 1 195 1 9 1-22 1-64 1 75 1-42 1-134 1 59 1-73 1 30 1 40 1-3 1-68 1-9 1 20 1-10 1-113 1 11 1 27 1 24 1-5 1-123 1 118 1-142 1 133 1 37 1-169 1 97 1-75 1 45 1 29 1-55 1 57 1-36 1 26 1 71 1-97 1 41 1-17 1-25 1 81 1-86 1-3 1-55 1 46 1 20 1 43 1-24 1 55 1-76 1 25 1 7 1-15 1-19 1 7 1 61 1-103 1 56 1-14 1 12 1 43 1-54 1 30 1 17 1-37 1-27 1 3 1 22 1 30 1-10 1-10 1 52 1-89 1 30 1 53 1-111 1-19 1 132 1-45 1 26 1-63 1 84 1-76 1 8 1-31 1 123 1-49 1-23 1-45 1 35 1-27 1 13 1 52 1-31 1 12 1-5 1 26 1-66 1 17 1 88 1-107 1 53 1 39 1-111 1 53 1-19 1 22 1-5 1 70 1-102 1 62 1-32 1 4 1 35 1 13 1-44 1-58 1 75 1-1 1-26 1 26 1-76 1 35 1-79 1 88 1-80 1 110 1-31 1 52 1-26 1-5 1-36 1-31 1 66 1 44 1-53 1 4 1 13 1-53 1-10 1 71 1 0 1 74 1-79 1-58 1 70 1-71 1 9 1 4 1-4 1 30 1-44 1 0 1 26 1 17 1-53 1-9 1 83 1-57 1 31 1-89 1 101 1 13 1 13 1-71 1 75 1-66 1 44 1-71 1-9 1 17 1 119 1-18 1 49 1-208 1 123 1-4 1-18 1-23 1 35 1-13 1 0 1 53 1-120 1 0 1 66 1 9 1-80 1-22 1 92 1-22 1 39 1-26 1 110 1-9 1-106 1 26 1-27 1 13 1-18 1 13 1 18 1-27 1 44 1-80 1 93 1-23 1-53 1 49 1-49 1-18 1 22 1 48 1-88 1 53 1 57 1-115 1 70 1-18 1-9 1 53 1-53 1 79 1-9 1-22 1-97 1 57 1-18 1 61 1-39 1 101 1-71 1-27 1 40 1 53 1-14 1-88 1-27 1 66 1-75 1 114 1-75 1 13 1-31 1 97 1-93 1 31 1 39 1-13 1-9 1-22 1 44 1-1 1-35 1 4 1-18 1-17 1 105 1-66 1-14 1 9 1 44 1-71 1-35 1 70 1 22 1-57 1 26 1 0 1-5 1 26 1-17 1 26 1 48 1-115 1 27 1 17 1-57 1 57 1-49 1 13 1 44 1 35 1-66 1 8 1-26 1 97 1-58 1-13 1-5 1 9 1-5 1 102 1-80 1 13 1 35 1-62 1 18 1 30 1 9 1-66 1 110 1-93 1 40 1-49 1-71 1 35 1 40 1-58 1-13 1 31 1-31 1 61 1-13 1 26 1 9 1-13 1 30 1-26 1-89 1 57 1 36 1-76 1 14 1 92 1-13 1-93 1 62 1 0 1 27 1 22 1-88 1 75 1-49 1-53 1 53 1 27 1-31 1 4 1 36 1-27 1 58 1 22 1-48 1 48 1-44 1-17 1-14 1-61 1 106 1-18 1 0 1 22 1-119 1 111 1-22 1-5 1-97 1 106 1 18 1-79 1 75 1 53 1-123 1 8 1 89 1-4 1-49 1 40 1 18 1-9 1-114 1 26 1 84 1-35 1-13 1 18 1-9 1-70 1 92 1 5 1-26 1 22 1-9 1 1 1 22 1-84 1 71 1-75 1 84 1 1 1-44 1 22 1-44 1 5 1-62 1 204 1-75 1-35 1 5 1-4 1-106 1 190 1-114 1 36 1-9 1-44 1 45 1-30 1-22 1 5 1 120 1-48 1 27 1-22 1-21 1-87 1 106 1-12 1-8 1-65 1 85 1-39 1-16 1 10 1 103 1-25 1-78 1 99 1-60 1 51 1-73 1 21 1 60 1-50 1 34 1-18 1-67 1 40 1 0 1-43 1 63 1-43 1 42 1 6 1 34 1 25 1 17 1-1 1-53 1 13 1 58 1-74 1 85 1-4 1 50 1-13 1-61 1 27 1 48 1-67 1 60 1-2 1-35 1 26 1 37 1 32 1-102 1 153 1-79 1 44 1-54 1-64 1 41 1-4 1-27 1-88 1 13 1 39 1 26 1-18 1-36 1 13 1-12 1 31 1 5 1-20 1-60 1 42 1-148 1 74 1-10 1-18 1 79 1 0 1-39 1-39 1-3 1-47 1 6 1 11 1-7 1 34 1-24 1 42 1 4 1-59 1 105 1-124 1-23 1 96 1-53 1 22 1 43 1-53 1-9 1-22 1 53 1-18 1 27 1-66 1 44 1-44 1 67 1-35 1 40 1-8 1-79 1 53 1-4 1-39 1 67 1-118 1 115 1-21 1-110 1 165 1-149 1 53 1-3 1 63 1-52 1 58 1-100 1 54 1 15 1-8 1-16 1-56 1 28 1 46 1 6 1 2 1-86 1 11 1 73 1 20 1-77 1 25 1-55 1 25 1-28 1-23 1-18 1 61 1-54 1 62 1 26 1-79 1-52 1-17 1 68 1 81 1-117 1 25 1-54 1-36 1 71 1 5 1-28 1 3 1 8 1-86 1 38 1-44 1-15 1-4 1-103 1 51 1-53 1-88 1 40 1 75 1-105 1-29 1-126 1-119 1 91 1-1 1-183 1 176 1-126 1-45 1 31 1-9 1-59 1-168 1 91 1 127 1-119 1-95 1 27 1 64 1 51 1-10 1 10 1 95 1 139 1-53 1-72 1 256 1 76 1-215 1 234 1-16 1-96 1 17 1-12 1 8 1-13 1 73 1 76 1 179 1-314 1 55 1 30 1 65 1 80 1-84 1 53 1 101 1-147 1 174 1-53 1-126 1 167 1-51 1-45 1 71 1 90 1-46 1-19 1 89 1-163 1 68 1-20 1 29 1-2 1 44 1 61 1-111 1 36 1-79 1 146 1-69 1-101 1 183 1-8 1-68 1-78 1 153 1-64 1 11 1 21 1-11 1-76 1 56 1 74 1-32 1-36 1 74 1-32 1-13 1 83 1-199 1 176 1-84 1 14 1 22 1-88 1 58 1 44 1-96 1 31 1 80 1 28 1-123 1 54 1 68 1-101 1 103 1-38 1 11 1 59 1-130 1-144 1 148 1 16 1 33 1-6 1-19 1-15 1 61 1-27 1 17 1-36 1-18 1-9 1 85 1 5 1-61 1 54 1-2 1-29 1 7 1-45 1 132 1-115 1 84 1-56 1 109 1-55 1 31 1-127 1 156 1-111 1 114 1 24 1-72 1-39 1 73 1-35 1 29 1 26 1-85 1 93 1-50 1 135 1-57 1-77 1 100 1 120 1-208 1 8 1 59 1-34 1 25 1-72 1-79 1 47 1 13 1 15 1-64 1 1 1-185 1 165 1-95 1-154 1-54 1-50 1 15 1-136 1 133 1-47 1-77 1-253 1-10 1 112 1 32 1-12 1-214 1 218 1 51 1 110 1-77 1-42 1 157 1 140 1-166 1 166 1-126 1 287 1-50 1-7 1 190 1-124 1-14 1 76 1-26 1 35 1 86 1-93 1 105 1-21 1 35 1-78 1 74 1 2 1 100 1-105 1-64 1 167 1-128 1 20 1 91 1-66 1-70 1 50 1-20 1-37 1 70 1-53 1 98 1-17 1-109 1 7 1 20 1 113 1-59 1 29 1-124 1 145 1-5 1-31 1-39 1 40 1-13 1-26 1 14 1 80 1-25 1-122 1 63 1-74 1 15 1 15 1 46 1-64 1 86 1-113 1 68 1-2 1 42 1 7 1-15 1 11 1 12 1 7 1-50 1-41 1-33 1 52 1 34 1-33 1-45 1 65 1-37 1 26 1 7 1 26 1-50 1 61 1 4 1-54 1-27 1 3 1 4 1 43 1-9 1-49 1-40 1 189 1-159 1 39 1 9 1 26 1-5 1 22 1-62 1 49 1-36 1 54 1-111 1 18 1 76 1-70 1 36 1 18 1-43 1-35 1-30 1 50 1-38 1 19 1-3 1-11 1 99 1-46 1-82 1 122 1-23 1-121 1 127 1-49 1-5 1 22 1-53 1 5 1 71 1-109 1 116 1-16 1-11 1-11 1 60 1-59 1 117 1-76 1 21 1-5 1-23 1-13 1 52 1-31 1 75 1-49 1-58 1 83 1-14 1-10 1-37 1 24 1 27 1 45 1-62 1 158 1-166 1 59 1-75 1 35 1-77 1 98 1 63 1-107 1 17 1-24 1-73 1 98 1-87 1-18 1-17 1 145 1-115 1 35 1-31 1 22 1-31 1-71 1-44 1 44 1 89 1-127 1 116 1-47 1-78 1 77 1-64 1 42 1 42 1-72 1 34 1-115 1-5 1 9 1 123 1-141 1 76 1-12 1 14 1 32 1-34 1-33 1-34 1 42 1 29 1 20 1-7 1-94 1 42 1 21 1 87 1 7 1-120 1 3 1-23 1 39 1 39 1 52 1-40 1 65 1-128 1-9 1-45 1 154 1-22 1-97 1 8 1 111 1-62 1-40 1 23 1-40 1 14 1 31 1-48 1 23 1-61 1 125 1-57 1 19 1-20 1-30 1-11 1 139 1-161 1 33 1 7 1 25 1-41 1 30 1 113 1-49 1-13 1 9 1 13 1-43 1 89 1-7 1 19 1-38 1-11 1 73 1-51 1 56 1-81 1 184 1-94 1-45 1 82 1 48 1 3 1-55 1 59 1-60 1 54 1 36 1 4 1-32 1-19 1 89 1 18 1 4 1-68 1-61 1 103 1-49 1 43 1-59 1 99 1-91 1 76 1-25 1-52 1 18 1-13 1-25 1 5 1-57 1 28 1 58 1-38 1 15 1-7 1-94 1 99 1-85 1-10 1-54 1 105 1-13 1-5 1 27 1-88 1-8 1 164 1-78 1-61 1 86 1-16 1-29 1 2 1 3 1-2 1-73 1 157 1-72 1 25 1-54 1 25 1-32 1 17 1-90 1 141 1-32 1-54 1 48 1-19 1 61 1-84 1 30 1-23 1 57 1-14 1 9 1-94 1 128 1-80 1 8 1-40 1 40 1 48 1-58 1 83 1-101 1 43 1 22 1-9 1-40 1 88 1-128 1 92 1-84 1 53 1-67 1 119 1-80 1 35 1 22 1-53 1 40 1 21 1-22 1 22 1-18 1-4 1-45 1 44 1 27 1-53 1 39 1 22 1 9 1-106 1 71 1-62 1 92 1 5 1-102 1 71 1 0 1 0 1 31 1-71 1 79 1-70 1 66 1-132 1 71 1-14 1 98 1-71 1 36 1 9 1 0 1-62 1 31 1 18 1 5 1 0 1-4 1-9 1 32 1-9 1 49 1-79 1-22 1 40 1-66 1 76 1-31 1-39 1 36 1 36 1-44 1 27 1-52 1 13 1 32 1-26 1-43 1 22 1 10 1 36 1 14 1 5 1-65 1 76 1-56 1-44 1 116 1-74 1 50 1-34 1-25 1 59 1 10 1-38 1-25 1 24 1 20 1-64 1 68 1 11 1-63 1-81 1 104 1-19 1 34 1-18 1 22 1-58 1 36 1 5 1-75 1 103 1-104 1 46 1 34 1-41 1 12 1-26 1 22 1-96 1 41 1-2 1 109 1-36 1-70 1 31 1 32 1 7 1-50 1 153 1-48 1 36 1-127 1 143 1-55 1-76 1 96 1-23 1 22 1-27 1-75 1 204 1-54 1-88 1-32 1 157 1-82 1 49 1 12 1 130 1 22 1-104 1 22 1 2 1 66 1-162 1 100 1-203 1 197 1-45 1-29 1 57 1 34 1-39 1-45 1 20 1-157 1 133 1-84 1-13 1 26 1 62 1-102 1-35 1 36 1 0 1 112 1-69 1-55 1-24 1-36 1 49 1-30 1 58 1-86 1-6 1 39 1-58 1 63 1 5 1-7 1-107 1 166 1-84 1 26 1-17 1 67 1-95 1 6 1 42 1 8 1-19 1-32 1 101 1-114 1 70 1-43 1 67 1-105 1 67 1-56 1 95 1 1 1-64 1 20 1 15 1-28 1 29 1 29 1 60 1 16 1-103 1 3 1 56 1-50 1 29 1-10 1-27 1 87 1-63 1-6 1 26 1-10 1 43 1-40 1-15 1-5 1 48 1-45 1 17 1-14 1 25 1-22 1 17 1-72 1 88 1-45 1 39 1 48 1-62 1-23 1 13 1-1 1 53 1-36 1 52 1-93 1 4 1 83 1-22 1 26 1-14 1-9 1 26 1-23 1-35 1 30 1-31 1 30 1-9 1 39 1-61 1 62 1-23 1 27 1-53 1 49 1-49 1-39 1 48 1 75 1-92 1 22 1-9 1 5 1-22 1 4 1 31 1 36 1-31 1-27 1 80 1-57 1 57 1-84 1-21 1 26 1 40 1-35 1-13 1-9 1 5 1 13 1 58 1-27 1-13 1 14 1 57 1-53 1 18 1-26 1-4 1 53 1-22 1-22 1 36 1-31 1 22 1 0 1-44 1 27 1 14 1-58 1 53 1-9 1-1 1-84 1 66 1-9 1 35 1-31 1-9 1 66 1-49 1-31 1-5 1 44 1-57 1 83 1-48 1 13 1 44 1-58 1 66 1-18 1-18 1 31 1-62 1 44 1 22 1-45 1 9 1 31 1-14 1-40 1 0 1 66 1-71 1 0 1-4 1 43 1 9 1-18 1 18 1-14 1 9 1-5 1 5 1-14 1-4 1 13 1 4 1-58 1 18 1 13 1 39 1-44 1 22 1-18 1 9 1-62 1 66 1 30 1-57 1 0 1-5 1 106 1-49 1 0 1 22 1-49 1-13 1-9 1 4 1 22 1-40 1 35 1 79 1-66 1 13 1-27 1 18 1 0 1-49 1 57 1 18 1-45 1-9 1 22 1-4 1 17 1 18 1-14 1 9 1-62 1 40 1-45 1 40 1 22 1-31 1-1 1-26 1 88 1-44 1-23 1 31 1-22 1 13 1-49 1 5 1 88 1-14 1-18 1-22 1 4 1 9 1-31 1-4 1 21 1 9 1-9 1 22 1-44 1 0 1 48 1-62 1 40 1-27 1 22 1 4 1-22 1 44 1-18 1 26 1-44 1 18 1-1 1 9 1-31 1 9 1 13 1 4 1-57 1 8 1 66 1-57 1 17 1 5 1-5 1 48 1-101 1 13 1 53 1 0 1-5 1 22 1-31 1 14 1 26 1-13 1 4 1 0 1-9 1-22 1 27 1 31 1-80 1 53 1-53 1 31 1-9 1 35 1-22 1 14 1-9 1-13 1 22 1-31 1 57 1-9 1-40 1 0 1-13 1-13 1 26 1-4 1 9 1 4 1 5 1-5 1 18 1-9 1-27 1 9 1-17 1 44 1-5 1-17 1 31 1 0 1-36 1 22 1-31 1 22 1 14 1 13 1-53 1 31 1 18 1 17 1-4 1-22 1-40 1 53 1-31 1 0 1 93 1-53 1-53 1 71 1-80 1 31 1 40 1-88 1 53 1-45 1 36 1 22 1-44 1-18 1 13 1 62 1-44 1 44 1-13 1-53 1 71 1-97 1 101 1-4 1-53 1 22 1 0 1 22 1-44 1 14 1 9 1 17 1 18 1-40 1 58 1-40 1-31 1-4 1 31 1 53 1-79 1-9 1 23 1-31 1 9 1 66 1-35 1 5 1-53 1 14 1 26 1-13 1-8 1 40 1-13 1 0 1 10 1-4 1-13 1 40 1-4 1-48 1-17 1-8 1 89 1-52 1 31 1-3 1-8 1-17 1-4 1 76 1-43 1-43 1 28 1 45 1-16 1-4 1-42 1-17 1 72 1-38 1 19 1-21 1 24 1 23 1-11 1 1 1-51 1 59 1-34 1 36 1-2 1-21 1 23 1-65 1 19 1 63 1-43 1-21 1 66 1-17 1-48 1 58 1-35 1 17 1-9 1 31 1-23 1 8 1-58 1 26 1 12 1 3 1-18 1 56 1-15 1-6 1-1 1 16 1-54 1 25 1-46 1 30 1 7 1-23 1-2 1 17 1-24 1-19 1 43 1-45 1 34 1-27 1 21 1 7 1-18 1 34 1 13 1-41 1 4 1 21 1-84 1 43 1 30 1-35 1-1 1 22 1-5 1 44 1-58 1-44 1 21 1 0 1 44 1 9 1-53 1 17 1 14 1 0 1-36 1 9 1 27 1-9 1 40 1-13 1-49 1 27 1 14 1-35 1-26 1 53 1-13 1-4 1-79 1 41 1 18 1 49 1-65 1 5 1 19 1 18 1-12 1 37 1-43 1 1 1 15 1-20 1 37 1-87 1 38 1 28 1-64 1 7 1 34 1 25 1-46 1-19 1-10 1-14 1 4 1 79 1-58 1 66 1-106 1 18 1-22 1 32 1 0 1 19 1 85 1-105 1-114 1 50 1 59 1-26 1-7 1 40 1-29 1-17 1 35 1-44 1-39 1 17 1 21 1 20 1-42 1 55 1 1 1-97 1 83 1 44 1-104 1 7 1-21 1 54 1-57 1 58 1 39 1-36 1-18 1 61 1-37 1-19 1 30 1-19 1 7 1 35 1-41 1-10 1 109 1-53 1-54 1 17 1 92 1-79 1-40 1 27 1 5 1 36 1-4 1 45 1-38 1-74 1 81 1 33 1-43 1 86 1-139 1 60 1 29 1 7 1 20 1-32 1 7 1 47 1-72 1 43 1 21 1-54 1 8 1 39 1 3 1-49 1 43 1-14 1-31 1 74 1 8 1-18 1-5 1-14 1-26 1 39 1-54 1 40 1 57 1-49 1-18 1-10 1 49 1-18 1-58 1 52 1 31 1 13 1-27 1-18 1 40 1-62 1 52 1 31 1-67 1 18 1 4 1-35 1 48 1-31 1 31 1-53 1 39 1 0 1-13 1 17 1-13 1 18 1-22 1 13 1 18 1-27 1 0 1 40 1-18 1 32 1-40 1-17 1-40 1 53 1-17 1-8 1 18 1 62 1-35 1-17 1 0 1 5 1 27 1 23 1-53 1-17 1 40 1-26 1 27 1-8 1 14 1-35 1 44 1-26 1-17 1 22 1 26 1-35 1 13 1 26 1-26 1 4 1-23 1 26 1-14 1-14 1 57 1-67 1 21 1 26 1-28 1-23 1 39 1-1 1-45 1-5 1-14 1 48 1 21 1-1 1-14 1 13 1-32 1-23 1 57 1-63 1 57 1-5 1 13 1-49 1 21 1-4 1 65 1-53 1-18 1 66 1-107 1 40 1-18 1 30 1-26 1-10 1-31 1 84 1-71 1 70 1-26 1 8 1-4 1 39 1-36 1 18 1-22 1-9 1 4 1 4 1-35 1 26 1-9 1-14 1 31 1-4 1-14 1 22 1-35 1 43 1-13 1 0 1 4 1-4 1 8 1 44 1-79 1 35 1-27 1 40 1-36 1 40 1-62 1 35 1 9 1 52 1-13 1-40 1 4 1 0 1 0 1-35 1 30 1 0 1 9 1 4 1-31 1 18 1 0 1-14 1 4 1-17 1 0 1 48 1-13 1-40 1 30 1-22 1 35 1 31 1-4 1-31 1-9 1-62 1 35 1 4 1-9 1 57 1-35 1 4 1-48 1 61 1 13 1-31 1 5 1-5 1-5 1 0 1 18 1-5 1-62 1 66 1-26 1 35 1 17 1-61 1 17 1-27 1 5 1 17 1 27 1-62 1 39 1-44 1 31 1-5 1 5 1 4 1 13 1-53 1 70 1 13 1-39 1 21 1-39 1 26 1-31 1 26 1 18 1-9 1-22 1 26 1 9 1-18 1-9 1-22 1 17 1-9 1 22 1-44 1-9 1 66 1-22 1 9 1-9 1 13 1 9 1 13 1-18 1-13 1-23 1 13 1 22 1 5 1 17 1-48 1 13 1-13 1 0 1 5 1 13 1 5 1 18 1-9 1-26 1-40 1 62 1-17 1-62 1 66 1 9 1-4 1 5 1 35 1-57 1 58 1-27 1-4 1-17 1 13 1 5 1 9 1-22 1 13 1 9 1 14 1-9 1-22 1 36 1-36 1 1 1-22 1 40 1 4 1-17 1 9 1 49 1-84 1 18 1 4 1 23 1-27 1 14 1-40 1 18 1-13 1 58 1-9 1-8 1 4 1-48 1 27 1 31 1-18 1-48 1 49 1-17 1 48 1-26 1-8 1 4 1-4 1-8 1-18 1 63 1-40 1-13 1 10 1-18 1 27 1 10 1 9 1-39 1 49 1-17 1-8 1-17 1 22 1 14 1-30 1 36 1-8 1 32 1-48 1 1 1 41 1-30 1-16 1 27 1 24 1-35 1-12 1 55 1-61 1 24 1-21 1 45 1-43 1 15 1-8 1 15 1-17 1 28 1 5 1 15 1 9 1-34 1 9 1-4 1 5 1-14 1 5 1 17 1-31 1-31 1 65 1-9 1-23 1 26 1-41 1 39 1 8 1-6 1-45 1 70 1-50 1 48 1-63 1 4 1-6 1-36 1 48 1-27 1 12 1-9 1 39 1-45 1 30 1-40 1 13 1 17 1-13 1 4 1 4 1-54 1 75 1 13 1 0 1-27 1-4 1-13 1-9 1 17 1 0 1 27 1-45 1-8 1 31 1-18 1 31 1-13 1-5 1-17 1 53 1-36 1-17 1 13 1-9 1 71 1-35 1-9 1 9 1 36 1-80 1 22 1 49 1-35 1-9 1-22 1 5 1 40 1-9 1-18 1-17 1 31 1 4 1-26 1 9 1-26 1 17 1-8 1 66 1-13 1 5 1-22 1-22 1 13 1-17 1 31 1-40 1 0 1 62 1-17 1-9 1-35 1 4 1-26 1 80 1-40 1 5 1 4 1-4 1 49 1-58 1 18 1 18 1-62 1 49 1-22 1 22 1 23 1-27 1-17 1 31 1-35 1-31 1 13 1 36 1 9 1-40 1 53 1-8 1-66 1 35 1-4 1 18 1-75 1-9 1 80 1-22 1 27 1-22 1-18 1 0 1 36 1-18 1-57 1 44 1-13 1 23 1 17 1 23 1-5 1 18 1-13 1-4 1-40 1 58 1-53 1 58 1-111 1 80 1-22 1-39 1 48 1-8 1 0 1-9 1 27 1-57 1 13 1 27 1-31 1 35 1 9 1-8 1-18 1 53 1-30 1-22 1 40 1-36 1 36 1-35 1 9 1-13 1 26 1 31 1 18 1-163 1 133 1-13 1 17 1-79 1 18 1-4 1 53 1-57 1 44 1-53 1 36 1 57 1-57 1 22 1-92 1 101 1-26 1 0 1 14 1-5 1-17 1-13 1 22 1-4 1-9 1 27 1-22 1-9 1-26 1 9 1 4 1-13 1 49 1-53 1 40 1-4 1 4 1-30 1 35 1-31 1 23 1 4 1-22 1 31 1-57 1 53 1-4 1-49 1 76 1-67 1 23 1 0 1-5 1 31 1-74 1 31" vector-effect="non-scaling-stroke" fill="none" stroke="#808080" stroke-width="1.6" stroke-linejoin="round"/><path transform="translate(1077.70,0) scale(0.17510,0.1)" d="M0 10774l2 0 2 1 2 2 2 1 2 2 2 1 2 2 2 1 2 2 2 1 2 2 2 1 2 2 2 1 2 2 2 1 2 2 2 2 2 1 2 2 2 1 2 2 2 1 2 2 2 1 2 2 2 1 2 2 2 1 2 2 2 1 2 2 2 1 2 2 2 1 2 2 2 1 2 2 2 1 2 2 2 1 2 2 2 1 2 2 2 1 2 2 2 1 2 2 2 1 2 2 2 1 2 2 2 1 2 2 2 1 2 2 2 1 2 2 2 2 2 2 2 2 2 1 2 2 2 2 2 2 2 2 2 2 2 2 2 2 2 2 2 2 2 1 2 2 2 2 2 2 2 2 2 2 2 2 2 2 2 2 2 2 2 1 2 2 2 2 2 2 2 2 2 2 2 2 2 2 2 2 2 2 2 1 2 2 2 2 2 2 2 2 2 2 2 2 2 2 2 2 2 1 2 2 2 2 2 2 2 2 2 2 2 2 2 2 2 2 2 2 2 1 2 2 2 2 2 2 2 2 2 2 2 2 2 1 2 2 2 2 2 1 2 2 2 2 2 2 2 1 2 2 2 2 2 2 2 1 2 2 2 2 2 2 2 1 2 2 2 2 2 2 2 1 2 2 2 2 2 2 2 1 2 2 2 2 2 2 2 1 2 2 2 2 2 1 2 2 2 2 2 2 2 1 2 2 2 2 2 2 2 1 2 2 2 2 2 2 2 1 2 2 2 2 2 1 2 2 2 2 2 2 2 1 2 2 2 2 2 1 2 2 2 2 2 1 2 2 2 2 2 1 2 2 2 1 2 2 2 1 2 2 2 1 2 2 2 1 2 2 2 1 2 2 2 1 2 2 2 1 2 2 2 1 2 2 2 1 2 2 2 1 2 2 2 1 2 1 2 2 2 1 2 1 2 2 2 1 2 1 2 2 2 1 2 1 2 1 2 1 2 1 2 1 2 1 2 1 2 1 2 0 2 1 2 0 2 0 2 0 2-1 2-1 2-1 2-2 2-3 2-4 2-6 2-8 2-12 2-17 2-24 2-32 2-40 2-50 2-57 2-61 2-57 2-42 2-15 2 18 2 45 2 60 2 63 2 60 2 52 2 44 2 34 2 26 2 20 2 15 2 12 2 8 2 7 2 6 2 4 2 4 2 4 2 4 2 3 2 3 2 2 2 3 2 2 2 2 2 3 2 2 2 2 2 2 2 2 2 1 2 2 2 2 2 2 2 2 2 1 2 2 2 2 2 1 2 1 2 2 2 1 2 1 2 2 2 1 2 1 2 2 2 1 2 1 2 2 2 1 2 1 2 2 2 1 2 1 2 1 2 2 2 1 2 1 2 1 2 2 2 1 2 1 2 1 2 1 2 2 2 1 2 1 2 1 2 2 2 1 2 1 2 1 2 1 2 2 2 1 2 1 2 1 2 1 2 2 2 1 2 1 2 1 2 1 2 2 2 1 2 1 2 1 2 1 2 2 2 1 2 1 2 1 2 1 2 2 2 1 2 1 2 1 2 1 2 2 2 1 2 1 2 1 2 1 2 1 2 2 2 1 2 1 2 1 2 1 2 2 2 1 2 1 2 1 2 1 2 1 2 2 2 1 2 1 2 1 2 1 2 2 2 1 2 1 2 2 2 1 2 1 2 1 2 2 2 1 2 1 2 1 2 2 2 1 2 1 2 2 2 1 2 1 2 1 2 2 2 1 2 1 2 1 2 2 2 1 2 1 2 1 2 2 2 1 2 1 2 2 2 1 2 1 2 1 2 2 2 1 2 1 2 1 2 2 2 1 2 1 2 1 2 2 2 1 2 1 2 2 2 1 2 1 2 1 2 2 2 1 2 1 2 1 2 2 2 1 2 1 2 1 2 2 2 1 2 1 2 1 2 2 2 1 2 1 2 2 2 1 2 1 2 1 2 2 2 1 2 1 2 1 2 2 2 1 2 1 2 1 2 2 2 1 2 1 2 1 2 2 2 1 2 1 2 1 2 2 2 1 2 1 2 1 2 2 2 1 2 1 2 1 2 2 2 1 2 1 2 1 2 1 2 0 2 1 2 1 2 1 2 0 2 1 2 1 2 1 2 0 2 1 2 1 2 1 2 0 2 1 2 1 2 1 2 0 2 1 2 1 2 0 2 1 2 1 2 1 2 0 2 1 2 1 2 1 2 0 2 1 2 1 2 1 2 0 2 1 2 1 2 0 2 1 2 1 2 1 2 0 2 1 2 1 2 0 2 1 2 1 2 1 2 0 2 1 2 1 2 0 2 1 2 1 2 1 2 0 2 1 2 1 2 0 2 1 2 1 2 0 2 1 2 1 2 1 2 0 2 1 2 1 2 0 2 1 2 1 2 0 2 1 2 1 2 0 2 1 2 1 2 0 2 1 2 1 2 0 2 1 2 1 2 0 2 1 2 1 2 0 2 1 2 1 2 0 2 1 2 0 2 1 2 1 2 0 2 1 2 1 2 1 2 1 2 1 2 2 2 1 2 1 2 1 2 1 2 1 2 1 2 2 2 1 2 1 2 1 2 1 2 1 2 1 2 1 2 1 2 1 2 1 2 1 2 1 2 1 2 1 2 1 2 1 2 1 2 1 2 1 2 0 2 1 2 1 2 1 2 1 2 0 2 1 2 1 2 1 2 0 2 1 2 0 2 1 2 0 2 1 2 0 2 1 2 0 2 0 2 0 2 0 2 0 2 0 2 0 2 0 2 0 2-1 2 0 2-1 2-1 2-1 2-1 2-1 2-1 2-2 2-2 2-3 2-4 2-4 2-4 2-4 2-6 2-5 2-6 2-7 2-8 2-9 2-10 2-11 2-12 2-14 2-17 2-20 2-24 2-29 2-36 2-46 2-58 2-74 2-96 2-120 2-151 2-185 2-222 2-260 2-294 2-321 2-334 2-321 2-275 2-189 2-67 2 68 2 189 2 276 2 322 2 333 2 322 2 295 2 260 2 223 2 185 2 152 2 121 2 96 2 75 2 59 2 46 2 36 2 30 2 24 2 21 2 17 2 15 2 13 2 11 2 10 2 10 2 8 2 7 2 7 2 6 2 6 2 5 2 4 2 4 2 4 2 4 2 3 2 3 2 3 2 3 2 2 2 2 2 2 2 2 2 2 2 1 2 2 2 1 2 1 2 1 2 1 2 1 2 1 2 1 2 1 2 0 2 1 2 0 2 0 2 0 2 0 2 0 2 0 2 0 2-1 2-1 2-1 2-1 2-1 2-1 2-2 2-2 2-2 2-3 2-3 2-3 2-4 2-5 2-5 2-6 2-8 2-9 2-11 2-14 2-16 2-21 2-25 2-31 2-37 2-46 2-53 2-62 2-72 2-82 2-89 2-97 2-101 2-101 2-96 2-83 2-62 2-32 2 0 2 34 2 63 2 84 2 97 2 102 2 103 2 97 2 91 2 83 2 73 2 64 2 54 2 46 2 39 2 32 2 27 2 21 2 18 2 15 2 12 2 11 2 9 2 7 2 7 2 6 2 5 2 5 2 4 2 4 2 3 2 4 2 3 2 2 2 3 2 3 2 2 2 2 2 2 2 2 2 2 2 1 2 2 2 1 2 2 2 1 2 1 2 1 2 2 2 1 2 1 2 1 2 0 2 1 2 1 2 1 2 1 2 0 2 1 2 0 2 1 2 0 2 1 2 0 2 0 2 0 2 0 2 0 2 0 2 0 2 0 2 0 2-1 2-1 2 0 2-1 2-2 2-1 2-2 2-2 2-2 2-3 2-4 2-4 2-5 2-6 2-8 2-11 2-15 2-21 2-29 2-43 2-59 2-79 2-102 2-124 2-138 2-135 2-105 2-41 2 39 2 104 2 135 2 136 2 122 2 100 2 78 2 56 2 39 2 24 2 15 2 5 2-2 2-9 2-17 2-26 2-34 2-41 2-48 2-48 2-41 2-24 2 2 2 27 2 44 2 52 2 51 2 46 2 39 2 31 2 23 2 18 2 12 2 8 2 5 2 3 2 1 2 0 2-2 2-4 2-6 2-9 2-13 2-18 2-27 2-37 2-50 2-65 2-82 2-97 2-107 2-109 2-92 2-55 2 1 2 57 2 94 2 110 2 110 2 99 2 83 2 68 2 52 2 39 2 29 2 21 2 16 2 12 2 9 2 7 2 6 2 5 2 5 2 4 2 3 2 3 2 3 2 2 2 2 2 3 2 1 2 2 2 2 2 1 2 2 2 1 2 1 2 1 2 1 2 2 2 1 2 1 2 0 2 1 2 1 2 1 2 1 2 1 2 0 2 1 2 1 2 0 2 1 2 1 2 0 2 1 2 1 2 0 2 1 2 0 2 1 2 0 2 1 2 1 2 0 2 1 2 0 2 1 2 0 2 1 2 0 2 0 2 1 2 0 2 1 2 0 2 1 2 0 2 0 2 1 2 0 2 1 2 0 2 0 2 1 2 0 2 0 2 1 2 0 2 0 2 1 2 0 2 0 2 0 2 1 2 0 2 0 2 0 2 1 2 0 2 0 2 0 2 0 2 1 2 0 2 0 2 0 2 0 2 1 2 0 2 0 2 0 2 0 2 0 2 0 2 0 2-1 2 0 2 0 2-1 2 0 2-1 2 0 2-1 2-1 2-1 2-1 2-2 2-1 2-2 2-2 2-3 2-3 2-3 2-4 2-4 2-6 2-7 2-8 2-11 2-13 2-16 2-21 2-25 2-31 2-37 2-44 2-52 2-58 2-66 2-70 2-74 2-73 2-68 2-56 2-36 2-13 2 14 2 38 2 57 2 68 2 75 2 75 2 72 2 66 2 60 2 53 2 45 2 38 2 32 2 27 2 21 2 18 2 14 2 12 2 9 2 8 2 7 2 6 2 5 2 5 2 4 2 3 2 4 2 3 2 2 2 3 2 2 2 2 2 3 2 2 2 1 2 2 2 2 2 1 2 2 2 1 2 2 2 1 2 1 2 2 2 1 2 1 2 1 2 1 2 1 2 1 2 1 2 1 2 1 2 1 2 1 2 1 2 1 2 1 2 1 2 0 2 1 2 0 2 1 2 1 2 0 2 1 2 0 2 1 2 1 2 0 2 1 2 0 2 1 2 0 2 1 2 0 2 1 2 0 2 1 2 0 2 1 2 0 2 1 2 0 2 1 2 0 2 1 2 0 2 1 2 0 2 0 2 1 2 0 2 1 2 0 2 1 2 0 2 1 2 0 2 0 2 1 2 0 2 1 2 0 2 1 2 0 2 0 2 1 2 0 2 1 2 0 2 0 2 1 2 0 2 1 2 0 2 0 2 1 2 0 2 1 2 0 2 0 2 1 2 0 2 0 2 1 2 0 2 1 2 0 2 0 2 1 2 0 2 0 2 1 2 0 2 1 2 0 2 0 2 1 2 0 2 0 2 1 2 0 2 0 2 1 2 0 2 0 2 1 2 0 2 0 2 1 2 0 2 0 2 1 2 0 2 0 2 1 2 0 2 0 2 1 2 0 2 0 2 0 2 1 2 0 2-1 2 0 2 0 2 0 2 0 2 0 2 0 2 0 2 0 2-1 2 0 2 0 2 0 2 0 2 0 2-1 2 0 2 0 2 0 2-1 2 0 2 0 2 0 2-1 2 0 2 0 2-1 2 0 2 0 2-1 2 0 2-1 2 0 2-1 2 0 2-1 2-1 2 0 2-1 2-1 2-1 2-1 2-1 2-1 2-2 2-2 2-1 2-3 2-2 2-3 2-4 2-4 2-5 2-6 2-7 2-9 2-9 2-12 2-13 2-14 2-16 2-18 2-19 2-19 2-20 2-18 2-17 2-13 2-9 2-3 2 2 2 8 2 13 2 16 2 18 2 18 2 19 2 18 2 16 2 16 2 13 2 12 2 11 2 9 2 7 2 6 2 5 2 4 2 4 2 2 2 2 2 1 2 1 2 1 2 0 2 0 2 0 2-1 2 0 2-1 2-1 2-2 2-1 2-2 2-1 2-2 2-2 2-2 2-3 2-2 2-3 2-4 2-3 2-5 2-4 2-5 2-6 2-7 2-7 2-8 2-9 2-10 2-12 2-14 2-16 2-19 2-23 2-28 2-34 2-43 2-53 2-67 2-84 2-104 2-127 2-151 2-179 2-203 2-225 2-237 2-231 2-201 2-139 2-51 2 50 2 139 2 201 2 231 2 236 2 225 2 203 2 178 2 151 2 127 2 103 2 83 2 67 2 53 2 42 2 34 2 27 2 22 2 19 2 15 2 13 2 11 2 10 2 8 2 7 2 6 2 6 2 4 2 4 2 3 2 3 2 2 2 2 2 1 2 1 2 0 2 0 2-1 2-1 2-1 2-2 2-2 2-3 2-3 2-4 2-4 2-5 2-6 2-7 2-7 2-8 2-9 2-11 2-12 2-14 2-16 2-18 2-21 2-25 2-29 2-35 2-40 2-47 2-55 2-64 2-75 2-86 2-98 2-112 2-124 2-137 2-148 2-158 2-162 2-160 2-149 2-128 2-94 2-49 2 0 2 51 2 95 2 128 2 151 2 161 2 163 2 159 2 149 2 138 2 126 2 112 2 99 2 88 2 75 2 66 2 56 2 49 2 41 2 36 2 30 2 26 2 23 2 19 2 18 2 15 2 13 2 12 2 11 2 10 2 9 2 8 2 7 2 7 2 6 2 6 2 5 2 5 2 5 2 4 2 4 2 4 2 3 2 3 2 3 2 2 2 3 2 2 2 2 2 2 2 2 2 1 2 1 2 1 2 1 2 1 2 0 2 1 2 0 2-1 2 0 2-1 2-2 2-2 2-3 2-3 2-4 2-5 2-5 2-7 2-7 2-9 2-10 2-11 2-13 2-13 2-15 2-15 2-17 2-16 2-18 2-16 2-16 2-15 2-12 2-9 2-5 2-2 2 3 2 7 2 10 2 13 2 16 2 17 2 18 2 18 2 19 2 17 2 17 2 16 2 15 2 13 2 13 2 11 2 10 2 9 2 8 2 7 2 6 2 5 2 5 2 4 2 3 2 3 2 3 2 2 2 1 2 2 2 1 2 1 2 0 2 0 2 0 2 0 2-1 2-1 2-1 2-2 2-3 2-3 2-4 2-5 2-6 2-7 2-8 2-10 2-10 2-12 2-12 2-14 2-15 2-15 2-15 2-15 2-13 2-12 2-9 2-6 2-1 2 2 2 7 2 10 2 13 2 15 2 16 2 16 2 16 2 16 2 15 2 14 2 12 2 12 2 10 2 10 2 8 2 7 2 6 2 6 2 4 2 4 2 4 2 3 2 3 2 2 2 2 2 2 2 1 2 2 2 1 2 1 2 1 2 1 2 1 2 1 2 0 2 1 2 1 2 0 2 1 2 1 2 0 2 1 2 0 2 0 2 1 2 0 2 0 2 1 2 0 2 0 2 0 2 0 2 0 2 0 2 0 2 0 2 0 2 0 2 0 2-1 2 0 2-1 2 0 2-1 2 0 2-1 2-1 2 0 2-1 2-1 2-1 2-1 2-2 2-1 2-1 2-2 2-2 2-2 2-2 2-3 2-2 2-4 2-3 2-4 2-5 2-5 2-6 2-7 2-9 2-9 2-11 2-13 2-14 2-17 2-19 2-22 2-24 2-27 2-30 2-33 2-36 2-38 2-41 2-42 2-44 2-45 2-43 2-41 2-38 2-32 2-24 2-15 2-5 2 5 2 16 2 25 2 32 2 38 2 41 2 44 2 45 2 44 2 43 2 42 2 38 2 37 2 33 2 30 2 28 2 24 2 22 2 20 2 17 2 15 2 13 2 12 2 10 2 8 2 8 2 7 2 5 2 5 2 5 2 4 2 3 2 4 2 3 2 2 2 3 2 2 2 2 2 2 2 2 2 2 2 1 2 2 2 1 2 1 2 2 2 1 2 1 2 1 2 1 2 1 2 1 2 1 2 1 2 1 2 1 2 0 2 1 2 0 2 0 2 0 2-1 2 0 2 0 2 0 2 0 2-1 2 0 2 0 2 0 2-1 2 0 2 0 2 0 2-1 2 0 2 0 2-1 2 0 2-1 2 0 2 0 2-1 2 1 2 0 2 1 2 0 2 1 2 0 2 0 2 1 2 0 2 1 2 0 2 1 2 0 2 0 2 1 2 0 2 1 2 0 2 0 2 1 2 0 2 1 2 0 2 0 2 1 2 0 2 0 2 1 2 0 2 1 2 0 2 0 2 1 2 0 2 0 2 1 2 0 2 0 2 1 2 0 2 0 2 1 2 0 2 0 2 1 2 0 2 0 2 1 2 0 2 0 2 1 2 0 2 0 2 1 2 0 2 0 2 1 2 0 2 0 2 1 2 0 2 0 2 1 2 0 2 0 2 0 2 1 2 0 2 0 2 1 2 0 2 0 2 1 2 0 2 0 2 0 2 0 2 0 2 0 2 0 2 0 2 0 2 0 2 1 2 0 2 0 2 0 2 0 2 0 2 0 2 0 2 0 2 0 2 0 2 0 2 0 2 0 2 0 2 0 2 0 2 0 2 0 2 0 2 0 2 0 2 0 2 0 2 0 2 0 2 0 2 0 2 0 2 0 2 0 2-1 2 0 2 0 2 0 2 0 2 0 2 0 2 0 2 0 2-1 2 0 2 0 2 0 2-1 2 0 2 0 2-1 2 0 2-1 2 0 2-1 2-1 2-1 2-1 2-1 2-2 2-1 2-2 2-2 2-2 2-2 2-3 2-2 2-3 2-3 2-3 2-3 2-3 2-3 2-2 2-3 2-2 2-2 2-1 2-1 2 0 2 0 2 2 2 1 2 2 2 3 2 3 2 2 2 3 2 3 2 3 2 3 2 2 2 3 2 2 2 2 2 2 2 1 2 2 2 1 2 1 2 1 2 1 2 0 2 1 2 0 2 0 2 0 2 0 2 0 2 0 2-1 2 0 2-1 2-1 2-1 2-1 2-2 2-2 2-2 2-3 2-3 2-4 2-4 2-5 2-5 2-6 2-7 2-8 2-8 2-9 2-10 2-10 2-11 2-11 2-11 2-12 2-10 2-10 2-8 2-6 2-4 2-1 2 1 2 4 2 7 2 8 2 10 2 10 2 12 2 11 2 11 2 11 2 11 2 10 2 9 2 9 2 7 2 7 2 7 2 5 2 5 2 5 2 4 2 3 2 3 2 2 2 2 2 2 2 2 2 1 2 2 2 1 2 1 2 1 2 0 2 1 2 1 2 1 2 1 2 0 2 1 2 0 2 1 2 0 2 1 2 0 2 1 2 0 2 0 2 0 2 0 2 0 2 0 2-1 2 0 2-1 2 0 2-1 2-1 2-1 2-1 2-1 2-1 2-1 2-1 2 0 2-1 2 0 2 1 2 0 2 1 2 2 2 1 2 2 2 2 2 1 2 2 2 2 2 1 2 2 2 1 2 2 2 1 2 1 2 1 2 1 2 1 2 0 2 1 2 1 2 0 2 1 2 0 2 1 2 0 2 0 2 1 2 0 2 1 2 0 2 0 2 1 2 0 2 0 2 1 2 0 2 0 2 1 2 0 2 0 2 1 2 0 2 0 2 0 2 1 2 0 2 0 2 1 2 0 2 0 2 0 2 1 2 0 2 0 2 1 2 0 2 0 2 0 2 1 2 0 2 0 2 0 2 1 2 0 2 0 2 1 2 0 2 0 2 0 2 1 2 0 2 0 2 0 2 1 2 0 2 0 2 0 2 1 2 0 2 0 2 0 2 1 2 0 2 0 2 0 2 1 2 0 2 0 2 0 2 1 2-1 2 0 2 0 2-1 2 0 2-1 2 0 2 0 2-1 2 0 2 0 2-1 2 0 2 0 2-1 2 0 2-1 2 0 2 0 2-1 2 0 2-1 2 0 2 0 2-1 2 0 2-1 2 0 2-1 2 0 2-1 2 0 2-1 2-1 2 0 2-1 2-1 2-1 2-1 2-1 2-2 2-1 2-2 2-2 2-2 2-2 2-2 2-2 2-3 2-3 2-2 2-3 2-2 2-2 2-2 2-1 2-1 2 0 2 1 2 1 2 1 2 2 2 2 2 2 2 2 2 2 2 1 2 2 2 1 2 2 2 1 2 1 2 1 2 0 2 1 2 0 2 1 2 0 2 0 2 0 2 0 2 0 2 0 2 0 2 0 2-1 2 0 2 0 2 0 2 0 2-1 2 0 2 0 2 0 2-1 2 0 2 0 2-1 2 0 2 0 2 0 2-1 2 0 2 0 2-1 2 0 2 0 2-1 2 0 2 0 2 0 2-1 2 0 2 0 2-1 2 0 2 0 2-1 2 0 2 0 2-1 2 0 2 0 2-1 2 0 2 0 2-1 2 0 2 0 2-1 2 0 2 0 2-1 2 0 2 0 2-1 2 0 2 0 2-1 2 0 2 0 2 0 2-1 2 0 2 0 2-1 2 0 2 0 2-1 2 0 2 0 2-1 2 0 2 0 2-1 2 0 2 0 2-1 2 0 2 0 2-1 2 0 2 0 2-1 2 0 2 0 2-1 2 0 2 0 2-1 2 0 2 0 2 0 2-1 2 0" vector-effect="non-scaling-stroke" fill="none" stroke="#ff0000" stroke-width="3" stroke-linejoin="round"/><path d="M1161.2 1394.5V1381.5M1306.6 1394.5V1381.5M1340.4 1394.5V1381.5M1342.8 1394.5V1381.5M1344.4 1394.5V1381.5M1376.9 1394.5V1381.5M1384.5 1394.5V1381.5M1395.9 1394.5V1381.5M1448.7 1394.5V1381.5M1530.9 1394.5V1381.5M1557.8 1394.5V1381.5M1583.7 1394.5V1381.5M1613.0 1394.5V1381.5M1618.8 1394.5V1381.5M1636.8 1394.5V1381.5M1668.3 1394.5V1381.5M1677.2 1394.5V1381.5M1761.1 1394.5V1381.5M1782.8 1394.5V1381.5M1786.3 1394.5V1381.5M1807.3 1394.5V1381.5M1821.7 1394.5V1381.5M1857.8 1394.5V1381.5M1859.3 1394.5V1381.5" stroke="#2020f4" stroke-width="2.2"/><path d="M1077.7 821.8V1396.0H1900.7" fill="none" stroke="#000" stroke-width="2.9" stroke-linecap="round" stroke-linejoin="miter"/><path d="M1077.7 1396.0v6.5M1252.8 1396.0v6.5M1427.9 1396.0v6.5M1603.0 1396.0v6.5M1778.1 1396.0v6.5M1121.5 1396.0v4.0M1165.2 1396.0v4.0M1209.0 1396.0v4.0M1296.6 1396.0v4.0M1340.4 1396.0v4.0M1384.1 1396.0v4.0M1471.7 1396.0v4.0M1515.5 1396.0v4.0M1559.2 1396.0v4.0M1646.8 1396.0v4.0M1690.6 1396.0v4.0M1734.3 1396.0v4.0M1821.9 1396.0v4.0M1865.7 1396.0v4.0M1077.7 1395.1h-6.5M1077.7 1306.9h-6.5M1077.7 1218.6h-6.5M1077.7 1130.3h-6.5M1077.7 1042.1h-6.5M1077.7 953.8h-6.5M1077.7 865.6h-6.5M1077.7 1373.1h-4.0M1077.7 1351.0h-4.0M1077.7 1328.9h-4.0M1077.7 1284.8h-4.0M1077.7 1262.7h-4.0M1077.7 1240.7h-4.0M1077.7 1196.5h-4.0M1077.7 1174.5h-4.0M1077.7 1152.4h-4.0M1077.7 1108.3h-4.0M1077.7 1086.2h-4.0M1077.7 1064.1h-4.0M1077.7 1020.0h-4.0M1077.7 997.9h-4.0M1077.7 975.9h-4.0M1077.7 931.8h-4.0M1077.7 909.7h-4.0M1077.7 887.6h-4.0M1077.7 843.5h-4.0" stroke="#000" stroke-width="2.9" fill="none"/><text x="1078.2" y="1431.5" font-size="30" text-anchor="middle">20</text><text x="1253.3" y="1431.5" font-size="30" text-anchor="middle">30</text><text x="1428.4" y="1431.5" font-size="30" text-anchor="middle">40</text><text x="1603.5" y="1431.5" font-size="30" text-anchor="middle">50</text><text x="1778.6" y="1431.5" font-size="30" text-anchor="middle">60</text><text x="1059.7" y="877.5" font-size="30" text-anchor="end">800</text><text x="1059.7" y="965.7" font-size="30" text-anchor="end">600</text><text x="1059.7" y="1054.0" font-size="30" text-anchor="end">400</text><text x="1059.7" y="1142.2" font-size="30" text-anchor="end">200</text><text x="1059.7" y="1230.5" font-size="30" text-anchor="end">0</text><text x="1059.7" y="1318.8" font-size="30" text-anchor="end">-200</text><text x="988.2" y="1484" font-size="40">(c)</text><text x="1304.4" y="1486.4" font-size="40" letter-spacing="-0.4">Diffraction angle</text><text x="1579.0" y="1486.4" font-size="40">2</text><text x="1602.4" y="1486.4" font-size="42" font-style="italic">θ</text><text x="1629.2" y="1486.4" font-size="40">(°)</text><text transform="translate(1008.5,1230.5) rotate(-90)" font-size="39.5">Intensity (counts)</text></svg></body></html>
